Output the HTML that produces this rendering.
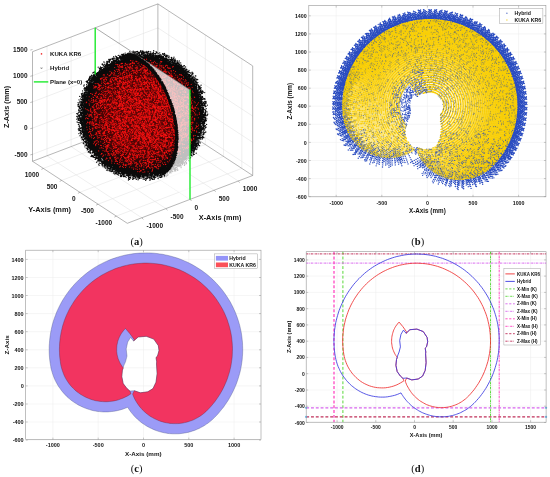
<!DOCTYPE html>
<html><head><meta charset="utf-8"><title>Workspace comparison</title>
<style>html,body{margin:0;padding:0;background:#fff}svg{display:block}text{fill:#141414}</style></head><body>
<svg width="550" height="477" viewBox="0 0 550 477" font-family="'Liberation Sans', sans-serif" font-weight="bold">
<rect width="550" height="477" fill="#fff"/>
<g id="pc">
<path d="M52.9 250.2V439.6M98.2 250.2V439.6M143.5 250.2V439.6M188.8 250.2V439.6M234.1 250.2V439.6M25.7 440.1H261M25.7 422H261M25.7 404H261M25.7 385.9H261M25.7 367.8H261M25.7 349.8H261M25.7 331.7H261M25.7 313.6H261M25.7 295.5H261M25.7 277.5H261M25.7 259.4H261" stroke="#ececec" stroke-width="0.5" fill="none"/>
<path d="M127.7 407.3L125.8 408L123.8 408.8L121.9 409.4L119.9 410L117.9 410.5L115.9 410.9L113.9 411.3L111.9 411.5L109.8 411.7L107.8 411.9L105.7 411.9L103.7 411.9L101.6 411.8L99.6 411.6L97.6 411.4L95.5 411.1L93.5 410.7L91.5 410.2L89.6 409.6L87.6 409L85.7 408.3L83.8 407.6L81.9 406.7L80 405.8L78.2 404.9L76.5 403.8L74.7 402.7L73 401.6L71.4 400.4L69.8 399.1L68.2 397.8L66.7 396.4L65.3 394.9L63.9 393.4L62.6 391.9L61.3 390.3L60.1 388.6L58.9 386.9L57.8 385.2L56.8 383.4L55.8 381.6L54.9 379.8L54.1 377.9L53.4 376L52.7 374.1L52.1 372.1L51.5 370.2L51 368.2L50.7 366.2L50.7 366.2L50.2 363.3L49.8 360.5L49.5 357.7L49.3 354.8L49.2 352L49.2 349.2L49.2 346.3L49.4 343.5L49.6 340.6L49.9 337.8L50.3 335L50.7 332.2L51.3 329.4L51.9 326.6L52.6 323.8L53.4 321.1L54.3 318.4L55.3 315.7L56.3 313.1L57.4 310.4L58.6 307.9L59.9 305.3L61.2 302.8L62.6 300.3L64.1 297.9L65.7 295.5L67.3 293.2L69 290.9L70.8 288.6L72.6 286.5L74.5 284.3L76.5 282.2L78.5 280.2L80.6 278.3L82.7 276.4L84.9 274.6L87.1 272.8L89.4 271.1L91.7 269.5L94.1 267.9L96.6 266.4L99 265L101.6 263.7L104.1 262.4L106.7 261.2L109.3 260.1L112 259L114.7 258.1L117.4 257.2L120.1 256.4L122.9 255.7L125.7 255L128.5 254.5L131.3 254L134.1 253.6L137 253.3L139.8 253.1L142.7 253L145.5 252.9L148.4 252.9L151.2 253L154.1 253.2L156.9 253.5L159.7 253.9L162.6 254.3L165.4 254.9L168.2 255.5L170.9 256.2L173.7 257L176.4 257.8L179.1 258.7L181.8 259.8L184.4 260.9L187 262L189.6 263.3L192.1 264.6L194.6 266L197 267.5L199.4 269L201.8 270.6L204.1 272.3L206.4 274L208.6 275.8L210.7 277.7L212.8 279.6L214.8 281.6L216.8 283.7L218.7 285.8L220.6 288L222.4 290.2L224.1 292.5L225.7 294.8L227.3 297.2L228.8 299.6L230.3 302L231.6 304.5L232.9 307.1L234.1 309.7L235.3 312.3L236.3 314.9L237.3 317.6L238.2 320.3L239 323L239.8 325.8L240.4 328.5L241 331.3L241.5 334.1L241.9 337L242.2 339.8L242.5 342.6L242.6 345.5L242.7 348.3L242.7 351.2L242.6 354L242.4 356.8L242.2 359.7L241.8 362.5L241.4 365.3L240.9 368.1L240.3 370.9L239.6 373.7L238.8 376.4L238 379.1L237.1 381.8L236.1 384.5L235 387.1L233.8 389.7L232.6 392.3L231.3 394.8L229.9 397.3L228.5 399.8L226.9 402.2L225.3 404.5L223.7 406.9L221.9 409.1L220.1 411.3L218.3 413.5L216.4 415.6L214.4 417.6L214.4 417.6L213.1 418.8L211.9 420L210.6 421.1L209.3 422.1L207.9 423.2L206.5 424.1L205.1 425.1L203.7 426L202.2 426.8L200.7 427.6L199.2 428.4L197.6 429.1L196 429.8L194.5 430.4L192.8 430.9L191.2 431.5L189.6 431.9L187.9 432.4L186.3 432.7L184.6 433L182.9 433.3L181.2 433.5L179.5 433.7L177.8 433.8L176.1 433.8L174.4 433.8L172.7 433.8L171 433.7L169.3 433.6L167.6 433.4L166 433.1L164.3 432.8L162.6 432.4L161 432L159.3 431.6L157.7 431.1L156.1 430.5L154.5 429.9L152.9 429.2L151.4 428.5L149.8 427.8L148.3 427L146.9 426.2L145.4 425.3L144 424.3L142.6 423.4L141.2 422.4L139.9 421.3L138.6 420.2L137.3 419.1L136.1 417.9L134.9 416.7L133.7 415.4L132.6 414.1L131.5 412.8L130.5 411.5L129.5 410.1L128.6 408.7L127.7 407.3ZM129.9 391L127 388.6L123.2 383.6L121.8 376.6L122.4 370.1L124 365.1L125.5 361.8L127 356.1L126.2 349L127.7 342L130.6 337.5L133.6 341L138.2 337L146.3 336.3L153.8 339.1L158.3 345.6L159 350.5L157.5 356.1L156 357.5L156.7 361.8L156.5 363.8L157.1 373.7L156 382.2L153 388.6L147.8 391.8L140.3 392.8L134.3 390.7Z" fill="#9b9bf7" fill-rule="evenodd" stroke="#444a7a" stroke-width="0.35"/>
<path d="M131 393.7L129.1 395L127.1 396.2L125 397.2L122.9 398.2L120.7 399L118.5 399.8L116.3 400.4L114 400.9L111.7 401.3L109.4 401.5L107.1 401.7L104.8 401.7L102.5 401.6L100.2 401.4L97.9 401.1L95.6 400.7L93.3 400.1L91.1 399.4L88.9 398.6L86.8 397.7L84.7 396.7L82.7 395.6L80.7 394.4L78.8 393.1L76.9 391.7L75.1 390.2L73.5 388.6L71.8 386.9L70.3 385.2L68.9 383.4L67.6 381.5L66.3 379.5L65.2 377.5L64.2 375.4L63.3 373.3L62.5 371.1L61.8 368.9L61.2 366.7L60.7 364.4L60.7 364.4L60.3 361.4L59.9 358.5L59.6 355.5L59.5 352.6L59.4 349.6L59.5 346.6L59.6 343.6L59.9 340.7L60.2 337.7L60.7 334.8L61.2 331.9L61.9 329L62.6 326.1L63.5 323.2L64.4 320.4L65.5 317.6L66.6 314.9L67.9 312.2L69.2 309.5L70.6 306.9L72.2 304.4L73.8 301.8L75.4 299.4L77.2 297L79.1 294.7L81 292.4L83 290.2L85.1 288.1L87.2 286L89.5 284L91.8 282.1L94.1 280.3L96.5 278.6L99 276.9L101.5 275.3L104.1 273.9L106.8 272.5L109.4 271.2L112.2 270L114.9 268.8L117.7 267.8L120.6 266.9L123.4 266.1L126.3 265.4L129.2 264.7L132.2 264.2L135.1 263.8L138.1 263.5L141.1 263.3L144 263.1L147 263.1L150 263.2L153 263.4L155.9 263.7L158.9 264.1L161.8 264.6L164.8 265.2L167.7 265.9L170.5 266.7L173.4 267.6L176.2 268.6L179 269.6L181.7 270.8L184.4 272.1L187 273.5L189.6 274.9L192.2 276.5L194.7 278.1L197.1 279.8L199.5 281.6L201.8 283.5L204 285.5L206.2 287.5L208.3 289.6L210.4 291.8L212.3 294L214.2 296.3L216 298.7L217.7 301.2L219.3 303.7L220.8 306.2L222.3 308.8L223.7 311.4L224.9 314.1L226.1 316.9L227.2 319.6L228.1 322.5L229 325.3L229.8 328.2L230.5 331.1L231.1 334L231.6 336.9L231.9 339.9L232.2 342.8L232.4 345.8L232.5 348.8L232.4 351.7L232.3 354.7L232.1 357.7L231.7 360.6L231.3 363.6L230.8 366.5L230.1 369.4L229.4 372.3L228.5 375.1L227.6 378L226.6 380.7L225.4 383.5L224.2 386.2L222.9 388.9L221.5 391.5L220 394.1L218.4 396.6L216.7 399L215 401.4L213.1 403.8L211.2 406.1L209.2 408.3L207.1 410.4L207.1 410.4L205.8 411.7L204.4 412.9L203 414.1L201.5 415.2L200 416.2L198.4 417.2L196.8 418.1L195.1 419L193.5 419.8L191.8 420.5L190 421.1L188.3 421.7L186.5 422.2L184.7 422.6L182.9 423L181 423.3L179.2 423.5L177.4 423.6L175.5 423.6L173.7 423.6L171.8 423.5L170 423.4L168.1 423.1L166.3 422.8L164.5 422.4L162.7 421.9L160.9 421.4L159.2 420.8L157.5 420.1L155.8 419.3L154.1 418.5L152.5 417.6L150.9 416.7L149.4 415.7L147.9 414.6L146.4 413.4L145 412.2L143.7 411L142.3 409.7L141.1 408.3L139.9 406.9L138.8 405.5L137.7 403.9L136.7 402.4L135.7 400.8L134.8 399.2L134 397.5L133.3 395.8L132.6 394.1L134.3 390.7L140.3 392.8L147.8 391.8L153 388.6L156 382.2L157.1 373.7L156.5 363.8L156.7 361.8L156 357.5L157.5 356.1L159 350.5L158.3 345.6L153.8 339.1L146.3 336.3L138.2 337L133.6 341L134.1 339.4L129.9 333.7L125.5 328.5L125.5 328.5L124.4 329.6L123.4 330.7L122.5 331.9L121.6 333.1L120.8 334.4L120.1 335.7L119.4 337L118.8 338.4L118.3 339.8L117.8 341.2L117.5 342.7L117.2 344.1L116.9 345.6L116.8 347.1L116.7 348.6L116.7 350.1L116.7 351.6L116.9 353L117.1 354.5L117.4 356L117.8 357.4L118.2 358.9L118.8 360.3L119.4 361.6L120 363L120.8 364.3L121.6 365.6L122.4 366.8L123.3 368L122.4 370.1L121.8 376.6L123.2 383.6L127 388.6L129.9 391Z" fill="#f23460" stroke="#5a2030" stroke-width="0.35"/>
<rect x="25.7" y="250.2" width="235.3" height="189.4" fill="none" stroke="#969696" stroke-width="0.6"/>
<text x="52.9" y="447.4" font-size="5.5" text-anchor="middle" >-1000</text>
<text x="98.2" y="447.4" font-size="5.5" text-anchor="middle" >-500</text>
<text x="143.5" y="447.4" font-size="5.5" text-anchor="middle" >0</text>
<text x="188.8" y="447.4" font-size="5.5" text-anchor="middle" >500</text>
<text x="234.1" y="447.4" font-size="5.5" text-anchor="middle" >1000</text>
<text x="23.7" y="442.3" font-size="5.5" text-anchor="end" >-600</text>
<text x="23.7" y="424.2" font-size="5.5" text-anchor="end" >-400</text>
<text x="23.7" y="406.1" font-size="5.5" text-anchor="end" >-200</text>
<text x="23.7" y="388.1" font-size="5.5" text-anchor="end" >0</text>
<text x="23.7" y="370" font-size="5.5" text-anchor="end" >200</text>
<text x="23.7" y="351.9" font-size="5.5" text-anchor="end" >400</text>
<text x="23.7" y="333.9" font-size="5.5" text-anchor="end" >600</text>
<text x="23.7" y="315.8" font-size="5.5" text-anchor="end" >800</text>
<text x="23.7" y="297.7" font-size="5.5" text-anchor="end" >1000</text>
<text x="23.7" y="279.7" font-size="5.5" text-anchor="end" >1200</text>
<text x="23.7" y="261.6" font-size="5.5" text-anchor="end" >1400</text>
<path d="M52.9 439.6v-2M52.9 250.2v2M98.2 439.6v-2M98.2 250.2v2M143.5 439.6v-2M143.5 250.2v2M188.8 439.6v-2M188.8 250.2v2M234.1 439.6v-2M234.1 250.2v2M25.7 440.1h2M261 440.1h-2M25.7 422h2M261 422h-2M25.7 404h2M261 404h-2M25.7 385.9h2M261 385.9h-2M25.7 367.8h2M261 367.8h-2M25.7 349.8h2M261 349.8h-2M25.7 331.7h2M261 331.7h-2M25.7 313.6h2M261 313.6h-2M25.7 295.5h2M261 295.5h-2M25.7 277.5h2M261 277.5h-2M25.7 259.4h2M261 259.4h-2" stroke="#969696" stroke-width="0.5" fill="none"/>
<text x="143.3" y="455.9" font-size="6.25" text-anchor="middle" >X-Axis (mm)</text>
<text x="8.9" y="344.9" font-size="6.25" text-anchor="middle" transform="rotate(-90 8.9 344.9)">Z-Axis</text>
<rect x="214.7" y="253.9" width="42.9" height="14.5" fill="#fff" stroke="#8a8a8a" stroke-width="0.4"/>
<rect x="215.9" y="255.9" width="12.1" height="4.7" fill="#9494f8"/>
<rect x="215.9" y="262.5" width="12.1" height="4.7" fill="#fb5058"/>
<text x="229.2" y="260.2" font-size="5.2" text-anchor="start" >Hybrid</text>
<text x="229.2" y="267" font-size="5.2" text-anchor="start" >KUKA KR6</text>
</g>
<g id="pd">
<path d="M337.1 251.7V422.2M375.8 251.7V422.2M414.5 251.7V422.2M453.2 251.7V422.2M491.9 251.7V422.2M530.6 251.7V422.2M306.2 422.5H546.1M306.2 406.2H546.1M306.2 390H546.1M306.2 373.7H546.1M306.2 357.4H546.1M306.2 341.2H546.1M306.2 324.9H546.1M306.2 308.7H546.1M306.2 292.4H546.1M306.2 276.1H546.1M306.2 259.9H546.1" stroke="#ececec" stroke-width="0.5" fill="none"/>
<path d="M342.9 251.7V422.2" stroke="#59d83a" stroke-width="1.0" stroke-dasharray="2.9 1.9" fill="none"/>
<path d="M490.5 251.7V422.2" stroke="#59d83a" stroke-width="1.0" stroke-dasharray="2.2 0.8 0.7 0.8" fill="none"/>
<path d="M306.2 407.8H546.1" stroke="#d866ee" stroke-width="1.2" stroke-dasharray="2.9 1.9" fill="none"/>
<path d="M306.2 263.1H546.1" stroke="#d866ee" stroke-width="1.0" stroke-dasharray="2.2 0.8 0.7 0.8" fill="none"/>
<path d="M334 251.7V422.2" stroke="#ff40c0" stroke-width="1.25" stroke-dasharray="2.9 1.9" fill="none"/>
<path d="M499.2 251.7V422.2" stroke="#ff40c0" stroke-width="1.0" stroke-dasharray="2.2 0.8 0.7 0.8" fill="none"/>
<path d="M306.2 416.9H546.1" stroke="#c0305a" stroke-width="1.2" stroke-dasharray="2.9 1.9" fill="none"/>
<path d="M306.2 253.9H546.1" stroke="#c0305a" stroke-width="1.0" stroke-dasharray="2.2 0.8 0.7 0.8" fill="none"/>
<path d="M403.9 380.8L402.2 381.9L400.5 382.9L398.7 383.9L396.9 384.8L395.1 385.5L393.2 386.2L391.3 386.7L389.3 387.2L387.4 387.5L385.4 387.8L383.4 387.9L381.4 387.9L379.5 387.8L377.5 387.7L375.5 387.4L373.6 387L371.6 386.5L369.7 385.9L367.9 385.2L366.1 384.4L364.3 383.5L362.5 382.5L360.8 381.4L359.2 380.2L357.6 378.9L356.1 377.6L354.7 376.1L353.3 374.6L352 373.1L350.8 371.4L349.6 369.7L348.6 367.9L347.6 366.1L346.8 364.3L346 362.3L345.3 360.4L344.7 358.4L344.2 356.4L343.8 354.3L343.8 354.3L343.4 351.7L343.1 349L342.9 346.4L342.7 343.7L342.7 341L342.7 338.4L342.8 335.7L343.1 333L343.4 330.4L343.7 327.7L344.2 325.1L344.8 322.5L345.4 319.9L346.2 317.3L347 314.8L347.9 312.3L348.8 309.8L349.9 307.4L351 305L352.3 302.6L353.6 300.3L354.9 298.1L356.4 295.9L357.9 293.7L359.5 291.6L361.1 289.6L362.8 287.6L364.6 285.7L366.4 283.8L368.3 282L370.3 280.3L372.3 278.7L374.4 277.1L376.5 275.6L378.7 274.2L380.9 272.9L383.1 271.6L385.4 270.5L387.7 269.4L390.1 268.4L392.5 267.5L394.9 266.6L397.4 265.9L399.8 265.2L402.3 264.7L404.8 264.2L407.3 263.8L409.9 263.5L412.4 263.3L415 263.2L417.5 263.2L420.1 263.3L422.6 263.5L425.1 263.7L427.7 264.1L430.2 264.5L432.7 265.1L435.1 265.7L437.6 266.4L440 267.2L442.4 268.1L444.8 269.1L447.1 270.2L449.4 271.3L451.7 272.5L453.9 273.8L456.1 275.2L458.2 276.7L460.3 278.2L462.3 279.9L464.3 281.6L466.2 283.3L468.1 285.2L469.9 287.1L471.6 289L473.3 291L474.9 293.1L476.4 295.3L477.9 297.4L479.3 299.7L480.6 302L481.8 304.3L483 306.7L484 309.1L485 311.6L486 314.1L486.8 316.6L487.6 319.2L488.2 321.8L488.8 324.4L489.3 327L489.7 329.6L490 332.3L490.3 334.9L490.4 337.6L490.5 340.3L490.5 343L490.4 345.6L490.2 348.3L489.9 351L489.5 353.6L489 356.2L488.5 358.9L487.9 361.4L487.1 364L486.3 366.6L485.4 369.1L484.5 371.5L483.4 374L482.3 376.4L481.1 378.7L479.8 381L478.5 383.3L477 385.5L475.5 387.7L474 389.8L472.3 391.8L470.6 393.8L468.8 395.8L468.8 395.8L467.7 396.9L466.5 398L465.3 399.1L464 400L462.7 401L461.4 401.9L460 402.7L458.6 403.5L457.2 404.2L455.7 404.8L454.2 405.4L452.7 405.9L451.2 406.4L449.7 406.7L448.1 407.1L446.6 407.3L445 407.5L443.4 407.6L441.8 407.7L440.3 407.6L438.7 407.6L437.1 407.4L435.5 407.2L434 406.9L432.4 406.5L430.9 406.1L429.4 405.6L427.9 405.1L426.4 404.5L425 403.8L423.6 403L422.2 402.2L420.8 401.4L419.5 400.5L418.2 399.5L417 398.5L415.8 397.4L414.6 396.3L413.5 395.1L412.4 393.9L411.4 392.6L410.5 391.3L409.5 389.9L408.7 388.5L407.9 387.1L407.1 385.7L406.4 384.2L405.8 382.7L405.2 381.1L406.7 378L411.8 379.9L418.2 379L422.6 376.1L425.2 370.4L426.1 362.7L425.6 353.8L425.8 352L425.2 348.2L426.5 346.9L427.7 341.8L427.1 337.4L423.3 331.6L416.9 329.1L409.9 329.7L406.1 333.3L406.5 331.8L402.9 326.7L399.1 322.1L399.1 322.1L398.2 323L397.4 324.1L396.6 325.1L395.8 326.2L395.1 327.3L394.5 328.5L393.9 329.7L393.4 330.9L393 332.2L392.6 333.5L392.3 334.8L392 336.1L391.8 337.4L391.7 338.8L391.6 340.1L391.6 341.5L391.6 342.8L391.8 344.1L392 345.5L392.2 346.8L392.5 348.1L392.9 349.4L393.4 350.6L393.9 351.9L394.5 353.1L395.1 354.3L395.8 355.4L396.5 356.5L397.3 357.6L396.5 359.5L395.9 365.3L397.2 371.6L400.4 376.1L402.9 378.3Z" fill="none" stroke="#ee3030" stroke-width="0.85"/>
<path d="M401 392.9L399.3 393.6L397.7 394.3L396 394.9L394.4 395.4L392.7 395.8L390.9 396.2L389.2 396.5L387.5 396.8L385.7 397L384 397.1L382.2 397.1L380.5 397.1L378.7 397L377 396.8L375.3 396.6L373.5 396.3L371.8 396L370.1 395.5L368.4 395.1L366.7 394.5L365.1 393.9L363.5 393.2L361.9 392.5L360.3 391.6L358.8 390.8L357.2 389.8L355.8 388.9L354.3 387.8L352.9 386.7L351.5 385.6L350.2 384.4L348.9 383.1L347.7 381.8L346.5 380.5L345.4 379.1L344.3 377.6L343.2 376.1L342.2 374.6L341.3 373.1L340.4 371.5L339.6 369.8L338.9 368.2L338.1 366.5L337.5 364.8L336.9 363.1L336.4 361.3L335.9 359.5L335.5 357.7L335.2 355.9L335.2 355.9L334.8 353.4L334.5 350.9L334.2 348.3L334.1 345.8L334 343.2L333.9 340.6L334 338.1L334.1 335.5L334.3 333L334.5 330.4L334.9 327.9L335.3 325.3L335.7 322.8L336.3 320.3L336.9 317.9L337.6 315.4L338.3 313L339.1 310.5L340 308.2L341 305.8L342 303.5L343.1 301.2L344.2 298.9L345.4 296.7L346.7 294.5L348 292.4L349.4 290.3L350.9 288.2L352.4 286.2L353.9 284.2L355.6 282.3L357.2 280.4L359 278.6L360.7 276.9L362.6 275.2L364.4 273.5L366.3 271.9L368.3 270.4L370.3 268.9L372.3 267.5L374.4 266.2L376.5 264.9L378.7 263.7L380.9 262.6L383.1 261.5L385.3 260.5L387.6 259.5L389.9 258.7L392.2 257.9L394.5 257.2L396.9 256.5L399.3 256L401.7 255.5L404.1 255L406.5 254.7L408.9 254.4L411.4 254.2L413.8 254.1L416.2 254L418.7 254.1L421.1 254.2L423.5 254.3L426 254.6L428.4 254.9L430.8 255.3L433.2 255.8L435.6 256.3L437.9 257L440.3 257.7L442.6 258.4L444.9 259.3L447.2 260.2L449.4 261.2L451.7 262.2L453.9 263.4L456 264.5L458.1 265.8L460.2 267.1L462.3 268.5L464.3 269.9L466.3 271.5L468.2 273L470.1 274.7L471.9 276.3L473.7 278.1L475.4 279.9L477.1 281.7L478.8 283.6L480.3 285.6L481.9 287.6L483.3 289.6L484.7 291.7L486.1 293.9L487.4 296L488.6 298.2L489.8 300.5L490.9 302.8L491.9 305.1L492.9 307.5L493.8 309.8L494.6 312.2L495.4 314.7L496.1 317.1L496.7 319.6L497.3 322.1L497.8 324.6L498.2 327.1L498.6 329.7L498.8 332.2L499 334.8L499.2 337.3L499.2 339.9L499.2 342.4L499.1 345L499 347.6L498.8 350.1L498.5 352.6L498.1 355.2L497.7 357.7L497.2 360.2L496.6 362.7L495.9 365.2L495.2 367.6L494.4 370L493.6 372.4L492.7 374.8L491.7 377.2L490.6 379.5L489.5 381.7L488.3 384L487.1 386.2L485.8 388.4L484.4 390.5L483 392.6L481.5 394.6L480 396.6L478.4 398.5L476.7 400.4L475 402.3L475 402.3L474 403.3L472.9 404.3L471.8 405.3L470.7 406.3L469.5 407.2L468.3 408.1L467.1 409L465.9 409.8L464.6 410.5L463.3 411.2L462 411.9L460.7 412.6L459.4 413.2L458 413.7L456.7 414.2L455.3 414.7L453.9 415.1L452.5 415.5L451 415.8L449.6 416.1L448.2 416.4L446.7 416.5L445.3 416.7L443.8 416.8L442.4 416.8L440.9 416.8L439.5 416.8L438 416.7L436.6 416.6L435.1 416.4L433.7 416.2L432.2 415.9L430.8 415.6L429.4 415.2L428 414.8L426.6 414.3L425.2 413.8L423.9 413.3L422.5 412.7L421.2 412.1L419.9 411.4L418.6 410.7L417.4 409.9L416.1 409.1L414.9 408.3L413.7 407.4L412.5 406.5L411.4 405.6L410.3 404.6L409.2 403.5L408.2 402.5L407.1 401.4L406.2 400.3L405.2 399.1L404.3 397.9L403.4 396.7L402.6 395.5L401.7 394.2L401 392.9ZM402.9 378.3L400.4 376.1L397.2 371.6L395.9 365.3L396.5 359.5L397.9 355L399.1 352L400.4 346.9L399.7 340.5L401 334.2L403.5 330.1L406.1 333.3L409.9 329.7L416.9 329.1L423.3 331.6L427.1 337.4L427.7 341.8L426.5 346.9L425.2 348.2L425.8 352L425.6 353.8L426.1 362.7L425.2 370.4L422.6 376.1L418.2 379L411.8 379.9L406.7 378Z" fill="none" stroke="#3a3ae0" stroke-width="0.85"/>
<circle cx="306.2" cy="407.8" r="1.1" fill="#5ab0e8"/>
<circle cx="546.1" cy="407.8" r="1.1" fill="#5ab0e8"/>
<circle cx="306.2" cy="416.9" r="1.1" fill="#5ab0e8"/>
<circle cx="546.1" cy="416.9" r="1.1" fill="#5ab0e8"/>
<rect x="306.2" y="251.7" width="239.9" height="170.5" fill="none" stroke="#969696" stroke-width="0.6"/>
<text x="337.1" y="429.4" font-size="4.95" text-anchor="middle" >-1000</text>
<text x="375.8" y="429.4" font-size="4.95" text-anchor="middle" >-500</text>
<text x="414.5" y="429.4" font-size="4.95" text-anchor="middle" >0</text>
<text x="453.2" y="429.4" font-size="4.95" text-anchor="middle" >500</text>
<text x="491.9" y="429.4" font-size="4.95" text-anchor="middle" >1000</text>
<text x="530.6" y="429.4" font-size="4.95" text-anchor="middle" >1500</text>
<text x="304.7" y="424.5" font-size="4.95" text-anchor="end" >-600</text>
<text x="304.7" y="408.2" font-size="4.95" text-anchor="end" >-400</text>
<text x="304.7" y="391.9" font-size="4.95" text-anchor="end" >-200</text>
<text x="304.7" y="375.7" font-size="4.95" text-anchor="end" >0</text>
<text x="304.7" y="359.4" font-size="4.95" text-anchor="end" >200</text>
<text x="304.7" y="343.2" font-size="4.95" text-anchor="end" >400</text>
<text x="304.7" y="326.9" font-size="4.95" text-anchor="end" >600</text>
<text x="304.7" y="310.6" font-size="4.95" text-anchor="end" >800</text>
<text x="304.7" y="294.4" font-size="4.95" text-anchor="end" >1000</text>
<text x="304.7" y="278.1" font-size="4.95" text-anchor="end" >1200</text>
<text x="304.7" y="261.9" font-size="4.95" text-anchor="end" >1400</text>
<path d="M337.1 422.2v-2M337.1 251.7v2M375.8 422.2v-2M375.8 251.7v2M414.5 422.2v-2M414.5 251.7v2M453.2 422.2v-2M453.2 251.7v2M491.9 422.2v-2M491.9 251.7v2M530.6 422.2v-2M530.6 251.7v2M306.2 422.5h2M546.1 422.5h-2M306.2 406.2h2M546.1 406.2h-2M306.2 390h2M546.1 390h-2M306.2 373.7h2M546.1 373.7h-2M306.2 357.4h2M546.1 357.4h-2M306.2 341.2h2M546.1 341.2h-2M306.2 324.9h2M546.1 324.9h-2M306.2 308.7h2M546.1 308.7h-2M306.2 292.4h2M546.1 292.4h-2M306.2 276.1h2M546.1 276.1h-2M306.2 259.9h2M546.1 259.9h-2" stroke="#969696" stroke-width="0.5" fill="none"/>
<text x="426.1" y="436.7" font-size="5.6" text-anchor="middle" >X-Axis (mm)</text>
<text x="291.5" y="336.9" font-size="5.6" text-anchor="middle" transform="rotate(-90 291.5 336.9)">Z-Axis (mm)</text>
<rect x="503.9" y="268.6" width="36.9" height="76.4" fill="#fff" stroke="#8a8a8a" stroke-width="0.4"/>
<path d="M505.4 273.9H514.8" stroke="#ee3030" stroke-width="0.9" stroke-dasharray="" fill="none"/>
<text x="517" y="275.5" font-size="4.5" text-anchor="start" >KUKA KR6</text>
<path d="M505.4 281.4H514.8" stroke="#3a3ae0" stroke-width="0.9" stroke-dasharray="" fill="none"/>
<text x="517" y="283" font-size="4.5" text-anchor="start" >Hybrid</text>
<path d="M505.4 288.9H514.8" stroke="#59d83a" stroke-width="0.9" stroke-dasharray="2.2 1.6" fill="none"/>
<text x="517" y="290.5" font-size="4.5" text-anchor="start" >X-Min (K)</text>
<path d="M505.4 296.3H514.8" stroke="#59d83a" stroke-width="0.9" stroke-dasharray="2.2 1 0.6 1" fill="none"/>
<text x="517" y="297.9" font-size="4.5" text-anchor="start" >X-Max (K)</text>
<path d="M505.4 303.8H514.8" stroke="#d866ee" stroke-width="0.9" stroke-dasharray="2.2 1.6" fill="none"/>
<text x="517" y="305.4" font-size="4.5" text-anchor="start" >Z-Min (K)</text>
<path d="M505.4 311.3H514.8" stroke="#d866ee" stroke-width="0.9" stroke-dasharray="2.2 1 0.6 1" fill="none"/>
<text x="517" y="312.9" font-size="4.5" text-anchor="start" >Z-Max (K)</text>
<path d="M505.4 318.8H514.8" stroke="#ff40c0" stroke-width="0.9" stroke-dasharray="2.2 1.6" fill="none"/>
<text x="517" y="320.4" font-size="4.5" text-anchor="start" >X-Min (H)</text>
<path d="M505.4 326.3H514.8" stroke="#ff40c0" stroke-width="0.9" stroke-dasharray="2.2 1 0.6 1" fill="none"/>
<text x="517" y="327.9" font-size="4.5" text-anchor="start" >X-Max (H)</text>
<path d="M505.4 333.7H514.8" stroke="#c0305a" stroke-width="0.9" stroke-dasharray="2.2 1.6" fill="none"/>
<text x="517" y="335.3" font-size="4.5" text-anchor="start" >Z-Min (H)</text>
<path d="M505.4 341.2H514.8" stroke="#c0305a" stroke-width="0.9" stroke-dasharray="2.2 1 0.6 1" fill="none"/>
<text x="517" y="342.8" font-size="4.5" text-anchor="start" >Z-Max (H)</text>
</g>
<text x="136.6" y="245.2" font-size="10.6" text-anchor="middle" font-family="'Liberation Serif', serif" font-weight="normal" fill="#111">(<tspan font-weight="bold">a</tspan>)</text>
<text x="417.7" y="245.2" font-size="10.6" text-anchor="middle" font-family="'Liberation Serif', serif" font-weight="normal" fill="#111">(<tspan font-weight="bold">b</tspan>)</text>
<text x="136.6" y="471.6" font-size="10.6" text-anchor="middle" font-family="'Liberation Serif', serif" font-weight="normal" fill="#111">(<tspan font-weight="bold">c</tspan>)</text>
<text x="417.7" y="471.9" font-size="10.6" text-anchor="middle" font-family="'Liberation Serif', serif" font-weight="normal" fill="#111">(<tspan font-weight="bold">d</tspan>)</text>
<g id="pa">
<path d="M141.8 217.8L47 155.8M116.4 216.1L241.8 168.4M47 155.8L47 46.2M241.8 168.4L241.8 58.7M165.9 208.6L71.1 146.6M98.1 204.2L223.5 156.4M71.1 146.6L71.1 37M223.5 156.4L223.5 46.8M190 199.4L95.2 137.4M79.9 192.3L205.3 144.5M95.2 137.4L95.2 27.8M205.3 144.5L205.3 34.9M214.1 190.2L119.3 128.2M61.7 180.4L187.1 132.6M119.3 128.2L119.3 18.6M187.1 132.6L187.1 23M238.2 181L143.4 119M43.4 168.4L168.8 120.7M143.4 119L143.4 9.4M168.8 120.7L168.8 11M32.5 154.3L157.9 106.5M157.9 106.5L252.7 168.5M32.5 128.1L157.9 80.3M157.9 80.3L252.7 142.3M32.5 101.9L157.9 54.1M157.9 54.1L252.7 116.1M32.5 75.7L157.9 27.9M157.9 27.9L252.7 89.9" stroke="#dedede" stroke-width="0.5" fill="none"/>
<path d="M32.5 161.3L127.3 223.3M127.3 223.3L252.7 175.5M252.7 175.5L157.9 113.5M157.9 113.5L32.5 161.3M32.5 161.3L32.5 51.7M252.7 175.5L252.7 65.9M157.9 113.5L157.9 3.9M32.5 51.7L157.9 3.9M157.9 3.9L252.7 65.9" stroke="#7a7a7a" stroke-width="0.55" fill="none"/>
<text x="112.2" y="224.5" font-size="6.5" text-anchor="end" >-1000</text>
<text x="146.4" y="228.1" font-size="6.5" text-anchor="start" >-1000</text>
<text x="93.9" y="212.6" font-size="6.5" text-anchor="end" >-500</text>
<text x="170.5" y="218.9" font-size="6.5" text-anchor="start" >-500</text>
<text x="75.7" y="200.7" font-size="6.5" text-anchor="end" >0</text>
<text x="194.6" y="209.7" font-size="6.5" text-anchor="start" >0</text>
<text x="57.5" y="188.8" font-size="6.5" text-anchor="end" >500</text>
<text x="218.7" y="200.5" font-size="6.5" text-anchor="start" >500</text>
<text x="39.2" y="176.8" font-size="6.5" text-anchor="end" >1000</text>
<text x="242.8" y="191.3" font-size="6.5" text-anchor="start" >1000</text>
<text x="27.5" y="156.6" font-size="6.5" text-anchor="end" >-500</text>
<text x="27.5" y="130.4" font-size="6.5" text-anchor="end" >0</text>
<text x="27.5" y="104.2" font-size="6.5" text-anchor="end" >500</text>
<text x="27.5" y="78" font-size="6.5" text-anchor="end" >1000</text>
<text x="27.5" y="51.8" font-size="6.5" text-anchor="end" >1500</text>
<path d="M116.4 216.1L114.4 217.1M141.8 217.8L143.4 219.4M98.1 204.2L96.1 205.2M165.9 208.6L167.5 210.2M79.9 192.3L77.9 193.3M190 199.4L191.6 201M61.7 180.4L59.7 181.4M214.1 190.2L215.7 191.8M43.4 168.4L41.4 169.4M238.2 181L239.8 182.6M32.5 154.3L30.3 154.9M32.5 128.1L30.3 128.7M32.5 101.9L30.3 102.5M32.5 75.7L30.3 76.3M32.5 49.5L30.3 50.1" stroke="#7a7a7a" stroke-width="0.5" fill="none"/>
<text x="49.6" y="211.6" font-size="7.4" text-anchor="middle" >Y-Axis (mm)</text>
<text x="220.1" y="219.8" font-size="7.3" text-anchor="middle" >X-Axis (mm)</text>
<text x="9.4" y="107" font-size="7.3" text-anchor="middle" transform="rotate(-90 9.4 107)">Z-Axis (mm)</text>
<radialGradient id="sg" gradientUnits="userSpaceOnUse" cx="142.3" cy="115.2" r="60"><stop offset="0" stop-color="#620606"/><stop offset="0.65" stop-color="#4a0505"/><stop offset="0.93" stop-color="#0a0a0a"/></radialGradient>
<path d="M83.2 115.5L83.4 119.6L83.8 123.7L84.5 127.7L85.5 131.7L86.8 135.6L88.3 139.4L90.1 143.1L92.2 146.6L94.5 150L97 153.3L99.8 156.3L102.8 159.1L105.9 161.8L109.3 164.2L112.8 166.3L116.4 168.2L120.2 169.9L124 171.3L128 172.4L132 173.2L136.1 173.8L140.2 174.1L144.4 174L148.5 173.7L152.6 173.1L156.6 172.3L160.6 171.1L164.4 169.7L168.2 168L171.8 166.1L175.3 163.9L178.7 161.4L181.8 158.8L184.8 155.9L187.6 152.8L190.1 149.6L192.4 146.2L194.5 142.6L196.3 138.9L197.8 135.1L199.1 131.2L200.1 127.2L200.8 123.1L201.2 119L201.4 114.9L201.2 110.8L200.8 106.7L200.1 102.7L199.1 98.7L197.8 94.8L196.3 91L194.5 87.3L192.4 83.8L190.1 80.4L187.6 77.1L184.8 74.1L181.8 71.3L178.7 68.6L175.3 66.2L171.8 64.1L168.2 62.2L164.4 60.5L160.6 59.1L156.6 58L152.6 57.2L148.5 56.6L144.4 56.3L140.2 56.4L136.1 56.7L132 57.3L128 58.1L124 59.3L120.2 60.7L116.4 62.4L112.8 64.3L109.3 66.5L105.9 69L102.8 71.6L99.8 74.5L97 77.6L94.5 80.8L92.2 84.2L90.1 87.8L88.3 91.5L86.8 95.3L85.5 99.2L84.5 103.2L83.8 107.3L83.4 111.4Z" fill="url(#sg)"/>
<path transform="scale(.1)" d="m1298 516h0m32 1h0m2 3h0m0-9h0m13 9h0m10 1h0m1-3h0m10-1h0m5 5h0m5-8h0m8 9h0m17 0h0m1-7h0m5-9h0m2 6h0m10 11h0m3-16h0m0 14h0m9-7h0m1 0h0m1 4h0m2 3h0m10 1h0m3-1h0m2-3h0m4 2h0m9 3h0m4-11h0m5 8h0m7 1h0m1 2h0m3-7h0m2-3h0m15 4h0m7 1h0m30-12h0m0 4h0m24 5h0m9 7h0m-352 22h0m8-2h0m4 3h0m1 2h0m0-1h0m7-7h0m14-9h0m2 16h0m6 2h0m8-3h0m3-8h0m4-5h0m10 14h0m1-15h0m3 9h0m2-5h0m3-3h0m7-5h0m3 14h0m1-11h0m5 9h0m8-8h0m6 13h0m0-2h0m5-1h0m1-16h0m2 23h0m4-22h0m0 16h0m1-16h0m5 11h0m1-5h0m5 3h0m2 8h0m0 2h0m0 1h0m2 1h0m1-22h0m2 20h0m1 3h0m5-10h0m1 8h0m3-4h0m0 5h0m5-12h0m4 7h0m2-5h0m4-2h0m6 13h0m0-23h0m4 6h0m2-6h0m0 9h0m1 14h0m2-9h0m3 7h0m16-22h0m0 12h0m2-5h0m3 0h0m1 9h0m1-14h0m3 12h0m3-3h0m3-4h0m4 1h0m1-4h0m0 17h0m0-16h0m1 18h0m1-23h0m2 11h0m3 13h0m0-14h0m1-6h0m2 20h0m7-1h0m3-2h0m4-7h0m8-11h0m5 16h0m3-6h0m0 8h0m1 3h0m2-10h0m1 2h0m2-6h0m5 4h0m8-2h0m1 5h0m0 2h0m3 3h0m0-4h0m2 5h0m3-8h0m1 1h0m1 5h0m1-13h0m1 12h0m0 2h0m1-11h0m1 5h0m1 6h0m3-14h0m4 15h0m5 1h0m4-14h0m5 12h0m0-21h0m2 19h0m1-9h0m0-10h0m10 12h0m6-2h0m9-3h0m3-3h0m19 5h0m15 13h0m1-19h0m11 18h0m18-10h0m2 5h0m4 5h0m3-8h0m10-5h0m2 8h0m3 5h0m-513 19h0m18-5h0m8 13h0m1-7h0m0 2h0m19-15h0m13 12h0m1-6h0m6 10h0m5-1h0m4-17h0m9 19h0m4-4h0m4-13h0m1 13h0m4 1h0m4-7h0m1 0h0m1-5h0m2 10h0m2 4h0m0-9h0m1-8h0m0 18h0m2-4h0m7-13h0m0 16h0m7-9h0m0 7h0m1-15h0m1 12h0m3 6h0m0-17h0m1 13h0m3-13h0m0 16h0m2 1h0m1-2h0m1-9h0m2-5h0m1 16h0m3-17h0m5-2h0m1 13h0m1 5h0m4-2h0m1-9h0m1 2h0m1 10h0m0-17h0m1 0h0m1-3h0m2 8h0m3-3h0m1-1h0m1 17h0m2-8h0m0 8h0m0-22h0m2 12h0m1 12h0m1-4h0m0 1h0m1-3h0m1-1h0m0-5h0m3 10h0m1-6h0m0-12h0m1 8h0m0 9h0m0-15h0m1 17h0m0-20h0m3 5h0m4 4h0m3-7h0m1 15h0m0-13h0m0 11h0m2 5h0m0-14h0m2-8h0m6 22h0m1-17h0m2-3h0m2 6h0m1-3h0m2 5h0m1-7h0m0 10h0m4-8h0m1 9h0m4 0h0m1 5h0m2-14h0m1 12h0m1-16h0m2 15h0m1-11h0m9 1h0m0 15h0m2-3h0m0-8h0m4 4h0m1-12h0m1 16h0m2-18h0m1 0h0m0 8h0m2 10h0m0-18h0m2 13h0m3 9h0m2 0h0m0-9h0m1-10h0m1 13h0m1 3h0m0-19h0m3 4h0m2 6h0m1 12h0m1-21h0m1 20h0m0-20h0m1 16h0m1 6h0m0-20h0m2 12h0m1-11h0m1 3h0m3-8h0m1 14h0m2 6h0m10 2h0m1-21h0m1 2h0m1 7h0m8-4h0m4-3h0m1 2h0m4 8h0m3-5h0m4-8h0m1 16h0m5-4h0m0-10h0m0 8h0m2-3h0m2 12h0m3-7h0m1-1h0m1 8h0m0-12h0m1-4h0m0 3h0m2 7h0m1-11h0m1 14h0m2-8h0m0-4h0m2 11h0m4 3h0m1 3h0m1-11h0m3 8h0m0-15h0m3 6h0m1-7h0m2 9h0m2-5h0m6-3h0m0-1h0m1 16h0m0-10h0m1 8h0m2-2h0m1-14h0m1 22h0m0-11h0m1-4h0m2-2h0m0 8h0m0 11h0m4-22h0m1 18h0m3 3h0m3-10h0m2 0h0m0-9h0m2 0h0m2 15h0m2-6h0m3 0h0m4 4h0m0 6h0m1-10h0m1-11h0m1 7h0m3-2h0m1 0h0m6 4h0m1 4h0m2-2h0m3 7h0m0 0h0m1-20h0m2 5h0m2 11h0m0 4h0m1-3h0m1-6h0m1 6h0m1-12h0m3 18h0m2 1h0m0 0h0m3-14h0m1 3h0m2 5h0m4 6h0m1-1h0m1-19h0m1-1h0m1 21h0m1-11h0m2-6h0m4-1h0m1 12h0m3-12h0m0 7h0m5-5h0m0 16h0m1-5h0m0 3h0m8-12h0m2 8h0m1-3h0m1 4h0m2-11h0m6 16h0m0-13h0m1 11h0m3-1h0m3-3h0m6 1h0m2-4h0m1 6h0m9-16h0m12 8h0m0 5h0m3-12h0m2-3h0m0 4h0m1 12h0m5-2h0m2-15h0m2 1h0m3 7h0m14 0h0m4 10h0m48 2h0m-652 22h0m13-3h0m9 4h0m11-10h0m6 10h0m4-13h0m8-1h0m1 7h0m1-8h0m10 8h0m12-7h0m2 13h0m0-16h0m5 12h0m1-1h0m2-14h0m0 23h0m1-3h0m3-10h0m0 9h0m1 4h0m3-2h0m0 1h0m1-18h0m1 17h0m0-10h0m10-10h0m0-1h0m6 10h0m2 5h0m2 3h0m8-11h0m2-7h0m1 11h0m2-10h0m0 9h0m1-3h0m4-2h0m2-3h0m1 1h0m7 7h0m2-10h0m0 5h0m1 6h0m3 2h0m1-1h0m0-9h0m3 7h0m1-4h0m0 13h0m2-9h0m1 2h0m1 5h0m0-3h0m1-6h0m2 0h0m2 0h0m2 4h0m6-10h0m2 11h0m9-4h0m0 5h0m2-10h0m0 3h0m8 10h0m0-2h0m0-3h0m1-9h0m1-3h0m0 15h0m1-14h0m2 11h0m3 1h0m2-6h0m1 9h0m5-3h0m4-6h0m0 6h0m2-11h0m0 9h0m1-3h0m4-1h0m0-1h0m1 0h0m2 2h0m6-3h0m3 0h0m0-3h0m5-1h0m14 6h0m1-4h0m5 1h0m0 2h0m12-5h0m20 1h0m4 0h0m4-1h0m17-1h0m32 0h0m9 1h0m7-1h0m6 1h0m8 0h0m4 0h0m14-1h0m8 2h0m9 2h0m10-2h0m4 4h0m5-4h0m2-1h0m2 4h0m7-3h0m1 7h0m3-8h0m0 4h0m6 4h0m1-1h0m4-6h0m3 9h0m0-11h0m0 5h0m2 6h0m1-10h0m1 2h0m0 7h0m2-3h0m5-7h0m3 4h0m1-4h0m1 16h0m4-8h0m0-2h0m1 9h0m0-14h0m1 12h0m1-5h0m1 4h0m2 5h0m5-15h0m3 6h0m0 10h0m1 0h0m3 4h0m1-17h0m0 9h0m1-10h0m2 5h0m3-8h0m3 15h0m1 3h0m9-9h0m1 8h0m2 3h0m0-5h0m2-1h0m2-15h0m1 7h0m1 2h0m1 2h0m3-4h0m2 4h0m0 0h0m1 4h0m0 0h0m3 8h0m0 0h0m2-23h0m3 10h0m0-2h0m0 2h0m0 3h0m6 1h0m2-1h0m0-8h0m0 11h0m2-15h0m2 22h0m4-14h0m1 9h0m2-5h0m3 3h0m0 8h0m0-15h0m0 9h0m3-10h0m0 13h0m5-9h0m0 6h0m0 5h0m0-5h0m1 3h0m3-14h0m2 13h0m2-11h0m2 13h0m0 0h0m1 1h0m3-3h0m0 4h0m3-4h0m7-2h0m0-16h0m12 14h0m7 5h0m3 0h0m2 2h0m1-1h0m6-22h0m0 14h0m3 0h0m2-5h0m0-8h0m0 8h0m1 14h0m2-3h0m8 2h0m2-5h0m6-8h0m6 14h0m9-7h0m-713 28h0m3 3h0m26-6h0m1-2h0m3 1h0m3 6h0m3 2h0m1-2h0m8-10h0m0 0h0m2-1h0m1 10h0m2-8h0m2 5h0m1-12h0m1 18h0m4-16h0m1-7h0m13 16h0m7 8h0m2 0h0m1 0h0m5-10h0m2-11h0m0 19h0m1-1h0m3-19h0m0 17h0m1-15h0m0 10h0m1-3h0m2 3h0m2-6h0m0 14h0m2 2h0m1 0h0m0-20h0m0 12h0m1 5h0m1-13h0m0 14h0m0-9h0m2-9h0m1 18h0m3-16h0m1 7h0m4-8h0m2-2h0m2 20h0m0-11h0m0 8h0m1-10h0m0 10h0m1-3h0m0-10h0m3-4h0m3 10h0m4 2h0m5-15h0m1 18h0m0-16h0m1 19h0m4-3h0m1 2h0m0 1h0m0-13h0m0 13h0m1-20h0m1 8h0m1 0h0m1 9h0m1-9h0m5 9h0m2-8h0m1 0h0m2 6h0m4 3h0m1 0h0m2-1h0m1-2h0m0-15h0m7-1h0m6 3h0m5 1h0m18 1h0m348-5h0m10 0h0m8 2h0m2 1h0m2 1h0m13 2h0m2 0h0m1-5h0m5-1h0m0 12h0m0-7h0m2-5h0m1 9h0m2 7h0m1-6h0m5-3h0m0 4h0m2-9h0m0 4h0m1-2h0m1 10h0m6-6h0m0 4h0m2-6h0m4 10h0m1 2h0m1-10h0m0 16h0m1-3h0m0-19h0m2-2h0m3 10h0m2-1h0m2 2h0m1-11h0m2 24h0m1-10h0m1 10h0m3-18h0m2 3h0m3-4h0m3 7h0m0 11h0m1-14h0m1 8h0m0 4h0m1-1h0m1-1h0m0 0h0m2 5h0m2-12h0m0 1h0m2 3h0m3-1h0m0 0h0m2 6h0m0-3h0m2 4h0m1-2h0m3-12h0m5 14h0m2-19h0m1 16h0m2 2h0m4-8h0m1-1h0m4 12h0m2-16h0m0 3h0m10 9h0m1-16h0m3 10h0m0-5h0m5 13h0m3-19h0m6 10h0m12-7h0m5 7h0m15-3h0m-771 36h0m2-8h0m4 3h0m3 8h0m1-3h0m16-4h0m2 6h0m14-20h0m1 14h0m5-5h0m3-5h0m0 12h0m1-12h0m4-2h0m2 15h0m10 3h0m0-2h0m7-3h0m0 6h0m2-6h0m1 6h0m2-13h0m2 13h0m4-5h0m2-8h0m2 1h0m0 7h0m2-15h0m2 14h0m2-7h0m0-7h0m1 6h0m0 9h0m0-10h0m1 6h0m0-6h0m3 8h0m0-9h0m1 15h0m0 1h0m8-24h0m1 20h0m1-10h0m1-4h0m2 9h0m0-1h0m1-6h0m2-2h0m1 4h0m0-2h0m1 1h0m1-7h0m0-2h0m1 6h0m0-6h0m2 2h0m3 1h0m3 16h0m0-6h0m2-4h0m3 6h0m2-3h0m0-1h0m3-3h0m1 5h0m3-12h0m1 11h0m4-8h0m5-4h0m5 1h0m496 4h0m0-2h0m1-3h0m1 5h0m5-1h0m2 0h0m2 6h0m2-9h0m2 1h0m2 5h0m1-2h0m0-5h0m2 12h0m0-1h0m2-3h0m2 7h0m2 1h0m6-6h0m1 4h0m1 10h0m1-19h0m0 14h0m5-2h0m7 5h0m0-6h0m4-10h0m0 6h0m3 4h0m0 8h0m1-7h0m4-14h0m1 17h0m2-6h0m1 5h0m2-6h0m0-4h0m8-5h0m0 9h0m3 10h0m2-8h0m2 0h0m0-6h0m6-1h0m1 13h0m0-9h0m3-9h0m0 5h0m7 5h0m2-13h0m4 10h0m1-3h0m1 3h0m3 5h0m1-12h0m2 18h0m5-16h0m0 13h0m7 6h0m8-20h0m4 19h0m-829 24h0m23-3h0m18 4h0m13-14h0m8 8h0m6-6h0m3-2h0m0 10h0m2 4h0m1-15h0m1 11h0m2-14h0m7-2h0m0 2h0m2 10h0m1-4h0m2-2h0m1 5h0m2-3h0m1-5h0m1 4h0m1 8h0m0-13h0m2 2h0m1 15h0m2-8h0m3-10h0m4 6h0m4 2h0m6-6h0m2 15h0m1-4h0m0-13h0m0 2h0m1 16h0m2-13h0m0-9h0m3 11h0m2-4h0m1 4h0m2 0h0m3 2h0m1-12h0m6 3h0m2-4h0m0 4h0m586-4h0m2 2h0m11 5h0m1-3h0m1-1h0m2 3h0m4 7h0m5 2h0m3-6h0m0 8h0m2-13h0m1 11h0m4-11h0m0 10h0m1 5h0m3 2h0m3-2h0m2-4h0m1-5h0m1-10h0m1 19h0m0-9h0m2 2h0m1-10h0m5 3h0m1 15h0m1 3h0m0-11h0m3-6h0m1 3h0m0 2h0m1-11h0m0 8h0m1 1h0m2-3h0m1 18h0m2-13h0m2 5h0m0-12h0m2 17h0m1 0h0m0-4h0m2 3h0m1-11h0m1 4h0m0-6h0m1 9h0m3-1h0m2-8h0m1 9h0m2-9h0m2 7h0m4-8h0m5 18h0m1-1h0m2-13h0m0 9h0m3-16h0m7 17h0m0 1h0m1-5h0m10-5h0m2-3h0m9-1h0m0 1h0m12 11h0m-863 14h0m7 10h0m0-12h0m1 17h0m0 0h0m1-14h0m7 1h0m1 8h0m1-7h0m1-9h0m0 10h0m4-7h0m3 19h0m1 0h0m4-3h0m8-2h0m1-12h0m2 0h0m3 17h0m3-17h0m0 2h0m2 14h0m1-5h0m3-1h0m2-13h0m1 20h0m1 0h0m1-12h0m0 8h0m0-16h0m0 20h0m2-10h0m1 8h0m0-11h0m1 11h0m1-19h0m1 13h0m0-10h0m3 3h0m1 9h0m5-4h0m2-13h0m0 9h0m3 0h0m1-9h0m1 17h0m0-3h0m1 4h0m4-17h0m1 11h0m1-3h0m1 1h0m0-8h0m6 1h0m667-2h0m4 1h0m2 1h0m13 6h0m0 0h0m1-2h0m1-8h0m2 5h0m1-3h0m1-1h0m1 12h0m3 1h0m0-6h0m1 15h0m2-19h0m0-4h0m1 4h0m2 6h0m3-5h0m2 6h0m1 0h0m6 8h0m0-18h0m1 11h0m1 1h0m0 3h0m0 2h0m3-4h0m1 10h0m1-8h0m1-12h0m1 2h0m0 14h0m3-10h0m2 10h0m4-8h0m1-9h0m0 1h0m1 15h0m1-6h0m0 7h0m4 0h0m3-5h0m0-9h0m3 10h0m0-6h0m0 8h0m3-10h0m0-1h0m1 16h0m4-5h0m1-8h0m1 6h0m4-5h0m1-4h0m10 11h0m6-1h0m0 4h0m-920 23h0m39 4h0m7-8h0m4-2h0m1-11h0m0 22h0m1-23h0m1 0h0m1-1h0m1 13h0m2 3h0m5 4h0m1-6h0m0-11h0m1 3h0m0 5h0m1 9h0m5-11h0m0 12h0m2-15h0m5 12h0m6-9h0m4-9h0m0 12h0m2 11h0m3-14h0m2-9h0m1 21h0m2-5h0m1-13h0m1 0h0m0 0h0m0-3h0m2 8h0m2 3h0m10-9h0m7-1h0m731 0h0m4 5h0m2-3h0m1 3h0m0 0h0m0-6h0m1 14h0m1-10h0m5 6h0m1-5h0m4-3h0m1 13h0m1-11h0m0 15h0m2-11h0m3 1h0m1-7h0m0 20h0m0-5h0m2-11h0m2 10h0m3-9h0m3 3h0m2 7h0m1 2h0m0-13h0m1 10h0m3-6h0m1-10h0m3 2h0m3 18h0m1 0h0m1-4h0m4 1h0m0-6h0m0 6h0m0-10h0m0 5h0m4-11h0m4 2h0m0 6h0m1 15h0m0-3h0m1 1h0m3-6h0m6-16h0m2 19h0m1 1h0m1 2h0m0-2h0m3-2h0m3 4h0m5-8h0m4-9h0m3 19h0m28-2h0m-992 8h0m4-5h0m10 20h0m8-18h0m1 1h0m2 9h0m4 8h0m2-12h0m9 16h0m0-10h0m3-7h0m2-6h0m2 17h0m4-11h0m1 13h0m1-13h0m1-2h0m0-4h0m2 13h0m3-10h0m0 4h0m2-5h0m1 11h0m0 8h0m1-12h0m1 6h0m2 0h0m3 1h0m2 4h0m3-13h0m0 8h0m2-2h0m2 8h0m0-7h0m2-2h0m2-4h0m0-7h0m3 13h0m2-3h0m1 3h0m0-3h0m0 2h0m1-13h0m1 11h0m1 4h0m1-11h0m5 2h0m0-7h0m4 3h0m791-1h0m2-1h0m2 3h0m1-4h0m1 11h0m1 1h0m0-7h0m5 1h0m2-1h0m2-1h0m1 11h0m0 7h0m1 0h0m1-18h0m6-3h0m2 5h0m0 10h0m3-16h0m1 2h0m1 17h0m0-3h0m1-8h0m2 9h0m2-12h0m1-3h0m3 21h0m2-9h0m3-4h0m0 3h0m1 6h0m1-16h0m3 6h0m4 7h0m2 5h0m1 3h0m3-9h0m10 3h0m0 5h0m3-5h0m10-13h0m14 0h0m1 13h0m0 0h0m4-12h0m4 10h0m2-9h0m-1034 40h0m4-8h0m2 0h0m4 4h0m4 4h0m4-11h0m1-9h0m12 20h0m0-12h0m5 6h0m1-1h0m1-8h0m0-7h0m2 6h0m1 8h0m0 7h0m3-3h0m1-13h0m0 19h0m0-16h0m2 1h0m1-3h0m1 1h0m1 6h0m2-10h0m1 16h0m3-5h0m1-2h0m1 3h0m2 6h0m2-2h0m0 5h0m4-24h0m1 3h0m1 2h0m1 14h0m1-18h0m2 20h0m1 2h0m1-1h0m0-1h0m5-10h0m0 4h0m1 2h0m0-10h0m1 11h0m3-13h0m1 1h0m2 5h0m1 7h0m1-1h0m2-1h0m0-14h0m7 4h0m0 9h0m0 1h0m1-5h0m0 3h0m0-7h0m1-6h0m4 1h0m0 9h0m4-6h0m2-4h0m835-1h0m8 8h0m1-1h0m0-2h0m3 8h0m2 1h0m0-12h0m1 4h0m3 8h0m3 10h0m3-6h0m0 6h0m0-8h0m0-6h0m2-1h0m0-1h0m1-5h0m3 10h0m2-10h0m3 16h0m4-6h0m0 10h0m1-1h0m1-3h0m2-8h0m0-5h0m2 3h0m3 8h0m0-5h0m0-4h0m1 3h0m0-8h0m1-3h0m3 1h0m1 23h0m1-7h0m1-5h0m1 8h0m3-17h0m1 20h0m1-14h0m3 9h0m2-6h0m1-8h0m8 17h0m1-21h0m1 21h0m11-1h0m2-8h0m21-2h0m5-1h0m-1071 33h0m4 6h0m1-11h0m1-5h0m3 8h0m1-9h0m4 15h0m1-11h0m12 2h0m2 2h0m3 4h0m1-17h0m2 9h0m1-5h0m4 1h0m0 17h0m3 1h0m1-5h0m1 1h0m0-20h0m1 20h0m0-7h0m2-10h0m1 3h0m2 13h0m2-1h0m0 6h0m1-5h0m4-6h0m1 5h0m1-10h0m3-4h0m0 8h0m1 2h0m1-7h0m2 9h0m2 2h0m3-1h0m0 6h0m3-12h0m0-6h0m1 1h0m2 13h0m5-9h0m1 7h0m1-2h0m2-9h0m1 2h0m2 4h0m2-6h0m2 2h0m2-5h0m891 7h0m2-5h0m4 10h0m2-2h0m0 10h0m6-3h0m2-16h0m0 13h0m1-1h0m0 3h0m0-2h0m7-17h0m0 24h0m3-13h0m3 3h0m1 9h0m1-9h0m1 3h0m5-5h0m1-2h0m4-3h0m2 15h0m0-2h0m8-8h0m1-8h0m2 11h0m3 0h0m5 7h0m1-9h0m3-13h0m2 17h0m2 6h0m5-1h0m3-15h0m10 10h0m5 5h0m8-2h0m-1115 21h0m5 5h0m4-13h0m0 4h0m3 11h0m1-10h0m1 8h0m2-12h0m8-9h0m4 2h0m6 14h0m3 0h0m1-4h0m1-8h0m7 17h0m1-18h0m2 21h0m1-20h0m2 8h0m0-7h0m1 13h0m0-3h0m0-7h0m1 4h0m2 2h0m2 8h0m1-10h0m0 10h0m2-7h0m3-8h0m0 3h0m1-10h0m1 1h0m0 8h0m1-5h0m1 8h0m2-11h0m5 0h0m2 12h0m0 10h0m3-1h0m3-18h0m2 18h0m1-5h0m3-13h0m3 7h0m1-9h0m1 1h0m2 8h0m933-1h0m2 4h0m7-13h0m0 18h0m1 1h0m1-5h0m0 8h0m1-6h0m0 6h0m1-3h0m0-7h0m1 5h0m0-3h0m2-15h0m0 2h0m0 9h0m1-9h0m1 8h0m0 3h0m0-2h0m1-8h0m0-1h0m0 2h0m1 4h0m2-4h0m1 14h0m1-7h0m0-2h0m1 3h0m1 3h0m1 1h0m0-11h0m1 16h0m2-18h0m2 14h0m4 7h0m1-13h0m3 1h0m1-5h0m1 15h0m2-20h0m2 13h0m2-9h0m4-4h0m7 20h0m0-6h0m0 8h0m1-14h0m1 14h0m7-10h0m1 0h0m1-4h0m4 11h0m13 3h0m-1136 25h0m24-6h0m10-16h0m2 5h0m0-4h0m5 18h0m4-16h0m0 3h0m1 14h0m0-17h0m3 18h0m1-11h0m3 6h0m0-18h0m0 19h0m0 3h0m3 2h0m1-8h0m3 5h0m0-13h0m0 0h0m4 11h0m1-18h0m0 0h0m2 20h0m1-9h0m3 10h0m4-11h0m1 0h0m0 1h0m1 1h0m4 0h0m0 6h0m6 2h0m1-17h0m0 0h0m3 17h0m5-19h0m2 8h0m1-4h0m967 0h0m3 0h0m2 9h0m2-6h0m0 4h0m0-6h0m2-2h0m1 7h0m1 0h0m4-9h0m1 17h0m4 0h0m0 1h0m1 3h0m2-7h0m1-7h0m0 11h0m0-9h0m3-6h0m1 5h0m1 0h0m1-6h0m0 14h0m2-15h0m4 6h0m2 7h0m0-9h0m3 16h0m2-23h0m1 19h0m0-20h0m2 7h0m8 11h0m3-13h0m9 8h0m-1136 22h0m26 14h0m2-9h0m1 9h0m2-6h0m0-10h0m4 13h0m3-13h0m5 3h0m0-2h0m1 14h0m0-10h0m1 11h0m3-20h0m1 6h0m0 10h0m1-5h0m1-7h0m0 9h0m1-7h0m1 8h0m0-3h0m1 5h0m4-6h0m1-12h0m1 6h0m1-5h0m3 17h0m0-16h0m2-2h0m4 9h0m3 3h0m0 1h0m1-8h0m0 10h0m1-13h0m0-1h0m0 3h0m3 15h0m2 3h0m0 0h0m1-11h0m5-12h0m4 3h0m1 1h0m2-5h0m992 5h0m1 1h0m2-6h0m1 16h0m3-12h0m1 3h0m0-3h0m5 16h0m1-13h0m0-3h0m0 19h0m2-11h0m2-9h0m0 4h0m2 2h0m2 2h0m2 9h0m0-1h0m3-9h0m1 7h0m1-5h0m0 8h0m1-11h0m3 11h0m0 3h0m5-15h0m1 3h0m2 12h0m0 0h0m0-21h0m1 18h0m1-8h0m3-12h0m13 0h0m0 6h0m1 7h0m1-9h0m1 10h0m10 3h0m0-4h0m3-1h0m1 4h0m0 4h0m12-18h0m-1172 36h0m5-1h0m3-10h0m0 6h0m1 16h0m4-6h0m3-9h0m0 1h0m2-6h0m2 8h0m2 4h0m2 0h0m1-5h0m4 1h0m0 9h0m0-18h0m6 0h0m3 21h0m0-22h0m1 5h0m1 9h0m1-14h0m1 16h0m4-7h0m1-11h0m0 24h0m1-14h0m0-2h0m3 13h0m2-19h0m2 11h0m3-6h0m5 6h0m2-4h0m1-4h0m1 5h0m2-4h0m1026-4h0m2 0h0m3 9h0m7-8h0m2 11h0m1 10h0m2-5h0m5 4h0m1-15h0m1 0h0m2 3h0m5 1h0m1 8h0m3 1h0m0 3h0m1-9h0m1-14h0m3 22h0m10 0h0m1-1h0m0-20h0m1 5h0m2 11h0m1-18h0m7 16h0m0-11h0m7 18h0m4-14h0m2-6h0m2-2h0m-1185 33h0m21 12h0m1-17h0m0-4h0m7 20h0m4-5h0m0-8h0m1 10h0m1-2h0m1-7h0m0-4h0m3 16h0m2 2h0m0-17h0m1 19h0m2-20h0m2 20h0m0-20h0m4 14h0m4-5h0m5-2h0m1-7h0m0 0h0m0 13h0m1-12h0m5 11h0m1-1h0m2-8h0m0 1h0m1-5h0m1 1h0m0 0h0m1 2h0m0-5h0m2 0h0m1049-1h0m2 12h0m2 8h0m0-11h0m2 0h0m0 7h0m3-15h0m2 16h0m0 7h0m4-14h0m2-7h0m3 9h0m1-4h0m1 14h0m0-16h0m2 15h0m0-9h0m3-11h0m0 13h0m1 2h0m2 3h0m1-12h0m2-3h0m1 1h0m3 18h0m0-3h0m0 4h0m5-1h0m2 0h0m5 1h0m1-11h0m3-8h0m0-3h0m5 13h0m1-3h0m2-6h0m1 18h0m0-24h0m4 17h0m9 0h0m2-8h0m3 5h0m4 8h0m-1219 15h0m3 8h0m1 4h0m8-17h0m4 8h0m11 1h0m1-15h0m1 8h0m0 5h0m2-7h0m0-5h0m3 11h0m0-2h0m2-11h0m2 5h0m3-1h0m2 0h0m0 16h0m6-15h0m0 14h0m2 1h0m0-1h0m2-6h0m3 10h0m1-7h0m0 4h0m2-7h0m1 5h0m1-5h0m0-13h0m2 17h0m1 4h0m2-4h0m0-2h0m1 6h0m2-2h0m0 3h0m1-2h0m3-12h0m1-4h0m2 0h0m1067-1h0m2 2h0m1-5h0m2 5h0m6-3h0m2 17h0m1-10h0m2 9h0m1-15h0m2 8h0m5 8h0m2 1h0m0 4h0m4-4h0m1-10h0m2 11h0m2-9h0m1-8h0m1 1h0m1-5h0m4 0h0m1 24h0m3-5h0m1 0h0m4 4h0m5-15h0m2 3h0m0-6h0m0 6h0m3-10h0m2 0h0m5 10h0m22-10h0m-1250 38h0m15 7h0m7 2h0m1-13h0m3 6h0m3-1h0m5-12h0m2 18h0m0-19h0m1 17h0m1-10h0m1 8h0m2-2h0m1-11h0m4 15h0m4-18h0m0 16h0m0-9h0m1-7h0m1 11h0m0-1h0m2-6h0m4 4h0m1 3h0m0-4h0m3 13h0m1 0h0m0 1h0m3-21h0m5 5h0m2 12h0m1-4h0m1 8h0m1-14h0m0 3h0m2-7h0m1 6h0m1-5h0m1095 13h0m0-2h0m1-12h0m2 3h0m2-5h0m1 7h0m2 2h0m3-4h0m1 13h0m6-10h0m2 4h0m0-11h0m1 14h0m3-15h0m1-2h0m1 20h0m2 3h0m0-23h0m2 20h0m1-3h0m1 0h0m0 4h0m5-12h0m9 11h0m1 0h0m6-6h0m-1235 34h0m15-10h0m9 6h0m6 0h0m4-4h0m2 5h0m0 2h0m2-16h0m0 18h0m2-2h0m1-7h0m2-3h0m5-1h0m0 4h0m1 6h0m3-6h0m1-10h0m0-4h0m0 17h0m5-13h0m0 3h0m0-3h0m1 11h0m1-4h0m0 9h0m0-19h0m1-1h0m1 2h0m1 13h0m0-10h0m4 15h0m0 3h0m3-23h0m0 2h0m0 21h0m3-16h0m1 6h0m1 10h0m1-23h0m2 12h0m3-6h0m1-2h0m1107 11h0m2 7h0m3-20h0m1 12h0m0 2h0m0 0h0m0-12h0m1 14h0m1-1h0m2-12h0m6 0h0m0 13h0m2-1h0m1-8h0m1 7h0m0-3h0m3 2h0m0-8h0m1 12h0m6-2h0m0 1h0m1-18h0m3 8h0m2-1h0m1-3h0m1 16h0m4-5h0m5 3h0m0-19h0m6 17h0m6-7h0m10 2h0m1 8h0m-1253 27h0m4-11h0m1 9h0m1 2h0m5 0h0m6 0h0m3-5h0m5-12h0m1 17h0m2-6h0m3 5h0m2-3h0m0-16h0m4 12h0m1-1h0m2-3h0m1-3h0m0-1h0m1 12h0m0-4h0m2 2h0m1-11h0m1 0h0m0 17h0m3-18h0m5 12h0m1-4h0m0 3h0m2-15h0m1 4h0m2 0h0m1-3h0m0 4h0m9-4h0m1118 0h0m7 23h0m1-21h0m4 7h0m1 4h0m1 3h0m2 5h0m0 0h0m0-8h0m2 1h0m1 3h0m0-4h0m5 0h0m1-10h0m0 4h0m2 6h0m2 10h0m0-14h0m2-10h0m1 21h0m5-1h0m1-9h0m18 7h0m9-4h0m10 10h0m1-9h0m-1280 31h0m1-19h0m1 19h0m7-6h0m15-2h0m5 1h0m3-2h0m3-11h0m2 22h0m2-9h0m3-12h0m1 19h0m1-12h0m1 8h0m4-14h0m6 3h0m0-5h0m2 7h0m0 13h0m2-3h0m2-8h0m2 5h0m1-6h0m1 12h0m1-17h0m7 20h0m1-13h0m2 3h0m0-2h0m1 0h0m1-5h0m1-6h0m1129 0h0m8 12h0m0-9h0m1 1h0m0 6h0m2 8h0m2-6h0m1-4h0m5-6h0m2 5h0m4 10h0m2-8h0m0-7h0m1 15h0m1-14h0m3 17h0m1-6h0m5 1h0m2-8h0m0 15h0m1-3h0m0 2h0m4-20h0m7 8h0m3-5h0m2 15h0m0-11h0m4 4h0m2 4h0m1-6h0m0-8h0m10 2h0m-1282 30h0m5 7h0m4-6h0m5 6h0m4 0h0m4-10h0m1 0h0m1-5h0m6 1h0m5 8h0m0 13h0m0-14h0m1 6h0m0-3h0m0 10h0m1-15h0m0-4h0m1 6h0m0 3h0m4 9h0m2-22h0m1 4h0m1 19h0m3-2h0m1-13h0m3-3h0m0 7h0m2-2h0m0-6h0m0-2h0m2 8h0m1 7h0m0 2h0m5 0h0m0 0h0m1 5h0m1-9h0m0 2h0m3-16h0m0-1h0m1148 12h0m2-2h0m1 5h0m1-8h0m1 16h0m1-9h0m0-9h0m5 1h0m3 8h0m1-5h0m1 2h0m1-8h0m1 19h0m0 1h0m2-15h0m2-1h0m2 0h0m1-2h0m1-5h0m3 22h0m4-12h0m1-9h0m1 7h0m2 15h0m3-20h0m3-1h0m3 1h0m8 8h0m1 7h0m0-14h0m8 10h0m14-12h0m-1285 45h0m4-9h0m2-12h0m9 9h0m4 3h0m0-10h0m5 18h0m6 2h0m3-4h0m0-12h0m1 9h0m2-5h0m2-1h0m0-8h0m5 14h0m4-3h0m4 4h0m0-6h0m1 1h0m0-10h0m3 21h0m0 1h0m1-7h0m0-15h0m3 14h0m0-2h0m1152-8h0m3 3h0m1 8h0m0-9h0m1 0h0m7-5h0m1 2h0m0-2h0m2 21h0m1-17h0m0 15h0m1-17h0m7 13h0m1-3h0m4-10h0m1 1h0m1 5h0m3 12h0m1-18h0m2 4h0m1 8h0m4 2h0m21-7h0m-1275 19h0m1 16h0m3-15h0m8 12h0m0-11h0m4 16h0m5-18h0m3 12h0m0 1h0m6 5h0m0-21h0m3-3h0m1 22h0m4-3h0m5-17h0m0 5h0m2 8h0m2-6h0m1-7h0m1 12h0m1-6h0m2-5h0m1162 9h0m0-12h0m3 23h0m1-19h0m3 7h0m0 13h0m1-16h0m1 13h0m0-18h0m1 7h0m4-6h0m1 10h0m0-13h0m2 14h0m4 9h0m0-19h0m1-1h0m2 13h0m2 5h0m0 2h0m1-12h0m0 10h0m4-10h0m0 9h0m1-19h0m0-1h0m2 15h0m0-15h0m15 23h0m2-24h0m0 18h0m1-17h0m1 20h0m0-16h0m3 1h0m1 6h0m0 1h0m12 6h0m-1303 17h0m8 5h0m6-9h0m12 16h0m9 1h0m4-15h0m1 5h0m3 8h0m0-21h0m0 11h0m6 12h0m1-17h0m2 11h0m1-2h0m1-5h0m3-1h0m1-5h0m5 6h0m0-4h0m2-1h0m1 12h0m1 3h0m2-6h0m1 3h0m2-17h0m1 1h0m3 3h0m1 13h0m2-17h0m1156 9h0m1 11h0m1-20h0m1 6h0m1 15h0m0-3h0m1-10h0m0 15h0m0-19h0m1 16h0m0 3h0m2-9h0m2 5h0m1-9h0m2-4h0m2 12h0m1-8h0m0-5h0m1 0h0m0 17h0m3-20h0m1 18h0m2-15h0m3 9h0m0 8h0m6-21h0m7 19h0m1-4h0m0 4h0m5-14h0m6 13h0m2-17h0m1 11h0m1 5h0m20-2h0m-1309 23h0m3 0h0m11-14h0m1 15h0m2-11h0m10 10h0m1-13h0m0 10h0m0-4h0m6 16h0m5-22h0m3 0h0m1 7h0m2-1h0m4-3h0m0 19h0m3-17h0m1 0h0m1 1h0m0 15h0m1-1h0m0-20h0m2 16h0m2-3h0m0 1h0m1-5h0m3 9h0m1-12h0m0 5h0m0 7h0m1-8h0m1-3h0m2-9h0m2 9h0m0 11h0m0-18h0m1 0h0m1 7h0m0-1h0m0 2h0m5 9h0m1157 2h0m0-11h0m1 13h0m3-10h0m0 1h0m2-1h0m0 7h0m0 4h0m1-1h0m0-9h0m1 2h0m3-6h0m2-9h0m1 16h0m2 7h0m1-2h0m4-2h0m1-9h0m3-1h0m1-6h0m1 13h0m3-7h0m2-8h0m1 18h0m1-10h0m0 9h0m2 5h0m1-19h0m2 13h0m0-1h0m2-9h0m0-7h0m5 21h0m3-21h0m5 4h0m2 4h0m12-3h0m2-4h0m-1304 40h0m9-14h0m4 10h0m0-7h0m2 11h0m6-7h0m1 3h0m2-7h0m1-1h0m6 18h0m1-16h0m4 8h0m1 9h0m1-4h0m2-14h0m4 6h0m2 8h0m6-7h0m1-3h0m0 8h0m3-18h0m0 19h0m0-1h0m1 4h0m0-16h0m4 12h0m1 0h0m2-12h0m0-6h0m1 5h0m4 4h0m0-4h0m0 0h0m1 3h0m0 2h0m1-8h0m2 20h0m3-22h0m1156 19h0m0 2h0m3-11h0m2-9h0m1 15h0m1 6h0m5 2h0m1-15h0m1-7h0m0 0h0m2 10h0m3 2h0m1-3h0m1 13h0m2-15h0m1-7h0m4 15h0m0-3h0m3-7h0m0 15h0m2-17h0m2 17h0m2-18h0m4 19h0m8-17h0m2 7h0m4 1h0m2-14h0m11 13h0m-1297 31h0m11-15h0m2-4h0m7 2h0m6 3h0m6 11h0m1-2h0m2-2h0m1-4h0m4-1h0m2-4h0m1 16h0m1 5h0m0-20h0m1 11h0m0-2h0m1-1h0m2-10h0m4 22h0m0-14h0m2 13h0m7-19h0m3 14h0m0-9h0m3 3h0m0-3h0m2 11h0m3 2h0m1-2h0m3-12h0m1152 7h0m0 6h0m3-20h0m0 2h0m3 7h0m0-4h0m4 6h0m0-10h0m2 0h0m1 17h0m0-11h0m2-6h0m0 6h0m2 11h0m2-6h0m3-10h0m0 10h0m1-3h0m1 4h0m2-13h0m1 19h0m5-1h0m3-3h0m2-14h0m1 19h0m0-5h0m4-4h0m0 7h0m0-14h0m0-3h0m2-2h0m2 17h0m1-16h0m4-1h0m2 4h0m0 6h0m3-5h0m4 6h0m0-10h0m0 10h0m5-5h0m-1283 20h0m3 19h0m8-18h0m8 1h0m2 5h0m3 1h0m3-5h0m3 4h0m4 14h0m1-19h0m0 11h0m3-6h0m1 13h0m1-16h0m2 13h0m0-9h0m4 7h0m1-11h0m6 16h0m0 0h0m1-13h0m0 5h0m0-3h0m1-2h0m3 6h0m1-10h0m4 5h0m3-5h0m1-2h0m1 2h0m1 11h0m2 5h0m1145-12h0m2-2h0m1 18h0m0-2h0m0-11h0m1 9h0m1 2h0m5-7h0m5-3h0m5-1h0m3-5h0m1 10h0m1-13h0m2-1h0m1 13h0m4 1h0m2-12h0m7 13h0m0-8h0m1-2h0m6 4h0m0-3h0m2-4h0m19 15h0m-1274 20h0m1-13h0m4 17h0m16-17h0m8 15h0m0-9h0m1-1h0m0 0h0m3 2h0m2-6h0m4 12h0m1 3h0m1 2h0m2-10h0m1-6h0m1 13h0m1 3h0m1 2h0m1-20h0m0 12h0m1 11h0m0-23h0m1 22h0m1-2h0m0-20h0m5 14h0m0-2h0m1-8h0m1 17h0m2-3h0m2-8h0m1134 8h0m5 0h0m5-8h0m2-11h0m2 16h0m0-15h0m1 6h0m0 5h0m3 12h0m1-1h0m0-2h0m0-1h0m1 0h0m1-6h0m2 2h0m1-2h0m0-4h0m3 11h0m0-10h0m3 0h0m2 8h0m9 5h0m0-20h0m3 19h0m2-17h0m1 17h0m0 0h0m0-6h0m1-2h0m0-13h0m4 5h0m1-6h0m1 13h0m2-5h0m8 13h0m3-15h0m6 15h0m-1278 19h0m6-7h0m3 14h0m3-1h0m4-18h0m5 5h0m8-8h0m4 6h0m3 1h0m2 1h0m1 8h0m1-17h0m1 9h0m0 11h0m3-18h0m1 17h0m3-15h0m1-1h0m2-3h0m2 11h0m4 12h0m1-16h0m0 3h0m0 14h0m2-1h0m0-20h0m4 9h0m2 2h0m3 10h0m1-9h0m2-3h0m2-10h0m3 17h0m1126-5h0m3-4h0m1-10h0m3 8h0m0 7h0m5-13h0m2 17h0m0 4h0m0-15h0m6 6h0m1 6h0m0-5h0m0-8h0m3-4h0m2 5h0m0 15h0m0-17h0m1 3h0m0 8h0m1-14h0m0 8h0m0 0h0m2 6h0m1 2h0m6-5h0m3-6h0m0-2h0m0 12h0m1-10h0m6 15h0m0-23h0m0 0h0m1 16h0m2-10h0m0 7h0m1-9h0m2 8h0m2 0h0m11-7h0m-1263 25h0m12 2h0m1 16h0m6-21h0m2 13h0m6-3h0m8 12h0m1-23h0m0 9h0m1-6h0m0 11h0m2-12h0m3 11h0m1-8h0m6 16h0m1-4h0m2 4h0m1-11h0m0 11h0m1-4h0m4 6h0m0-21h0m5 13h0m1-9h0m1-3h0m1 13h0m2 6h0m1-12h0m4-3h0m0 5h0m0 11h0m2-5h0m0 0h0m0 1h0m2-3h0m2 2h0m1108 2h0m5-16h0m6 2h0m2 9h0m0-12h0m1 6h0m0-1h0m1-5h0m1 11h0m1-8h0m1-6h0m0 12h0m4-2h0m0-6h0m2 5h0m0 5h0m1-11h0m1 20h0m4-7h0m0-8h0m4-8h0m2-1h0m0 5h0m0 17h0m2-4h0m1-13h0m16 5h0m2 9h0m13-19h0m1 24h0m11-4h0m-1269 16h0m15-6h0m3 0h0m1 16h0m1-14h0m2 3h0m6-2h0m1 2h0m12 10h0m2-18h0m0-2h0m2 18h0m2 4h0m0-9h0m0-8h0m7-5h0m2 5h0m1 14h0m0 3h0m5 0h0m0-2h0m1-11h0m0 0h0m0 14h0m1-4h0m1-2h0m1-14h0m1 15h0m0-1h0m1 4h0m0-8h0m1 6h0m1-15h0m3 13h0m3-7h0m0 1h0m3-1h0m3-2h0m0-4h0m1 2h0m1 1h0m0 12h0m3 1h0m1095-7h0m0 11h0m3-10h0m1 1h0m0-7h0m0-4h0m1 20h0m0-22h0m2 22h0m1-21h0m2 14h0m1-11h0m0 3h0m1 2h0m0 9h0m7-5h0m2 7h0m2-7h0m1-2h0m0 0h0m0-5h0m1 5h0m2-6h0m4 7h0m1 8h0m5-19h0m3 4h0m1-2h0m6 0h0m3 16h0m9-20h0m4 6h0m1 15h0m6-9h0m1 0h0m-1242 19h0m14 11h0m10 4h0m1-3h0m4-18h0m3 22h0m0-5h0m0 0h0m2-7h0m1-10h0m4 18h0m0 0h0m1-17h0m0 14h0m0-3h0m1 4h0m1-16h0m2 0h0m1 15h0m3-16h0m1 21h0m0-14h0m4 9h0m6-15h0m1 16h0m2 7h0m0-23h0m1 9h0m4 14h0m1-2h0m0-21h0m2 18h0m1-1h0m3-10h0m1-8h0m2 16h0m4 7h0m1-12h0m1 3h0m2 6h0m1074 2h0m3-5h0m5-8h0m1 10h0m0 3h0m3-12h0m2 13h0m12 0h0m0-19h0m0-3h0m2 6h0m0-4h0m3 6h0m1-2h0m0-4h0m0 6h0m4 15h0m2-7h0m1-9h0m2-7h0m2 15h0m3-14h0m1 20h0m10-21h0m1 22h0m1 0h0m2-1h0m3-7h0m5 0h0m1 0h0m0 5h0m-1216 9h0m2-1h0m5 20h0m6-10h0m4 5h0m5 6h0m7-6h0m1-9h0m6 5h0m0-4h0m3 1h0m3-8h0m1 15h0m1-17h0m5 11h0m0 0h0m1-2h0m2-6h0m0-4h0m1 1h0m1 11h0m1 12h0m0-10h0m0-8h0m1 4h0m1 14h0m0-11h0m0 7h0m1-13h0m1-1h0m2 4h0m3 10h0m3-9h0m1-3h0m1-6h0m0 4h0m1-3h0m2 19h0m2-12h0m1-2h0m3 6h0m4 9h0m0-4h0m2-1h0m1057 5h0m1-10h0m1-12h0m3 1h0m3 15h0m0-2h0m1 4h0m1 4h0m1-14h0m1 4h0m1-6h0m0 9h0m0-11h0m1 7h0m8 2h0m2 0h0m0-12h0m0-1h0m1 7h0m0-1h0m1 12h0m1-17h0m1 9h0m2-11h0m1 0h0m2 2h0m5 10h0m2-10h0m0 1h0m1 6h0m1 1h0m0 1h0m1-9h0m5 16h0m3-12h0m2 0h0m14 11h0m2-8h0m10-8h0m6 1h0m-1203 27h0m7 13h0m6 3h0m5-10h0m3 7h0m6 1h0m0-8h0m1 7h0m0-9h0m1 10h0m7-14h0m5 15h0m2-12h0m0 9h0m1 7h0m1-3h0m2-14h0m3 16h0m2-13h0m1 7h0m0 7h0m1 1h0m2-13h0m4-6h0m1-4h0m1 3h0m2 13h0m0-7h0m2-5h0m0 7h0m3 6h0m0-4h0m1030 10h0m1-1h0m4 1h0m0-9h0m2-11h0m1 6h0m1 8h0m5-6h0m1-10h0m2 21h0m0-9h0m1 3h0m3-17h0m2 4h0m1 15h0m1-12h0m0-6h0m1 15h0m0-4h0m2-12h0m7 1h0m3 19h0m5-17h0m1 16h0m8-9h0m4 2h0m8 11h0m-1166 9h0m1-3h0m6 9h0m16-12h0m5 23h0m0-11h0m4-10h0m1 20h0m3-6h0m2-7h0m5-7h0m6 18h0m2-1h0m0 4h0m1-14h0m0-9h0m2 5h0m0 5h0m1 12h0m0-23h0m1 19h0m0 0h0m2 3h0m0-2h0m2 2h0m0-18h0m0 15h0m4 0h0m3-12h0m3 3h0m2 1h0m0 3h0m5 8h0m1-3h0m2-5h0m1-9h0m2 9h0m0 4h0m7 3h0m997 3h0m6-7h0m1 2h0m0 3h0m1-16h0m1 13h0m1-4h0m0-7h0m2 11h0m4-4h0m1 7h0m1-20h0m1 19h0m0-1h0m3 0h0m2-15h0m1 6h0m0-4h0m1 3h0m4 2h0m0-1h0m1 13h0m0-16h0m3 2h0m1 4h0m0-8h0m1 15h0m1-10h0m3 3h0m4-7h0m0 7h0m1 6h0m4-5h0m1 0h0m3-7h0m3 3h0m8 9h0m0-11h0m1-6h0m16 2h0m-1152 38h0m2-16h0m11 2h0m8 6h0m3 0h0m0-3h0m6 12h0m3-9h0m2-9h0m0 13h0m2-1h0m3-4h0m0 6h0m1-11h0m3 4h0m0-5h0m1 19h0m1-8h0m2-6h0m2-5h0m1 21h0m1-23h0m2 6h0m1 10h0m0-1h0m4-1h0m1 7h0m4-17h0m3 13h0m1 4h0m1-5h0m0-3h0m0-1h0m1-5h0m3-6h0m1 4h0m3 16h0m3-4h0m0 3h0m0-11h0m1 10h0m985 3h0m1-12h0m0 11h0m3-22h0m0 5h0m1 19h0m1-24h0m0 5h0m0 5h0m3 9h0m0-11h0m3 3h0m1 10h0m1 1h0m2 1h0m3-15h0m3 13h0m1-6h0m1-7h0m0 6h0m0-5h0m3-7h0m1 22h0m2-21h0m3 3h0m0 16h0m1-21h0m4 2h0m3 0h0m1 9h0m2 8h0m0-13h0m1 4h0m1 6h0m0-11h0m1 9h0m4 1h0m1-10h0m2-4h0m2 0h0m6 7h0m9-9h0m10 7h0m-1134 24h0m11 1h0m0 3h0m0 14h0m8-5h0m2-15h0m1-2h0m3 0h0m4 2h0m1 1h0m2-4h0m4 12h0m2 7h0m4 2h0m0-10h0m0 8h0m1-10h0m2-1h0m2 10h0m1 5h0m2-2h0m0-13h0m2-7h0m1 17h0m2 1h0m2-12h0m1 0h0m1 1h0m2-6h0m4 2h0m1 18h0m1-3h0m3-13h0m1 14h0m2-3h0m1-8h0m3 9h0m0-10h0m4 3h0m1 0h0m0-5h0m1-1h0m0 12h0m0 3h0m1-15h0m2 5h0m2 12h0m940-8h0m1 9h0m4-11h0m1-4h0m2 9h0m1 4h0m3-14h0m1 2h0m1-10h0m4 0h0m2 18h0m0 1h0m2-10h0m1 14h0m2-17h0m3-6h0m3 16h0m2-6h0m0-10h0m1 1h0m0 1h0m0-2h0m5 7h0m1 10h0m1 0h0m5-5h0m3-3h0m1-3h0m1 17h0m4-15h0m1 7h0m0 0h0m6 4h0m4-13h0m0-4h0m5 10h0m7 9h0m8-18h0m-1093 44h0m1-3h0m2-5h0m9-5h0m5 4h0m4-4h0m7-9h0m13 2h0m3 20h0m2-7h0m0-10h0m1 19h0m1-6h0m3-13h0m1 0h0m4-1h0m2 10h0m1-12h0m1 10h0m0 5h0m2 5h0m1-18h0m3-2h0m3 18h0m3-8h0m3 1h0m1-2h0m1 1h0m2-2h0m10 6h0m0 0h0m4 5h0m898 3h0m2-15h0m0 12h0m5-9h0m1 1h0m3 2h0m0 0h0m1 6h0m3 0h0m0 1h0m2-17h0m0 15h0m0-17h0m4 9h0m1 0h0m3 7h0m2-11h0m1 5h0m0 7h0m0-5h0m2 6h0m1-12h0m1-7h0m0 15h0m4 1h0m4-18h0m0 11h0m4 12h0m6-18h0m4 6h0m0-3h0m1 5h0m2 5h0m0-3h0m3-13h0m2 20h0m2-10h0m3 8h0m0-18h0m1 8h0m4-10h0m-1049 27h0m8 5h0m2-5h0m15 5h0m1-5h0m1-1h0m12 0h0m4 23h0m2-16h0m0-2h0m2 11h0m1-8h0m2 9h0m3-1h0m1-15h0m1-1h0m0 23h0m0-23h0m3 10h0m0 9h0m0-4h0m1-5h0m5 8h0m0-15h0m0 4h0m2 7h0m1-13h0m2 17h0m0-3h0m2-8h0m2 16h0m1-12h0m2-1h0m0 12h0m1 1h0m1-11h0m5-10h0m0-2h0m2 9h0m1 3h0m3 5h0m3 1h0m8 0h0m0 0h0m849 1h0m1 2h0m7-9h0m2 3h0m2-7h0m0-2h0m2 10h0m0-8h0m1 9h0m1-3h0m2 1h0m1-3h0m3-3h0m1 1h0m0 10h0m1-15h0m1 15h0m0-15h0m0 12h0m4-16h0m0 19h0m0-1h0m4-1h0m0 3h0m1 2h0m1-12h0m0-6h0m1 16h0m2-12h0m3 8h0m1-6h0m0 7h0m2 0h0m3-12h0m2-3h0m0-3h0m0 20h0m1 0h0m6-6h0m2 7h0m3-1h0m0-11h0m4 14h0m1-21h0m5 0h0m1-1h0m14 21h0m0-13h0m4 8h0m7 0h0m19-11h0m-1052 33h0m1 0h0m4-14h0m1 12h0m6 2h0m3-11h0m7 16h0m2-8h0m6 11h0m4-23h0m1 4h0m1 2h0m7 14h0m3-19h0m1 2h0m0 18h0m4-20h0m1 19h0m1-16h0m1-3h0m1 0h0m1 8h0m3-2h0m4-3h0m0 0h0m4 6h0m4-1h0m0 7h0m0-11h0m1 18h0m1-5h0m0-9h0m1 9h0m1-3h0m3-3h0m0 5h0m1-6h0m3 7h0m0-13h0m1 12h0m2 1h0m1-7h0m0 0h0m1-7h0m2 14h0m1-11h0m1 3h0m1 2h0m0-6h0m3 9h0m1-10h0m2 11h0m1 4h0m2-10h0m0-1h0m3 3h0m1 1h0m1 7h0m2 2h0m4 0h0m794 1h0m3-3h0m2 0h0m1-3h0m0 6h0m2-6h0m1 4h0m4-6h0m2-1h0m0 7h0m0-9h0m1 2h0m2 0h0m1 3h0m1 4h0m0-17h0m1 10h0m0 2h0m4-6h0m1 5h0m0-13h0m2 11h0m0 5h0m0-1h0m3-2h0m0-14h0m4 23h0m2-20h0m1 0h0m2 18h0m0-11h0m2-11h0m1 18h0m5-13h0m0 10h0m1 2h0m2 4h0m5-20h0m0 16h0m1-13h0m7-1h0m1 1h0m0 20h0m5-24h0m5 7h0m0 8h0m1-11h0m16 1h0m8-5h0m5 9h0m-971 18h0m3 17h0m3-4h0m4-3h0m1-3h0m4-4h0m7-4h0m1 8h0m2-2h0m7 3h0m2 0h0m1-7h0m0 14h0m3-10h0m2 5h0m6-8h0m5-1h0m1 3h0m0 1h0m0 13h0m1-14h0m1 8h0m1 2h0m2-7h0m0-2h0m3 0h0m0 10h0m1 2h0m0-11h0m2 16h0m2-1h0m14-12h0m2 6h0m11 2h0m1 5h0m747-1h0m3 0h0m5-8h0m1 3h0m2 3h0m1-8h0m3-2h0m0 9h0m2-3h0m1-3h0m2-2h0m4-10h0m0 0h0m1 0h0m2 11h0m0 4h0m1 2h0m2-15h0m0 3h0m4 4h0m1-4h0m0 5h0m1-8h0m1 19h0m1-13h0m0-7h0m1 6h0m1 6h0m0 0h0m1 2h0m0 4h0m3-21h0m0 12h0m1-12h0m2 18h0m4-15h0m1 17h0m0-7h0m1 2h0m2 9h0m6-19h0m0 2h0m1 13h0m2-20h0m2 10h0m4-9h0m2 20h0m3-12h0m10 5h0m13-4h0m9-1h0m9-8h0m-939 47h0m4-7h0m4-15h0m7 2h0m8 14h0m0-9h0m2-3h0m0-5h0m2 0h0m2 4h0m5 3h0m3-6h0m4 12h0m5-11h0m0 12h0m0-2h0m0-8h0m1-3h0m3 20h0m5-6h0m1 7h0m2-4h0m5-16h0m0 9h0m2 4h0m0-4h0m1 0h0m1 7h0m1-5h0m1 0h0m2 9h0m1-8h0m1 7h0m2-9h0m0-1h0m3-2h0m0 10h0m0-14h0m0 4h0m1 14h0m1-9h0m3-10h0m2 20h0m1-14h0m1 1h0m1 6h0m1 5h0m1-1h0m0 2h0m1-5h0m0-13h0m2-3h0m0 2h0m0 17h0m1-5h0m4-7h0m0 7h0m2 3h0m1 5h0m1-2h0m8-5h0m0 6h0m3-6h0m4 7h0m0-3h0m1 3h0m1 0h0m671-3h0m4-2h0m5-1h0m5 4h0m1-4h0m2 4h0m1-5h0m1 0h0m1-7h0m0 3h0m1 3h0m2-12h0m0 16h0m1-6h0m5 6h0m0-4h0m3-12h0m0 18h0m2-17h0m0 1h0m1 18h0m1 0h0m2-5h0m3-11h0m0-8h0m0 11h0m2-9h0m0 1h0m2 11h0m1-2h0m0 5h0m5-4h0m3 5h0m2-2h0m2-14h0m1 9h0m0 0h0m0 3h0m0-12h0m2 9h0m2 7h0m0-3h0m2-14h0m1 9h0m2 8h0m0-17h0m1 2h0m2 12h0m0-5h0m2-1h0m1-5h0m4 17h0m1-3h0m7-16h0m6 22h0m5-8h0m10-9h0m23-3h0m4 5h0m-904 33h0m10-10h0m6 2h0m14-4h0m1 18h0m1-12h0m4-5h0m2 12h0m1-15h0m3 8h0m6-5h0m3-3h0m3 9h0m1 7h0m4-8h0m4 5h0m2 3h0m1-4h0m0-10h0m1 12h0m4-16h0m3 1h0m1 9h0m2-8h0m1 9h0m2-4h0m0-4h0m2 1h0m2 7h0m4 6h0m2 3h0m2-17h0m1 18h0m1-2h0m0-12h0m0 1h0m2 11h0m4-10h0m2 1h0m3 11h0m6-5h0m1-2h0m3 8h0m1-11h0m15 7h0m0 5h0m6-1h0m596 0h0m10-7h0m0 7h0m0-6h0m1 3h0m0 1h0m1-4h0m0 1h0m6-3h0m0 6h0m4 2h0m1-8h0m0-3h0m3 0h0m2 12h0m1-1h0m0-17h0m1 3h0m2 9h0m0-18h0m0 19h0m5-2h0m0 2h0m2 3h0m2-2h0m2-1h0m1 4h0m3-18h0m5 4h0m3-9h0m0 11h0m0-5h0m1-3h0m1 21h0m2-3h0m5-21h0m0 0h0m1 7h0m0 1h0m0 6h0m2-14h0m2 9h0m10 8h0m2-16h0m1 4h0m0 19h0m3-21h0m0 13h0m8-12h0m4 8h0m1-3h0m3-4h0m4 16h0m1-12h0m0 12h0m6-18h0m0 0h0m11 6h0m4 13h0m13-9h0m4-11h0m1 8h0m-874 18h0m33 0h0m6 13h0m10-12h0m4 17h0m3-7h0m2-14h0m6 6h0m4 5h0m1-8h0m1-3h0m6 0h0m2 22h0m1-20h0m1 11h0m1-7h0m1-6h0m1 12h0m0 4h0m1 6h0m1-7h0m2 5h0m1-12h0m0 5h0m1-11h0m1 3h0m4-1h0m2 15h0m0-15h0m4 13h0m1-3h0m2-8h0m2 2h0m5 9h0m0-4h0m2 10h0m1-20h0m1 16h0m1 1h0m1-12h0m0-5h0m0 17h0m2-2h0m0-18h0m0 2h0m1 17h0m1-18h0m0 0h0m0 11h0m0-9h0m2 6h0m2-9h0m0 23h0m2-11h0m3-9h0m0 2h0m1-5h0m2 7h0m0 13h0m0-15h0m4-2h0m2 4h0m4-4h0m2 16h0m0-9h0m1 3h0m1 0h0m4-3h0m1 14h0m9-4h0m1-8h0m2 3h0m6 2h0m519 3h0m6-5h0m2 3h0m2-3h0m0 1h0m1-2h0m4-2h0m4 0h0m1 10h0m1 2h0m4-10h0m1 1h0m2-1h0m2-10h0m2-3h0m1 3h0m6 11h0m0-5h0m0 4h0m0 0h0m3 10h0m1-11h0m1 10h0m2-19h0m1 12h0m3-4h0m4 4h0m1 7h0m7-11h0m0-1h0m0 9h0m7-17h0m3-1h0m1-2h0m4 7h0m1 16h0m1-22h0m4 3h0m0 5h0m0-4h0m2 4h0m3-8h0m5 7h0m7 6h0m5-6h0m7-6h0m0 2h0m3 8h0m1-11h0m7 8h0m8-5h0m0 6h0m34-6h0m-790 25h0m6 4h0m15-6h0m3 14h0m0-3h0m0-1h0m5-1h0m2-3h0m6 4h0m4-3h0m1 15h0m8-18h0m0 12h0m2-4h0m2-5h0m4-4h0m1 2h0m0 0h0m3 17h0m2-24h0m3 4h0m3 13h0m1-11h0m1 0h0m1-6h0m1 10h0m3 13h0m1-1h0m2-13h0m2 13h0m0-10h0m2-7h0m0 12h0m1-11h0m0-6h0m0 22h0m4-20h0m0 9h0m1 7h0m0-1h0m1 7h0m1-2h0m1-11h0m6-2h0m2 15h0m1-11h0m1-13h0m1 3h0m2 8h0m3-4h0m1-3h0m0 11h0m3-14h0m2 11h0m2-9h0m3-3h0m0 18h0m1-2h0m1-12h0m1 8h0m1-1h0m5 11h0m1-11h0m2-2h0m0 10h0m1-10h0m4-3h0m5 15h0m1 1h0m2-9h0m1-1h0m0 9h0m1 3h0m1-8h0m5-1h0m10 4h0m10 4h0m1-3h0m6 3h0m374-1h0m5 1h0m3 1h0m3 0h0m6-6h0m4-2h0m0 2h0m2 1h0m4 4h0m1-10h0m3 11h0m4-10h0m2 8h0m2 0h0m7 0h0m2-16h0m2 14h0m4-2h0m1-17h0m0 18h0m0-6h0m1-5h0m1 14h0m0-18h0m1 5h0m0 5h0m1 0h0m3-2h0m1-1h0m1-3h0m0-8h0m7 21h0m1-4h0m3-11h0m0 14h0m1-11h0m3-8h0m2 21h0m5-8h0m0 9h0m2-20h0m2 1h0m2 7h0m0 10h0m4-1h0m2-3h0m3-2h0m2-10h0m1 4h0m1 0h0m1 8h0m1 7h0m0-9h0m3-12h0m0 21h0m7-10h0m7 2h0m1 1h0m1-16h0m5 3h0m1 1h0m4 12h0m0-1h0m1-2h0m0 9h0m3-10h0m2 0h0m2 3h0m0-9h0m4-1h0m1 18h0m5-4h0m2-19h0m11 5h0m2 16h0m34-22h0m-746 26h0m13 0h0m2 5h0m17 3h0m6-9h0m2 12h0m10 4h0m4-14h0m3 7h0m1 5h0m1-6h0m0-3h0m1 8h0m0-8h0m13 8h0m2 3h0m2 0h0m10-16h0m1 13h0m1-7h0m4 6h0m0-5h0m2 3h0m7-9h0m1 10h0m0 0h0m0 12h0m2-6h0m0-9h0m5 13h0m2-18h0m0 1h0m2 6h0m0 2h0m2-2h0m5-9h0m0 14h0m5-1h0m1 1h0m1-11h0m2 5h0m2 14h0m2-22h0m2 8h0m2 8h0m2 1h0m0-9h0m0 9h0m2-8h0m1-10h0m1 10h0m1-5h0m0 3h0m1-7h0m3 2h0m1 14h0m2-17h0m2 7h0m2 16h0m0-5h0m2 4h0m4-10h0m3-1h0m0-2h0m1 11h0m1-17h0m1-2h0m2 22h0m1-19h0m0 12h0m1-7h0m1 12h0m2-10h0m5 10h0m4 2h0m1-13h0m7 4h0m1 0h0m1 10h0m0-12h0m4 10h0m5-13h0m12 5h0m1-1h0m1 1h0m0 3h0m4 6h0m1-8h0m1 6h0m0 3h0m1-1h0m1-5h0m2 5h0m1-7h0m1 1h0m13 3h0m2 2h0m2 2h0m8-3h0m1 3h0m181-1h0m4-1h0m28 0h0m4 0h0m2-6h0m3 1h0m3 0h0m4 1h0m1 2h0m1 1h0m4 1h0m3 2h0m3-1h0m1-9h0m7-5h0m2 12h0m2 1h0m1-11h0m1 7h0m5-4h0m0 4h0m3 4h0m1-17h0m1 6h0m3 0h0m4-7h0m3 16h0m0-7h0m1 3h0m1-16h0m1 12h0m2 3h0m1 3h0m0-14h0m3 1h0m0 4h0m1-8h0m1 19h0m0-16h0m0-4h0m1 17h0m0-8h0m1-1h0m1-5h0m0 20h0m2-4h0m2-17h0m2 4h0m1 11h0m0-11h0m1-5h0m1 0h0m0 22h0m3-1h0m2-11h0m0 4h0m2 6h0m0-19h0m4 20h0m4-5h0m1-4h0m1-2h0m0-1h0m1-2h0m1 10h0m0 6h0m1-18h0m1-4h0m1 4h0m2 11h0m7-6h0m1 13h0m1-16h0m1 14h0m1-3h0m2-11h0m2 12h0m0-12h0m4-5h0m2 6h0m7 11h0m1-3h0m3-2h0m7-11h0m4 11h0m0-1h0m1-11h0m0 8h0m2-10h0m2-1h0m5 18h0m9 4h0m0-10h0m0 1h0m3 1h0m2-14h0m2 11h0m1 1h0m2-7h0m1 3h0m4-7h0m2 11h0m6 3h0m17-6h0m12 0h0m21-5h0m-642 26h0m11 9h0m4-13h0m6 7h0m3 5h0m1 1h0m1-12h0m2 0h0m5 10h0m6 5h0m4 0h0m3 6h0m3-22h0m1 3h0m4 5h0m9 2h0m6 4h0m2 0h0m8-10h0m6 9h0m2-9h0m1 2h0m1 12h0m5-11h0m2 1h0m2 0h0m1 4h0m0 8h0m5-6h0m0-12h0m2 6h0m2-1h0m0 1h0m5 8h0m1-6h0m0 0h0m9-4h0m4 1h0m0 2h0m1-5h0m0 11h0m2-6h0m1-2h0m2-1h0m2-2h0m1-5h0m0 12h0m4-10h0m0 5h0m1 5h0m2 3h0m2 2h0m1-13h0m5 19h0m0-8h0m1-8h0m1 7h0m0-12h0m1 9h0m1 1h0m1 2h0m1-3h0m1 12h0m1-22h0m0 17h0m2-17h0m1 11h0m2 1h0m1 3h0m1-1h0m2-5h0m1-5h0m1 7h0m0 12h0m1-17h0m0 9h0m2-12h0m1 5h0m2-8h0m6 7h0m0-3h0m1 19h0m0-22h0m0 20h0m1-4h0m2-7h0m1-5h0m1 17h0m1-20h0m1 1h0m0 9h0m1-12h0m5 20h0m1-1h0m0-7h0m0 2h0m1 1h0m1-12h0m0 6h0m4 11h0m2-11h0m0-8h0m3 2h0m0 4h0m1 11h0m0-14h0m0 2h0m2 3h0m0 8h0m2-6h0m1-4h0m0 15h0m2-12h0m0 8h0m5-17h0m0 4h0m2 2h0m3 12h0m2 2h0m2-6h0m2-9h0m4 10h0m0-1h0m1-13h0m0 17h0m2 2h0m1-1h0m5-2h0m0-11h0m2 5h0m0 2h0m2 8h0m1-15h0m0 13h0m0 3h0m2-21h0m2 21h0m1-18h0m0 13h0m4-15h0m0 2h0m1 3h0m0 5h0m1-5h0m0 14h0m4-19h0m1 8h0m3 7h0m2-10h0m1 12h0m1-14h0m0 1h0m1 11h0m0-1h0m1-8h0m2 11h0m0-9h0m1-2h0m0 2h0m1 6h0m1 4h0m1-1h0m2-2h0m3-10h0m3-2h0m0 7h0m1-2h0m0 8h0m1-1h0m0 3h0m1-13h0m2 3h0m0 10h0m0-1h0m1 1h0m1-10h0m2 1h0m0 4h0m1 2h0m1-4h0m1-2h0m1 8h0m2-3h0m3-10h0m4 7h0m1-4h0m7 13h0m0-5h0m1-7h0m3-5h0m4 12h0m3-5h0m1-6h0m5 1h0m1 3h0m0 8h0m3-18h0m1 11h0m0 1h0m5 8h0m0-18h0m2-3h0m2 9h0m1 12h0m14-6h0m4 4h0m0-11h0m0 0h0m1-3h0m0 12h0m3 2h0m0-14h0m1 10h0m0-11h0m3-5h0m0 14h0m3 8h0m0 0h0m1-20h0m1 15h0m1-13h0m2 13h0m4 0h0m1 2h0m1-15h0m7 3h0m1-4h0m2 7h0m0-4h0m2 11h0m1-1h0m4-4h0m0 8h0m1-16h0m1 17h0m0-19h0m1 2h0m1 4h0m3 4h0m3-3h0m2 10h0m2-18h0m1 8h0m1 15h0m2-6h0m2-14h0m2-2h0m2 8h0m1-8h0m2 21h0m1-4h0m0-15h0m1 15h0m1-15h0m0 12h0m0 8h0m0-13h0m1-11h0m1 18h0m4-4h0m0 2h0m5-15h0m1 23h0m1-9h0m1-11h0m0 4h0m1 2h0m3 2h0m4-1h0m1-9h0m3 8h0m1 8h0m3-14h0m1 17h0m1-17h0m4 13h0m1 0h0m0-17h0m2 12h0m1-2h0m8-8h0m1 22h0m1-20h0m0-3h0m3 18h0m5-18h0m4 5h0m3 1h0m2 17h0m12-3h0m0-20h0m0 5h0m1 0h0m1-4h0m4 3h0m0 11h0m5-6h0m4-9h0m0 11h0m6-2h0m3-5h0m4 16h0m18-16h0m13-2h0m-524 23h0m17 7h0m1 7h0m4-6h0m1-8h0m7 6h0m0 9h0m13-10h0m5 10h0m2-8h0m1 3h0m0 1h0m2 5h0m2-8h0m0 1h0m5 0h0m1 4h0m5-1h0m8 10h0m2-17h0m8-6h0m4 4h0m6 8h0m3-6h0m3 16h0m3-13h0m6-1h0m3-2h0m1-1h0m8 13h0m1-17h0m8 0h0m5 8h0m0-8h0m2 1h0m5 22h0m0-18h0m1 16h0m1-18h0m5 9h0m2-10h0m0-1h0m4 13h0m4-6h0m2 5h0m1-8h0m0 7h0m2 7h0m3-9h0m3 11h0m4-14h0m1-8h0m6 13h0m2-1h0m0-7h0m2 14h0m1-5h0m1-5h0m3 2h0m0-11h0m0 4h0m1-2h0m0 19h0m2-15h0m3-1h0m1 7h0m2-11h0m0 10h0m2-6h0m1 12h0m1-16h0m2 3h0m1 4h0m4 5h0m0-12h0m0 11h0m1-10h0m2 0h0m1 6h0m0 0h0m2-6h0m0 18h0m4-11h0m0 1h0m2-2h0m6 4h0m8-12h0m2 18h0m0-11h0m1-2h0m1 11h0m1-2h0m2 8h0m2 1h0m1-4h0m2-16h0m1 10h0m0 1h0m1 0h0m3-11h0m2 20h0m3-11h0m3-11h0m4 3h0m0 4h0m2 3h0m1-9h0m9 0h0m0 9h0m2-10h0m1 10h0m0-5h0m2-3h0m1 1h0m2 14h0m0-10h0m1 4h0m0 1h0m1-10h0m0 19h0m5-6h0m3 6h0m1-13h0m2 13h0m2-21h0m5-1h0m1 22h0m2-20h0m0 19h0m1-1h0m4-9h0m3-5h0m1 17h0m1-23h0m3 8h0m2-6h0m0 9h0m4-8h0m2 17h0m3-11h0m1-4h0m1 16h0m1-18h0m3-3h0m7 12h0m3 10h0m3 2h0m1-17h0m2 12h0m3-7h0m5 5h0m1-16h0m1 22h0m3 0h0m3-17h0m3 0h0m9 12h0m4-10h0m1 5h0m4-9h0m10 14h0m5-9h0m7-5h0m0 20h0m7-23h0m0 5h0m0-2h0m3 7h0m0 9h0m3-2h0m1-3h0m0 7h0m13-4h0m14-17h0m4 18h0m0-13h0m5-1h0m10-4h0m2 14h0m9-12h0m6 2h0m-392 28h0m3 13h0m1-13h0m7 11h0m2-17h0m2 0h0m7 5h0m20 12h0m2-5h0m1-7h0m0 9h0m0-4h0m8-2h0m3-2h0m13-3h0m9 14h0m8-12h0m9 16h0m1 0h0m6-22h0m1 11h0m7-12h0m5 9h0m0 0h0m18-4h0m14 12h0m6-14h0m7 14h0m10-5h0m4-4h0m1-3h0m2 13h0m0-2h0m4-10h0m0 1h0m9 1h0m16-4h0m6 2h0m0 0h0m4 4h0m3 14h0m11-14h0m4 0h0m5 9h0m2-3h0m10 1h0m9-1h0m2-12h0m34 6h0m27-9h0m-324 24h0m173 4h0m38-3h0" stroke="#0a0a0a" stroke-width="13" stroke-linecap="round" fill="none" opacity="1"/>
<path transform="scale(.1)" d="m1409 588h0m9 2h0m27 4h0m21-1h0m0-3h0m-161 12h0m5 6h0m17 13h0m1 2h0m2-15h0m24 2h0m10 7h0m4-10h0m3 8h0m19 6h0m22 1h0m4-5h0m91-13h0m12 20h0m17 0h0m10-11h0m60-1h0m7 7h0m5-4h0m-460 27h0m13 3h0m5 1h0m15 1h0m19-8h0m3-5h0m7 1h0m5-3h0m27 5h0m2-3h0m15 10h0m3-1h0m19-3h0m6 8h0m5-6h0m2-3h0m0-4h0m6 2h0m11-8h0m8 3h0m3 4h0m9-8h0m4 8h0m35-2h0m36 9h0m4-17h0m4 8h0m5-1h0m11 13h0m2-21h0m2 1h0m3 7h0m5-8h0m2 20h0m19-14h0m14-5h0m7 3h0m17 10h0m3 1h0m0 4h0m8 1h0m9-14h0m25-4h0m14 9h0m31-5h0m-423 30h0m4 6h0m9 2h0m5-13h0m8 13h0m7-7h0m3 10h0m5-9h0m4-5h0m4 9h0m1 3h0m16-18h0m11 21h0m4-22h0m18 10h0m2 8h0m9 5h0m12-11h0m3 10h0m0-10h0m4 7h0m16-11h0m2-7h0m3 5h0m31-5h0m12 11h0m20-13h0m12 15h0m28-9h0m1 14h0m5-15h0m5 16h0m1 2h0m1-19h0m0 17h0m4-4h0m5-1h0m4 3h0m7-17h0m6 20h0m5-16h0m56 15h0m10-20h0m7 18h0m4-9h0m9 8h0m1 1h0m1-14h0m6 16h0m2-17h0m23 16h0m2-19h0m13 2h0m1 14h0m3-11h0m7 14h0m10-12h0m9 16h0m16-12h0m5-8h0m3-2h0m11 6h0m3 16h0m48-4h0m5-4h0m2 0h0m-585 9h0m22 20h0m15 0h0m6-16h0m2 20h0m30-24h0m1 18h0m29-6h0m8-10h0m8 22h0m1-12h0m24-7h0m0 0h0m3-3h0m2 14h0m12-3h0m9-10h0m4 8h0m29-9h0m7 5h0m7-6h0m2 23h0m0-4h0m2-18h0m2 2h0m5 2h0m25 16h0m5-8h0m1 3h0m10-12h0m1 11h0m4-12h0m9 0h0m10 14h0m3-3h0m12 9h0m12-22h0m4 17h0m7-9h0m16 0h0m1 6h0m4 7h0m8-4h0m0 0h0m17-12h0m0 15h0m1-19h0m1 10h0m3 8h0m24 1h0m27-13h0m9 6h0m11-2h0m12 4h0m20-17h0m5 10h0m12 10h0m4 4h0m26-20h0m6 4h0m9-2h0m8 1h0m-604 31h0m15 10h0m30-17h0m9 6h0m23 2h0m14-8h0m2 2h0m6 16h0m36-5h0m7-13h0m3 15h0m14-2h0m3-15h0m10-1h0m14 6h0m25 6h0m12-8h0m0-6h0m5 5h0m8-4h0m3 11h0m3 11h0m7-19h0m6 18h0m4-5h0m7-9h0m7 4h0m9-11h0m11 2h0m3-3h0m15 8h0m20 15h0m3-16h0m10 13h0m0-19h0m3 1h0m1 14h0m2-3h0m3-9h0m1 17h0m1-8h0m1-2h0m1 1h0m0-1h0m4 4h0m3-11h0m2 1h0m5 16h0m0-20h0m4 0h0m24 7h0m3-7h0m1 7h0m4 4h0m3 7h0m10-5h0m2-15h0m7 22h0m14 0h0m0-11h0m6-8h0m4 18h0m1 1h0m13-13h0m0 3h0m15 0h0m2 5h0m14 5h0m14-16h0m20 10h0m10-7h0m6 8h0m3-3h0m7 6h0m3 4h0m8-9h0m16 5h0m4 2h0m21-14h0m1-2h0m2 11h0m23-12h0m20 10h0m-715 30h0m35-2h0m30 4h0m4-7h0m9-5h0m2-5h0m17 12h0m1-15h0m3 0h0m5 11h0m40-3h0m19 4h0m15-2h0m6-6h0m7-3h0m4-3h0m7 20h0m1-3h0m22-6h0m1-5h0m24-3h0m4 13h0m9 6h0m8-12h0m3 3h0m19-7h0m17 0h0m0 0h0m12 5h0m3 4h0m10-14h0m25 0h0m23 5h0m4 2h0m26 3h0m4 2h0m10 1h0m6-12h0m4 3h0m8 9h0m12-7h0m0 3h0m7-6h0m1 20h0m30-5h0m12-3h0m2 6h0m1-13h0m12-8h0m3 16h0m10 6h0m8-8h0m2 6h0m14-17h0m14 12h0m18-15h0m10 16h0m10 6h0m42-16h0m0 3h0m12 13h0m4-10h0m31-6h0m53 13h0m3 2h0m8 0h0m8 1h0m-783 2h0m7 23h0m4-16h0m14 15h0m3-2h0m30-13h0m3-1h0m6 0h0m40 17h0m1-20h0m11 21h0m8-22h0m13 9h0m7 5h0m7-9h0m9 17h0m5-24h0m24 0h0m6 11h0m9 6h0m11-5h0m7 9h0m3-1h0m6-12h0m3 11h0m3 0h0m1-18h0m10 8h0m8-7h0m2 15h0m5-17h0m1 23h0m1-19h0m15 15h0m1-10h0m0-7h0m4 20h0m8-15h0m27 7h0m15 0h0m36-10h0m4 0h0m4 13h0m9 5h0m14-19h0m7 12h0m1 7h0m0-21h0m3 12h0m1-3h0m6 13h0m2-13h0m3 12h0m2-2h0m13-20h0m48 2h0m27 3h0m7-5h0m2 5h0m24-1h0m4 20h0m6-7h0m11 2h0m1-14h0m17 17h0m2-11h0m1 11h0m11-14h0m11 10h0m5-1h0m0-13h0m7 12h0m6-6h0m14-7h0m4 7h0m1-8h0m9 14h0m1-10h0m1-4h0m12 7h0m6 10h0m1-15h0m1 5h0m9 1h0m0 5h0m2 2h0m32-16h0m20 9h0m41-6h0m15 16h0m2 0h0m-832 16h0m3 9h0m7-7h0m3-8h0m9 0h0m8 17h0m6-1h0m4 1h0m7-9h0m7 0h0m4 6h0m2 2h0m1 3h0m5-24h0m33 23h0m1-10h0m12-9h0m4-1h0m1 21h0m4-7h0m7-15h0m16 20h0m1 1h0m3-12h0m2 6h0m7-2h0m0 9h0m0-22h0m5 22h0m5-13h0m10-1h0m17 4h0m4-3h0m1 0h0m2-10h0m8 10h0m1-4h0m5 9h0m0-15h0m12 6h0m1-7h0m3 21h0m2-21h0m4 13h0m15-7h0m14-1h0m3 15h0m5-18h0m32 12h0m3-8h0m4 1h0m5 15h0m1-21h0m2 20h0m25 1h0m5-13h0m7 3h0m0-5h0m2-3h0m1 18h0m6 1h0m4 1h0m5-1h0m2-9h0m10 10h0m3-19h0m1 11h0m0-6h0m2-3h0m1 1h0m1 0h0m2-3h0m0 7h0m2 3h0m18-8h0m1-4h0m6 19h0m8-12h0m7-9h0m8 4h0m7 9h0m2 2h0m1-7h0m5 8h0m11-11h0m10 0h0m4 11h0m2-12h0m1 15h0m11 4h0m6-13h0m2-9h0m15 20h0m2-16h0m3 9h0m16-2h0m4-8h0m3 10h0m12-13h0m1 18h0m1-1h0m6-6h0m2 2h0m14-13h0m0 9h0m1 10h0m7 2h0m16-17h0m3-1h0m5 0h0m5-4h0m11-1h0m8 1h0m0 23h0m5-2h0m22 2h0m12-21h0m2 21h0m10-19h0m14 15h0m1-13h0m1 11h0m3-6h0m16-3h0m1 1h0m0 2h0m13 6h0m0-15h0m25-3h0m9 18h0m0-1h0m10-5h0m6 1h0m10 9h0m7-13h0m16 12h0m23 2h0m-838 12h0m22-8h0m2 11h0m12 5h0m48-4h0m0-11h0m3 7h0m1 6h0m10-4h0m2 10h0m5-22h0m14 6h0m3 5h0m33 0h0m7 6h0m2 3h0m10 0h0m0-3h0m3-15h0m1 8h0m6 10h0m3-14h0m3 4h0m3 9h0m4 1h0m2 4h0m14-12h0m4 7h0m17-17h0m3 18h0m6-9h0m17 5h0m5-14h0m5 12h0m8 10h0m1-2h0m5-12h0m0 0h0m1-5h0m10 0h0m5 13h0m12-16h0m14 20h0m2-19h0m22 4h0m6 5h0m1-7h0m19 12h0m5-13h0m3 12h0m5-1h0m9 5h0m14-14h0m2 17h0m10-2h0m5-10h0m17 8h0m6 5h0m2-5h0m1 0h0m1-9h0m4-4h0m12 15h0m21-14h0m8 2h0m17 10h0m2 0h0m1-12h0m2 11h0m6 0h0m16-10h0m3 13h0m2 0h0m4-10h0m0-1h0m1-3h0m11 8h0m4 3h0m0 1h0m33 2h0m2 2h0m13-22h0m2 13h0m2-7h0m1 11h0m11-5h0m1 2h0m2 1h0m2 4h0m30-11h0m10-4h0m3 13h0m17-15h0m17 16h0m1-10h0m7 3h0m13 9h0m9 2h0m6-11h0m19-10h0m12 10h0m0-3h0m18 8h0m31-5h0m12-5h0m-909 29h0m19-1h0m12 4h0m1 10h0m12 0h0m19-19h0m2 3h0m16-7h0m12 8h0m9 10h0m7-8h0m11-6h0m3 5h0m5-10h0m0 14h0m1-5h0m9 0h0m19-5h0m2 18h0m1 2h0m14-7h0m17-7h0m7-6h0m1 16h0m20-12h0m1 4h0m6 8h0m1 4h0m2-10h0m10-5h0m10 3h0m23 12h0m1-11h0m6-9h0m5 15h0m2-14h0m1-2h0m1 17h0m2-12h0m2 5h0m1-10h0m5-2h0m7 16h0m1-14h0m3-3h0m0 1h0m3-1h0m8 11h0m1-3h0m1 8h0m2-9h0m6-3h0m19-2h0m9 20h0m1-14h0m21 0h0m7-7h0m1 11h0m1-4h0m9-4h0m3 13h0m2 1h0m11 0h0m5-15h0m10 17h0m1 3h0m3-18h0m8 17h0m15-19h0m2 14h0m1-3h0m1-7h0m4 17h0m7-9h0m2-3h0m10 5h0m3-14h0m6 16h0m1-4h0m1-11h0m6 18h0m3-22h0m1 4h0m3 5h0m5-1h0m1 3h0m2 2h0m7 8h0m11-19h0m5 4h0m3 3h0m3 12h0m1-13h0m6-5h0m7-3h0m6 1h0m0 18h0m6-3h0m1-14h0m7 20h0m7-6h0m1-12h0m4 7h0m1-5h0m5 16h0m12 2h0m25-12h0m0-7h0m3 14h0m2 1h0m12-8h0m2-9h0m11 15h0m3 3h0m2-1h0m7 0h0m5-16h0m9 11h0m1-8h0m1 14h0m7-8h0m0-2h0m11-11h0m7 15h0m13 6h0m5-2h0m6-10h0m18 9h0m25-15h0m9-2h0m4 13h0m6 4h0m13-13h0m7 10h0m1 5h0m12-4h0m3 5h0m2 3h0m3-1h0m21-19h0m9 17h0m2-16h0m14 1h0m18 10h0m3-10h0m7-1h0m11 17h0m2-21h0m0 14h0m30 4h0m-976 13h0m7 15h0m7-10h0m7 2h0m4 5h0m3-2h0m2 0h0m22 3h0m3-13h0m7 8h0m2-8h0m2-7h0m10 3h0m6 20h0m17 0h0m3-21h0m15 10h0m6 3h0m21 8h0m4-10h0m2 11h0m12-16h0m3 14h0m9-17h0m2-4h0m10 9h0m28 13h0m17-11h0m5 4h0m9-2h0m5 0h0m4-14h0m6 23h0m18-4h0m3 2h0m9-4h0m3-8h0m1 8h0m6 6h0m23-8h0m11 7h0m2-9h0m0-13h0m8 15h0m1-8h0m4 0h0m3-3h0m3 6h0m1-6h0m3-3h0m5 18h0m35-14h0m4 4h0m8 5h0m5-9h0m6 19h0m4-15h0m7 2h0m30 4h0m4-13h0m6 13h0m12-4h0m28 10h0m7-9h0m4 0h0m5 0h0m9 12h0m2-21h0m1 8h0m1 12h0m2-21h0m1 17h0m5-2h0m10-2h0m3-3h0m19-11h0m3 22h0m2-16h0m1 7h0m0-1h0m1-7h0m1 4h0m3 3h0m4 8h0m7 0h0m6-16h0m8 16h0m3-16h0m4 14h0m0 2h0m1-16h0m1 17h0m1-20h0m5 5h0m2 15h0m21-1h0m5-9h0m6-10h0m1 11h0m1 9h0m3-13h0m2 8h0m3-9h0m22 11h0m0-11h0m3 8h0m6-13h0m13 5h0m4 14h0m1-5h0m4 2h0m3-16h0m6 2h0m7 18h0m8-2h0m22-5h0m26 1h0m1-14h0m4 8h0m30 4h0m5-15h0m24 22h0m24 1h0m27-18h0m1 8h0m22-9h0m-937 27h0m14-4h0m23 10h0m5-11h0m7 16h0m2 6h0m2-23h0m5 22h0m2-11h0m5 2h0m17-1h0m2-9h0m26 20h0m6-16h0m2 1h0m15-7h0m11 11h0m16-9h0m13 6h0m2-1h0m9-3h0m2 2h0m0 15h0m6-14h0m12-3h0m15 4h0m37 6h0m2-4h0m5 6h0m7-3h0m3 9h0m14-18h0m3-5h0m5 2h0m0 9h0m7-1h0m6-4h0m3 10h0m5 2h0m3-18h0m4 2h0m18 13h0m6 5h0m8-3h0m2-17h0m4 17h0m1-17h0m3 16h0m8 5h0m1-15h0m13 15h0m0-17h0m17 9h0m4 7h0m5-3h0m3-7h0m6 7h0m13 5h0m1 1h0m3-19h0m1 11h0m6 8h0m11-10h0m3 7h0m2-5h0m0-5h0m2 8h0m3-8h0m3 6h0m10-1h0m8-15h0m0 9h0m2 12h0m1-12h0m2 0h0m1 1h0m7 9h0m7-13h0m12 11h0m2 1h0m3 4h0m1-1h0m11-7h0m1-13h0m2 15h0m0-16h0m8 10h0m2 6h0m4 1h0m20 5h0m14-10h0m9-1h0m1 4h0m6-5h0m6 14h0m0-6h0m3 1h0m4-13h0m11-4h0m1 14h0m0-11h0m1 12h0m10 5h0m3-15h0m3 7h0m0 10h0m1-17h0m16 11h0m6-11h0m30 5h0m4-12h0m5 16h0m3 2h0m2-13h0m7 10h0m4-3h0m2 7h0m1-19h0m18 10h0m5 0h0m13-3h0m1 15h0m4 0h0m10-10h0m2-10h0m3 4h0m7 10h0m4 6h0m4-21h0m3 23h0m4-16h0m3 16h0m16-10h0m2-7h0m1-5h0m23 22h0m10-20h0m3 17h0m6-16h0m6 13h0m0 0h0m4-12h0m1 5h0m1 6h0m0-13h0m5 17h0m6-12h0m19 10h0m3-6h0m10 10h0m15-15h0m5-4h0m14-1h0m4 5h0m3 13h0m18-21h0m-960 46h0m53-9h0m16-5h0m12 8h0m12 0h0m3 3h0m6-6h0m8-12h0m6 13h0m3-5h0m4 16h0m4-16h0m8 10h0m5 5h0m5-13h0m3 3h0m22 6h0m15-19h0m5 23h0m1-11h0m4 2h0m0 3h0m18-14h0m4 10h0m1 9h0m10-5h0m4-4h0m3 1h0m17-3h0m11 4h0m3-8h0m4-5h0m9-2h0m2 11h0m2-9h0m7 19h0m12-18h0m3-2h0m4 0h0m2 14h0m2-10h0m2 17h0m1-16h0m12 13h0m1 0h0m3-5h0m12-14h0m1 6h0m3 10h0m7-16h0m0 6h0m15 10h0m2-16h0m1 11h0m3-11h0m8 2h0m4 13h0m0 0h0m1 7h0m13-7h0m2-14h0m4 5h0m23 9h0m3-13h0m5-1h0m1-1h0m7 3h0m0 21h0m2-22h0m6 21h0m22-15h0m5 13h0m2-14h0m2 4h0m3 13h0m21-3h0m19-21h0m2 18h0m8 4h0m4 2h0m11-13h0m12-3h0m4 10h0m15-5h0m14-2h0m2 12h0m13-7h0m5-9h0m2-2h0m3 16h0m0 1h0m8-5h0m5-2h0m3-11h0m6 13h0m0-10h0m3-7h0m19 1h0m1 3h0m4 19h0m7 0h0m35-3h0m4-10h0m5 7h0m8-14h0m6 7h0m2 7h0m8-10h0m12 2h0m7 9h0m4 2h0m17-18h0m12 9h0m15 0h0m0-1h0m24 11h0m29-9h0m2 9h0m15 0h0m0-15h0m9 6h0m2 12h0m67-13h0m-1020 24h0m14 2h0m7 9h0m27-10h0m3 2h0m7-8h0m22 14h0m10-7h0m13 7h0m8-6h0m6 8h0m1 2h0m6-22h0m13 15h0m15-9h0m4 17h0m15-12h0m23-9h0m1 8h0m15 0h0m3 3h0m22-11h0m6 12h0m3 1h0m4-6h0m11 11h0m7-20h0m12 0h0m4 2h0m1 16h0m2-9h0m1-9h0m6 4h0m5 1h0m10-1h0m14 1h0m14-2h0m6 13h0m8-3h0m2 5h0m4-9h0m25 9h0m18-18h0m3 1h0m9 13h0m3-15h0m3 6h0m1-2h0m4 20h0m7-23h0m0 3h0m4-2h0m7 5h0m2 14h0m4-12h0m4 10h0m6-10h0m3-9h0m10 9h0m1 11h0m2-18h0m0 22h0m1-15h0m3 7h0m3-4h0m3 0h0m1-9h0m18 17h0m4-11h0m9 10h0m2-6h0m5-8h0m14 19h0m14-17h0m2-2h0m10 3h0m1 12h0m3-19h0m11 20h0m12-9h0m1 11h0m2-1h0m2-5h0m7-17h0m0 3h0m6 5h0m2 15h0m1-10h0m0 1h0m5 10h0m7-11h0m4-13h0m1 0h0m8 7h0m9 8h0m13 8h0m10-20h0m3 13h0m3-3h0m3-11h0m5 8h0m1 12h0m6-9h0m2 10h0m5-1h0m18-20h0m5 0h0m7 22h0m0-5h0m2 2h0m14-17h0m7 15h0m9-9h0m0-1h0m13 2h0m1 7h0m3-10h0m2 4h0m3 3h0m2-12h0m27 19h0m10-16h0m2-4h0m3 13h0m1-9h0m12-1h0m4-5h0m3 22h0m3-11h0m6 1h0m3 11h0m12-18h0m7 0h0m30-2h0m18 17h0m1-1h0m14 2h0m1-1h0m10-20h0m25 18h0m9-3h0m10-12h0m9 9h0m27-11h0m-1039 42h0m38 2h0m15-16h0m13 5h0m9 15h0m7-10h0m2 7h0m33-3h0m27 1h0m0-15h0m0-1h0m8 17h0m11-15h0m2 18h0m1-2h0m37-6h0m8-11h0m1 9h0m12-2h0m9-9h0m3 19h0m36-6h0m0 7h0m10-15h0m3 12h0m9-4h0m1-8h0m3 2h0m2 10h0m4 4h0m0-19h0m3 15h0m1-5h0m0 3h0m3 2h0m6-5h0m2-9h0m2-1h0m18-3h0m5 11h0m5 4h0m4-9h0m8 13h0m2-4h0m4 4h0m5-13h0m11 3h0m5-4h0m1 11h0m13 0h0m1 7h0m8-13h0m6-8h0m24 0h0m3 21h0m13-12h0m3-5h0m1 7h0m1-5h0m7-3h0m5-5h0m4 5h0m13-5h0m6 21h0m0 0h0m5-18h0m6 2h0m7 0h0m2 12h0m2 5h0m11-5h0m4 2h0m13-14h0m6 0h0m12 11h0m17-4h0m0 4h0m8 2h0m5-14h0m2 13h0m6-6h0m3-5h0m9 11h0m6 6h0m5-6h0m7-13h0m4 16h0m11-12h0m1 15h0m6-1h0m1-8h0m2-5h0m14 11h0m1-10h0m3-4h0m17-2h0m1 4h0m1 9h0m4-9h0m1 12h0m11-12h0m1 7h0m0-7h0m4 4h0m1-6h0m2 3h0m4 7h0m6-7h0m0-1h0m6 14h0m5-17h0m9 2h0m6-2h0m12 11h0m2-16h0m4 12h0m3-9h0m14 7h0m4 2h0m14-2h0m17 12h0m8-3h0m4-19h0m0 5h0m4 1h0m7 13h0m3-17h0m1 11h0m1-13h0m10 17h0m2 1h0m2-4h0m8 1h0m1 4h0m4-20h0m13 8h0m2 9h0m3-9h0m8 7h0m13 9h0m11-6h0m9 4h0m13-10h0m5-2h0m1 12h0m7-9h0m17 6h0m6 0h0m10-11h0m4-7h0m9 18h0m2 0h0m38 1h0m-1029 15h0m21 11h0m1-21h0m27 22h0m19-12h0m16 5h0m9-2h0m3-7h0m1-4h0m1 1h0m4 1h0m4 11h0m10 6h0m14 0h0m3 0h0m8 2h0m2-21h0m16 17h0m9 2h0m1-14h0m2-4h0m4 14h0m18-1h0m15 8h0m6-16h0m17 16h0m1-16h0m10 9h0m19 3h0m6-12h0m7 2h0m2-5h0m9-5h0m4 23h0m1-9h0m1-6h0m3-7h0m2-1h0m1 7h0m2 11h0m11-18h0m3 0h0m4 18h0m2-7h0m7-2h0m8 7h0m11-3h0m20-4h0m3-8h0m6 1h0m2 22h0m1-24h0m1 21h0m0-5h0m6 8h0m7-20h0m0 5h0m4 12h0m2-9h0m7 1h0m3 6h0m7 3h0m3 2h0m1-9h0m11-10h0m0 2h0m3 8h0m3-9h0m3 12h0m1-13h0m3 4h0m4 13h0m4-4h0m2 6h0m2-11h0m0-6h0m1-6h0m15 1h0m3 17h0m1 1h0m1-18h0m0 4h0m3 4h0m0-4h0m23-1h0m17 15h0m4-8h0m2 8h0m10-2h0m8-4h0m3 6h0m2 2h0m8-7h0m2 4h0m0 2h0m10-7h0m1-6h0m1 4h0m8 5h0m14 6h0m4 1h0m4-10h0m2-8h0m3 4h0m24 3h0m6 5h0m9-13h0m21 2h0m6 5h0m4-12h0m0 12h0m2-3h0m8-2h0m1-7h0m6 19h0m5-14h0m1-4h0m11 13h0m3-6h0m1 12h0m11 2h0m3-16h0m0 18h0m11-19h0m4 9h0m3-7h0m2 1h0m5-8h0m3 20h0m3-7h0m5 9h0m3-5h0m2-15h0m3 7h0m8-4h0m7 9h0m1-10h0m4 2h0m6-6h0m7 13h0m4-5h0m11 9h0m6-13h0m4-4h0m1 5h0m2-4h0m2 22h0m5-7h0m5 3h0m12 3h0m7-13h0m3 4h0m16-8h0m14 13h0m10-4h0m2-6h0m10 5h0m5 7h0m7-18h0m19-2h0m13 2h0m8 4h0m0-3h0m9 6h0m1 14h0m12-20h0m1 19h0m0-10h0m6 0h0m35-12h0m-1080 46h0m22-21h0m12 18h0m13-16h0m6 21h0m1-23h0m11 23h0m2-16h0m4-3h0m0 8h0m14 0h0m3-11h0m13 15h0m25-4h0m2-7h0m6 18h0m2-18h0m2 2h0m4-2h0m1 11h0m4-2h0m1 9h0m1-9h0m2-9h0m6 3h0m3 10h0m2 1h0m6-19h0m3 7h0m6 5h0m3 5h0m2-15h0m13 6h0m3 7h0m0 4h0m7-17h0m4 1h0m19 8h0m1-3h0m2 0h0m26 11h0m0-4h0m9-12h0m6 13h0m1 3h0m2-7h0m8-11h0m2 21h0m7-2h0m4-19h0m4 22h0m0-21h0m24 3h0m0 8h0m7-1h0m12-7h0m1 4h0m2 10h0m8-3h0m17-10h0m3 14h0m21 4h0m3-2h0m1-7h0m3 3h0m6-5h0m3-11h0m9 3h0m11 10h0m9-13h0m2 17h0m5-6h0m7-12h0m1 19h0m1 4h0m11-6h0m5-7h0m22 12h0m3-15h0m1 16h0m1-22h0m4 5h0m2 15h0m1-22h0m14 7h0m2 10h0m1 2h0m4-5h0m2-11h0m4 0h0m1 5h0m4 4h0m1 2h0m1-11h0m0 17h0m10-14h0m3 2h0m22 3h0m2-8h0m14 11h0m7 8h0m8-15h0m1 14h0m5-13h0m2-7h0m7 16h0m7-14h0m17-2h0m23 14h0m11-11h0m17 3h0m1 2h0m6 15h0m1-19h0m6 18h0m2-22h0m5 1h0m1 20h0m1-11h0m2 6h0m3-10h0m2 4h0m0 8h0m16-5h0m1 6h0m2-2h0m9 0h0m0-16h0m18 5h0m3-1h0m0 9h0m1 2h0m0-15h0m1 3h0m2-1h0m1 7h0m15 1h0m0 0h0m12-1h0m2-8h0m1 6h0m3-7h0m1 0h0m2 18h0m8-4h0m2 5h0m3-7h0m3-13h0m5 1h0m2 6h0m3 12h0m8-6h0m4 4h0m10-2h0m4-5h0m11 2h0m1 6h0m9-13h0m3-3h0m11 0h0m1 19h0m3-12h0m0-8h0m26 8h0m1 3h0m2-4h0m4 11h0m13 2h0m10 0h0m0-18h0m6 14h0m2-4h0m6-8h0m11 0h0m6-3h0m28 15h0m12-10h0m1-4h0m11 15h0m9-17h0m20 15h0m-1080 11h0m29 9h0m52 9h0m16-11h0m10 3h0m6-6h0m4 11h0m8-17h0m10 2h0m8 8h0m1-6h0m18 14h0m6-15h0m18 13h0m2 2h0m20-5h0m4 5h0m9 2h0m1-5h0m4 2h0m11-1h0m8 4h0m3 0h0m1-14h0m9-3h0m13 8h0m1-10h0m8 3h0m1-4h0m8 15h0m7 0h0m3-11h0m2 6h0m5 3h0m3-2h0m4-6h0m17 14h0m4-18h0m1 9h0m2 9h0m4 3h0m3-12h0m2 4h0m2-7h0m6 15h0m1-17h0m9 17h0m0-6h0m5-7h0m4-9h0m0-1h0m4 13h0m2-4h0m9 6h0m2 0h0m13 9h0m5-18h0m8-5h0m5 8h0m4 7h0m20-6h0m5 5h0m26 8h0m1 1h0m0-2h0m2-15h0m8 3h0m3 12h0m6-18h0m3 13h0m4-2h0m4-3h0m1-5h0m5 9h0m9-5h0m5-10h0m3 13h0m1-13h0m1 2h0m2 0h0m2 0h0m1 3h0m1 9h0m5-15h0m10 9h0m1 7h0m4-7h0m0-3h0m2-4h0m3 17h0m2-14h0m12 16h0m5-7h0m5-5h0m2-9h0m8 20h0m0-1h0m20-2h0m0-1h0m1-2h0m5-10h0m3-1h0m7 12h0m6-5h0m7-2h0m2 0h0m4 15h0m9-15h0m7 9h0m0 5h0m7-4h0m12-17h0m4 16h0m0-16h0m6 0h0m10 17h0m7-10h0m34-5h0m6 20h0m1-17h0m10 18h0m9-20h0m5 2h0m2 10h0m15-7h0m0-7h0m3 22h0m5-11h0m6-7h0m2-6h0m1 4h0m3-4h0m7 15h0m2 4h0m3-2h0m11 6h0m19-9h0m2-6h0m0-6h0m2 20h0m3-2h0m2 0h0m5 3h0m7-9h0m10-13h0m3 5h0m4 18h0m3-21h0m5 7h0m5-4h0m2 16h0m0-16h0m11 5h0m7 7h0m8-15h0m6 18h0m4-11h0m4-6h0m17 10h0m3 7h0m1-13h0m4 14h0m38-14h0m3 11h0m8-1h0m6-8h0m10 10h0m13-15h0m2 8h0m34-11h0m24 14h0m9-14h0m-1091 24h0m29 15h0m1 5h0m4-1h0m8-11h0m26 6h0m2-15h0m2 11h0m16-11h0m1 22h0m1 1h0m5-21h0m12 20h0m3-10h0m2-9h0m6 5h0m4-7h0m7 23h0m16-23h0m8 15h0m0 6h0m16-13h0m8 13h0m5-22h0m5 1h0m17 14h0m0-13h0m7-2h0m9 8h0m3 7h0m4 9h0m4-6h0m5-15h0m17 16h0m13 5h0m5-15h0m11 8h0m7-1h0m1-7h0m2-7h0m3 7h0m6-5h0m4 11h0m1-5h0m4-2h0m13 7h0m0-13h0m4 12h0m3 10h0m1-20h0m3 5h0m4-3h0m4 3h0m16-7h0m1 22h0m8-5h0m10 4h0m7-14h0m2 10h0m11 3h0m8-22h0m4 3h0m1 12h0m1-4h0m6-7h0m2-4h0m8 13h0m2-4h0m3 0h0m4-7h0m5 0h0m2 20h0m6-16h0m6 14h0m4 3h0m7-19h0m0 1h0m5 5h0m3 13h0m4-1h0m2-3h0m6-8h0m8-7h0m0 0h0m12 15h0m3-5h0m5 3h0m20-11h0m9 2h0m3 2h0m4 9h0m3-19h0m4 16h0m10 1h0m18-12h0m1 15h0m3-9h0m1-6h0m6 13h0m9-15h0m3 1h0m21 12h0m4-3h0m3 5h0m1-4h0m1-5h0m7 8h0m1-12h0m1 12h0m3-8h0m2 11h0m7-18h0m2 16h0m2 6h0m5-12h0m10-4h0m0 15h0m9-12h0m0 13h0m2-9h0m4 0h0m5 0h0m3 4h0m8 4h0m6-8h0m2-5h0m5 2h0m8 3h0m6-6h0m2 13h0m3-7h0m2 4h0m6-1h0m2 3h0m1 1h0m1-10h0m7 6h0m7-5h0m0 4h0m2 2h0m1-6h0m6 4h0m1-9h0m0 7h0m7-4h0m1 4h0m0-7h0m11 1h0m5 12h0m5 2h0m3-11h0m1-6h0m1 11h0m38 5h0m3-5h0m1 6h0m3-14h0m3-5h0m6 17h0m10-8h0m6 6h0m6-4h0m1-13h0m5 11h0m2-1h0m11 2h0m14 0h0m0-1h0m5-9h0m4 11h0m5-6h0m5 5h0m4 9h0m12-17h0m9 18h0m2-12h0m1-11h0m3 20h0m3 3h0m7-6h0m1 1h0m44 2h0m2-2h0m2-13h0m1 11h0m1 5h0m26-1h0m3 3h0m12-20h0m-1112 34h0m16 8h0m36 0h0m2-13h0m28-5h0m3-1h0m0 3h0m2 12h0m3 4h0m6 0h0m11-4h0m6-15h0m6 8h0m6 5h0m1-1h0m2-1h0m14-3h0m20 0h0m30-1h0m1-2h0m7-7h0m2 1h0m3 15h0m0 2h0m23 1h0m13-9h0m7-8h0m0 8h0m3-8h0m6 20h0m22-8h0m5-10h0m7 5h0m2-4h0m3 6h0m11-3h0m2 5h0m30-4h0m2 1h0m4-8h0m12 9h0m1 5h0m3 0h0m6-6h0m0 9h0m1-13h0m0 9h0m4-1h0m0 6h0m1-12h0m7 3h0m2-5h0m3 6h0m1-5h0m7 12h0m1-16h0m3 1h0m7 20h0m6-2h0m2-9h0m12-12h0m12 2h0m4 4h0m7-4h0m0 6h0m1 8h0m1-10h0m4 2h0m0 2h0m3-10h0m3-1h0m1 24h0m0-16h0m25 1h0m22 8h0m3-3h0m0 7h0m0 2h0m7 1h0m10-7h0m5-17h0m0 19h0m9-17h0m6 21h0m2-9h0m4-14h0m12 0h0m2 2h0m18 9h0m2 12h0m4-4h0m1 2h0m1-20h0m9 14h0m0 4h0m9 5h0m4-23h0m3 21h0m4-21h0m6 8h0m6 10h0m6-13h0m10 2h0m4-7h0m4 11h0m5-5h0m1 6h0m5-6h0m7-5h0m12 0h0m5 4h0m3-6h0m2 22h0m0-5h0m1-15h0m3 5h0m9 13h0m10-14h0m1-6h0m7 12h0m2-11h0m2 6h0m2 15h0m9 1h0m0-14h0m8-5h0m1 13h0m9 1h0m2-6h0m2-4h0m1-1h0m4 2h0m10 2h0m7 8h0m14-10h0m4 3h0m11 8h0m5-13h0m1-1h0m4 9h0m15-9h0m12 11h0m3-11h0m2 0h0m1-4h0m11 5h0m10 9h0m1-15h0m1 2h0m15 1h0m0 15h0m12-6h0m3-11h0m7 10h0m2 10h0m1-17h0m20-1h0m4-4h0m1 23h0m14-1h0m0-9h0m21 1h0m29-12h0m3 7h0m16 10h0m4-3h0m4 8h0m6-16h0m1 3h0m18-11h0m2 10h0m2-9h0m5 9h0m9 6h0m3 3h0m3-14h0m16-1h0m20 1h0m6 11h0m-1104 9h0m9 7h0m18 7h0m1-10h0m2 16h0m9 1h0m19-13h0m3 5h0m5-8h0m1 19h0m9-11h0m1 3h0m54 6h0m14-19h0m16 5h0m23-6h0m1 17h0m2 3h0m1-18h0m8 6h0m25 13h0m11-12h0m3 8h0m7 5h0m2-6h0m14-1h0m2-6h0m11 11h0m2-17h0m7 15h0m7-8h0m2 11h0m4-1h0m0-5h0m1 1h0m7-12h0m6 4h0m3 3h0m4-8h0m9-4h0m5 23h0m25-6h0m1 2h0m9-14h0m1 8h0m1-5h0m3 13h0m3-5h0m6-4h0m4-1h0m2 7h0m8 4h0m4-8h0m5 3h0m4-11h0m1 12h0m2 2h0m8-7h0m2 0h0m4 10h0m2-12h0m3 10h0m4-10h0m0 3h0m0-9h0m2-1h0m3-1h0m1-2h0m9 15h0m1-8h0m2-8h0m5 10h0m12 7h0m1-4h0m17-3h0m12-10h0m0 15h0m1-15h0m5 2h0m4 1h0m5 1h0m0-2h0m6 0h0m2-1h0m17 19h0m3 0h0m2-19h0m5 3h0m14 19h0m13-4h0m1-17h0m2 2h0m5 11h0m8 3h0m2-7h0m3-4h0m4-7h0m4 20h0m7-15h0m8 14h0m0-18h0m1 11h0m1-1h0m5 6h0m7 2h0m13-5h0m2-4h0m0-3h0m5 11h0m15 3h0m5 2h0m1-12h0m1 7h0m2-13h0m2 12h0m4-17h0m2 12h0m4-7h0m9-5h0m3 12h0m1-1h0m6 0h0m0-10h0m2 17h0m2-10h0m2 5h0m11-1h0m3 1h0m2-3h0m2-3h0m11 8h0m2 8h0m1-1h0m6-3h0m13-3h0m5-15h0m6 4h0m1 4h0m2-7h0m4 5h0m3 11h0m18-2h0m0-9h0m2 1h0m20 0h0m4-6h0m5 20h0m1 0h0m8-3h0m1-19h0m1 16h0m1 5h0m1-15h0m1 2h0m2 15h0m5-19h0m4 9h0m4-10h0m2 13h0m6-2h0m14-9h0m2 11h0m1 4h0m3-10h0m13 4h0m8-14h0m3 14h0m5-6h0m5-9h0m22 4h0m12 20h0m1-19h0m1 0h0m1 11h0m12 8h0m11-16h0m6-2h0m5 9h0m9 5h0m17 3h0m4-21h0m2 16h0m4-11h0m15 0h0m10 5h0m22-4h0m-1083 32h0m17 3h0m12 3h0m9-4h0m2-1h0m12-13h0m16 16h0m2 4h0m3-20h0m1 21h0m3-2h0m0-2h0m0-16h0m0-1h0m12-1h0m6 4h0m0 2h0m1 5h0m14 5h0m11 2h0m2 0h0m11-4h0m0-1h0m29-11h0m7 18h0m11-16h0m19 14h0m6-12h0m8 3h0m0 10h0m1-15h0m7 14h0m11-1h0m5-2h0m21-16h0m6 5h0m4 6h0m4 5h0m11-9h0m10 7h0m8-3h0m16-9h0m1 10h0m28 3h0m1 0h0m3-6h0m25-6h0m3 7h0m1-4h0m7 17h0m5-1h0m3-3h0m11-2h0m1-5h0m9-12h0m1 5h0m7-6h0m2 8h0m9 14h0m15-18h0m13 5h0m9-6h0m1-3h0m3 12h0m27 7h0m4-9h0m1 7h0m2-9h0m5 6h0m7-8h0m10 12h0m1-11h0m2-5h0m3 15h0m1 4h0m3-16h0m12 19h0m3-1h0m2-14h0m3 4h0m2-13h0m16 4h0m4 1h0m8 17h0m14-17h0m1 1h0m9 8h0m0 3h0m1 3h0m4-15h0m3 13h0m3-12h0m12 14h0m9-16h0m1 0h0m9 11h0m9 8h0m1-9h0m6-3h0m5 6h0m4-17h0m12 2h0m5 19h0m3-11h0m3 7h0m12-16h0m1 6h0m18 2h0m1-1h0m1 0h0m1 8h0m0 2h0m1-5h0m5 10h0m4-15h0m1-1h0m3-7h0m12 14h0m7-14h0m4 10h0m1 14h0m1 0h0m8-8h0m1 0h0m2-10h0m21 15h0m3-2h0m0-6h0m3 3h0m2-11h0m3 14h0m6 5h0m15-7h0m11-14h0m1 19h0m4-20h0m1 15h0m6-14h0m2 15h0m4 4h0m5-6h0m6-13h0m1 2h0m7 2h0m1-2h0m1-2h0m3 9h0m0-11h0m12 19h0m0-1h0m15 2h0m12-17h0m1 12h0m13 8h0m2-14h0m23 6h0m6-10h0m1 9h0m6-8h0m5-4h0m0 5h0m14-1h0m1 7h0m9 0h0m5-3h0m13 6h0m37-13h0m13 12h0m35 4h0m1-16h0m-1133 26h0m25 5h0m7-4h0m4 6h0m10-10h0m9 15h0m1-14h0m7 18h0m25-2h0m10 0h0m9-2h0m5-17h0m0 11h0m33 10h0m3 3h0m5-3h0m2 1h0m30-19h0m1 21h0m8-11h0m13 1h0m1-8h0m36 2h0m4 7h0m7-2h0m7 4h0m0-2h0m1 1h0m4 5h0m7-21h0m3 7h0m5-6h0m18-1h0m1 16h0m4 0h0m9-14h0m2 22h0m2-5h0m2 1h0m7-11h0m7 2h0m2 8h0m2-17h0m14 14h0m0-13h0m1 9h0m11 5h0m13-5h0m1 4h0m3 4h0m1-15h0m16 10h0m1-7h0m2 12h0m6 2h0m2-10h0m1 9h0m4 0h0m3-16h0m1 17h0m15-21h0m9 21h0m16 2h0m1-8h0m10-14h0m2 2h0m7 13h0m5-6h0m2 6h0m1 1h0m2 5h0m6-14h0m8 10h0m4-8h0m9 11h0m8-1h0m7-5h0m1-13h0m8-2h0m4 7h0m6 9h0m2 3h0m0 0h0m2-1h0m5 1h0m3-6h0m7 8h0m3-5h0m4 4h0m9-8h0m4-13h0m2 21h0m5-1h0m1 3h0m2-23h0m4 13h0m0-12h0m1 14h0m2-13h0m1 21h0m8-11h0m8-2h0m5 11h0m1-4h0m5-5h0m4-3h0m5 8h0m2-6h0m2 9h0m26-5h0m0 1h0m5-10h0m2-4h0m0 14h0m2-16h0m2 5h0m7 9h0m0 10h0m6-2h0m20-16h0m1 6h0m4 7h0m9-15h0m8 6h0m1-7h0m2 21h0m4-2h0m2-16h0m0 17h0m4-9h0m8-13h0m2 21h0m1-19h0m10 3h0m6 15h0m6-16h0m1 19h0m11-9h0m2 0h0m3-14h0m4 7h0m7 12h0m3-5h0m0 7h0m45-3h0m5-13h0m3 5h0m1 4h0m2-1h0m23 9h0m6-18h0m3-1h0m1 15h0m10-18h0m4 19h0m3-2h0m7 2h0m9-8h0m4 7h0m5-19h0m1 14h0m2-7h0m1 9h0m2 1h0m12-10h0m10-6h0m5 15h0m15-6h0m14-9h0m0 2h0m0 0h0m3 17h0m9-5h0m13 0h0m0 5h0m3 4h0m5-10h0m23 5h0m26-19h0m21 0h0m-1117 37h0m8-10h0m12 7h0m8 4h0m40 10h0m7 0h0m13-12h0m5 12h0m1-17h0m14 10h0m4-14h0m8-2h0m24 8h0m15 12h0m4-5h0m4-1h0m14 8h0m13-4h0m9 3h0m5-12h0m6 2h0m10 11h0m3-16h0m1 0h0m15 6h0m21 10h0m1 2h0m3-24h0m7 5h0m7-3h0m1 13h0m13 4h0m1-12h0m9-1h0m3 9h0m7-11h0m0 18h0m1-13h0m1 15h0m3-3h0m6-9h0m7 9h0m0-10h0m3 13h0m4-5h0m4-9h0m24 5h0m1 6h0m11-1h0m3 2h0m1-5h0m0-3h0m7-13h0m8 1h0m5 12h0m2-7h0m3-5h0m3 9h0m0 6h0m18-12h0m1 12h0m5-16h0m6 11h0m2 0h0m4-12h0m8 24h0m3-24h0m4 19h0m5-8h0m0 13h0m8-1h0m3-4h0m7-2h0m9-4h0m4-1h0m1 5h0m8-16h0m6 7h0m4 10h0m7-15h0m7 5h0m6 1h0m2 3h0m2-5h0m2-1h0m0 3h0m4 15h0m0-13h0m2 1h0m2-8h0m3 5h0m1 4h0m3 2h0m2 5h0m14-8h0m7-11h0m2 19h0m5-16h0m3 14h0m2-8h0m2-9h0m19 0h0m5-1h0m0 5h0m2 19h0m12-18h0m2 11h0m3 1h0m0-9h0m1-7h0m7 5h0m1-1h0m0 12h0m18 4h0m7-11h0m0-10h0m1 19h0m12 3h0m8-1h0m0-6h0m4-10h0m0 9h0m4 6h0m5 3h0m0-19h0m2 14h0m7 5h0m2-14h0m2-7h0m0-1h0m1 7h0m8-9h0m12 8h0m7-1h0m4 14h0m10-6h0m12 0h0m1-8h0m24 12h0m1 5h0m1-20h0m4 19h0m14-7h0m2-14h0m2 13h0m7-8h0m5-3h0m4 12h0m3 3h0m10-10h0m1 2h0m0 12h0m10-4h0m6-1h0m1 1h0m8-9h0m13-9h0m15 20h0m1-18h0m33 19h0m0-22h0m6 4h0m24 18h0m1-2h0m9-4h0m10-5h0m35-5h0m4 4h0m4 1h0m24-6h0m6 18h0m25-11h0m1-4h0m3 6h0m35-11h0m-1108 43h0m3 3h0m21-6h0m10-1h0m14 2h0m4-1h0m23-1h0m2-17h0m7 5h0m1-5h0m2 10h0m36 11h0m1-13h0m20 9h0m4-17h0m6 20h0m4-13h0m1 17h0m16-10h0m3 2h0m7-16h0m5 21h0m4-11h0m2-5h0m1 17h0m16-5h0m12 3h0m2-1h0m1 3h0m19-10h0m1-10h0m2 7h0m1 12h0m3 1h0m5-14h0m2 5h0m18-1h0m25-12h0m6 18h0m2-2h0m5-7h0m1-9h0m4 5h0m6-5h0m2 4h0m3 9h0m1 2h0m17 5h0m3-20h0m5 18h0m4-10h0m1 10h0m10-8h0m4 11h0m2-15h0m6 7h0m3 6h0m7-10h0m17 6h0m0-11h0m1 10h0m1-6h0m5-8h0m14 24h0m0-5h0m1-7h0m3 3h0m3-4h0m1-5h0m9-3h0m10 2h0m2 4h0m3 4h0m6 10h0m6-4h0m3 0h0m13-8h0m0 2h0m4-6h0m5 17h0m6-18h0m5 9h0m5-15h0m10 3h0m3 17h0m14-3h0m2 6h0m2-9h0m18 5h0m9-7h0m3-9h0m1 1h0m9 10h0m14-12h0m5 15h0m4-5h0m2-9h0m1 0h0m14 20h0m1 0h0m6-9h0m7 5h0m1 2h0m1-7h0m1 3h0m2-1h0m5-13h0m7-1h0m10 1h0m2 4h0m6 0h0m1-5h0m1 7h0m0 4h0m8 2h0m2 9h0m8-4h0m1 2h0m2 1h0m12-15h0m4 16h0m0-7h0m3-5h0m6 8h0m18-2h0m14 6h0m14-6h0m9-6h0m6 11h0m22-11h0m1-9h0m10-2h0m2 11h0m8 4h0m3-3h0m9 3h0m1 8h0m8-8h0m1-12h0m10 2h0m10-1h0m3 6h0m6-4h0m15 12h0m6-4h0m8-12h0m1-1h0m32 18h0m6-1h0m4-13h0m7 3h0m1 0h0m10-1h0m0 14h0m4-2h0m20 0h0m13-9h0m7 1h0m4-1h0m13 9h0m18 1h0m18-21h0m-1076 38h0m24-10h0m6 11h0m1-12h0m14 3h0m7 11h0m4-10h0m9 18h0m3-15h0m1-5h0m18 15h0m3 0h0m1-9h0m2 2h0m7-1h0m3 8h0m16 1h0m10-16h0m3 18h0m23 2h0m20-1h0m10-14h0m5 12h0m1-17h0m2 13h0m7 0h0m2-6h0m3 12h0m9-15h0m12 16h0m3 0h0m13-24h0m0 11h0m0 7h0m3-17h0m0 6h0m13 9h0m1 1h0m5 4h0m4-14h0m7 14h0m5-16h0m1 5h0m5-2h0m12-3h0m0 15h0m4-2h0m16-5h0m4-5h0m8 2h0m3 10h0m0-7h0m1-12h0m8 12h0m2-5h0m7-4h0m5 13h0m1-14h0m14-2h0m4 9h0m5-6h0m1 4h0m5 11h0m0-6h0m2 3h0m38-12h0m9 4h0m4 0h0m10-3h0m3 8h0m8 10h0m19-6h0m4-15h0m0 3h0m5 2h0m4 0h0m4 15h0m5-16h0m2 2h0m21 4h0m0-7h0m10-1h0m15 9h0m5 11h0m7-2h0m2-13h0m6 2h0m3 9h0m2 0h0m1-2h0m1-12h0m9 9h0m8-14h0m8 15h0m7 2h0m19-3h0m1-8h0m1 16h0m12-11h0m7-11h0m9 23h0m3-18h0m1 13h0m4-1h0m3-7h0m2 0h0m25 6h0m11 0h0m13 4h0m2-9h0m4-10h0m14 12h0m33-6h0m2 2h0m2 11h0m3-17h0m1 20h0m4-1h0m9-16h0m0 12h0m4 2h0m1-14h0m5 3h0m32 2h0m5 12h0m2-6h0m5 1h0m16-12h0m8 11h0m20 6h0m4-9h0m10 5h0m12-14h0m3 13h0m21-19h0m1 22h0m1-3h0m1-5h0m2 10h0m2-14h0m2-10h0m7 17h0m6 4h0m1-1h0m5-14h0m7 1h0m2 16h0m6-5h0m5-3h0m2-15h0m4 4h0m8 18h0m8-15h0m1-5h0m1-2h0m10 16h0m5 2h0m2-13h0m7 9h0m1-8h0m9-4h0m2 18h0m8-15h0m6-4h0m38 5h0m-1101 40h0m26-4h0m27-16h0m14 3h0m6 16h0m4-19h0m9 23h0m2-5h0m13-5h0m3 4h0m12 5h0m6-17h0m10 11h0m12-17h0m7 2h0m6 14h0m15-3h0m3-3h0m5-1h0m6-9h0m8 3h0m2 1h0m11 20h0m0-11h0m3-4h0m1 0h0m1 4h0m1 3h0m16 0h0m22-16h0m7 17h0m5-12h0m12 14h0m1-5h0m5 8h0m1-22h0m10 8h0m13 4h0m14 4h0m1-6h0m1-2h0m2 12h0m3-16h0m2 16h0m3-17h0m3 20h0m2-7h0m7 1h0m12-13h0m2 5h0m2-9h0m9 16h0m3-14h0m1 7h0m7-6h0m6 8h0m3 3h0m9-11h0m4-2h0m5 13h0m3-9h0m0 18h0m7-8h0m0-3h0m3 5h0m0 6h0m26-8h0m5-5h0m1-8h0m5-2h0m0 11h0m6 2h0m3 9h0m7-17h0m6 5h0m0 1h0m2 2h0m8-7h0m0 5h0m1-4h0m5 9h0m5-14h0m1 7h0m7 3h0m2 5h0m4-13h0m0 19h0m4-13h0m9 7h0m21-12h0m2-2h0m7 7h0m1 2h0m7-7h0m1 0h0m2 6h0m5 8h0m0-12h0m0 1h0m1 6h0m1 9h0m6-9h0m8-6h0m8 13h0m1-13h0m5-1h0m1 7h0m8 8h0m4-22h0m7 10h0m3-7h0m3 0h0m2 7h0m1 0h0m8-1h0m0-5h0m2-1h0m8 4h0m5 1h0m6-3h0m4-2h0m5 20h0m4-18h0m0-3h0m17 14h0m2-15h0m0 8h0m2-6h0m0 5h0m2 5h0m4 7h0m6 1h0m1-11h0m19 1h0m9 10h0m7-18h0m7 14h0m1-1h0m3 2h0m9-12h0m9 10h0m14-16h0m10 23h0m6-3h0m13 4h0m3-17h0m6 17h0m7-3h0m3-2h0m7-17h0m0 20h0m5-16h0m2 4h0m2 10h0m4-20h0m3 24h0m22-21h0m5 6h0m5 4h0m1 2h0m4-7h0m5-4h0m4 2h0m10 3h0m1-1h0m4 10h0m17-8h0m2 10h0m4-11h0m6 3h0m2-4h0m7-4h0m20-3h0m11 20h0m1-20h0m21 11h0m3 0h0m8-11h0m9 16h0m22-3h0m44-11h0m0 20h0m4-7h0m11-1h0m8-14h0m-1113 47h0m23-11h0m8 8h0m19-14h0m6 11h0m1-8h0m1 7h0m24-8h0m11 0h0m5-3h0m27-4h0m20 0h0m5 7h0m3 7h0m1 1h0m3 7h0m4-15h0m8-7h0m8 8h0m2 5h0m0-13h0m21 15h0m9-8h0m3 2h0m4 12h0m4-1h0m2-11h0m7 10h0m17 1h0m2-20h0m6 3h0m0 2h0m0-4h0m3 19h0m6 0h0m2-21h0m2 24h0m13-11h0m7-6h0m3 10h0m8-15h0m2 4h0m7-1h0m13 4h0m5-5h0m0-2h0m4 12h0m1 4h0m2-6h0m7-9h0m2 5h0m3 11h0m7-5h0m2-5h0m11 9h0m6-1h0m5-4h0m1 4h0m0-12h0m8 11h0m5-4h0m25-12h0m0 24h0m9-10h0m4 6h0m9-5h0m3 1h0m8 7h0m5-6h0m11-14h0m2-1h0m1 2h0m7 11h0m5-8h0m3-2h0m1 3h0m5-6h0m1 4h0m6 14h0m14-4h0m0 1h0m1-16h0m1 11h0m4-11h0m7 18h0m3-15h0m2 4h0m8 13h0m7-16h0m0-5h0m6 0h0m13 14h0m1-10h0m7 5h0m2 7h0m3-9h0m7 0h0m2 11h0m11 1h0m1 3h0m15-9h0m2-13h0m15 11h0m1-11h0m2 20h0m2 1h0m6-16h0m2 4h0m3 2h0m11 7h0m10-1h0m1 3h0m4 0h0m4-6h0m4 7h0m3-8h0m8 9h0m6-6h0m3-8h0m1 5h0m4-8h0m12 16h0m10-11h0m2-9h0m6 2h0m1 3h0m1-3h0m1 1h0m9 10h0m11 10h0m4-19h0m1 8h0m0-10h0m12 6h0m9 14h0m1-23h0m3 3h0m6-3h0m0 4h0m3 0h0m5 3h0m6-6h0m15 15h0m26 5h0m8-8h0m13 5h0m16-4h0m14-6h0m4 10h0m2-3h0m5-2h0m2 3h0m8-11h0m3 5h0m12 14h0m4-19h0m4 0h0m1 16h0m2-4h0m14-7h0m8 14h0m3-22h0m8 9h0m2-5h0m6 12h0m12-11h0m30 17h0m2 0h0m5-10h0m11 2h0m7-15h0m2 14h0m1-4h0m1 3h0m26-7h0m29 1h0m-1094 41h0m8-10h0m13 0h0m16-8h0m53 4h0m2 5h0m6 5h0m1-7h0m12-6h0m0 5h0m1 7h0m9-11h0m29 12h0m5-1h0m6-8h0m7-7h0m13-1h0m5 0h0m6-3h0m3 22h0m1 2h0m1-10h0m3 4h0m3-18h0m4 13h0m15-13h0m7 10h0m2-7h0m11 1h0m10 1h0m3 5h0m3 4h0m2-9h0m10 4h0m3-9h0m2 6h0m11-5h0m2 4h0m0 17h0m1-18h0m2 10h0m4 7h0m3-20h0m1 23h0m0 0h0m13-13h0m1-2h0m9 14h0m13 0h0m1-3h0m1-6h0m10 3h0m5 2h0m7-5h0m1 9h0m3-10h0m4 6h0m1 3h0m1-17h0m22 15h0m2-12h0m1 6h0m3-5h0m1 2h0m13 4h0m1-3h0m1 6h0m12-13h0m1-2h0m1 2h0m8 15h0m1-9h0m4 11h0m9-21h0m3 12h0m15 3h0m2-15h0m7 2h0m5 7h0m0-10h0m3 18h0m1-9h0m12-1h0m0 16h0m3 0h0m8-11h0m4 4h0m9-13h0m16 15h0m11 3h0m13-20h0m4 9h0m2 1h0m3-6h0m1 12h0m3-1h0m7 4h0m0-16h0m15-5h0m2 12h0m6 9h0m12-13h0m2-7h0m5 13h0m4-2h0m1 8h0m7-14h0m14 9h0m6-3h0m8 9h0m4-12h0m1-1h0m12-3h0m2 7h0m2 9h0m2-3h0m1-10h0m12 13h0m10-7h0m6-7h0m5 0h0m1 1h0m1 5h0m7-5h0m3 2h0m4 1h0m3-4h0m9 17h0m26-21h0m1 17h0m2 2h0m15-11h0m6 0h0m10 0h0m3 8h0m10 4h0m4 0h0m4-16h0m7-7h0m9 10h0m0-9h0m2-1h0m5 24h0m0-9h0m5 4h0m1 4h0m3-20h0m6 19h0m10-6h0m1-5h0m25-10h0m2 15h0m7 7h0m8-16h0m2-7h0m8 12h0m13-5h0m25-2h0m27 4h0m15 9h0m9-5h0m9 10h0m12-17h0m15 2h0m2-5h0m21 7h0m2 11h0m-1063 10h0m2 8h0m11 10h0m34-7h0m6 0h0m3-15h0m4 5h0m3 5h0m0-9h0m22 5h0m2 2h0m3-4h0m6 5h0m27-6h0m1 8h0m1-5h0m6 6h0m0-8h0m3-1h0m1 10h0m6-14h0m2 9h0m30 12h0m19-14h0m23-2h0m7-5h0m2 3h0m22 13h0m1 6h0m1 0h0m1-18h0m1 10h0m0-3h0m2 10h0m11-9h0m0-10h0m6 14h0m2-13h0m8 18h0m2-4h0m21-2h0m9 4h0m1-1h0m0-12h0m4-5h0m3 21h0m12-13h0m0-8h0m4 6h0m4 14h0m4-4h0m4-15h0m3-3h0m2 6h0m4 8h0m2 2h0m1 4h0m1-2h0m2 0h0m3-15h0m5 18h0m16-14h0m2 9h0m11-14h0m15 3h0m1 6h0m2-9h0m22 9h0m1-9h0m1 19h0m5-13h0m1-7h0m1 3h0m4 17h0m5-20h0m5 20h0m1-5h0m20-14h0m0 3h0m1 8h0m6 2h0m2-8h0m9-7h0m2 5h0m0 7h0m1 5h0m0 4h0m3-16h0m1 11h0m0-3h0m0-6h0m9 10h0m5-11h0m2 6h0m1-12h0m1 13h0m0 5h0m5 3h0m5-14h0m6 0h0m19 5h0m6 4h0m1-6h0m1 8h0m3-15h0m1 17h0m3-2h0m0-10h0m4 15h0m6-7h0m7-5h0m1-10h0m4 18h0m2-17h0m36 12h0m1-9h0m1 13h0m1-18h0m4 23h0m3-23h0m0 3h0m7 3h0m13 13h0m5-15h0m0 12h0m7-16h0m1 20h0m0-10h0m12-8h0m2 17h0m3-3h0m10-14h0m1 9h0m11-4h0m1-3h0m9 4h0m1 9h0m6 3h0m8-6h0m1-3h0m0 10h0m5 1h0m0-4h0m5 4h0m6-19h0m5 2h0m2 10h0m2-5h0m12 8h0m4-7h0m7 6h0m1 3h0m7-10h0m10 14h0m13-20h0m3 20h0m5-3h0m8 3h0m2-1h0m6-13h0m4 14h0m1-18h0m11 10h0m13 7h0m1-16h0m8 8h0m12 7h0m17-14h0m9-5h0m1 18h0m2-5h0m3-11h0m2 15h0m12-18h0m1 17h0m3 4h0m2-9h0m6-6h0m1 10h0m18 1h0m3-13h0m4-2h0m15 14h0m-1007 12h0m5 12h0m13-8h0m4-9h0m16 3h0m38-2h0m3 12h0m19-8h0m16-4h0m4 10h0m14-1h0m12-6h0m10-1h0m6 3h0m2 18h0m3-16h0m17 9h0m31-1h0m23 5h0m2 2h0m6-2h0m0-16h0m2-2h0m1 2h0m2-4h0m6 16h0m11-10h0m0 4h0m3-3h0m1-1h0m6 6h0m2 5h0m14-3h0m1 1h0m5-13h0m3 16h0m2-12h0m3 2h0m2 12h0m1-4h0m18-13h0m2 0h0m1 9h0m0 8h0m16-8h0m5-8h0m5 19h0m6-10h0m12-10h0m1 13h0m0-16h0m5 21h0m9-13h0m1-3h0m3 9h0m21-14h0m1 18h0m13-12h0m3 0h0m2 5h0m4-6h0m2-3h0m14 13h0m1 0h0m10 5h0m1-19h0m1 22h0m3-23h0m5 15h0m1-12h0m4 13h0m10-6h0m5 12h0m0-19h0m3 2h0m1 18h0m3-7h0m0-13h0m0 17h0m3-14h0m7 1h0m5 9h0m7 5h0m1-13h0m4 0h0m0 15h0m3-17h0m1-4h0m7 14h0m6-10h0m4-6h0m0 14h0m2 4h0m5 3h0m12-10h0m1-12h0m4 16h0m1-5h0m2-1h0m8-1h0m1-8h0m2 18h0m8 5h0m2-7h0m1-7h0m1-5h0m0 19h0m1-4h0m8-17h0m3-3h0m4 7h0m11 9h0m11 5h0m2-14h0m17 1h0m0 1h0m1-4h0m8 0h0m1 12h0m1-17h0m0 3h0m3 10h0m6 7h0m2-8h0m8-11h0m6 17h0m0 3h0m0 2h0m14-7h0m4-14h0m4 3h0m1-4h0m5 13h0m1-13h0m1 9h0m3-6h0m4 2h0m4-3h0m5 11h0m3 8h0m1-15h0m3 12h0m6-19h0m2 10h0m4-9h0m2 23h0m3-16h0m2-8h0m2 7h0m3 1h0m1 16h0m5-21h0m1 21h0m16-4h0m1-10h0m1-5h0m0 9h0m1 4h0m2-6h0m2 12h0m2 0h0m2-7h0m4-17h0m17 24h0m31-17h0m23-4h0m10 21h0m6-18h0m5 14h0m6-15h0m13 1h0m0 10h0m0-14h0m4 5h0m7 17h0m2-1h0m2-16h0m10 17h0m9-5h0m0 2h0m2-20h0m5 0h0m5 15h0m5 4h0m2-4h0m0-11h0m8-3h0m10 20h0m53-11h0m1-6h0m15 0h0m-1035 22h0m19 7h0m9-8h0m34 7h0m1-7h0m12-1h0m21 6h0m1 12h0m14-2h0m6 5h0m10-12h0m12 11h0m9-11h0m12-3h0m2-4h0m9 5h0m2 1h0m3 5h0m1 9h0m3 1h0m5 1h0m2-4h0m8-7h0m15 3h0m1-2h0m8 4h0m1-2h0m7-13h0m6 16h0m1 0h0m10-17h0m9 8h0m0-6h0m0 1h0m7 12h0m14 0h0m10-11h0m1 10h0m0-13h0m2 16h0m1-4h0m1-11h0m4 12h0m7-15h0m5 15h0m13-4h0m14 2h0m2-1h0m7-10h0m4 18h0m8-11h0m2 6h0m3 3h0m5-4h0m2-13h0m32 18h0m3-2h0m3-10h0m4 3h0m0-6h0m1 5h0m11-3h0m5-2h0m4 4h0m4 11h0m3-19h0m5 8h0m1-4h0m4-1h0m10 8h0m6-1h0m3 5h0m5-12h0m1 19h0m4-12h0m5-4h0m3 11h0m24-7h0m2 13h0m8-20h0m2 11h0m0-3h0m2 9h0m7-11h0m3-7h0m4 7h0m2-2h0m2 11h0m3-14h0m1 15h0m4-5h0m3 5h0m14-9h0m1-5h0m12 17h0m1-13h0m1 3h0m0 10h0m5-13h0m0-10h0m4 7h0m2-5h0m4 19h0m4-6h0m4-11h0m5 18h0m8-6h0m5-12h0m4 2h0m2 10h0m2-6h0m1 1h0m9 13h0m8-4h0m6-8h0m3 7h0m8-1h0m0-11h0m5 8h0m3 3h0m3-9h0m10 13h0m2 0h0m13-5h0m39-13h0m0 17h0m3-20h0m1 15h0m1-6h0m5-3h0m4-2h0m8-5h0m25 1h0m6 0h0m11 12h0m0-12h0m4 16h0m1 0h0m0-17h0m22 15h0m4-11h0m1 4h0m0 3h0m3-5h0m3 13h0m5 4h0m0-19h0m18 12h0m11 4h0m26-10h0m1 11h0m1-7h0m7-11h0m12 19h0m44-9h0m10-11h0m0 4h0m3 0h0m14 15h0m1-13h0m3 13h0m2 1h0m23-13h0m0 8h0m-995 26h0m11-7h0m15-4h0m3-4h0m10 20h0m2-7h0m24 1h0m37 6h0m3 1h0m0-18h0m16 4h0m1 4h0m4 4h0m1-17h0m11 23h0m9-2h0m4-2h0m1-15h0m12-1h0m35 14h0m0-13h0m12-1h0m5 8h0m2-10h0m1-1h0m2 19h0m13 3h0m11-5h0m4-3h0m15-8h0m6 6h0m0 7h0m12-9h0m2-5h0m6-1h0m8 6h0m1-11h0m9 21h0m0-13h0m19 11h0m4-19h0m1 5h0m0 4h0m16-4h0m1 6h0m11 10h0m8-17h0m0-2h0m6 3h0m3-2h0m6 0h0m34 19h0m13-13h0m2 2h0m8-6h0m9 2h0m11 10h0m1 2h0m1-5h0m4 2h0m2 3h0m12 4h0m1-1h0m2 2h0m12-17h0m2 8h0m1-1h0m3-2h0m3-11h0m2 10h0m4 12h0m15-12h0m1 1h0m6 8h0m9-2h0m5 5h0m6-11h0m1-12h0m2 2h0m2-2h0m1 14h0m1 8h0m1-12h0m2 10h0m1-3h0m1-15h0m5 2h0m1 13h0m6 4h0m8-2h0m5-15h0m2-4h0m9 20h0m5-6h0m4-2h0m3-5h0m4-7h0m4 12h0m0-11h0m18 16h0m9-12h0m7 16h0m11 2h0m13-19h0m13-4h0m2 15h0m6-14h0m0 6h0m6 6h0m1 3h0m4 2h0m5-14h0m2 12h0m5-14h0m1 8h0m1-10h0m1 5h0m1 3h0m5-2h0m4 6h0m14-10h0m1 16h0m15 5h0m5-1h0m5 1h0m6-14h0m3 15h0m4-16h0m2-7h0m23 6h0m4 12h0m6-14h0m44 6h0m4-10h0m10 7h0m35-1h0m20-6h0m11 20h0m8-15h0m8 18h0m4-13h0m5-5h0m6-4h0m-986 36h0m12-11h0m9 15h0m3 3h0m9-11h0m19 9h0m45-9h0m20 10h0m33 2h0m15-17h0m24 10h0m3 8h0m4-21h0m12 21h0m2-15h0m14 9h0m12-14h0m8-2h0m0 14h0m9-6h0m8-2h0m1 1h0m1 15h0m6-20h0m11 12h0m4-10h0m7 17h0m3-6h0m5 7h0m5-6h0m5-11h0m8-5h0m0 5h0m4 16h0m1 1h0m15-8h0m15-7h0m5 11h0m7-18h0m2 1h0m3 11h0m8-4h0m19-6h0m21 8h0m1 4h0m4-4h0m1 8h0m10-5h0m0-10h0m32 1h0m8 8h0m6 11h0m15-22h0m0 12h0m4-9h0m12 1h0m0-3h0m2 9h0m10-10h0m3 14h0m1-8h0m2 5h0m0 0h0m16-8h0m8 8h0m0 8h0m2-18h0m20-1h0m3 21h0m8-1h0m4-6h0m9-5h0m6-2h0m7-4h0m11-4h0m5 20h0m2-11h0m12 12h0m2-17h0m4 18h0m3-19h0m16 2h0m11 3h0m3-3h0m6 16h0m1-19h0m4 13h0m6-2h0m6-10h0m4 18h0m7 3h0m3-20h0m1 3h0m3 14h0m30-8h0m0-11h0m4 21h0m13-19h0m4 8h0m4 10h0m5-14h0m1 10h0m14 6h0m16-17h0m9 1h0m2 5h0m3 10h0m2-21h0m18 6h0m5 7h0m1-10h0m1 17h0m8-14h0m3 11h0m1-12h0m3-3h0m19 6h0m5 13h0m3-8h0m2 5h0m15 0h0m54-2h0m10-10h0m-953 23h0m50-2h0m6 2h0m23 4h0m17 4h0m13 3h0m1-11h0m7 8h0m1-13h0m3 20h0m1-16h0m2 12h0m2 1h0m8-17h0m40 9h0m2 7h0m0-3h0m8 4h0m6 5h0m4-5h0m4-13h0m5 19h0m1 0h0m3-18h0m17-6h0m28 3h0m9 7h0m8-3h0m18-2h0m5 16h0m1-14h0m1 3h0m1 6h0m6-3h0m10 7h0m0-2h0m2 0h0m3-7h0m1-1h0m1 14h0m2-9h0m8-8h0m16-4h0m16-1h0m6 14h0m4-14h0m6 0h0m3 11h0m0 5h0m10-10h0m20 11h0m3-14h0m14 7h0m1 4h0m1 2h0m11 0h0m6 0h0m10-2h0m9 5h0m4-18h0m8 15h0m2-13h0m5 10h0m13-4h0m1-11h0m7 16h0m4-16h0m7 12h0m4 5h0m1 0h0m3-9h0m13 14h0m18-12h0m8 8h0m2-2h0m8-14h0m2 20h0m3-16h0m5 0h0m5 18h0m3-4h0m5-5h0m0-12h0m5 5h0m3 12h0m3-13h0m9 6h0m0-12h0m11 4h0m7 11h0m5 2h0m3-2h0m2 0h0m2 1h0m3-13h0m2 20h0m13-24h0m4 0h0m5 14h0m9 6h0m0-9h0m1-6h0m0-1h0m8 11h0m4-7h0m2 9h0m5 5h0m4-1h0m4-10h0m7-6h0m15 5h0m8 10h0m3-8h0m4-6h0m4 4h0m5-3h0m5 0h0m24 0h0m1-2h0m7 7h0m15-9h0m14 7h0m4 1h0m45 13h0m36-1h0m16-11h0m4-4h0m-884 22h0m14-2h0m6-1h0m13 8h0m27-9h0m2 23h0m4-7h0m2-3h0m2-5h0m4-1h0m25-5h0m12 5h0m11 14h0m13-13h0m16-1h0m17-7h0m8 19h0m8-11h0m0 4h0m1 3h0m15 7h0m1-18h0m5-2h0m11 2h0m7 10h0m1-1h0m15-4h0m2 4h0m8-5h0m0 13h0m15 2h0m3-24h0m3 2h0m9 8h0m5 12h0m5-20h0m1 1h0m3 4h0m3-2h0m17 19h0m7-11h0m4 11h0m9-18h0m7-1h0m8-4h0m2 3h0m2 6h0m4 4h0m9-4h0m10 6h0m4-12h0m17 4h0m6-2h0m4 3h0m8 0h0m2-1h0m1-3h0m2 4h0m3-3h0m4-4h0m14 3h0m27 0h0m16-2h0m2 8h0m0 12h0m9-10h0m23-6h0m21-2h0m17 11h0m1 3h0m2-13h0m7-3h0m2-1h0m2 2h0m3 15h0m5-3h0m10-1h0m2 0h0m1-12h0m14 3h0m2 0h0m1 11h0m10-1h0m0-5h0m2-4h0m14 5h0m36-4h0m15-5h0m7 15h0m1-5h0m16 3h0m3 7h0m14-12h0m12 3h0m6-5h0m8-4h0m1-5h0m4 19h0m13 3h0m6 2h0m8-19h0m4 18h0m14-16h0m28-4h0m7 19h0m9-19h0m9 10h0m15-9h0m3 6h0m3-5h0m11-5h0m-899 34h0m43-3h0m18 4h0m2 3h0m12-9h0m3 7h0m9 8h0m7-3h0m20-9h0m24 7h0m9-7h0m19-2h0m1 9h0m8-10h0m6 10h0m0 3h0m8-9h0m4 3h0m2 4h0m0-1h0m3 3h0m6 7h0m10-12h0m4-2h0m10-4h0m11 10h0m3-4h0m14-3h0m1-4h0m4 17h0m4 0h0m7-22h0m11 24h0m4-18h0m5 3h0m28-7h0m2 16h0m12-9h0m3 2h0m7-8h0m4 15h0m1-15h0m4 8h0m10 7h0m0-16h0m2 8h0m0 3h0m11-4h0m1-2h0m6 14h0m9 0h0m3 2h0m2-15h0m11 6h0m7-13h0m4 11h0m2 9h0m3-12h0m15-2h0m5-7h0m9 5h0m0-3h0m0 0h0m1 14h0m5-9h0m2 10h0m5-9h0m20 9h0m2-17h0m6 16h0m3 2h0m8-1h0m10 1h0m3-18h0m1 17h0m13-12h0m3 1h0m1 3h0m10 3h0m12 6h0m23 4h0m8 2h0m10-6h0m0 4h0m2-12h0m11 7h0m16-11h0m0-2h0m6 0h0m1 13h0m2-8h0m20 15h0m7 0h0m4-16h0m10 16h0m1-7h0m1-5h0m3-9h0m11 1h0m5 13h0m1-2h0m3-6h0m2 2h0m5 0h0m2-7h0m9-2h0m2 11h0m19-8h0m4-1h0m5 13h0m27-5h0m2-1h0m1 0h0m2 5h0m9 0h0m3-3h0m7-10h0m0 11h0m0 9h0m9-13h0m3 6h0m4-4h0m-794 33h0m4-10h0m5-1h0m33 14h0m29-14h0m6 14h0m1-13h0m23 0h0m0 4h0m9 3h0m10-4h0m4-1h0m1-11h0m3 20h0m8-17h0m8 16h0m8-18h0m0 3h0m7-2h0m1 4h0m12 6h0m20-6h0m14 17h0m8-1h0m2-10h0m7 6h0m0-18h0m22 19h0m9-9h0m2 2h0m26 6h0m2-12h0m3-4h0m0 7h0m1 2h0m6 7h0m17-6h0m0-6h0m2 16h0m13-1h0m1-19h0m8 13h0m4-6h0m16 14h0m19-5h0m17-13h0m0 14h0m0-1h0m12 4h0m6-20h0m7 16h0m9 4h0m10-20h0m1 14h0m5-7h0m28-6h0m1 10h0m0-7h0m1-2h0m0 18h0m6-23h0m1 3h0m1-1h0m5 11h0m5 8h0m17-12h0m8 11h0m2 1h0m6-16h0m3-4h0m3 2h0m2 11h0m1-3h0m6 0h0m3-2h0m9-4h0m8 12h0m9-2h0m9-15h0m2 16h0m39 0h0m4-16h0m10 16h0m1-7h0m4-3h0m4 8h0m0 0h0m26-7h0m20 9h0m4 3h0m19-15h0m26 11h0m15 9h0m24-4h0m1-5h0m19-2h0m1 2h0m30-14h0m-807 40h0m4-15h0m4 2h0m43-2h0m17 0h0m6 21h0m22-17h0m6 3h0m14-8h0m2 22h0m2-22h0m5 22h0m7-12h0m46-4h0m8 4h0m8-5h0m3-5h0m11 14h0m8 10h0m34-6h0m1 1h0m1-8h0m7-8h0m1 13h0m5 0h0m8-8h0m21 16h0m8-21h0m6 8h0m3 13h0m10-20h0m8 3h0m4 16h0m6-11h0m7 7h0m1-8h0m2-11h0m1 10h0m15-7h0m2 20h0m5-4h0m6-2h0m5-5h0m17 6h0m1-2h0m3-3h0m6-6h0m31 11h0m1-15h0m4 18h0m8-18h0m2 6h0m13 9h0m14-7h0m3 5h0m3-8h0m7 9h0m7 0h0m0-5h0m1 11h0m26-7h0m21-9h0m12-7h0m6 9h0m11-8h0m4 5h0m4 5h0m4 7h0m5-11h0m5 11h0m4-12h0m18-1h0m6 8h0m2-5h0m8 16h0m41-7h0m60 1h0m-710 25h0m5-13h0m6 4h0m28-9h0m1 12h0m4-3h0m46-5h0m3-2h0m1 19h0m10-9h0m9-8h0m11 1h0m21 11h0m3-8h0m7-8h0m6 24h0m30-15h0m3 2h0m3-8h0m6 21h0m0-3h0m4-17h0m6-1h0m7-1h0m5 17h0m3-19h0m3 7h0m16 0h0m2 16h0m7-2h0m1-5h0m18-12h0m3 11h0m7 0h0m6 6h0m11-17h0m1 3h0m14-5h0m36 16h0m20-14h0m3-1h0m5 3h0m19-6h0m15 19h0m12-8h0m1 12h0m2-23h0m0 14h0m8-13h0m8 20h0m10 2h0m9-5h0m6 6h0m3-3h0m10-3h0m5 4h0m6-1h0m0-12h0m20 0h0m10 4h0m40-9h0m2 13h0m11-13h0m11 16h0m4-15h0m19 5h0m2-10h0m3 7h0m26 11h0m18-16h0m13 19h0m3-21h0m5 9h0m70-9h0m-727 31h0m34-5h0m1 12h0m34 2h0m4-15h0m6 2h0m1 10h0m11 3h0m23-14h0m2 10h0m2 2h0m18-11h0m9 20h0m22-11h0m9-5h0m6 10h0m10-12h0m1 5h0m3 14h0m10-13h0m5-9h0m8 11h0m8 6h0m2-1h0m9-10h0m12 1h0m7 10h0m20 6h0m33-14h0m5 4h0m8-11h0m24 0h0m7 21h0m2-20h0m16 1h0m4 18h0m12-20h0m2 8h0m2 3h0m8-3h0m3 0h0m6 2h0m2-1h0m0 12h0m5 0h0m11-3h0m11 3h0m6-12h0m1 3h0m35 5h0m3-14h0m1 1h0m9-7h0m11 4h0m11 16h0m2 4h0m4-17h0m8 4h0m65 5h0m18-7h0m26-2h0m7 1h0m11-7h0m-623 29h0m29 2h0m25 5h0m5-2h0m14 7h0m5-16h0m17 0h0m20 18h0m1 3h0m1-8h0m18 3h0m17 0h0m17-5h0m2 8h0m3-5h0m6-3h0m7-7h0m5 8h0m1 8h0m3-20h0m9 7h0m27 1h0m1-7h0m15 2h0m2 17h0m6-7h0m7 2h0m19-15h0m6 11h0m1-1h0m8 7h0m1-2h0m9-11h0m14 17h0m11-14h0m2-8h0m3 3h0m6 5h0m3 14h0m6-9h0m15-10h0m1 4h0m0-2h0m2 1h0m2 11h0m22-11h0m3 8h0m10 7h0m8 1h0m1 1h0m20-4h0m24-2h0m5-15h0m7 21h0m36-17h0m11 14h0m12-19h0m6 18h0m4-2h0m26-12h0m14 12h0m24 0h0m-525 27h0m9-8h0m19 4h0m14-13h0m15 2h0m1 18h0m0-18h0m11 3h0m29 13h0m14-17h0m47 8h0m7-2h0m10 12h0m22-12h0m16 4h0m1 5h0m2-13h0m5 0h0m20 14h0m14-16h0m13 21h0m6-8h0m1-2h0m11-9h0m1 9h0m1-13h0m1 11h0m25-5h0m0 16h0m15-1h0m19-8h0m1 4h0m1-3h0m8 1h0m1 4h0m6-3h0m11-11h0m11 12h0m2-6h0m14 0h0m2-11h0m65 16h0m20-6h0m-455 14h0m86 3h0m16 15h0m3-13h0m21 9h0m15 3h0m22-3h0m33 3h0m8 2h0m2 4h0m23-17h0m32-5h0m8 6h0m24 14h0m3-14h0m0 0h0m37-4h0m3 2h0m11 7h0m6 0h0m-208 29h0m17 1h0m11-12h0m2 7h0m5-9h0m17 20h0m18-4h0m33-1h0m39-2h0m3-12h0" stroke="#f51010" stroke-width="11.2" stroke-linecap="round" fill="none" opacity="1"/>
<mask id="mk" maskUnits="userSpaceOnUse" x="0" y="0" width="280" height="240"><rect width="280" height="240" fill="#fff"/><path d="M138 49L133.3 49.3L128.8 50L124.2 51L119.7 52.2L115.4 53.9L111.1 55.8L107 57.9L103.1 60.4L99.4 63.2L95.8 66.1L92.5 69.4L89.4 72.8L86.5 76.5L83.9 80.3L81.6 84.3L79.5 88.5L77.8 92.8L76.4 97.2L75.2 101.7L74.4 106.3L74 110.9L73.8 115.5L74 120.1L74.4 124.7L75.2 129.3L76.4 133.8L77.8 138.2L79.5 142.4L81.6 146.6L83.9 150.6L86.5 154.4L89.4 158L92.5 161.5L95.8 164.7L99.4 167.6L103.1 170.3L107 172.8L111.1 174.9L115.4 176.8L119.7 178.3L124.2 179.6L128.8 180.5L133.3 181.2L138 181.5L142.6 181.4L147.3 181.1L151.8 180.4L156.4 179.4L160.9 178.2L165.2 176.5Z" fill="#000"/><path d="M107.2 92.2L107.3 88L107.6 83.9L108.2 80.1L108.9 76.4L109.9 73L111 69.8L112.4 66.9L113.9 64.4L115.6 62.1L117.5 60.1L119.5 58.5L121.7 57.3L124 56.4L126.4 55.8L128.9 55.7L131.5 55.9L134.1 56.4L136.8 57.4L139.5 58.7L142.3 60.3L145.1 62.3L147.8 64.6L150.5 67.2L153.1 70.1L155.7 73.3L158.2 76.7L160.6 80.4L162.9 84.3L165.1 88.4L167.1 92.6L169 97L170.7 101.5L172.2 106.1L173.6 110.7L174.7 115.4L175.7 120.1L176.4 124.7L177 129.3L177.3 133.8L177.4 138.2L177.3 142.4L177 146.5L176.4 150.3L175.7 154L174.7 157.4L173.6 160.6L172.2 163.5L170.7 166L169 168.3L167.1 170.3L165.1 171.9L162.9 173.1L160.6 174L158.2 174.6L155.7 174.7L153.1 174.5L150.5 174L147.8 173L145.1 171.7L142.3 170.1L139.5 168.1L136.8 165.8L134.1 163.2L131.5 160.3L128.9 157.1L126.4 153.7L124 150L121.7 146.1L119.5 142L117.5 137.8L115.6 133.4L113.9 128.9L112.4 124.3L111 119.7L109.9 115L108.9 110.3L108.2 105.7L107.6 101.1L107.3 96.6Z" fill="#000"/></mask>
<path d="M95.2 27.8L190 89.8L190 199.4L95.2 137.4Z" fill="#fff" opacity="0.74" mask="url(#mk)"/>
<path transform="scale(.1)" d="m1235 549h0m18-1h0m4 0h0m2 0h0m2-1h0m10-1h0m4-2h0m0 2h0m5 1h0m11-3h0m5 4h0m1-1h0m1-1h0m1-1h0m0 3h0m2-1h0m7 0h0m2-3h0m3 3h0m6 0h0m-120 24h0m4-5h0m1 6h0m2-8h0m1 2h0m1 5h0m5-6h0m4 7h0m1-1h0m2 0h0m0-3h0m5-3h0m0-2h0m1-6h0m2 12h0m1-18h0m1 23h0m0-11h0m1 2h0m0 3h0m0-15h0m0 9h0m0-9h0m1 21h0m2-7h0m2-13h0m0 15h0m1 5h0m0-11h0m4-8h0m1 0h0m1 16h0m1-10h0m1 5h0m1-11h0m1 10h0m0 4h0m0-7h0m1-7h0m0-3h0m1 20h0m1 1h0m2-21h0m1 22h0m2-22h0m0 4h0m3-3h0m1 8h0m0-11h0m1 1h0m0-1h0m1 12h0m0-8h0m1 12h0m3-5h0m1 11h0m1-13h0m1-6h0m0 15h0m0-8h0m1 5h0m0-12h0m0 11h0m1-12h0m1-1h0m1 21h0m0-3h0m1-12h0m0 3h0m0 11h0m2-1h0m0-12h0m1 8h0m0-9h0m3 12h0m3-12h0m0 4h0m0 4h0m1-15h0m2 4h0m2 16h0m1-4h0m0-11h0m3 10h0m0 1h0m0 2h0m1 6h0m0-4h0m2 4h0m1-14h0m0 8h0m2-7h0m0-8h0m0 18h0m0-9h0m0 6h0m1-8h0m1 0h0m2-1h0m2 10h0m1 2h0m2-10h0m1-1h0m0 10h0m0-4h0m0-15h0m0 7h0m0-7h0m1 5h0m0 4h0m1 7h0m2-17h0m1 22h0m3-8h0m3 2h0m0 2h0m1 1h0m0 4h0m0-21h0m1 14h0m0-1h0m1-8h0m0 9h0m1-14h0m0 16h0m1-18h0m0 17h0m4-11h0m1-3h0m0 12h0m1-8h0m1 6h0m2 6h0m2-9h0m0 3h0m0 1h0m1 9h0m0-2h0m1-16h0m1 9h0m1-7h0m3 7h0m1 5h0m1-15h0m1 19h0m1-19h0m1 10h0m0-12h0m3 1h0m0 18h0m2-17h0m1 13h0m0 6h0m1-10h0m0 3h0m1 8h0m1-7h0m3 6h0m1-10h0m0 3h0m2-4h0m3 2h0m2 6h0m2 2h0m1-7h0m1-4h0m3 5h0m1 4h0m2 1h0m6 2h0m-177 9h0m1 1h0m3-8h0m2 7h0m2-3h0m0 20h0m1-20h0m2-1h0m1 19h0m1-11h0m0-9h0m1 16h0m4 5h0m1-16h0m1 1h0m1-1h0m1-7h0m1 23h0m1-2h0m1-15h0m0-2h0m0 19h0m1-14h0m1 8h0m2-17h0m0 22h0m1-13h0m0 7h0m1 6h0m4-3h0m0-17h0m0 19h0m1-21h0m1 10h0m2-7h0m1 2h0m4-5h0m0 8h0m2 13h0m1-9h0m1-12h0m0 15h0m1 1h0m5-10h0m2-5h0m1 9h0m0 7h0m1-17h0m0 0h0m1 5h0m1-3h0m3 6h0m0 4h0m0-6h0m1 5h0m0 8h0m1-19h0m1 0h0m1 17h0m2-14h0m0 4h0m1 7h0m1 0h0m2-1h0m2-13h0m0 1h0m0 8h0m1-1h0m7-7h0m1 8h0m2 1h0m0-3h0m1 4h0m4 3h0m0-12h0m2 13h0m2-10h0m4-3h0m7 13h0m2-7h0m0 4h0m1-11h0m1 6h0m0 3h0m0-3h0m2-3h0m2-1h0m0 10h0m2 5h0m1-8h0m0 5h0m1-11h0m5 12h0m0-9h0m2 4h0m1 6h0m3 1h0m2-1h0m1-7h0m4 3h0m1 7h0m0 3h0m1-21h0m0 8h0m0 2h0m2-8h0m2 11h0m0-4h0m0 5h0m1-6h0m1-6h0m1 20h0m2-8h0m1-10h0m0 16h0m3-11h0m0 5h0m1-16h0m0 10h0m0 0h0m4 3h0m2 0h0m0-8h0m2 13h0m1 2h0m0-15h0m0 7h0m3 7h0m1-19h0m1 18h0m0-17h0m1 17h0m2 6h0m0-8h0m1 4h0m2-7h0m1 4h0m1 6h0m2 0h0m3-1h0m1-2h0m1-11h0m2-4h0m1-4h0m0 9h0m1-7h0m0 4h0m0 12h0m0-6h0m0-1h0m1 10h0m1-22h0m1 9h0m2 6h0m1-14h0m0 22h0m0-13h0m1 12h0m1-22h0m0 6h0m0 7h0m1-2h0m1 7h0m1 3h0m2-11h0m0 1h0m0 11h0m1-18h0m1 13h0m0 7h0m1-5h0m1-3h0m2-8h0m7 11h0m7-1h0m3 2h0m2 2h0m1-1h0m1 2h0m5 0h0m-222 5h0m1 1h0m3 2h0m6 3h0m1-2h0m3-4h0m7 1h0m1-4h0m6 2h0m4-2h0m102 0h0m12 1h0m10 1h0m2-2h0m5 2h0m3 6h0m3-3h0m0 2h0m4-3h0m1 4h0m2-5h0m4 15h0m0-9h0m3-2h0m8-6h0m1 22h0m0-7h0m1-13h0m0 8h0m1-9h0m1 20h0m1-6h0m1-4h0m2-7h0m1 15h0m0-2h0m1-18h0m1 15h0m1-14h0m0 11h0m1-5h0m1 6h0m0-6h0m1 17h0m1-1h0m0 0h0m0-9h0m0-11h0m1 20h0m2-21h0m0 14h0m1-7h0m2-6h0m0 6h0m3-6h0m0 5h0m3 5h0m1 2h0m3 1h0m2-10h0m1 15h0m0-9h0m1 0h0m0 6h0m0-10h0m1 15h0m0-1h0m1-9h0m1 5h0m1 4h0m0-1h0m4-10h0m1-1h0m2 6h0m0-2h0m2 5h0m0-8h0m2 10h0m1 2h0m1-6h0m-45 10h0m6 3h0m8 4h0m2 1h0m1-8h0m1-1h0m1 0h0m2 6h0m2-7h0m0 14h0m2-14h0m0 18h0m0-4h0m1 1h0m2 4h0m1-19h0m1 7h0m1 11h0m1-17h0m0 11h0m1-6h0m1 6h0m2 9h0m2-16h0m0 13h0m1-10h0m0 11h0m1-8h0m0 12h0m2-7h0m1 2h0m1 5h0m2-1h0m2-7h0m3 5h0m0-6h0m0-13h0m0 6h0m5-1h0m2 13h0m0-4h0m1-2h0m2-8h0m1 5h0m0 9h0m1-4h0m1 7h0m0-15h0m0 16h0m1-5h0m0 1h0m0 4h0m0-2h0m1-7h0m3 10h0m0-8h0m0-3h0m0 3h0m1 8h0m0-11h0m4 9h0m1-2h0m1-3h0m1 5h0m3-1h0m-43 7h0m3 3h0m2 1h0m2-2h0m0-3h0m1 3h0m0 2h0m0-7h0m2 9h0m1-2h0m0 3h0m3-1h0m0 2h0m2-11h0m1 14h0m2-4h0m3 6h0m1-4h0m3 3h0m2-14h0m2 6h0m0-3h0m5 3h0m1 10h0m0 4h0m1-8h0m0 5h0m1-16h0m1 9h0m4 4h0m1-1h0m0-13h0m0 11h0m1 0h0m0-12h0m1 2h0m2 13h0m0-10h0m2 19h0m1-5h0m1 4h0m6-1h0m2-8h0m1 3h0m0 6h0m1-5h0m0 6h0m4 0h0m0-2h0m-41 3h0m7 4h0m1-2h0m2 7h0m1 2h0m3-9h0m0 10h0m1-3h0m4 0h0m0-2h0m1 9h0m4-14h0m1 11h0m0 4h0m0-3h0m2 10h0m1-7h0m2-5h0m1 1h0m1 6h0m0-3h0m1-2h0m1-12h0m1 17h0m0-6h0m1-12h0m0 11h0m1 11h0m0-14h0m0-9h0m1 22h0m2-19h0m1 11h0m0 1h0m0-6h0m1 15h0m3-15h0m1-8h0m1 19h0m1-19h0m0 19h0m2 0h0m2-1h0m1-2h0m0 5h0m0-9h0m1 9h0m2-11h0m8 8h0m0 3h0m-36 5h0m6 2h0m1 2h0m1-2h0m0 3h0m0-7h0m1 11h0m0-2h0m1 0h0m1 4h0m0-3h0m1-10h0m0 8h0m2 3h0m1-8h0m1-3h0m1 13h0m1 5h0m1-16h0m2 20h0m0-6h0m1 8h0m1-7h0m2-8h0m0 4h0m4 8h0m1-7h0m1-12h0m0 7h0m1 4h0m0-5h0m1 2h0m0 1h0m0 6h0m1-12h0m1 19h0m1-12h0m3 2h0m2 10h0m1-3h0m2-2h0m1 3h0m1-10h0m0 0h0m1-5h0m0 13h0m0-10h0m2 6h0m2 6h0m0-4h0m-26 10h0m2 3h0m3-5h0m0 7h0m0-8h0m2 9h0m1-3h0m3 8h0m2-1h0m1 2h0m0-5h0m1 11h0m2-17h0m0 8h0m0 8h0m1-2h0m0-15h0m2 19h0m0-6h0m2 8h0m1-20h0m1 8h0m1 1h0m0 6h0m0-13h0m1 11h0m0 7h0m0-3h0m2 0h0m1 1h0m1-6h0m0 2h0m1-15h0m1 9h0m1-8h0m1 1h0m0 8h0m0-12h0m0 13h0m2-1h0m0-9h0m1 18h0m0-8h0m2-7h0m3 14h0m8 2h0m-29 5h0m1 2h0m4 2h0m1-3h0m1 0h0m1-1h0m1 5h0m0 7h0m1 4h0m0-17h0m2 0h0m0 7h0m2-7h0m0 8h0m0-1h0m0 8h0m4 4h0m0-5h0m2-11h0m1 0h0m0-1h0m4 14h0m1-10h0m0 0h0m1-4h0m0 12h0m1-12h0m1 8h0m0-6h0m0 4h0m2 9h0m0-8h0m1-5h0m1 13h0m0-13h0m1 14h0m2-13h0m1 2h0m1 1h0m1 8h0m0-8h0m3 10h0m2-1h0m0 2h0m-27 4h0m3 5h0m1 0h0m1 1h0m1 6h0m1-9h0m1 1h0m1 7h0m2 8h0m0-4h0m0-13h0m2 7h0m1-1h0m0-1h0m2 10h0m0-12h0m2 6h0m1-7h0m0 7h0m1-2h0m2 11h0m0-10h0m1-1h0m3 10h0m0-5h0m2-11h0m0-1h0m3 15h0m1-13h0m0-1h0m3 7h0m0 4h0m1 10h0m0-17h0m3 12h0m1 5h0m1-9h0m2 1h0m2 6h0m-26 10h0m6 2h0m3 10h0m0-5h0m2-2h0m0-2h0m1 3h0m1 1h0m0-7h0m0 13h0m0-12h0m1 16h0m0-7h0m0-9h0m1 2h0m2-3h0m0-4h0m1 21h0m0-9h0m0 7h0m0-3h0m1-8h0m1 9h0m1-17h0m1 0h0m2-2h0m0 4h0m2 17h0m0-21h0m2 18h0m4 4h0m1-4h0m3 2h0m1-3h0m1-3h0m0 4h0m1 2h0m3 1h0m1 0h0m-26 10h0m1-6h0m5 5h0m4 2h0m1-6h0m0 4h0m2 18h0m1-7h0m1 5h0m0-11h0m0 1h0m1 3h0m0 4h0m1-3h0m1 4h0m1-2h0m0-10h0m2 0h0m0-1h0m0 1h0m2 5h0m4 8h0m2-1h0m1-13h0m0 6h0m7 11h0m0-6h0m-27 7h0m7 4h0m2-3h0m0 14h0m2-14h0m1 5h0m0 12h0m0-13h0m0 8h0m1 4h0m1-10h0m0 10h0m2-5h0m0-9h0m3-2h0m0 7h0m1 8h0m0-5h0m5-8h0m1 8h0m1 11h0m0-4h0m2-14h0m1 1h0m1 0h0m0 8h0m0-13h0m1 15h0m1 3h0m4-7h0m3 9h0m1 4h0m0-5h0m-22 15h0m3 4h0m1 1h0m1 0h0m0-12h0m2-2h0m1 4h0m1 6h0m1-9h0m0 16h0m1-16h0m1 19h0m0-15h0m1 15h0m1-17h0m0 11h0m1 9h0m2-7h0m0-14h0m1 17h0m0-8h0m2 9h0m2 3h0m0-13h0m1 11h0m0-16h0m0 19h0m1-22h0m0 13h0m1 0h0m0-11h0m1-2h0m0 19h0m2-14h0m3 14h0m1 2h0m-20 7h0m6 14h0m0-5h0m0-2h0m1-3h0m0-5h0m0 17h0m2-5h0m0 2h0m0-17h0m4 3h0m2 7h0m2 0h0m2 0h0m1-3h0m1-7h0m0 20h0m0-5h0m2-1h0m1-6h0m1-1h0m1 6h0m1-8h0m0-3h0m0 19h0m-17 3h0m5 7h0m1 5h0m1 0h0m1-3h0m1 0h0m1 12h0m0-12h0m0 6h0m0 5h0m1 0h0m2-5h0m0-3h0m0 10h0m0-22h0m3 15h0m2 4h0m1 5h0m1-24h0m1 7h0m0 11h0m1-13h0m1 2h0m0 8h0m1-15h0m0 12h0m0 10h0m0-1h0m1-1h0m5-10h0m0 9h0m-15 10h0m0 4h0m1-3h0m1-2h0m1 13h0m1-5h0m0-2h0m1 14h0m1-22h0m1 15h0m0-10h0m0 8h0m0-14h0m2 1h0m1 17h0m1-17h0m3 21h0m2-14h0m1 10h0m0-1h0m0-6h0m2 7h0m1 0h0m0-15h0m0 15h0m0-13h0m1 19h0m0-7h0m1 5h0m1-9h0m0 2h0m0 4h0m0 0h0m1 1h0m5 1h0m-22 6h0m0-2h0m1 7h0m1 4h0m0 0h0m2-8h0m3 3h0m1 13h0m1-12h0m2 12h0m1-6h0m2-5h0m1 5h0m2 5h0m0-8h0m2-10h0m0 2h0m1 8h0m0 10h0m0-18h0m1 11h0m0 7h0m0-17h0m2 16h0m1 4h0m4-3h0m0 3h0m0 1h0m7 0h0m-24 2h0m2 8h0m1-7h0m1 3h0m0 7h0m0 4h0m2 7h0m0-5h0m0-4h0m0-14h0m0 5h0m1 8h0m1-4h0m0 7h0m0 3h0m1-19h0m0 15h0m1-5h0m3 2h0m0-3h0m0-9h0m1 3h0m1 11h0m0-4h0m2-6h0m0 3h0m0 0h0m1 7h0m0 1h0m1 1h0m0 3h0m1-19h0m1 18h0m2-15h0m0 4h0m1 8h0m2 5h0m0-5h0m1 8h0m3-5h0m-21 9h0m1 10h0m0-8h0m1 7h0m2 9h0m0-15h0m1 2h0m0-3h0m1 9h0m4-7h0m0 4h0m0-3h0m1-6h0m0 6h0m0 9h0m1-4h0m0 3h0m0 7h0m0-12h0m1 3h0m0-11h0m1 20h0m0-3h0m1-14h0m0-5h0m4 24h0m0-20h0m0 4h0m2-3h0m1 14h0m0-5h0m3 9h0m3-12h0m0 3h0m-17 24h0m3-2h0m1-8h0m2 7h0m2 4h0m1 0h0m0 8h0m1-21h0m2 4h0m1 18h0m4-14h0m0-5h0m3-1h0m2 8h0m0 10h0m1-3h0m1-13h0m1 6h0m0 10h0m1-1h0m-22 5h0m0 2h0m2 2h0m1-2h0m2 8h0m1 14h0m1-8h0m1-13h0m4 10h0m1-6h0m0 12h0m4 1h0m0-14h0m0-2h0m0 12h0m1-7h0m2 10h0m1 3h0m0-10h0m1 12h0m0-7h0m1-16h0m1 22h0m0-15h0m1-6h0m1 9h0m1 3h0m0 6h0m1-2h0m0-8h0m0 5h0m2 8h0m0-6h0m0 7h0m0-5h0m-22 8h0m0 0h0m1-1h0m0 8h0m1-3h0m0 12h0m2-5h0m2-5h0m0-7h0m0 8h0m0-3h0m1 11h0m1-13h0m0 8h0m0-9h0m1 12h0m0 0h0m4 5h0m1-2h0m1-7h0m0 10h0m1 2h0m1-2h0m0-19h0m0 16h0m1 1h0m0-1h0m1-7h0m1 11h0m0-20h0m0 21h0m0-6h0m1 1h0m0-15h0m1-3h0m0 8h0m1 8h0m2 5h0m0-13h0m1 7h0m1-1h0m0-2h0m2 12h0m-21 17h0m3 8h0m2-3h0m0-4h0m0 2h0m2-7h0m1 10h0m0-13h0m0 11h0m1-16h0m0 6h0m1-6h0m1 14h0m0-3h0m0-14h0m0 12h0m0 10h0m1-9h0m1 9h0m3-10h0m0-8h0m3 3h0m1 10h0m4 6h0m-19 8h0m3-2h0m0 6h0m0-1h0m1-8h0m1 21h0m0-23h0m0 8h0m1-2h0m2 0h0m0-2h0m0-1h0m3 5h0m0-4h0m0 7h0m1 5h0m0-15h0m1 11h0m0-5h0m0-6h0m2 23h0m2-14h0m1-9h0m0 19h0m0-10h0m1-7h0m2 0h0m2 17h0m1-17h0m0-3h0m1 12h0m0 10h0m0-8h0m-18 20h0m1 0h0m2 14h0m0-12h0m0 3h0m1 3h0m0-17h0m0 18h0m1 2h0m2-16h0m1 18h0m1-8h0m0 2h0m0-7h0m1 1h0m0 0h0m1 0h0m0-4h0m1 1h0m1 7h0m0-8h0m1 1h0m1 4h0m0-4h0m1 12h0m0-10h0m1 13h0m0-17h0m0 12h0m1-13h0m1-3h0m2 19h0m1-9h0m0 6h0m0-17h0m3 14h0m-23 20h0m2 5h0m1 4h0m1-8h0m1-5h0m2 19h0m0-14h0m0 0h0m1 4h0m0-13h0m1 10h0m0 0h0m2 8h0m3-1h0m1 2h0m0-6h0m5-14h0m1 14h0m1 0h0m0-1h0m0-4h0m1-8h0m1 7h0m1 14h0m1-13h0m1 3h0m-22 27h0m0-3h0m1 9h0m0-1h0m1-1h0m2-2h0m1-6h0m3 2h0m1 8h0m0-5h0m1-3h0m0 1h0m1-2h0m0 7h0m2 5h0m1-6h0m1-1h0m0 1h0m1-5h0m1-10h0m0 13h0m1-7h0m2-5h0m0 4h0m0 7h0m0-14h0m3 3h0m4 14h0m-22 23h0m0 8h0m3-16h0m1 17h0m2-22h0m1 3h0m0 2h0m0-4h0m0 0h0m1-2h0m0 18h0m2-13h0m1 13h0m1 5h0m1-22h0m0 9h0m1 6h0m1-4h0m1 5h0m2-1h0m0-8h0m1 9h0m0-2h0m0-15h0m1 13h0m1-13h0m0 3h0m2 8h0m0-10h0m0 19h0m0 2h0m1-10h0m-24 18h0m1 6h0m0-1h0m0-11h0m0 11h0m0 9h0m3-17h0m1 4h0m1 2h0m2-9h0m0 13h0m1 5h0m1-13h0m1 12h0m2-17h0m1 14h0m1 10h0m0 0h0m1-10h0m0-4h0m0-10h0m2 5h0m0-3h0m1 22h0m2-21h0m1 8h0m1-2h0m0 4h0m4-9h0m-24 35h0m1 4h0m1-7h0m0-10h0m1 12h0m1-2h0m2 10h0m0-8h0m2 0h0m0 3h0m0 5h0m2-3h0m0 4h0m3-6h0m1-11h0m0 11h0m2 6h0m1-7h0m0-12h0m1 16h0m0 5h0m0-4h0m1 2h0m3-13h0m0 7h0m1-2h0m0-14h0m1 5h0m1-3h0m0 6h0m0 12h0m-25 5h0m0 2h0m2 18h0m1-17h0m0 7h0m1 9h0m2-13h0m2 8h0m2-4h0m1-3h0m0 3h0m1 2h0m0-7h0m1 14h0m0-13h0m2 4h0m0-10h0m2 24h0m0-13h0m1 4h0m1 1h0m0-5h0m1 1h0m3-4h0m1 15h0m0-5h0m0-15h0m2-3h0m2 3h0m0-3h0m0 21h0m1 1h0m-27 17h0m1-3h0m1 8h0m0-4h0m1-11h0m1 15h0m1-16h0m0 18h0m0-4h0m1 6h0m0-14h0m0 11h0m0 1h0m2-3h0m4-9h0m1-2h0m1-3h0m0 4h0m1 2h0m2 7h0m0 5h0m1-11h0m1 1h0m0 10h0m2 0h0m1-9h0m0-1h0m1 2h0m2 9h0m0 0h0m1-14h0m2 12h0m-29 27h0m0-12h0m0 0h0m1 6h0m0-1h0m1-5h0m0-5h0m1 15h0m2-6h0m2-11h0m1 14h0m1-10h0m1 6h0m0-10h0m2 5h0m2 4h0m4-7h0m0 5h0m2-3h0m0 0h0m1-4h0m1 10h0m0 8h0m1-2h0m0-15h0m0 12h0m1-10h0m0 4h0m0-8h0m2 9h0m0-11h0m1 21h0m1-14h0m1 7h0m-30 34h0m1-17h0m0 4h0m1-1h0m1-3h0m0 7h0m2 7h0m0-17h0m2 10h0m0-14h0m0 0h0m2 13h0m2 1h0m2 2h0m3 5h0m1-7h0m0-4h0m1-1h0m1 9h0m0 6h0m0-12h0m1 11h0m0-18h0m0 7h0m1 0h0m0 5h0m1-8h0m0 13h0m0-9h0m0 3h0m0 3h0m1-11h0m0 4h0m1-4h0m0 12h0m1-20h0m0 13h0m1 11h0m0-10h0m-29 32h0m2-1h0m1-10h0m1-5h0m0 13h0m0-1h0m2-8h0m1-9h0m0 17h0m0-14h0m0 18h0m3-6h0m1 5h0m1 2h0m0-13h0m0 6h0m2-10h0m1 18h0m2-7h0m1 5h0m0 1h0m1-10h0m0 2h0m2 0h0m2-12h0m0 1h0m1 6h0m1 5h0m0-6h0m0 4h0m1 10h0m0-19h0m1 0h0m0 16h0m3-18h0m-32 37h0m1-12h0m0 14h0m5-8h0m1 7h0m1-7h0m1-5h0m0-1h0m0 16h0m1-8h0m1 3h0m0 5h0m2 7h0m2-6h0m2-7h0m1 5h0m0-12h0m0 11h0m3-10h0m1-1h0m1 20h0m1-14h0m0 11h0m2-14h0m0 4h0m0 8h0m0 0h0m1-18h0m1 18h0m2-7h0m1 12h0m0-11h0m-36 35h0m3-8h0m1-15h0m0 17h0m2-6h0m1 12h0m1-2h0m2-11h0m1-3h0m0 14h0m4 2h0m0-21h0m0-1h0m1 5h0m1 11h0m1-14h0m2 11h0m0 7h0m4-3h0m0 5h0m1-4h0m1-10h0m2 4h0m0-11h0m1 8h0m0-9h0m0 23h0m0-24h0m0 10h0m1-9h0m1 4h0m0 16h0m1-4h0m3-12h0m-40 43h0m0-5h0m3 3h0m1-14h0m1-6h0m0 16h0m0-9h0m0-6h0m1 9h0m0-5h0m2 11h0m0-2h0m0-12h0m1-3h0m1 4h0m1 12h0m0-9h0m1 4h0m0 6h0m3-5h0m3 10h0m0-8h0m1-12h0m0 0h0m1 2h0m2 19h0m5-12h0m1 1h0m1 4h0m0-16h0m1 8h0m1-5h0m1 2h0m4 1h0m-42 33h0m5-13h0m1 18h0m3 3h0m1-18h0m1 2h0m0-2h0m0 16h0m1 3h0m0-15h0m1 3h0m1-10h0m0 17h0m0-3h0m1-9h0m0-2h0m0 13h0m1-9h0m1 16h0m0-9h0m0-4h0m2 12h0m4-2h0m0-18h0m0 13h0m2 3h0m1 4h0m0-13h0m0 11h0m1-18h0m1 9h0m1-6h0m1 18h0m0-4h0m1-20h0m1 24h0m4-19h0m1 5h0m1-3h0m-42 25h0m1 8h0m0-14h0m1 15h0m0-6h0m3-6h0m0 19h0m1-11h0m1-2h0m1-10h0m0 8h0m0-6h0m1 11h0m0 8h0m2-3h0m0 1h0m1 2h0m0-7h0m1 9h0m0-11h0m0-6h0m0-4h0m2 5h0m2 16h0m0-15h0m2 2h0m1 6h0m2-6h0m1-9h0m1 21h0m1-9h0m0-1h0m4 0h0m0-9h0m0 12h0m0-12h0m1-2h0m2 22h0m1-17h0m1-2h0m2 0h0m-48 43h0m0-1h0m1-8h0m1-9h0m1-1h0m3 21h0m1 0h0m7 0h0m0-16h0m1-1h0m3 1h0m1-6h0m1 4h0m1 9h0m1 6h0m3-5h0m0 5h0m0-17h0m2 13h0m1-13h0m1 15h0m2 1h0m1 4h0m1-19h0m0-3h0m0 11h0m1-12h0m1 3h0m0 13h0m0 5h0m2-16h0m1 1h0m0 8h0m0-11h0m-53 38h0m0 2h0m2-2h0m0-8h0m4 8h0m0-6h0m0 13h0m1-20h0m0 10h0m0-8h0m4 16h0m0-8h0m1-4h0m1-5h0m0 7h0m1 3h0m0 7h0m1-22h0m0 14h0m0-4h0m0 4h0m1 10h0m1-7h0m3-9h0m0 11h0m2 4h0m1-2h0m1-3h0m0-14h0m0 0h0m1 10h0m0-7h0m0 17h0m1-24h0m1 19h0m0 2h0m3-10h0m1 4h0m3-1h0m2-3h0m3 0h0m0-6h0m1 1h0m1-6h0m2 18h0m2-18h0m0 5h0m-68 44h0m4-5h0m4-6h0m1 11h0m1-11h0m3-6h0m1 5h0m1 2h0m0-1h0m1 5h0m0-17h0m2 15h0m1 3h0m0-14h0m0 8h0m2-11h0m1 4h0m1 7h0m1-6h0m0 9h0m1 4h0m0 3h0m0-22h0m1 11h0m1-11h0m0 20h0m0-1h0m1-19h0m0 17h0m3-18h0m2 0h0m1 14h0m1 0h0m2 0h0m0 5h0m1 1h0m1-18h0m1 6h0m0 4h0m1-5h0m0-2h0m0 9h0m1 9h0m1-12h0m1-3h0m1 1h0m0-3h0m2 15h0m3 3h0m1-1h0m1-3h0m0-18h0m0 20h0m1-14h0m2-1h0m2 1h0m4-4h0m-84 45h0m1 0h0m1-3h0m7 0h0m1-2h0m0 1h0m1 2h0m3-5h0m1 0h0m1 3h0m2-13h0m1 7h0m0 1h0m1-5h0m2-4h0m0 13h0m3-18h0m0 22h0m1-11h0m0 4h0m1-13h0m0 12h0m1-4h0m2-2h0m0-7h0m1 9h0m1 4h0m2 2h0m2 7h0m2-1h0m0-22h0m1 2h0m1 5h0m0 5h0m0-4h0m0-1h0m1-8h0m1 14h0m1 3h0m0 4h0m1-2h0m0-17h0m1 15h0m2-8h0m0 8h0m0-12h0m1 16h0m0-16h0m1 3h0m3 10h0m0-3h0m0-9h0m1-3h0m0 15h0m1-5h0m2-9h0m1 14h0m0 5h0m1-15h0m1 6h0m0-10h0m2 1h0m0 8h0m3 0h0m0-3h0m1-3h0m1 6h0m5-12h0m-104 43h0m2 5h0m3-2h0m6-3h0m1-4h0m0 7h0m0-4h0m1 6h0m1 0h0m2-4h0m1-3h0m3 7h0m1-15h0m1-1h0m4 14h0m1-12h0m0 12h0m0 1h0m2-11h0m1-2h0m1-1h0m1 5h0m0-14h0m3 6h0m1 1h0m1 0h0m2 7h0m1 3h0m0-12h0m1 10h0m0 6h0m0-3h0m2-16h0m1 14h0m0-1h0m1-7h0m0-8h0m2 7h0m4-7h0m3 17h0m1 2h0m0 4h0m1-23h0m1 23h0m0-4h0m0-10h0m2 6h0m1 6h0m0-17h0m1 11h0m1-2h0m0 10h0m1-15h0m1 15h0m1-14h0m0 15h0m1-2h0m2-20h0m1 15h0m0-9h0m0-2h0m0-6h0m1 23h0m2-20h0m0 6h0m2 8h0m0-13h0m0 10h0m1-2h0m1-6h0m0-6h0m0 17h0m1-17h0m0 18h0m1 0h0m1-1h0m1-7h0m1 0h0m6-6h0m-98 23h0m0 15h0m0 5h0m2-11h0m2-10h0m1 15h0m0-14h0m1-1h0m1 12h0m1-5h0m2-1h0m1 7h0m0-8h0m1 7h0m0 9h0m1 2h0m1-13h0m4-3h0m3 8h0m3-1h0m2 5h0m1-4h0m0-9h0m1 16h0m1-10h0m0 7h0m1-16h0m1 19h0m0-7h0m3 5h0m0-14h0m1 10h0m0-12h0m0 13h0m0-7h0m1-9h0m0 2h0m0 12h0m1 3h0m0-2h0m1 7h0m2-18h0m0 3h0m0-8h0m2 17h0m2-18h0m0 1h0m2-1h0m0 8h0m0 8h0m1-16h0m1 1h0m2 16h0m0 7h0m1-3h0m3-19h0m0 12h0m2 4h0m0-11h0m2-3h0m3-2h0m0 17h0m1-13h0m0 6h0m2-1h0m0 7h0m3-16h0m1 11h0m1-3h0m0 1h0m1-5h0m4-2h0m1 2h0m-68 41h0m6-11h0m0-3h0m0 1h0m1 10h0m0-13h0m1 15h0m0-3h0m1-18h0m0 1h0m1 10h0m1 10h0m0-14h0m4 14h0m3-17h0m2 10h0m0 0h0m0 5h0m0-14h0m3 2h0m3-5h0m1 0h0m3 12h0m0-6h0m2-3h0m0 6h0m4-9h0m1 6h0m0-3h0m1-1h0m-40 24h0" stroke="#0a0a0a" stroke-width="12" stroke-linecap="round" fill="none" opacity="1"/>
<path d="M95.2 27.8L190 89.8" stroke="#555" stroke-width="0.5" fill="none"/>
<path d="M95.2 27.8V74.5M190 89.8V199.4" stroke="#0eea1e" stroke-width="1.3" fill="none"/>
<circle cx="41.5" cy="53.9" r="0.8" fill="#f03030"/>
<path d="M40.7 67.4l1.6 1.6m0-1.6l-1.6 1.6" stroke="#222" stroke-width="0.4"/>
<path d="M33.8 81.9H48.3" stroke="#0eea1e" stroke-width="1.3"/>
<text x="50.1" y="56" font-size="6.05" text-anchor="start" >KUKA KR6</text>
<text x="50.1" y="70.3" font-size="6.05" text-anchor="start" >Hybrid</text>
<text x="50.1" y="84.2" font-size="6.05" text-anchor="start" >Plane (x=0)</text>
</g>
<path d="M336.2 5.6V196.8M381.8 5.6V196.8M427.4 5.6V196.8M473 5.6V196.8M518.6 5.6V196.8M308.8 196.6H545.9M308.8 178.6H545.9M308.8 160.5H545.9M308.8 142.4H545.9M308.8 124.3H545.9M308.8 106.2H545.9M308.8 88.2H545.9M308.8 70.1H545.9M308.8 52H545.9M308.8 33.9H545.9M308.8 15.8H545.9" stroke="#ececec" stroke-width="0.5" fill="none"/>
<g id="pb">
<radialGradient id="yg" gradientUnits="userSpaceOnUse" cx="429.8" cy="105.9" r="88"><stop offset="0.25" stop-color="#f8ce05" stop-opacity="0.1"/><stop offset="0.45" stop-color="#f8ce05" stop-opacity="0.55"/><stop offset="0.7" stop-color="#f8ce05" stop-opacity="0.9"/><stop offset="0.95" stop-color="#f8ce05" stop-opacity="0.95"/></radialGradient>
<path transform="scale(.1)" d="m4175 206l-22-99m35 98l-6-102m9 104l-3-103m30 103l-23-100m27 94l-16-101m29 100l0-102m3 104l3-102m3 108l9-102m10 101l-20-100m22 96l-17-100m22 95l-10-101m23 101l5-102m-2 104l8-102m-3 109l15-102m4 102l-14-102m17 98l-12-102m17 97l-5-102m18 102l11-101m-9 104l14-102m-9 108l21-100m-2 102l-8-102m11 98l-5-102m11 97l0-102m13 103l16-100m-14 103l20-100m12 101l7-102m6 104l22-100m-413 131l-38-95m51 91l-23-99m26 101l-20-101m45 101l-42-94m43 89l-38-94m42 88l-33-97m46 94l-18-101m21 102l-14-101m20 107l-8-102m12 105l-5-102m8 107l-1-102m11 94l-39-94m41 90l-36-96m38 92l-34-97m38 90l-28-98m40 96l-11-101m14 103l-8-102m15 107l-2-102m5 106l1-102m2 107l5-102m1 113l-43-93m44 87l-40-95m41 101l10-102m-8 84l-33-96m35 91l-31-97m33 93l-27-98m53 98l4-102m0 107l6-102m-3 106l10-101m-6 113l-37-95m39 88l-34-96m34 103l16-101m-12 83l-28-98m30 93l-25-99m56 101l13-101m-10 106l16-101m-14 121l-35-96m37 88l-32-97m34 91l-29-98m29 104l22-99m-19 106l25-99m-23 75l-23-100m57 99l18-101m-16 106l21-100m-20 119l-30-97m32 90l-26-98m28 98l28-98m-27 92l-24-100m26 114l30-98m-27 73l-17-101m51 102l23-100m-22 125l-24-100m25 80l27-99m-25 112l-21-100m23 100l33-97m-32 90l-18-100m20 114l35-96m-31 72l-12-102m43 100l26-99m-23 104l29-99m-27 104l32-97m-31 109l-15-101m17 102l38-95m-36 88l-13-101m19 91l-6-102m9 98l-3-102m6 99l0-102m21 102l26-99m-22 106l32-97m-30 102l35-97m-33 102l37-95m-32 102l-7-102m14 92l-1-102m4 98l3-102m0 99l6-102m0 98l13-102m0 104l28-98m-26 101l31-97m-27 105l37-96m-35 100l39-94m-38 100l43-93m-31 90l5-102m-2 99l9-102m-5 99l11-102m-5 98l18-101m-5 104l33-97m-31 100l36-96m-33 104l42-94m-20 96l17-101m-11 98l23-100m-618 131l-34-97m37 98l-31-98m56 95l-52-89m53 84l-49-90m52 84l-43-93m55 88l-28-98m31 99l-25-99m32 104l-19-100m23 103l-16-101m20 105l-12-101m20 105l-55-87m56 75l-49-90m50 85l-46-91m48 87l-44-93m70 89l-14-102m17 105l-10-102m14 106l-7-102m13 121l-55-86m56 78l-53-88m53 81l-50-89m52 77l-44-92m44 111l-1-102m5 108l2-102m35 93l-50-89m51 81l-48-90m49 83l-45-92m46 99l5-102m-1 108l8-102m-3 109l11-101m20 104l-51-89m53 72l-45-92m52 91l14-101m-10 108l17-101m13 115l-49-90m50 81l-46-92m49 75l-40-94m48 93l19-100m-16 107l22-99m-15 117l28-98m-6 96l-44-92m46 83l-41-94m55 84l28-98m-22 116l34-97m-12 96l-39-94m42 85l-36-96m50 87l34-96m-29 114l40-94m-18 95l-33-97m36 88l-30-98m46 90l38-95m-34 113l44-92m-22 94l-28-98m31 89l-25-99m32 83l-19-100m26 101l41-94m-39 102l44-92m-41 111l49-90m-24 84l-19-100m27 84l-13-101m17 95l-10-102m12 102l43-93m-42 101l46-92m-44 100l48-90m-12 89l-7-102m11 96l-4-102m6 102l49-90m-48 98l51-89m-50 75l-1-102m1 124l54-87m-17 88l-2-102m5 78l45-92m-44 110l1-102m-1 89l48-90m-46 103l53-87m-53 95l56-86m-54 72l5-102m3 93l11-101m-7 98l14-101m9 99l38-95m-37 97l42-93m-39 101l47-91m-46 96l50-89m-49 95l53-88m-49 95l10-101m-2 93l17-101m-13 97l20-100m-16 98l22-100m-16 97l29-98m-16 102l43-92m-42 95l47-91m-44 99l52-88m-24 90l34-96m-777 127l-58-84m61 77l-54-87m65 81l-39-94m42 95l-36-95m44 99l-30-98m34 101l-27-99m32 102l-24-99m32 90l-59-84m59 79l-56-86m57 82l-54-88m57 81l-49-90m71 90l-24-99m28 102l-21-100m26 104l-19-101m26 111l-62-82m62 75l-59-84m60 98l-65-79m65 53l-54-87m55 105l-12-101m17 107l-9-102m45 88l-60-82m60 75l-57-85m58 110l-65-79m66 53l-6-102m11 108l-3-102m8 109l0-102m32 111l-63-81m63 71l-61-82m73 70l5-102m4 118l12-102m-7 111l15-101m1 97l-61-82m62 72l-59-84m59 74l-56-86m77 91l18-101m-13 110l20-100m-15 110l23-100m-12 87l-56-85m57 75l-54-87m76 83l23-99m-19 109l26-99m-22 109l29-98m-17 85l-51-88m78 85l32-97m-28 108l35-96m-22 84l-47-91m74 90l37-96m-34 106l40-94m-26 83l-42-93m69 93l42-93m-40 104l45-92m-31 82l-36-96m64 97l47-90m-46 101l50-89m-35 80l-31-98m58 101l52-88m-51 99l55-87m-40 78l-25-99m29 90l-22-100m44 103l55-86m-54 97l57-85m-56 96l59-84m-44 76l-20-100m25 91l-17-101m22 92l-14-101m31 115l59-84m-59 94l62-82m-46 86l-14-101m19 92l-11-102m16 94l-8-102m25 97l58-84m-58 103l63-80m-37 79l-3-103m13 89l4-103m1 97l7-102m-5 102l58-84m-58 92l61-83m-61 91l63-81m-27 86l10-101m-5 96l13-102m-12 83l55-86m-54 92l57-85m-57 98l63-81m-63 89l65-79m-62 66l16-101m-7 92l22-99m-18 96l25-99m-21 97l28-98m-9 101l48-90m-47 93l52-89m-50 97l57-85m-56 90l59-84m-59 90l62-82m-50 82l28-99m-24 96l31-98m-27 96l34-97m-27 94l40-94m-28 100l53-87m-52 90l56-85m-897 114l-65-78m66 74l-63-81m65 74l-58-85m69 79l-44-93m47 93l-41-93m49 96l-35-95m39 98l-32-97m37 100l-29-98m36 89l-63-81m64 93l-69-77m69 60l-61-83m62 107l-71-75m73 74l-24-100m63 80l-67-78m67 71l-65-80m66 95l-69-76m70 67l-18-100m23 106l-14-102m20 108l-11-102m42 98l-69-76m70 85l-71-73m81 50l-6-102m17 117l1-102m5 110l4-102m11 86l-68-77m69 88l-70-75m90 57l6-102m-1 111l10-102m-4 111l13-101m-3 87l-66-79m98 81l18-100m366 99l64-80m-23 91l69-76m-68 65l66-78m-50 83l-9-102m15 94l-6-102m26 119l70-75m-69 65l68-77m-54 93l-3-102m9 93l0-102m6 95l3-102m12 118l72-73m-70 54l68-77m-44 97l9-102m3 89l15-101m-10 96l19-101m-19 118l72-74m-71 66l70-76m-69 68l67-78m-63 72l21-100m15 126l23-100m-20 77l61-82m-61 87l64-80m-64 85l66-78m-64 86l27-98m-17 91l33-97m-29 95l36-96m-32 94l39-95m-32 93l45-92m-33 98l58-84m-57 87l61-82m-60 91l66-79m-990 102l-69-76m69 71l-67-77m68 87l-72-73m73 56l-63-81m74 74l-49-90m52 90l-46-91m54 94l-41-94m46 97l-38-95m43 98l-35-97m41 86l-68-76m70 88l-73-72m74 79l-75-70m76 78l-77-68m78 59l-29-98m35 103l-26-99m59 80l-73-72m76 89l-77-67m80 47l-20-100m26 106l-17-101m30 114l-10-102m17 110l-7-102m18 75l-73-72m75 81l-76-69m78 79l-78-67m96 48l-5-102m12 110l-2-102m8 111l2-103m7 87l-74-71m105 70l7-102m542 100l73-73m-33 89l77-69m-75 58l75-71m-60 78l3-103m4 95l6-102m12 121l78-66m-76 56l76-69m-56 79l11-102m-5 95l15-101m-2 89l21-100m-16 111l75-69m-74 61l74-71m-73 64l72-74m-40 100l27-98m-21 94l30-98m-28 99l75-70m-73 56l71-74m-70 69l68-77m-67 90l32-97m-22 91l39-95m-34 93l41-94m-37 92l44-92m-37 90l50-89m-39 96l63-80m-62 84l66-79m-66 92l73-72m-72 67l70-75m-1099 109l-59-84m63 84l-57-85m80 81l-76-69m76 64l-74-71m74 66l-72-73m73 66l-67-78m77 71l-54-87m58 87l-52-89m60 91l-46-91m50 93l-43-93m49 96l-41-94m49 95l-77-68m78 75l-78-66m80 74l-80-64m80 55l-34-96m40 101l-31-98m38 103l-28-99m58 90l-81-63m84 72l-83-61m88 37l-23-100m37 112l-17-101m24 109l-13-102m21 109l-11-101m15 75l-80-65m82 75l-81-62m112 58l-4-102m712 99l80-64m-63 61l8-102m13 125l83-60m-80 49l81-62m-79 53l80-65m-68 83l14-102m-7 94l17-100m-10 94l20-100m-8 118l84-60m-78 42l79-65m-77 57l77-67m-45 88l31-97m-25 93l35-97m-35 105l81-63m-79 56l79-66m-76 53l74-71m-73 79l38-95m-27 89l43-93m-39 91l47-91m-43 89l50-89m-42 88l54-86m-44 94l68-77m-68 94l77-69m-76 55l70-75m-70 83l74-70m-1177 108l-64-81m67 81l-61-83m83 68l-75-70m76 74l-78-67m78 55l-71-73m72 90l-80-65m101 42l-51-89m56 91l-48-90m53 92l-45-91m53 93l-80-65m82 71l-82-61m84 69l-84-60m84 51l-40-94m46 98l-36-95m43 100l-34-97m63 86l-84-58m88 67l-86-56m89 66l-87-53m102 31l-22-100m30 107l-19-101m27 108l-16-101m22 85l-85-58m935 70l87-55m-83 45l85-58m-71 67l19-100m-11 93l22-100m-15 94l26-99m-15 118l86-56m-80 38l83-61m-64 86l31-98m-16 88l37-95m-32 99l85-58m-84 50l40-94m-38 95l82-61m-79 48l79-66m-78 74l43-93m-32 88l49-90m-44 88l51-89m-47 88l54-87m-46 86l59-83m-50 108l80-64m-79 47l71-73m-71 77l74-72m-74 80l78-67m-1228 91l-79-65m79 58l-75-70m76 81l-82-62m83 67l-84-60m104 36l-56-86m60 88l-53-88m59 90l-51-89m59 90l-84-60m86 66l-85-57m87 56l-45-92m46 100l-87-54m93 50l-42-94m49 98l-39-95m54 105l-33-96m47 74l-88-54m91 63l-89-52m94 61l-91-48m104 25l-28-98m36 105l-24-100m33 107l-22-100m949 95l90-50m-86 40l88-53m-74 63l24-99m-16 93l28-99m-15 122l91-48m-87 38l90-50m-83 33l87-56m-69 82l37-96m-22 87l42-94m-40 106l89-51m-86 43l88-54m-86 46l45-92m-44 93l86-56m-81 52l48-91m-48 82l82-61m-71 65l54-87m-49 85l56-85m-52 84l59-84m-51 84l64-80m-56 105l83-59m-82 43l76-70m-76 81l82-62m-81 54l77-67m-1297 101l-83-61m83 54l-79-66m80 77l-85-58m87 63l-87-55m93 30l-68-77m72 76l-66-79m74 80l-60-82m65 84l-58-85m63 87l-55-87m64 87l-87-55m89 61l-88-52m90 51l-50-90m51 98l-90-49m96 44l-47-91m54 95l-44-92m60 102l-38-95m50 71l-90-49m94 58l-91-46m96 55l-93-43m114 25l-30-97m39 104l-27-99m1022 94l93-45m-75 46l30-98m-22 92l34-97m-22 121l94-43m-89 34l92-46m-68 56l42-94m-26 85l47-91m-42 96l90-49m-88 41l50-89m-49 90l89-52m-84 48l53-88m-53 80l85-57m-73 61l58-84m-53 83l60-83m-56 82l63-81m-56 81l69-77m-61 98l85-58m-84 46l80-65m-79 68l81-62m-1367 98l-86-56m86 49l-83-61m84 72l-87-53m94 32l-72-73m76 73l-70-76m78 76l-65-79m70 80l-62-81m68 83l-60-83m68 83l-90-51m93 57l-91-48m92 46l-54-86m57 95l-93-45m98 39l-52-88m59 92l-49-90m66 99l-44-93m54 69l-93-44m98 52l-94-41m99 50l-95-38m115 19l-35-96m44 102l-32-97m1093 92l95-40m-78 42l36-96m-27 90l39-94m-28 119l96-38m-91 29l95-41m-86 25l92-47m-77 74l47-91m-31 84l52-88m-47 93l93-44m-91 36l55-87m-54 88l92-47m-87 43l58-85m-57 77l88-52m-86 47l87-56m-78 66l63-81m-58 80l65-79m-60 78l67-77m-60 78l72-73m-64 82l83-61m-83 65l85-59m-1432 89l-86-57m94 46l-76-69m79 69l-74-72m82 72l-69-76m74 77l-66-78m72 79l-64-80m67 68l-89-51m94 62l-92-45m96 51l-94-42m95 41l-59-84m62 92l-95-40m99 34l-57-85m65 88l-54-87m80 71l-95-39m101 47l-97-36m102 44l-97-33m116 14l-41-94m50 99l-37-95m1160 90l97-35m-80 38l41-94m-32 89l44-93m-34 117l97-32m-92 24l97-36m-87 20l95-41m-65 63l57-85m-53 90l96-39m-93 31l60-83m-59 85l94-42m-88 38l62-81m-61 73l91-48m-89 43l90-51m-88 46l88-53m-81 68l67-77m-62 76l69-75m-65 75l72-73m-65 74l77-69m-69 79l86-56m-1484 80l-80-65m83 64l-77-67m86 67l-74-72m79 73l-71-74m76 54l-90-52m90 72l-68-76m69 60l-91-49m93 54l-92-46m97 56l-94-40m98 46l-96-37m97 36l-63-81m71 83l-62-82m70 85l-59-84m84 65l-97-33m103 41l-98-31m104 39l-99-27m107 2l-48-90m57 95l-45-92m55 97l-43-93m1224 87l99-29m-81 33l46-92m-37 87l49-90m-40 86l52-88m-47 109l99-30m-88 15l96-36m-68 59l62-81m-55 79l65-80m-63 82l96-37m-91 33l67-77m-65 69l93-42m-91 37l92-45m-90 41l91-49m-89 41l88-54m-84 77l72-73m-67 73l74-72m-69 72l76-69m-69 70l80-64m-1522 99l-82-63m90 62l-77-68m82 68l-75-70m77 43l-88-52m90 59l-92-46m93 50l-93-43m94 60l-73-73m75 61l-95-41m101 51l-97-35m132 10l-98-35m108 49l-99-29m105 36l-100-25m113 7l-53-87m63 91l-51-89m61 94l-48-91m1284 85l100-24m-93 16l99-27m-89 40l51-89m-41 85l53-87m-44 83l56-85m-52 106l100-24m-89 10l99-31m-94 24l98-34m-60 54l96-37m-93 32l95-40m-93 36l94-43m-91 32l89-52m-89 55l91-49m-1551 82l-91-47m93 54l-94-42m96 46l-96-39m98 43l-96-35m97 9l-83-61m118 64l-98-32m99 30l-68-76m72 84l-99-29m102 23l-65-79m73 98l-101-23m102 6l-64-80m69 104l-101-19m113 1l-58-84m68 87l-55-86m65 73l-101-22m102 39l-53-87m1340 82l101-19m-94 10l101-21m-92 35l56-86m-46 82l59-84m-50 81l62-82m-46 90l100-25m-99 13l66-79m-62 85l99-29m-95 21l68-76m-67 77l98-31m-92 28l71-74m-59 73l75-70m-70 70l77-68m-73 68l80-65m-73 66l84-59m-80 82l95-38m-92 26l92-46m-92 50l93-44m-1602 78l-94-42m96 49l-97-36m101 17l-86-55m89 54l-85-58m93 57l-80-63m86 63l-79-66m84 66l-76-68m84 66l-98-29m103 35l-100-27m101 25l-73-73m77 81l-101-24m104 17l-70-75m78 77l-67-77m86 82l-63-81m73 84l-61-83m69 69l-101-17m103 34l-58-85m1393 79l102-13m-95 5l102-16m-95 9l102-19m-100 40l61-82m-51 79l63-80m-54 78l66-79m-51 87l101-19m-99 7l71-74m-67 80l100-23m-96 16l73-73m-72 74l100-26m-94 24l75-70m-73 62l98-32m-95 27l97-35m-90 47l79-66m-74 66l81-63m-76 63l83-60m-76 62l86-55m-81 70l95-38m-94 35l94-42m-1643 68l-90-50m93 49l-88-53m96 51l-84-58m89 58l-82-61m86 45l-98-33m100 49l-80-64m81 52l-99-30m106 40l-100-25m105 30l-101-21m101 19l-76-69m81 76l-102-18m105 12l-74-71m82 72l-71-73m90 77l-67-77m70 51l-101-17m108 24l-102-14m102 36l-65-80m73 65l-103-11m1483 22l103-7m-95 0l103-11m-95 4l102-14m-82 31l70-75m-53 72l75-71m-67 70l76-68m-75 70l101-21m-95 18l79-66m-77 59l100-27m-96 22l98-30m-95 26l97-33m-94 49l83-61m-78 61l85-58m-80 59l86-56m-80 59l90-51m-1660 58l-96-37m99 44l-99-31m101 35l-99-28m102 32l-100-25m108 34l-102-18m144-1l-102-11m110 18l-103-9m111 16l-103-6m126-16l-63-81m1456 82l66-79m-56 77l68-77m-65 103l102-5m-95-1l103-8m-89-5l102-14m-96 8l102-17m-67 43l100-21m-97 17l100-24m-97 20l99-27m-95 19l97-33m-96 30l96-36m-1691 76l-98-32m101 38l-100-25m102 7l-92-46m93 68l-101-22m103-2l-90-49m98 47l-87-54m92 53l-85-56m91 56l-84-59m97 61l-102-15m103 13l-80-64m84 71l-102-12m105 6l-78-67m87 68l-76-69m78 86l-103-6m110 12l-103-3m112-18l-71-73m81 75l-69-75m80 77l-66-77m1483 71l103-2m-87 10l69-75m-59 73l72-73m-63 72l74-71m-60 81l103-9m-99-3l78-67m-75 73l102-12m-98 5l81-64m-80 66l102-15m-95 13l82-61m-70 61l86-56m-81 57l87-54m-83 55l89-51m-82 54l92-46m-88 61l99-28m-98 25l98-31m-1724 59l-95-41m98 39l-93-44m101 42l-90-50m95 49l-89-52m94 39l-102-19m103 31l-87-55m94 52l-102-13m107 17l-102-10m103 9l-83-60m88 66l-103-6m106 0l-82-63m90 63l-79-65m98 67l-76-70m86 71l-73-72m79 57l-103 0m108 17l-71-74m1523 67l103 4m-95-10l104 0m-97 15l73-72m-71 51l103-3m-95 23l76-69m-66 68l78-67m-61 66l82-62m-79 68l102-6m-97 0l84-60m-83 62l102-10m-96 8l85-57m-82 49l102-15m-98 11l102-19m-99 15l101-22m-99 39l89-52m-84 53l91-49m-87 50l92-46m-85 49l95-40m-1737 48l-100-26m103 33l-101-20m103 23l-101-17m101 34l-92-47m96 34l-102-14m103 26l-90-50m98 46l-103-7m108 12l-103-5m104 3l-87-56m95 55l-85-57m93 57l-83-60m101 35l-103-1m104 27l-79-65m86 45l-103 2m106 19l-77-68m82 52l-102 6m108 11l-75-70m1557 63l103 10m-94-16l103 7m-94-12l103 3m-88-14l103-4m-65 28l102-10m-98 6l102-13m-99 9l102-16m-97 9l100-22m-99 19l100-25m-1761 66l-100-20m104 27l-102-15m102-4l-97-36m100 58l-103-11m103-13l-96-39m104 36l-93-44m122 47l-103-1m118 11l-103 5m111 0l-103 8m112-2l-103 11m115-16l-77-68m1581 51l77-68m-69 94l102 11m-100-38l79-65m-72 86l102 9m-99-30l81-63m-69 74l103 3m-98-14l85-58m-83 64l103 0m-97-6l87-55m-87 57l103-4m-96 2l88-52m-76 54l92-47m-87 48l93-44m-89 46l94-41m-88 44l97-35m-94 51l101-17m-100 14l101-20m-1784 49l-99-31m102 29l-98-34m105 30l-95-39m100 38l-94-42m97 29l-102-8m105 20l-93-45m100 40l-103-1m108 6l-103 1m104-3l-90-51m96 57l-103 4m105-11l-88-53m96 52l-86-55m91 72l-103 11m117-28l-83-61m93 61l-80-63m1599 57l102 15m-88-5l81-63m-71 63l83-60m-73 60l85-58m-73 70l103 9m-97-20l88-53m-87 60l103 5m-97-11l90-50m-89 52l103 2m-97-3l92-47m-87 40l103-5m-99 1l103-8m-100 21l94-41m-93 24l102-10m-98 29l96-39m-92 40l97-35m-90 39l98-30m-1793 38l-102-15m106 21l-103-8m106 12l-103-6m104 22l-96-37m99 24l-103-2m105 14l-94-40m101 35l-103 4m109 0l-103 7m104-9l-93-45m100 44l-90-48m99 47l-90-51m99 50l-88-53m102 32l-102 13m102-14l-84-58m93 63l-101 17m1638-8l101 21m-91-26l101 18m-98-2l85-58m-79 38l102 14m-97 7l86-56m-77 57l88-54m-70 55l91-48m-84 49l93-45m-81 40l103 1m-98-4l103-2m-100-2l103-5m-97-1l102-12m-101 9l102-15m-1808 57l-103-10m105-3l-100-25m102 44l-103-3m104-18l-99-28m101 52l-103 0m108-28l-97-34m127 34l-103 10m108 4l-90-48m100 42l-101 17m110-13l-101 20m110-15l-100 22m1654-14l100 26m-89-30l100 23m-91-27l101 20m-84-29l102 14m-95-18l103 11m-96-15l103 8m-97-8l94-42m-82 45l96-37m-91 39l97-34m-93 35l98-30m-92 35l100-25m-100 40l103-6m-101 3l103-9m-1823 39l-101-19m103 17l-100-23m108 18l-99-28m103 26l-98-31m100 18l-103 3m107 9l-97-35m103 30l-102 9m109-6l-103 13m103-15l-95-40m101 46l-101 15m102-22l-93-44m108 58l-100 22m109-18l-100 25m1683-44l88-54m-77 55l89-51m-80 52l91-48m-80 62l101 19m-95-30l94-43m-93 50l102 16m-95-21l95-40m-95 42l103 13m-96-14l96-37m-91 31l103 7m-98-11l103 4m-102 10l99-31m-96 14l103 1m-101 18l99-28m-95 30l100-25m-94 30l101-19m-1828 27l-103-4m108 9l-103 3m106 0l-102 6m107-3l-103 9m113-2l-102 14m102-11l-98-33m104 33l-101 18m104-43l-96-38m140 36l-99 28m1666-20l98 31m-88-35l99 28m-97-12l90-49m-82 29l99 25m-97-3l92-47m-82 48l93-43m-76 47l95-38m-76 36l103 12m-98-15l103 9m-99-12l103 6m-97-12l103 0m-101-3l103-3m-1834 46l-103 2m103-15l-102-14m105 12l-102-17m104 37l-103 9m108-34l-101-23m105 21l-99-26m103 47l-99-27m101 4l-99-30m118 31l-100 21m117-15l-100 28m109-24l-99 30m109-27l-98 33m1672-26l97 37m-86-40l97 34m-87-37l98 31m-81-38l100 25m-92-28l101 22m-94-27l97-35m-97 37l102 19m-95-19l98-32m-87 36l100-25m-95 28l100-23m-96 25l101-20m-96 25l102-14m-101 27l103 2m-1839 28l-103-9m105 6l-103-11m109 6l-101-18m102-1l-102 11m106-8l-102 14m102-1l-101-20m112 13l-101 20m108-18l-101 24m108-21l-100 27m116-21l-97 32m107-30l-97 36m107-33l-96 39m1684-62l93-44m-83 46l94-41m-93 64l96 36m-88-56l96-39m-86 53l98 30m-91-40l98-32m-97 39l99 28m-92-32l98-30m-98 32l100 24m-94-24l100-26m-94 20l101 18m-96-7l101-20m-101 6l102 15m-98-17l103 11m-102 7l101-17m-97 20l102-14m-100-13l103 6m-1838 34l-102 8m108-2l-102 13m105-11l-101 17m101-22l-102-14m107 22l-101 19m112-14l-100 26m107-24l-99 29m1720-54l94 42m-83-28l95-39m-95 22l95 39m-85-20l96-36m-87 39l97-33m-81 39l100-27m-80 27l100 23m-95-26l101 20m-96-22l101 17m-94-22l102 11m-100-27l103-8m-103 21l102 8m-1839 22l-103-3m104 16l-102 13m103-29l-103-6m106 4l-102-9m135-1l-98 32m115-27l-96 38m105-36l-94 41m104-39l-93 44m1670-37l92 47m-81-49l93 44m-83-47l94 42m-76-46l97 36m-89-38l98 32m-90-37l100-24m-100 26l98 30m-92-29l101-21m-90 27l102-15m-98 17l103-11m-99 14l103-8m-98 13l103-2m-1835 19l-103-3m105 0l-101 19m105-17l-100 22m105-20l-100 26m111-21l-98 31m105-29l-97 34m104-32l-96 37m113-34l-93 43m103-41l-92 46m102-44l-90 48m1661-43l88 52m-77-53l90 49m-88-76l97-34m-89 59l92 47m-90-69l98-30m-89 33l99-27m-92 43l95 41m-86-50l101-22m-101 29l95 38m-88-42l102-18m-102 20l97 35m-91-34l102-15m-95 10l99 29m-95-18l103-9m-102-4l100 26m-97-10l103-6m-101-13l100 23m-93-27l101 16m-99-19l102 14m-1833 16l-103 3m104 10l-101 19m107-14l-100 24m104-22l-99 27m103-25l-98 30m110-27l-96 37m1722-51l99-28m-90 32l100-25m-91 29l101-22m-85 29l102-16m-77 16l98 31m-93-33l99 28m-92-53l103-3m-103 24l101 22m-98-24l101 19m-100-32l103 3m-1797 19l-95 40m102-38l-93 42m111-40l-91 49m100-47l-89 51m100-50l-88 53m1647-48l86 56m-78-41l101-23m-98 7l88 54m-78-55l89 51m-70-54l92 46m-84-47l94 43m-86-47l102-12m-102 14l95 41m-89-39l103-10m-96 5l97 34m-94-22l103-4m-99 7l103-1m-99 4l103 3m-99 3l103 9m-1819-3l-101 21m103-19l-100 24m106-20l-99 30m103-28l-98 33m103-31l-97 36m108-33l-94 42m101-41l-92 45m100-44l-91 48m108-46l-88 53m98-52l-86 56m96-56l-84 59m1628-54l83 61m-72-62l84 59m-74-59l87 56m-82-78l101-19m-93 24l102-17m-96 33l90 50m-82-51l91 48m-89-55l102-11m-96 17l93 45m-92-47l102-8m-97 11l103-4m-96 0l95 39m-92-27l103 2m-100-16l96 37m-91-38l97 33m-90-37l99 27m-96-30l100 25m-1797 21l-96 36m100-34l-95 38m100-36l-94 41m106-39l-91 47m1684-67l102-17m-92 22l102-14m-94 19l103-11m-88 20l103-5m-73 6l95 39m-89-66l103 5m-102 19l98 33m-96-54l103 9m-102 10l99 30m-96-43l102 15m-1764 4l-90 50m98-49l-89 52m106-51l-85 57m95-57l-83 60m93-60l-81 62m104-63l-77 67m1578-63l79 66m-73-50l103-11m-98-4l81 63m-77-42l103-9m-97-12l83 60m-64-61l86 56m-78-56l88 53m-80-56l104-1m-104 3l90 50m-84-48l103 2m-96-6l93 45m-90-33l102 8m-99-4l103 10m-103-27l94 42m-91-22l102 14m-98-8l101 21m-1768-9l-94 41m99-40l-94 44m99-42l-92 46m104-45l-89 52m96-51l-88 54m95-54l-85 57m103-57l-82 62m91-62l-79 65m90-66l-78 67m100-69l-73 72m1549-67l75 70m-72-80l103-12m-95 23l77 68m-67-67l80 65m-65-81l103-6m-99 22l84 61m-75-61l85 58m-83-64l103 0m-98 6l87 55m-86-57l103 4m-98 1l103 7m-95-11l90 49m-89-37l103 13m-99-26l92 47m-87-48l93 44m-85-47l96 38m-93-40l97 35m-1736 11l-89 51m101-50l-85 57m92-57l-84 59m92-59l-82 62m100-63l-79 67m88-68l-76 69m87-70l-74 71m96-74l-69 75m81-77l-67 77m1501-70l71 74m-60-72l74 72m-64-97l103-6m-103 32l76 69m-75-69l103 0m-96-21l103-3m-95 9l103 0m-89 10l103 7m-97-2l103 10m-80-10l91 49m-83-51l94 43m-92-67l101 16m-100 6l95 40m-94-59l102 20m-98-13l99 25m-1612 19l-63 81m75-84l-60 83m1486-82l103 6m-84-30l80 64m-71-64l81 62m-74-62l84 60m-78-57l103 13m-95-16l87 54m-86-42l101 19m-98-15l100 22m-99-39l89 52m-88-32l100 26m-97-19l98 31m-1680-18l-83 61m90-61l-81 63m88-64l-78 66m96-68l-75 71m84-72l-72 73m83-75l-70 75m92-79l-65 79m1477-73l67 77m-56-75l69 75m-59-73l72 73m-57-61l102 11m-98-21l76 69m-68-68l78 67m-75-73l102 12m-97-5l80 64m-79-66l102 15m-97-10l101 18m-94-21l84 59m-83-47l100 24m-95-36l86 56m-81-57l88 54m-80-56l91 48m-88-50l93 46m-1636-5l-75 70m92-73l-70 75m80-77l-68 77m78-79l-66 79m88-85l-61 83m72-86l-57 84m70-88l-55 87m101-61l-44 92m58-98l-42 94m1332-100l63 81m-52-78l65 79m-55-77l67 77m-49-73l72 73m-64-72l75 71m-71-77l101 17m-97-10l77 68m-76-70l101 21m-96-16l100 24m-92-26l80 64m-75-64l83 61m-78-62l85 59m-76-60l88 53m-85-55l89 51m-88-73l99 27m-97-23l98 30m-96-23l97 36m-1587 9l-66 79m75-81l-64 80m74-83l-61 82m83-89l-56 86m67-90l-53 88m65-92l-50 89m98-66l-39 94m53-100l-37 95m50-102l-33 97m1267-92l58 85m-48-82l61 83m-51-80l63 81m-17-95l101 24m-78-29l99 30m-96-26l97 33m-95-29l96 36m-94-29l94 42m-1521-8l-56 86m78-94l-51 89m62-93l-48 90m60-95l-45 92m107-79l-31 98m44-105l-28 98m57-114l-22 100m45-73l-16 101m30-110l-13 101m28-111l-10 102m63-99l2 102m37-93l10 101m4-114l14 101m10-83l19 101m957-99l54 88m8-113l68 77m-60-75l71 74m-63-73l73 73m-67-69l98 29m-92-19l97 35m-96-47l77 68m-75-52l95 38m-93-34l94 41m-92-61l79 66m-74-66l81 63m-72-64l84 58m-81-60l86 56m-1461-6l-46 91m58-97l-44 93m55-98l-40 94m65-107l-34 97m72-74l-26 99m39-107l-23 99m75-91l-11 102m25-112l-8 102m22-112l-4 102m29-79l1 102m27-126l8 102m17-82l13 102m1-115l16 101m10-83l21 100m-8-114l24 99m1-84l31 98m906-125l56 86m-47-83l59 84m-41-78l64 80m-56-78l66 79m-58-77l68 76m-57-62l95 41m-93-53l73 72m-67-71l75 70m-73-83l97 35m-94-22l77 68m-69-69l82 63m-78-64l83 60m-77-71l92 47m-1400-7l-35 96m59-110l-29 99m56-70l-23 100m35-108l-20 100m33-109l-17 101m70-95l-5 102m18-113l-2 102m42-91l7 102m46-109l18 101m9-84l24 100m-12-114l27 98m12-99l35 96m3-100l44 93m792-100l48 90m-38-86l51 89m-41-85l53 87m-36-80l59 83m-51-81l62 82m-54-79l64 80m-51-77l69 76m-64-75l72 73m-67-73l74 72m-71-76l92 46m-86-42l78 67m-75-68l80 64m-75-86l93 43m-92-39l92 46m-90-39l88 52m-1267-28l-12 102m65-99l0 102m12-113l4 102m37-94l12 101m241-95l-90 51m119-46l-87 56m116-53l-84 60m113-58l-80 65m109-65l-76 69m657-88l43 93m-33-88l46 91m-37-87l49 90m-32-82l54 87m-46-84l57 85m-50-82l60 83m-17-96l89 51m-88-43l85 56m-848-40l-85 58m115-55l-82 63m112-61l-78 67m108-67l-74 71m104-73l-69 75m588-80l38 95m-29-90l41 94m-32-89l44 93m-27-84l50 89m-42-86l52 88m-2-88l83 61m-83-89l65 80m-59-78l67 77m-62-77l69 76m-64-71l86 56m-83-61l74 72m-70-72l76 69m-800-41l-79 66m110-64l-75 69m107-69l-72 73m103-75l-68 77m551-71l33 96m-24-90l36 95m-27-90l39 95m-23-86l45 93m2-118l55 87m-43-82l61 83m-55-82l63 81m-58-80l65 79m-57-78l70 75m-66-76l72 73m-729-42l-71 74m74-56l-69 76m100-95l-67 78m70-60l-64 80m94-100l-63 81m67-64l-60 83m89-104l-58 84m64-67l-56 86m89-92l-50 89m420-98l27 98m-18-92l30 98m-22-92l33 97m-17-86l39 94m2-121l47 91m-40-87l50 89m-38-84l56 86m-51-84l59 84m-54-83l61 83m-52-82l66 79m-63-79l68 76m-651-46l-62 82m97-85l-57 85m92-90l-53 88m88-94l-48 90m96-69l-37 96m80-93l-28 98m72-99l-20 101m117-102l1 102m43-114l10 101m8-85l16 101m19-126l22 100m-14-93l25 100m-16-93l27 98m-12-87l33 96m9-120l42 93m-35-89l45 92m-33-86l50 89m-45-87l53 87m-48-86l56 86m-48-84l62 82m-563-56l-52 88m56-73l-49 90m82-110l-47 91m52-76l-44 92m75-114l-42 93m48-79l-39 95m45-81l-36 96m67-119l-34 96m41-83l-31 98m68-110l-25 99m77-89l-14 101m22-90l-11 102m40-130l-8 102m16-91l-5 102m13-92l-2 102m39-122l4 102m12-84l11 101m-3-93l13 101m24-125l19 101m-12-94l23 100m-8-88l28 98m-21-93l31 98m6-124l36 95m-30-91l40 94m-28-88l45 92m-40-89l48 90m-43-89l51 89m-461-67l-41 94m91-75l-30 97m69-108l-25 99m32-87l-22 100m53-125l-19 100m26-88l-15 100m22-90l-12 102m51-117l-7 102m21-83l0 102m39-121l5 102m2-93l8 101m-1-94l12 102m27-123l17 101m-3-88l23 99m-17-94l26 99m-20-94l29 98m10-123l34 96m-23-89l41 94m-36-91l44 92m-355-66l-27 98m73-98l-19 100m72-94l-7 102m13-93l-4 102m44-118l2 102m5-94l5 102m47-108l18 100m-12-95l21 101" stroke="#2a4cc0" stroke-width="14" stroke-linecap="round" stroke-dasharray="0 20.4" fill="none"/>
<path transform="scale(.1)" d="m4092 867h0m14 0h0m-37 26h0m3-3h0m5 8h0m9-26h0m1 14h0m9-11h0m3 19h0m5-5h0m19-3h0m-75 40h0m13 0h0m3-26h0m1 16h0m6-4h0m2-5h0m0-3h0m4-3h0m1 22h0m4-6h0m11 6h0m7-11h0m1-3h0m2 16h0m2-21h0m0 23h0m9-4h0m5-18h0m1 20h0m6-16h0m2 6h0m3 11h0m1-16h0m2 12h0m-96 25h0m2-4h0m7 15h0m1-5h0m15-5h0m5-7h0m2 13h0m3 1h0m11 4h0m14-21h0m2 17h0m0 1h0m0-26h0m3 20h0m6-10h0m4 18h0m1-8h0m5-2h0m1 2h0m12-1h0m17-6h0m3-4h0m2 1h0m4 10h0m3-4h0m0 9h0m-125 22h0m4-4h0m2-1h0m7 15h0m1-6h0m9-20h0m1 18h0m5-5h0m0-8h0m5-2h0m8 14h0m11-12h0m1 13h0m6 8h0m2-5h0m7-1h0m3-13h0m2 2h0m3 13h0m5-10h0m2-5h0m50-3h0m6-3h0m0 3h0m-158 49h0m3-16h0m10 1h0m2-4h0m21 18h0m1 3h0m2-16h0m19 2h0m3 12h0m3-14h0m2-4h0m2-6h0m8 16h0m1-5h0m9 8h0m-89 31h0m0-3h0m2-12h0m10 6h0m2-1h0m11-7h0m12 4h0m10 12h0m1 8h0m1-7h0m0-20h0m12 12h0m14-9h0m10 7h0m-86 38h0m10-17h0m0 22h0m14-8h0m1 6h0m1 7h0m7-25h0m0 14h0m14-8h0m1 13h0m1-13h0m0 7h0m12 13h0m0-11h0m9-18h0m0 23h0m3-16h0m0 6h0m0 6h0m3 7h0m8-8h0m0-15h0m1 26h0m-81 27h0m24-7h0m1 7h0m9-19h0m1 14h0m2 6h0m9-10h0m1-12h0m7 10h0m5-3h0m9-1h0m3-5h0m1 6h0m1-5h0m2 22h0m3 0h0m4-25h0m1 12h0m2 4h0m1 6h0m-79 30h0m6-23h0m25 15h0m14-6h0m6 13h0m5-2h0m1-17h0m4 12h0m1 5h0m2 5h0m9-13h0m4 11h0m1-5h0m-76 13h0m15 2h0m5 16h0m5-22h0m2 8h0m9-1h0m5 1h0m3 7h0m0 11h0m12-13h0m1 6h0m2 0h0m4-4h0m4 7h0m3-6h0m-56 20h0m1 4h0m5 10h0m6-16h0m3 6h0m4 9h0m9-10h0m3 8h0m5 7h0m3-21h0m3 15h0m10-12h0m-26 26h0m1 5h0m8 5h0m65 264h0m8 16h0m9 0h0m4 1h0m0-7h0m4-9h0m8-1h0m-27 30h0m4 1h0m1 5h0m4 2h0m3-5h0m1 10h0m2-13h0m1 0h0m0 23h0m7-2h0m-49 3h0m30 1h0m6 11h0" stroke="#2a4cc0" stroke-width="11.5" stroke-linecap="round" fill="none" opacity="1"/>
<linearGradient id="lg" gradientUnits="userSpaceOnUse" x1="418.2" y1="115.3" x2="368.1" y2="169.5"><stop offset="0" stop-color="#fff"/><stop offset="1" stop-color="#333"/></linearGradient>
<mask id="mb" maskUnits="userSpaceOnUse" x="300" y="0" width="250" height="200"><rect x="300" y="0" width="250" height="200" fill="url(#lg)"/></mask>
<path d="M414.8 150.2L412.8 151.5L410.8 152.7L408.7 153.7L406.6 154.7L404.4 155.5L402.2 156.3L400.0 156.9L397.7 157.4L395.4 157.8L393.1 158.0L390.7 158.2L388.4 158.2L386.1 158.1L383.7 157.9L381.4 157.6L379.1 157.2L376.9 156.6L374.6 155.9L372.4 155.1L370.3 154.3L368.2 153.2L366.1 152.1L364.1 150.9L362.2 149.6L360.3 148.2L358.5 146.7L356.8 145.1L355.2 143.4L353.7 141.7L352.3 139.9L350.9 138.0L349.7 136.0L348.5 134.0L347.5 131.9L346.6 129.8L345.8 127.6L345.1 125.4L344.5 123.1L344.0 120.9L344.0 120.9L343.6 117.9L343.2 115.0L342.9 112.0L342.8 109.0L342.7 106.1L342.8 103.1L342.9 100.1L343.2 97.2L343.5 94.2L344.0 91.3L344.5 88.3L345.2 85.4L346.0 82.6L346.8 79.7L347.8 76.9L348.8 74.1L350.0 71.4L351.2 68.6L352.6 66.0L354.0 63.4L355.5 60.8L357.1 58.3L358.8 55.8L360.6 53.4L362.5 51.1L364.4 48.8L366.4 46.6L368.5 44.5L370.7 42.5L373.0 40.5L375.3 38.6L377.6 36.8L380.1 35.0L382.6 33.4L385.1 31.8L387.7 30.3L390.4 28.9L393.1 27.6L395.8 26.4L398.6 25.3L401.4 24.3L404.3 23.3L407.1 22.5L410.1 21.8L413.0 21.2L415.9 20.6L418.9 20.2L421.9 19.9L424.9 19.7L427.9 19.6L430.9 19.6L433.9 19.6L436.9 19.8L439.9 20.1L442.9 20.5L445.8 21.0L448.8 21.6L451.7 22.3L454.6 23.1L457.4 24.0L460.3 25.0L463.1 26.1L465.8 27.3L468.5 28.5L471.2 29.9L473.8 31.4L476.4 32.9L478.9 34.5L481.3 36.3L483.7 38.1L486.0 39.9L488.3 41.9L490.5 43.9L492.6 46.1L494.6 48.2L496.6 50.5L498.5 52.8L500.3 55.2L502.0 57.6L503.7 60.1L505.2 62.7L506.7 65.3L508.0 67.9L509.3 70.6L510.5 73.3L511.6 76.1L512.6 78.9L513.4 81.8L514.2 84.6L514.9 87.5L515.5 90.5L516.0 93.4L516.4 96.3L516.7 99.3L516.8 102.3L516.9 105.2L516.9 108.2L516.7 111.2L516.5 114.2L516.2 117.1L515.7 120.1L515.2 123.0L514.5 125.9L513.8 128.8L512.9 131.6L512.0 134.5L511.0 137.2L509.8 140.0L508.6 142.7L507.3 145.4L505.8 148.0L504.3 150.6L502.7 153.1L501.0 155.6L499.3 158.0L497.4 160.3L495.5 162.6L493.5 164.8L491.4 166.9L491.4 166.9L490.1 168.2L488.7 169.4L487.2 170.6L485.7 171.7L484.2 172.7L482.6 173.7L481.0 174.6L479.3 175.5L477.7 176.3L475.9 177.0L474.2 177.6L472.4 178.2L470.6 178.7L468.8 179.1L467.0 179.5L465.1 179.8L463.3 180.0L461.4 180.1L459.6 180.2L457.7 180.1L455.8 180.0L454.0 179.9L452.1 179.6L450.3 179.3L448.5 178.9L446.7 178.4L444.9 177.9L443.1 177.3L441.4 176.6L439.7 175.9L438.0 175.0L436.4 174.1L434.8 173.2L433.3 172.2L431.8 171.1L430.3 170.0L428.9 168.8L427.5 167.5L426.2 166.2L424.9 164.8L423.7 163.4L422.6 162.0L421.5 160.5L420.5 158.9L419.5 157.3L418.6 155.7L417.8 154.0L417.1 152.4L416.4 150.6L418.1 147.2L424.2 149.3L431.7 148.3L436.9 145.1L439.9 138.7L441.0 130.2L440.4 120.3L440.7 118.3L439.9 114.0L441.5 112.6L442.9 107.0L442.2 102.1L437.7 95.6L430.2 92.8L422.0 93.5L417.4 97.5L417.9 95.8L413.7 90.1L409.2 85.0L409.2 85.0L408.1 86.1L407.2 87.2L406.2 88.4L405.3 89.6L404.5 90.9L403.8 92.2L403.1 93.5L402.5 94.9L402.0 96.3L401.5 97.7L401.1 99.1L400.8 100.6L400.6 102.1L400.4 103.6L400.4 105.1L400.3 106.5L400.4 108.0L400.6 109.5L400.8 111.0L401.1 112.5L401.5 113.9L401.9 115.4L402.5 116.8L403.1 118.1L403.7 119.5L404.5 120.8L405.3 122.0L406.1 123.3L407.1 124.4L406.1 126.6L405.5 133.1L406.9 140.0L410.8 145.1L413.7 147.6Z" fill="url(#yg)" mask="url(#mb)"/>
<path transform="scale(.1)" d="m4153 208h0m3-1h0m2 0h0m3 0h0m3 1h0m9 1h0m2-3h0m2-1h0m8-1h0m3 1h0m3 2h0m2 2h0m1 0h0m2-3h0m2-3h0m3-1h0m8-1h0m2 1h0m3 2h0m3 3h0m1 0h0m2-4h0m2-2h0m3-2h0m8 0h0m2 1h0m3 2h0m1 7h0m2-4h0m0 0h0m3-3h0m0 6h0m2-9h0m3-1h0m2-1h0m3 0h0m2 0h0m3 2h0m3 2h0m1 6h0m2-4h0m0 1h0m2-4h0m0 7h0m3-9h0m3-1h0m2-1h0m3 0h0m2 0h0m3 2h0m3 9h0m0-7h0m2 3h0m1 0h0m2-3h0m0 7h0m3-9h0m3-2h0m7 0h0m3 2h0m2 2h0m1 7h0m2-4h0m1 0h0m2-3h0m0 7h0m3-9h0m2-1h0m8 0h0m3 1h0m2 3h0m1 6h0m2-3h0m0 0h0m2 3h0m1-6h0m3-2h0m2-1h0m8 0h0m3 2h0m2 9h0m0-7h0m3 3h0m0 0h0m2 4h0m1-7h0m3-2h0m2-1h0m3 0h0m3 0h0m2 1h0m3 1h0m2 3h0m2 3h0m1 0h0m3-3h0m2-1h0m3-2h0m3 0h0m2 0h0m3 1h0m2 2h0m3 2h0m5 1h0m3-2h0m3-1h0m8 1h0m2 2h0m11 2h0m3-1h0m7 1h0m-412 29h0m2-2h0m2-1h0m3-1h0m3 0h0m3 0h0m3 2h0m3 2h0m0 0h0m2-4h0m2-3h0m2-2h0m5-2h0m3 0h0m2 1h0m4 1h0m2 7h0m1-5h0m0 0h0m2-3h0m1 6h0m1-9h0m2-2h0m1 15h0m7-17h0m3 1h0m3 13h0m0-12h0m2 7h0m1-4h0m0 0h0m2-4h0m1 7h0m1-10h0m2-2h0m1 15h0m3 5h0m4-21h0m3 1h0m2 18h0m1-6h0m0-11h0m2 7h0m1-4h0m1 0h0m2-4h0m0 7h0m2-10h0m2-1h0m0 14h0m2-16h0m1 21h0m2-21h0m2 26h0m1-26h0m2 26h0m0-25h0m2 18h0m1-5h0m0-11h0m2 6h0m1-4h0m1 0h0m2-3h0m1 6h0m1-9h0m2 13h0m3 5h0m4 5h0m2 6h0m1-6h0m1 6h0m1-13h0m1-5h0m1-11h0m1 6h0m2-4h0m0 0h0m3 4h0m3 4h0m4 4h0m3 6h0m1 6h0m2-7h0m0 7h0m2-13h0m2-5h0m2-5h0m4-1h0m4 5h0m3 4h0m3 6h0m1 6h0m2-7h0m0 7h0m2-13h0m2-5h0m2-5h0m5 0h0m3 4h0m3 5h0m2 19h0m1-13h0m1 6h0m2-7h0m0 7h0m2-13h0m1 20h0m2-25h0m9-1h0m3 5h0m2 20h0m1-14h0m1 6h0m2-6h0m0 6h0m3-12h0m0 19h0m2-24h0m10-1h0m3 5h0m1 20h0m2-7h0m0-7h0m2 7h0m1-7h0m2-6h0m0 20h0m3-25h0m10 0h0m2 5h0m1 19h0m2-7h0m0-6h0m2 6h0m1-6h0m2 14h0m1-20h0m2-5h0m10 0h0m3 25h0m0-20h0m2 13h0m0-7h0m2 7h0m1-7h0m2 14h0m1-20h0m3-5h0m10 1h0m1 25h0m1-20h0m2 13h0m0-7h0m2 7h0m1-7h0m2 14h0m1-19h0m3-5h0m10 0h0m1 25h0m1-19h0m2 12h0m0-6h0m2 6h0m2-6h0m0 14h0m3-20h0m3-4h0m3-5h0m4 1h0m3 5h0m2 5h0m1 12h0m1-6h0m1 7h0m2-7h0m3-5h0m3-5h0m3-4h0m3-3h0m0 0h0m2 4h0m2 4h0m2 6h0m1 12h0m1-6h0m1 7h0m2-7h0m3-5h0m3-5h0m4-4h0m0-6h0m2 3h0m1 0h0m1 4h0m2-6h0m0 11h0m2 5h0m2 6h0m3 1h0m3-5h0m4-5h0m2-13h0m1 9h0m1-6h0m2 3h0m0 0h0m2 4h0m1-6h0m0 11h0m2 5h0m1-18h0m0 24h0m3-25h0m1 26h0m3-5h0m4-5h0m0-15h0m2 2h0m1 10h0m1-7h0m2 3h0m1 1h0m1 4h0m2-7h0m0 11h0m1 6h0m2-18h0m3-1h0m2 0h0m1 21h0m2-21h0m2 16h0m0-15h0m2 2h0m1 10h0m1-7h0m2 4h0m1 0h0m1 4h0m1 5h0m1-11h0m3-2h0m3-1h0m3 0h0m2 1h0m2 16h0m0-15h0m3 11h0m0-9h0m2 3h0m1 3h0m1 1h0m1 4h0m2-7h0m3-1h0m3-1h0m8 2h0m2 3h0m2 2h0m1 4h0m1 0h0m3-2h0m3-1h0m3-1h0m7 2h0m-616 32h0m5-2h0m3-1h0m3 1h0m3 1h0m3 1h0m1 0h0m1-4h0m2-3h0m2-2h0m7-3h0m3 1h0m3 1h0m3 6h0m0-4h0m1-1h0m1-3h0m2-3h0m0 9h0m2-12h0m2 15h0m5-17h0m3 0h0m3 1h0m1 17h0m1-6h0m1-5h0m1-4h0m0 0h0m2-3h0m1-3h0m0 9h0m2-12h0m2 15h0m1-16h0m2-1h0m1 21h0m2-21h0m3 1h0m0 25h0m3-1h0m0-7h0m0-16h0m1 11h0m1-5h0m1-4h0m1 0h0m1-4h0m2 6h0m4 4h0m4 4h0m4 5h0m2 6h0m1-7h0m1-7h0m0 13h0m1-18h0m1-5h0m5-1h0m3 3h0m4 4h0m4 5h0m2 14h0m1-8h0m0-7h0m1-6h0m1-6h0m0 19h0m4 6h0m10-23h0m4 5h0m1 22h0m0-8h0m1-8h0m1-7h0m1-6h0m0 13h0m4 6h0m4 7h0m10-24h0m1 22h0m0-8h0m1-8h0m1-7h0m1 7h0m4 6h0m5 7h0m4 8h0m5-1h0m1-9h0m1-8h0m1-8h0m2 0h0m4 7h0m4 7h0m4 8h0m5-1h0m1-9h0m1-8h0m7-1h0m4 7h0m4 8h0m5 0h0m1-9h0m2-9h0m7 0h0m4 7h0m3 8h0m4 9h0m0 0h0m1-9h0m2-9h0m1-8h0m8-1h0m3 7h0m3 9h0m4 9h0m0 0h0m1-10h0m2-8h0m13-1h0m3 8h0m3 9h0m0 0h0m2-9h0m2-9h0m12-1h0m3 9h0m3 9h0m0 0h0m2-9h0m2-9h0m13 0h0m3 8h0m2 9h0m0 0h0m3-9h0m2-9h0m12 0h0m3 9h0m2 9h0m0 0h0m3-9h0m3-8h0m12 0h0m2 9h0m2 9h0m1 0h0m2-9h0m3-9h0m13 1h0m2 9h0m1 9h0m1 0h0m3-9h0m3-8h0m12 1h0m2 9h0m2 9h0m0 0h0m3-9h0m4-8h0m3-8h0m7 1h0m2 8h0m1 9h0m2 10h0m0 0h0m3-9h0m4-8h0m4-8h0m7 1h0m1 8h0m2 9h0m4 1h0m4-8h0m4-8h0m4-6h0m2 0h0m1 8h0m2 8h0m1 9h0m5 1h0m4-8h0m4-8h0m4-6h0m2 0h0m1 8h0m1 8h0m1 9h0m9-7h0m4-7h0m4-6h0m1-7h0m1 7h0m1 8h0m1-14h0m0 22h0m10 2h0m4-7h0m5-6h0m0-13h0m1 6h0m1 7h0m0 8h0m2-14h0m4-5h0m10 23h0m3-24h0m1 18h0m0-13h0m1 6h0m1 7h0m0 8h0m2-14h0m4-5h0m4-4h0m4-3h0m5 1h0m1 23h0m0-18h0m1 6h0m1 6h0m0 7h0m3-6h0m4-5h0m4-4h0m4-3h0m0-9h0m1 2h0m2 4h0m0 0h0m1 4h0m1 5h0m1 6h0m1-17h0m0 23h0m3 1h0m0-25h0m3-1h0m1 22h0m4-4h0m2-15h0m2 11h0m0-9h0m2 3h0m1 4h0m1 0h0m1 4h0m0 5h0m1 6h0m1-17h0m3-1h0m3-1h0m3 1h0m2 17h0m1-17h0m2 2h0m1 12h0m1-10h0m1 3h0m2 4h0m0 0h0m1 4h0m3-6h0m3-1h0m3 0h0m2 0h0m3 1h0m2 2h0m2 2h0m1 3h0m6 2h0m3-1h0m3 0h0m-756 29h0m3 0h0m3 1h0m4 1h0m0 0h0m1-4h0m2-3h0m1-2h0m2-2h0m3-1h0m2-1h0m3 0h0m3 1h0m3 11h0m1-5h0m0-4h0m1 0h0m1-4h0m1-3h0m1 9h0m1-12h0m2-1h0m1 16h0m1-18h0m3 0h0m1 21h0m2-21h0m3 1h0m2 17h0m1-6h0m0-5h0m1-4h0m0 0h0m1-4h0m2-3h0m1 9h0m4 3h0m4 4h0m5 4h0m3 6h0m0-7h0m0-7h0m0-5h0m1-5h0m1 23h0m3-25h0m4 3h0m5 4h0m4 4h0m3 6h0m0-7h0m0-7h0m1 21h0m0-26h0m1 18h0m5 6h0m7-24h0m5 5h0m3 21h0m0-8h0m0-8h0m0-7h0m2 7h0m5 6h0m5 6h0m5 7h0m4-19h0m0-7h0m1 25h0m0-9h0m1-17h0m5 6h0m5 7h0m5 7h0m5-1h0m0-9h0m0-9h0m7-2h0m5 7h0m5 8h0m5 8h0m0-10h0m0-9h0m0 19h0m12-22h0m4 8h0m5 18h0m0-10h0m0-10h0m0 10h0m5 9h0m12-23h0m4 19h0m1-10h0m0-10h0m0 10h0m5 9h0m15 7h0m1-11h0m0-10h0m0 0h0m5 9h0m5 10h0m11-2h0m0-11h0m1-10h0m0 0h0m4 9h0m5 10h0m11-2h0m1-11h0m1-10h0m0 0h0m4 10h0m4 10h0m11-2h0m1-11h0m6 0h0m4 10h0m3 11h0m6-1h0m2-11h0m1-11h0m5-1h0m4 11h0m4 11h0m5-1h0m2-11h0m2-11h0m5 0h0m3 10h0m4 11h0m6 0h0m2-11h0m2-11h0m5 0h0m3 10h0m3 11h0m6 0h0m2-11h0m3-11h0m5 0h0m3 11h0m2 11h0m6 0h0m3-11h0m2-11h0m6 0h0m2 11h0m3 11h0m5 1h0m3-12h0m3-10h0m6 0h0m2 11h0m2 11h0m6 1h0m3-12h0m3-10h0m6 0h0m1 11h0m2 12h0m6 0h0m3-11h0m4-10h0m5 0h0m2 11h0m1 12h0m6 0h0m4-11h0m4-10h0m5 1h0m1 11h0m11 1h0m4-10h0m4-9h0m1 0h0m1 10h0m1 11h0m11 2h0m4-10h0m4-10h0m0 0h0m1 11h0m1 11h0m11 2h0m4-10h0m5-9h0m0 0h0m1 10h0m4-19h0m12 23h0m4-19h0m1 9h0m0 1h0m0 10h0m4-19h0m12 23h0m5-9h0m0-19h0m0 9h0m0 10h0m0 10h0m5-18h0m5-8h0m11 22h0m1-19h0m0 9h0m0 10h0m5-8h0m5-8h0m4-6h0m7 2h0m0 8h0m0 9h0m5 2h0m5-8h0m5-6h0m5-6h0m1 25h0m1-25h0m0 8h0m0 8h0m10 4h0m5-7h0m5-6h0m1 9h0m0 8h0m1-23h0m0 7h0m2-6h0m5-4h0m7 23h0m5-5h0m1-19h0m1 6h0m0 6h0m0 7h0m0 8h0m3-13h0m5-5h0m4-4h0m4-3h0m3 26h0m1-28h0m0 0h0m1 4h0m0 5h0m0 19h0m1-13h0m0 6h0m2 2h0m5-5h0m5-3h0m3-15h0m1 12h0m1-9h0m1 3h0m1 3h0m1 1h0m0 4h0m1 5h0m0 6h0m2-17h0m4-1h0m1 21h0m2-21h0m3 18h0m4-3h0m0-12h0m1 3h0m2 3h0m1 4h0m0 0h0m1 4h0m3-6h0m3-1h0m3 0h0m7 4h0m2 2h0m1 3h0m8 2h0m3 0h0m-870 28h0m2-2h0m4-4h0m2 0h0m3-1h0m4 1h0m3 5h0m0-4h0m1 0h0m0-4h0m2-3h0m1-3h0m0 12h0m5 2h0m2-17h0m3 0h0m3 0h0m4 16h0m0-5h0m0-5h0m0-5h0m0 0h0m1-4h0m1-3h0m2-2h0m0 11h0m4 3h0m5 3h0m5 4h0m2-13h0m1 12h0m0-7h0m0-10h0m1 24h0m2-1h0m1-26h0m4 3h0m5 3h0m5 4h0m2-7h0m1 13h0m0-7h0m1 15h0m1-9h0m6 5h0m6 6h0m4-26h0m3 6h0m0-7h0m1 15h0m1 8h0m0-17h0m5 6h0m6 6h0m6 6h0m3-10h0m0-9h0m2 17h0m4-20h0m6 7h0m5 7h0m4-11h0m1 9h0m1 9h0m0 0h0m10-23h0m5 7h0m5-2h0m1 10h0m0 0h0m1 10h0m5-2h0m15-16h0m0 0h0m1 11h0m1 10h0m4-12h0m6 9h0m9-14h0m0-11h0m0 0h0m1 21h0m4-12h0m6 9h0m6 10h0m4-24h0m1 11h0m1 12h0m3-24h0m6 9h0m5 10h0m5-13h0m1 12h0m10-15h0m5 11h0m5-13h0m0 24h0m1 0h0m0-13h0m9-14h0m6 11h0m5 11h0m0-12h0m0 12h0m15-16h0m5 12h0m1 0h0m0-13h0m15-2h0m5 24h0m0-13h0m0 0h0m1-12h0m3 24h0m12-26h0m4 24h0m0-13h0m1 0h0m1-12h0m3 24h0m16-2h0m0-13h0m1 0h0m3 13h0m16-2h0m1-12h0m1-1h0m3 13h0m16-1h0m1-13h0m1 0h0m2 13h0m16-1h0m2-13h0m0 0h0m3 13h0m16 0h0m2-13h0m0 0h0m2 13h0m16 0h0m3-13h0m0 0h0m2 13h0m16 1h0m3-13h0m0 0h0m2 13h0m15 1h0m4-12h0m0 0h0m1 13h0m16 1h0m3-12h0m1 0h0m1 13h0m15 2h0m3-25h0m1 12h0m1 1h0m0 12h0m4-24h0m12 27h0m3-25h0m1 13h0m0 0h0m0 12h0m5-24h0m15 3h0m0 12h0m1 0h0m5-11h0m15 16h0m0-24h0m0 11h0m0 13h0m6-11h0m5-11h0m9 27h0m1 0h0m0-24h0m0 11h0m5 2h0m6-11h0m9 15h0m1-12h0m5 13h0m6-10h0m5-9h0m4 12h0m0 12h0m1-23h0m4 24h0m6-9h0m6-10h0m4 13h0m1-11h0m1-10h0m0 0h0m9 24h0m6-9h0m5-8h0m0 10h0m1-10h0m5-8h0m9 24h0m5 2h0m1-11h0m0 1h0m1-10h0m5 2h0m6-7h0m9 23h0m0 0h0m1-10h0m1-9h0m4 11h0m6-7h0m5-6h0m5 20h0m1-9h0m1-8h0m2 19h0m6-6h0m6-7h0m5-5h0m0 17h0m1-8h0m1-8h0m1-7h0m3 1h0m4 26h0m6-6h0m5-5h0m1 9h0m1-8h0m1-19h0m0 6h0m0 6h0m2 1h0m5-4h0m5-3h0m4-3h0m2 26h0m2-28h0m0 0h0m0 22h0m1-17h0m0 5h0m0 5h0m2 8h0m1-24h0m4 20h0m5-3h0m0-17h0m2 1h0m2 14h0m0-12h0m2 2h0m1 4h0m1 4h0m0-1h0m0 5h0m0 5h0m0 6h0m4-17h0m3 0h0m3 0h0m2 18h0m1-18h0m2 2h0m2 13h0m0-11h0m2 2h0m1 3h0m0 4h0m1 1h0m0 4h0m4-6h0m3 0h0m3 0h0m7 4h0m-960 30h0m1-4h0m1-2h0m2-2h0m2-2h0m3-1h0m3 0h0m3 0h0m4 6h0m0-5h0m0 0h0m1 10h0m0-14h0m1-3h0m1-3h0m1 12h0m1-14h0m2-1h0m2 17h0m1-18h0m3 0h0m1 21h0m2-21h0m3 24h0m1-13h0m0-5h0m0-5h0m0 0h0m1 15h0m0-19h0m1 26h0m2-20h0m5 3h0m5 3h0m5 3h0m1-14h0m1 6h0m1 6h0m1 7h0m1 8h0m1-9h0m6 5h0m3-24h0m5 3h0m3-1h0m1 7h0m1 7h0m0-8h0m2 16h0m4-11h0m6 5h0m7 7h0m1-20h0m1 8h0m2 9h0m3-20h0m6 6h0m7 6h0m3-11h0m1 9h0m2 9h0m0 0h0m7 8h0m7-25h0m4-2h0m2 9h0m0 0h0m2 10h0m5-2h0m7 8h0m6-25h0m0 0h0m2 10h0m2 11h0m3-13h0m6 9h0m7 9h0m2-25h0m2 11h0m2 12h0m1-25h0m6 9h0m7 10h0m4-14h0m1 11h0m8-15h0m7 10h0m5-2h0m1 12h0m1 0h0m13-17h0m5-2h0m1 12h0m1 0h0m1 13h0m5-2h0m13-17h0m1 0h0m1 12h0m4-1h0m14-17h0m1 0h0m1 13h0m1 13h0m3-15h0m6 12h0m9-16h0m1 14h0m4-15h0m6 12h0m9-15h0m1 13h0m4-14h0m5 12h0m11 12h0m0-14h0m0-14h0m4 0h0m5 12h0m5 13h0m5-1h0m1-14h0m9-1h0m5 13h0m5-1h0m0-14h0m10-1h0m4 13h0m6 0h0m1-14h0m9-1h0m4 13h0m5 0h0m2-14h0m9-1h0m4 13h0m5 0h0m2-14h0m9 0h0m4 13h0m5 0h0m2-14h0m10 0h0m3 14h0m2 14h0m0 0h0m3-14h0m2-14h0m10 0h0m2 14h0m3 14h0m0 0h0m3-14h0m2-14h0m10 0h0m2 14h0m5 0h0m4-13h0m9 0h0m2 14h0m5 1h0m4-14h0m9 1h0m2 14h0m5 0h0m4-13h0m10 1h0m0 14h0m6 1h0m4-14h0m10 2h0m0 14h0m5 1h0m5-14h0m10 2h0m0 14h0m5 1h0m5-13h0m5-13h0m4 1h0m0 14h0m11 2h0m5-13h0m4 15h0m1-14h0m9 16h0m6-12h0m4 15h0m1-14h0m9 16h0m6-12h0m4 2h0m1-13h0m1 0h0m14 17h0m4 2h0m1-13h0m1 0h0m13 18h0m5 1h0m1-13h0m1 1h0m1-13h0m5 2h0m13 17h0m1 1h0m1-13h0m1-11h0m4 13h0m7-9h0m8 15h0m2-11h0m3 13h0m7-9h0m6-9h0m1 24h0m2-11h0m2-11h0m2 24h0m7-9h0m6-8h0m3 13h0m2-11h0m2-10h0m0 0h0m6 25h0m7-8h0m5 2h0m2-10h0m0 0h0m2-9h0m4 2h0m14 17h0m0 0h0m2-9h0m2-9h0m2 11h0m7-6h0m6-6h0m3 20h0m2-9h0m1-8h0m1 20h0m0-27h0m7 20h0m6-5h0m4 12h0m2-17h0m0 8h0m1-7h0m1-7h0m3 2h0m5-4h0m3 24h0m6-4h0m2 1h0m1-7h0m1-7h0m1-5h0m1 13h0m5-3h0m5-3h0m5-2h0m2-9h0m0 28h0m1-25h0m0 19h0m1-15h0m0 0h0m0 4h0m0 5h0m4-10h0m2 20h0m1-21h0m3 1h0m1 18h0m5-3h0m1-11h0m1 2h0m1 4h0m0 13h0m1-9h0m0 0h0m0 4h0m4-5h0m3 0h0m3 0h0m7 4h0m1 3h0m1 3h0m-1051 30h0m3-1h0m4 0h0m4 1h0m0-4h0m0 4h0m1-8h0m1-2h0m6-5h0m3 0h0m3 0h0m4 1h0m1 9h0m0-5h0m0-5h0m0-4h0m1 19h0m0-22h0m1-3h0m2 12h0m4-16h0m0 18h0m3-18h0m2 20h0m2-20h0m4 10h0m0-5h0m0-5h0m0 1h0m0 23h0m1-8h0m2 6h0m1 7h0m0-27h0m2 25h0m2-23h0m6 3h0m5 3h0m1-8h0m2 6h0m1 7h0m2 8h0m0-9h0m6 5h0m7 5h0m4-21h0m2 7h0m0-9h0m1 28h0m1-11h0m3 9h0m1-21h0m7 5h0m6 6h0m2-11h0m3 9h0m3 9h0m0 0h0m5-24h0m7 6h0m4-3h0m2 9h0m1 0h0m2 10h0m5-2h0m8 7h0m4-26h0m0 0h0m2 10h0m3 11h0m2-13h0m7 8h0m8-16h0m0 25h0m2-14h0m3 11h0m6-16h0m8 9h0m2-14h0m3 11h0m3 12h0m0 0h0m11-18h0m5-3h0m3 12h0m0 0h0m3 13h0m4-2h0m12-19h0m0 0h0m3 12h0m4-2h0m8 11h0m4-29h0m0 0h0m3 12h0m2 13h0m2-15h0m7 12h0m8-17h0m2 13h0m2-15h0m7 12h0m7 12h0m3-16h0m2 14h0m7-17h0m7 12h0m3-15h0m2 14h0m8-17h0m6 12h0m5-1h0m2 15h0m0 0h0m12-19h0m5-1h0m1 14h0m0 0h0m13-18h0m5-1h0m1 15h0m0 0h0m14-18h0m5 14h0m0 0h0m1 15h0m5-1h0m13-3h0m0-15h0m0 0h0m6 14h0m13-2h0m0-15h0m1 0h0m4 14h0m14-2h0m1-15h0m0 0h0m4 15h0m14-2h0m1-15h0m0 0h0m4 15h0m14-1h0m1-15h0m0 0h0m4 14h0m14 0h0m2-15h0m0 0h0m3 15h0m14-1h0m5 0h0m14 0h0m5 0h0m14 1h0m3-15h0m0 0h0m2 15h0m14 1h0m3-15h0m1 0h0m1 15h0m14 1h0m4-15h0m0 1h0m1 15h0m14 1h0m4-14h0m0 0h0m1 15h0m13 2h0m5-15h0m0 0h0m1 16h0m13 2h0m5 1h0m1-15h0m0 0h0m13 17h0m6-14h0m0-14h0m0 14h0m5-13h0m14 18h0m0-15h0m0 15h0m6-14h0m12 18h0m0 0h0m2-14h0m5 1h0m12 19h0m0 0h0m2-15h0m1-14h0m4 16h0m6-13h0m8 17h0m2-14h0m3 16h0m7-13h0m7 17h0m2-14h0m2 16h0m8-12h0m7-12h0m2 15h0m2-13h0m7 17h0m8-11h0m1 15h0m3-13h0m3-13h0m0 0h0m12 19h0m4 2h0m3-13h0m0 0h0m12 19h0m7-10h0m0 0h0m3-12h0m5 2h0m11 19h0m0 0h0m3-12h0m3-11h0m2 14h0m7-9h0m7 16h0m1-24h0m2 13h0m2 14h0m0-25h0m7 16h0m8-8h0m2 13h0m3-11h0m2-10h0m0 1h0m12 18h0m5 2h0m2-10h0m0 1h0m3-10h0m4 3h0m7-6h0m5 24h0m0 0h0m3-9h0m3-9h0m1 12h0m1-20h0m6 14h0m7-6h0m1 21h0m3-9h0m2-16h0m0 8h0m2-7h0m4 21h0m0-26h0m7 21h0m6-4h0m0 8h0m2-7h0m1-7h0m2-6h0m1 8h0m5-4h0m6-2h0m4-2h0m1 19h0m2-6h0m1 8h0m0-23h0m0 0h0m0 4h0m0 6h0m4-11h0m1 21h0m3-21h0m3 19h0m0-18h0m2 0h0m2 16h0m0-14h0m2 2h0m1 3h0m0 17h0m1-14h0m0 4h0m0 4h0m1-4h0m3 0h0m4-1h0m3 1h0m2 1h0m2 1h0m2 3h0m1 2h0m1 4h0m-1122 31h0m3 0h0m4 0h0m0-4h0m0 4h0m1-7h0m1-3h0m1-2h0m2-2h0m3-1h0m3-1h0m3 0h0m4 1h0m0 0h0m1 4h0m0-8h0m0-4h0m1 17h0m0-19h0m1 25h0m1-14h0m2-15h0m3 17h0m6 2h0m4-16h0m1 5h0m0 14h0m1-8h0m2 6h0m0-20h0m2 27h0m1-2h0m2-23h0m5 2h0m0 25h0m5-22h0m3-1h0m2 6h0m2 8h0m0-9h0m3 16h0m3-12h0m7 5h0m6-14h0m1 19h0m1-11h0m3 8h0m0-20h0m7 5h0m7 5h0m2-11h0m2 8h0m4 9h0m0 0h0m3 10h0m5-3h0m10-19h0m0 0h0m3 10h0m4 10h0m1-13h0m8 7h0m6-16h0m2 24h0m1-14h0m1-13h0m3 24h0m5-17h0m8 9h0m2-14h0m3 11h0m4 11h0m0 1h0m10-20h0m5-3h0m3 12h0m0 0h0m4 12h0m4-2h0m10-20h0m1 0h0m3 12h0m4-2h0m9 10h0m6-18h0m3 13h0m1-15h0m8 11h0m8 11h0m1-15h0m4 13h0m5-18h0m8 12h0m2-16h0m3 14h0m14-6h0m4-2h0m3 14h0m1 0h0m10-19h0m5-2h0m2 14h0m1 0h0m7 13h0m11-20h0m0 0h0m2 15h0m5-1h0m11-20h0m0 0h0m2 15h0m5-1h0m13-4h0m2 15h0m4-17h0m6 14h0m7-17h0m1 15h0m4-17h0m6 15h0m7-18h0m1 16h0m4-17h0m6 14h0m8-1h0m11-3h0m5 16h0m3-1h0m0-16h0m10-2h0m5 16h0m3-1h0m0-16h0m10-2h0m5 16h0m3 0h0m0-17h0m11-1h0m4 16h0m3-1h0m1-16h0m10-1h0m4 16h0m3 0h0m1-17h0m11 0h0m3 16h0m3 0h0m2-17h0m10 0h0m3 16h0m3 0h0m2-16h0m11 0h0m2 16h0m3 0h0m3-16h0m10 0h0m3 16h0m2 0h0m4-16h0m10 1h0m2 16h0m2 0h0m4-16h0m10 1h0m2 16h0m3 0h0m4-16h0m10 1h0m1 17h0m3 0h0m4-16h0m10 2h0m1 16h0m3 0h0m5-15h0m10 1h0m0 17h0m3 0h0m5-15h0m10 2h0m0 16h0m2 1h0m6-16h0m10 2h0m1-15h0m7 17h0m6-14h0m4 17h0m2-16h0m6 18h0m7-15h0m3 17h0m2-15h0m6 17h0m7-14h0m3 17h0m2-15h0m13 4h0m5 1h0m3-15h0m0 0h0m10 20h0m5 2h0m3-15h0m0 0h0m18 6h0m0 1h0m3-15h0m5 2h0m10 20h0m0 0h0m3-14h0m5 2h0m8-12h0m6 17h0m3-13h0m1 16h0m9-12h0m5 18h0m3-14h0m1 16h0m3-29h0m6 18h0m8-11h0m0 15h0m4-13h0m6 18h0m8-10h0m4 2h0m4-12h0m1 0h0m9 20h0m4 2h0m4-12h0m1 0h0m3-12h0m5 3h0m8-8h0m1 27h0m1 1h0m3-12h0m4-11h0m1 14h0m9-8h0m4 16h0m4-24h0m0 13h0m4-10h0m6 16h0m8-7h0m0 13h0m4-10h0m4-10h0m0 0h0m7-6h0m3 25h0m8-6h0m0 0h0m3-9h0m3-9h0m1 12h0m8-6h0m6-5h0m0 21h0m4 3h0m0-12h0m2-8h0m1-8h0m1 1h0m4 22h0m7-5h0m5 4h0m1-8h0m2 1h0m2-7h0m1-6h0m1 8h0m6-3h0m5-2h0m1 23h0m2 1h0m2-26h0m0 20h0m2 2h0m0-8h0m1-6h0m1-9h0m0 0h0m0 4h0m4 16h0m0-21h0m4 0h0m1 19h0m2-18h0m3 16h0m3-11h0m0 19h0m1-17h0m0 4h0m0 4h0m0 4h0m1-4h0m3-1h0m4 0h0m3 1h0m6 5h0m1 3h0m0 3h0m-1185 29h0m0-3h0m1-3h0m5-5h0m3-1h0m4 0h0m4 0h0m0-4h0m0-3h0m0 7h0m1 4h0m0-14h0m1 19h0m1-21h0m1-2h0m0 15h0m3-16h0m2 18h0m5 2h0m4-17h0m1 5h0m1 14h0m1-8h0m1-14h0m1 20h0m2 7h0m1-25h0m1 23h0m5-21h0m1 25h0m5-22h0m2-2h0m2 6h0m2-1h0m1 8h0m3 8h0m3-12h0m7 4h0m4-14h0m3 19h0m1-12h0m3 9h0m4 9h0m0-1h0m2-24h0m8 5h0m4-3h0m3 9h0m0 0h0m5 9h0m4-3h0m8 6h0m1-26h0m0 0h0m4 10h0m4 10h0m0-13h0m9 7h0m8 7h0m1-14h0m4 11h0m4-17h0m9 8h0m5-3h0m4 11h0m0 0h0m9 9h0m8-20h0m1-1h0m4 12h0m4-2h0m10 9h0m4-18h0m4 13h0m0-15h0m9 10h0m9-5h0m0 15h0m5-2h0m3-18h0m9-5h0m0 16h0m5-3h0m5 14h0m0 0h0m8-21h0m4-2h0m5 14h0m0 0h0m17-9h0m0 0h0m4 15h0m5-2h0m9-21h0m0 0h0m4 15h0m4-2h0m9 13h0m4-19h0m4 16h0m1-18h0m8 14h0m5-19h0m3 16h0m10-4h0m7-3h0m1 17h0m2-1h0m7-19h0m8-3h0m0 17h0m2-1h0m8-19h0m7 14h0m3 0h0m14-5h0m3 0h0m2 16h0m2 0h0m11-20h0m3-1h0m1 17h0m3-1h0m11-19h0m2-1h0m1 17h0m3-1h0m15-3h0m2 0h0m15 15h0m0-18h0m3 0h0m5 16h0m9-1h0m0-18h0m3 0h0m5 17h0m9-1h0m1-18h0m3 0h0m4 17h0m9-1h0m2-17h0m2-1h0m4 17h0m10 0h0m1-18h0m3 0h0m3 17h0m10 0h0m2-17h0m2 0h0m3 17h0m10 0h0m3-17h0m2 0h0m3 17h0m9 0h0m3-17h0m3 0h0m2 17h0m9 1h0m4-17h0m2 0h0m2 17h0m9 1h0m5-17h0m2 0h0m1 17h0m10 1h0m4-17h0m3 1h0m0 17h0m10 1h0m5-16h0m2 0h0m0 17h0m10 2h0m5-17h0m2 18h0m1-17h0m14 2h0m3 1h0m15 3h0m2 1h0m1-17h0m3 0h0m11 20h0m2 1h0m2-17h0m3 1h0m10 20h0m2 0h0m3-17h0m2 1h0m15 5h0m3 0h0m7-14h0m7 19h0m3 1h0m0-17h0m8 3h0m6 19h0m3 1h0m0-17h0m8 3h0m8-13h0m2 17h0m3-16h0m4 19h0m9-13h0m1 17h0m4-15h0m3 18h0m9-13h0m5 2h0m4-14h0m0 0h0m8 20h0m5 2h0m4-14h0m1 0h0m17 9h0m0 0h0m4-14h0m5 2h0m8 21h0m0 0h0m5-14h0m4 2h0m0-15h0m9 5h0m4 18h0m4 2h0m1-15h0m9 5h0m8 5h0m1-15h0m4 2h0m4 19h0m9-10h0m4 2h0m5-12h0m1 1h0m7 20h0m1-29h0m8 20h0m1 0h0m4-11h0m5 3h0m9-8h0m3 17h0m5 3h0m0-14h0m4-10h0m5 17h0m8 6h0m1-13h0m4 3h0m4-9h0m0 0h0m9 19h0m4 4h0m4-10h0m0 0h0m4-9h0m3-8h0m1 12h0m7-6h0m6 16h0m2-20h0m2 24h0m0-12h0m3-7h0m5 14h0m7-4h0m2 12h0m3-8h0m2-8h0m1 1h0m3-6h0m2 2h0m0-9h0m6 6h0m5 21h0m0-23h0m1 24h0m3-6h0m1-20h0m1 22h0m0-8h0m2-6h0m1-9h0m0 0h0m0 4h0m3 17h0m1-21h0m4 0h0m1 19h0m2-18h0m3 16h0m2-11h0m0 19h0m1-16h0m0 11h0m1-4h0m0-4h0m0 4h0m4 0h0m3 0h0m3 1h0m3 1h0m1 2h0m2 2h0m1 3h0m-1253 31h0m0-3h0m3-4h0m3-1h0m3-1h0m3-1h0m4 0h0m0-4h0m0-3h0m0 7h0m1 4h0m0-14h0m2 19h0m1-8h0m2-17h0m3 0h0m0 18h0m4-19h0m2 21h0m2-21h0m0 1h0m1 4h0m1 5h0m2 5h0m0-14h0m0 22h0m2-2h0m3 6h0m0-24h0m1 23h0m4-21h0m6-6h0m0 8h0m3-2h0m2 6h0m2-1h0m1 8h0m4 8h0m2-13h0m7 4h0m4-14h0m4 7h0m0 12h0m4-4h0m4 9h0m0 0h0m1-25h0m7 5h0m4-4h0m4 9h0m1 0h0m4 9h0m4-3h0m9 6h0m4-17h0m4-4h0m1 14h0m5 10h0m3-17h0m8-7h0m1 14h0m4-4h0m6 11h0m0 1h0m6-21h0m5-4h0m5 11h0m0 1h0m6 11h0m4-3h0m7-21h0m0 0h0m5 11h0m4-2h0m2 15h0m8-6h0m3-18h0m6 12h0m1 16h0m5-3h0m2-18h0m8-6h0m2 15h0m4-2h0m6 13h0m0 0h0m6-21h0m5-3h0m5 14h0m0 0h0m10 11h0m7-21h0m0 0h0m5 14h0m5-3h0m12-7h0m4-2h0m1 17h0m9-5h0m2-19h0m5 15h0m0-17h0m10 13h0m7-4h0m2 17h0m3-1h0m4-20h0m8-4h0m2 17h0m2-1h0m14-6h0m3-2h0m4 17h0m2-1h0m8-21h0m2-1h0m4 16h0m3-1h0m14-5h0m2-1h0m9 15h0m5-20h0m3 17h0m0-18h0m8 15h0m6-20h0m3 18h0m0-18h0m7 15h0m9-2h0m8-2h0m7 16h0m2-19h0m2 18h0m5-20h0m7 17h0m3-19h0m1 18h0m6-19h0m6 16h0m3-18h0m1 18h0m7-20h0m6 17h0m4 0h0m12-3h0m4 0h0m13-2h0m4 0h0m12-2h0m3 18h0m1-18h0m1 18h0m12-19h0m2 18h0m2-18h0m0 18h0m13-19h0m2 18h0m1 0h0m1-18h0m12 0h0m2 18h0m1 0h0m1-18h0m13 0h0m1 18h0m2 0h0m1-18h0m13 18h0m0-18h0m2 18h0m2-18h0m12 19h0m0-18h0m2 18h0m2-18h0m12 20h0m1-19h0m1 19h0m3-18h0m13 1h0m4 1h0m12 1h0m4 1h0m13 2h0m4 1h0m6-17h0m6 19h0m1-18h0m3 19h0m6-17h0m6 20h0m2-18h0m2 19h0m7-17h0m6 20h0m2-18h0m1 19h0m8-17h0m7 3h0m9 2h0m8-15h0m0 18h0m2-18h0m7 21h0m7 2h0m1-18h0m2 1h0m6 20h0m8-15h0m3 1h0m14 5h0m2 1h0m4-16h0m3 1h0m7 21h0m2 1h0m5-16h0m2 1h0m14 6h0m3 1h0m2-16h0m7 3h0m5 20h0m2 1h0m3-16h0m7 3h0m9-12h0m0 17h0m5-15h0m2 19h0m9 5h0m1-17h0m5 2h0m12 7h0m4 3h0m6-15h0m0 0h0m16 11h0m0 0h0m6-14h0m4 3h0m6 21h0m1 0h0m5-13h0m5 3h0m1-16h0m9 6h0m2 18h0m6-13h0m5-12h0m3 18h0m8 6h0m2-15h0m4 3h0m5-12h0m1 1h0m7 20h0m3 3h0m6-11h0m1 0h0m4-11h0m5 3h0m6 21h0m1 0h0m2-28h0m3 17h0m5 4h0m0-15h0m9 8h0m8 6h0m1-13h0m4 3h0m3 17h0m1-26h0m0 0h0m8 20h0m4 4h0m5-9h0m0 0h0m4-9h0m4 3h0m8-4h0m5 16h0m2-20h0m1 24h0m1-12h0m3-7h0m4 14h0m8-4h0m5 5h0m2-8h0m1 1h0m3-6h0m2 2h0m0-8h0m6 6h0m6-2h0m2 18h0m3 2h0m0-21h0m0 13h0m2-5h0m1-5h0m1-4h0m0-4h0m0 3h0m2 21h0m2-20h0m3 18h0m0-18h0m3 1h0m2 16h0m0-15h0m2 2h0m1 17h0m1-4h0m0-11h0m0 3h0m0 7h0m1-4h0m3 5h0m4 0h0m3 1h0m5 6h0m-1315 30h0m2-2h0m2-2h0m3-1h0m3-1h0m4 0h0m0-4h0m0-3h0m0-3h0m0 10h0m1 4h0m1-17h0m1-1h0m2 15h0m1-17h0m2-1h0m2 19h0m2-19h0m3 20h0m1-21h0m0-4h0m0 5h0m1 4h0m2 5h0m1-9h0m1 14h0m0 8h0m2-2h0m2-19h0m6 2h0m5-6h0m1 8h0m2-2h0m3 6h0m1-2h0m3 9h0m4 7h0m1-13h0m7 4h0m3-15h0m4 8h0m1-13h0m0 24h0m4-4h0m4-16h0m1 25h0m0 0h0m7-21h0m3-3h0m5 8h0m0 0h0m5 9h0m4-4h0m10 6h0m2-17h0m4-4h0m2 13h0m6 10h0m1-17h0m8-7h0m2 14h0m4-4h0m6 10h0m0 1h0m6-21h0m10 7h0m0 0h0m6 11h0m4-3h0m10 8h0m2-18h0m4-3h0m2 14h0m8-6h0m8-6h0m3 15h0m4-3h0m1-18h0m10 9h0m4-3h0m7 13h0m0 0h0m16-11h0m0 0h0m6 14h0m5-3h0m11-8h0m4-3h0m3 17h0m8-5h0m1-19h0m6 14h0m9-5h0m7-4h0m4 16h0m2-1h0m3-21h0m10 13h0m3-1h0m6 15h0m2-1h0m5-22h0m3-1h0m5 16h0m3-1h0m13-7h0m2-1h0m3 17h0m7-3h0m4-21h0m2-1h0m3 18h0m7-3h0m9-4h0m7-3h0m8-4h0m1 19h0m4-2h0m2-20h0m9-3h0m1 19h0m3-2h0m12-4h0m4-1h0m5 17h0m7-21h0m4-2h0m3 19h0m1-1h0m8-21h0m4-2h0m2 19h0m2-1h0m14-4h0m1 0h0m15-4h0m1 0h0m7 18h0m7-21h0m2 19h0m0-19h0m6 18h0m8-21h0m1 19h0m1-19h0m6 18h0m8-2h0m0-19h0m2 0h0m5 18h0m9-1h0m0-19h0m2 0h0m5 18h0m8-1h0m7 0h0m9-1h0m7 0h0m9-1h0m7 0h0m8 0h0m7 0h0m9 0h0m7 0h0m9 0h0m7 0h0m8 1h0m7 0h0m9 1h0m7 1h0m9 1h0m5-19h0m1 1h0m0 18h0m9 2h0m6-18h0m1 0h0m0 19h0m9 1h0m6-18h0m0 19h0m1-18h0m8 20h0m6-18h0m1 20h0m1-19h0m7 20h0m7-17h0m2 0h0m14 4h0m1 0h0m15 4h0m1 1h0m3-19h0m3 1h0m8 22h0m1 0h0m4-18h0m3 2h0m12 4h0m4 1h0m12 4h0m4 2h0m0-19h0m9 3h0m3 21h0m3 1h0m1-19h0m9 4h0m7 3h0m8 4h0m7 3h0m3-18h0m2 1h0m4 21h0m7 4h0m3-18h0m2 1h0m14 7h0m2 1h0m6-15h0m2 1h0m5 22h0m2 1h0m6-16h0m3 2h0m10-13h0m3 20h0m2 2h0m4-17h0m7 5h0m9 5h0m2-17h0m4 3h0m1 19h0m8 5h0m3-17h0m4 3h0m11 8h0m5 3h0m6-14h0m0 0h0m11-10h0m5 22h0m0 0h0m7-13h0m4 3h0m10-10h0m1 19h0m4 3h0m3-16h0m8 7h0m8 6h0m3-15h0m3 3h0m2 19h0m10-9h0m4 3h0m6-11h0m1 1h0m5-12h0m5 4h0m5 21h0m0 0h0m6-11h0m4 4h0m2-14h0m8 8h0m2 17h0m6-10h0m1-13h0m4 4h0m3 17h0m2-27h0m0 1h0m7 20h0m4 4h0m5-9h0m0 0h0m5-8h0m3 3h0m1-11h0m7 7h0m5 16h0m3 4h0m0-24h0m1 13h0m4-8h0m2-8h0m1 23h0m0-22h0m8 19h0m5 5h0m2-8h0m1 1h0m3-6h0m2 2h0m1-8h0m2-5h0m4 11h0m5-1h0m2 18h0m3-19h0m0 13h0m2-5h0m1-5h0m1-4h0m1 20h0m0-20h0m0-8h0m0 4h0m3 4h0m3 19h0m1-18h0m3 1h0m1 16h0m4 0h0m0-11h0m0 3h0m0 4h0m0 4h0m4 0h0m3 1h0m3 1h0m-1357 27h0m0-3h0m0-3h0m5-6h0m3-2h0m3 0h0m3-8h0m1 7h0m0-4h0m0-6h0m0 11h0m1 4h0m2 4h0m1-8h0m2 13h0m3-12h0m6 1h0m3-12h0m2 5h0m1 9h0m2-3h0m4 6h0m1-1h0m3 8h0m4-6h0m7-18h0m1-2h0m0 23h0m2-14h0m5 7h0m0-13h0m1 24h0m4-4h0m3-17h0m8 4h0m3-3h0m6 8h0m0 0h0m5 8h0m4-4h0m10 6h0m1-18h0m4-3h0m2 13h0m7 9h0m0-17h0m8-8h0m2 14h0m4-4h0m7 10h0m0 1h0m4-22h0m7 29h0m4-22h0m0 0h0m7 10h0m3-3h0m4 15h0m7-7h0m1-19h0m3-3h0m4 15h0m7-7h0m1 19h0m7-26h0m3 16h0m4-4h0m8 13h0m0 0h0m3-22h0m4-3h0m8 12h0m0 0h0m7 13h0m5-3h0m3-22h0m0 0h0m7 13h0m4-3h0m4 17h0m7-25h0m1 19h0m3-22h0m4 17h0m8-6h0m6-5h0m6 16h0m2-1h0m1-21h0m11 12h0m3-2h0m7 15h0m2-1h0m3-22h0m3-2h0m7 16h0m2-2h0m12 13h0m1-21h0m2-1h0m5 17h0m6-4h0m8-4h0m7-4h0m8-5h0m3 19h0m4-2h0m0-20h0m11 14h0m3-2h0m12-5h0m3-2h0m6 18h0m1-1h0m5-22h0m3-2h0m5 18h0m2-1h0m13-6h0m2 0h0m9 16h0m4-22h0m2 0h0m3 19h0m6-3h0m4-21h0m4 18h0m7-2h0m8-3h0m7-2h0m8-3h0m0 21h0m3-1h0m4-21h0m8-3h0m0 20h0m3-1h0m4-21h0m7 18h0m1-20h0m2 20h0m12-3h0m3-1h0m12-2h0m3-1h0m12-2h0m3 0h0m12-2h0m3 19h0m0-19h0m2 19h0m10-21h0m2 20h0m1-20h0m2 19h0m10-20h0m2 19h0m1-20h0m1 20h0m11-20h0m1 19h0m2-20h0m1 20h0m11-20h0m1 20h0m2-20h0m0 20h0m12-1h0m0-19h0m3 0h0m0 19h0m12 1h0m0-20h0m2 20h0m1-20h0m11 20h0m1-19h0m2 19h0m1-19h0m11 20h0m1-19h0m2 19h0m1-19h0m10 21h0m2-20h0m1 20h0m2-20h0m10 21h0m2-19h0m0 20h0m4-20h0m11 2h0m3 1h0m12 2h0m3 0h0m12 3h0m3 1h0m12 2h0m2-19h0m1 20h0m7-18h0m5 21h0m2 1h0m0-20h0m9 2h0m3 22h0m3 0h0m0-20h0m8 3h0m7 2h0m8 3h0m7 2h0m2-19h0m2 1h0m4 21h0m6 3h0m3-19h0m2 0h0m4 22h0m9-16h0m2 1h0m13 5h0m2 1h0m5-18h0m3 2h0m5 22h0m1 1h0m6-18h0m3 2h0m12 6h0m3 2h0m11-15h0m1 21h0m3 2h0m3-19h0m8 4h0m7 4h0m8 5h0m7 4h0m4-17h0m2 1h0m2 21h0m11-13h0m2 2h0m7-16h0m3 2h0m3 22h0m2 1h0m7-15h0m3 2h0m11-12h0m1 21h0m2 1h0m6-16h0m6 5h0m9 6h0m3-17h0m3 22h0m1-19h0m11 8h0m4 4h0m7-14h0m0 0h0m4 22h0m4 4h0m7-13h0m0 0h0m8-13h0m4 3h0m3 22h0m0 0h0m8-12h0m4 3h0m3-15h0m7 25h0m1-18h0m7 6h0m4-14h0m3 3h0m1 19h0m11-8h0m3 3h0m7-11h0m1 1h0m10-7h0m4 21h0m0 0h0m7-10h0m4 4h0m2-14h0m8 8h0m0 17h0m7-9h0m2-13h0m4 3h0m1 18h0m4-26h0m1 0h0m5 20h0m4 4h0m5-8h0m0 0h0m6-8h0m3 3h0m1-11h0m7 8h0m3 16h0m5-20h0m0 13h0m5-7h0m2 15h0m0-23h0m2 1h0m5-4h0m1 23h0m4 5h0m3-8h0m1 2h0m4-6h0m2 2h0m1-8h0m2-5h0m2-5h0m1 16h0m6-1h0m3 13h0m2-14h0m1-15h0m0 24h0m2-5h0m1-4h0m0-10h0m0 10h0m1-8h0m0 4h0m3 4h0m3 1h0m3 1h0m2 2h0m2 2h0m1 2h0m0 3h0m-1405 32h0m2-5h0m2-1h0m3-2h0m3-1h0m3-4h0m0-4h0m1 8h0m0-10h0m0 10h0m2 4h0m2 5h0m0-26h0m1 17h0m2-18h0m3-1h0m0 20h0m4-20h0m1 0h0m0 20h0m1-16h0m2 5h0m1-9h0m1 14h0m2 8h0m1-3h0m1-18h0m3 24h0m1-1h0m1-22h0m7 1h0m0 23h0m2-25h0m3 6h0m1-2h0m2 24h0m1-15h0m5 6h0m0-12h0m5 20h0m3-17h0m6-8h0m2 11h0m3-4h0m6 8h0m0 0h0m6 8h0m3-4h0m5-21h0m0 0h0m5 26h0m1-17h0m3-4h0m3 12h0m7-7h0m1 17h0m7-26h0m3 14h0m3-4h0m7 10h0m1 0h0m3-22h0m8 28h0m2-21h0m1-1h0m7 11h0m3-4h0m5 14h0m6-25h0m1 18h0m7-7h0m5 15h0m2-22h0m1 18h0m11-10h0m3-4h0m9 12h0m0 0h0m2-22h0m12 9h0m0 0h0m8 13h0m4-4h0m10-9h0m3 19h0m1-23h0m5 17h0m7-7h0m7-5h0m6 16h0m2-2h0m0-21h0m12 11h0m2-2h0m9 15h0m2-2h0m1-22h0m2-2h0m9 15h0m2-1h0m12-9h0m0 21h0m2-23h0m6 17h0m6-4h0m8-6h0m5 18h0m1-22h0m2 20h0m6-25h0m4 18h0m4-2h0m10-7h0m4-2h0m7 17h0m2-1h0m2-23h0m3-2h0m7 17h0m1 0h0m13-8h0m1 0h0m6 18h0m6-3h0m1-22h0m2-1h0m5 19h0m6-4h0m8-3h0m6-3h0m8-4h0m3 20h0m2-1h0m1-22h0m8-3h0m2 20h0m3-2h0m11-4h0m3-1h0m11-5h0m3-1h0m5 20h0m2-1h0m5-23h0m3-1h0m3 20h0m3-1h0m11-4h0m3 0h0m11-4h0m3 0h0m11-4h0m3 0h0m7 19h0m4-22h0m2 20h0m1-20h0m7 19h0m5-22h0m1 20h0m1-20h0m7 19h0m5-21h0m1 20h0m2-21h0m6 20h0m6-1h0m8-1h0m5-1h0m8-1h0m6 0h0m8-1h0m6-1h0m8 0h0m6 0h0m8 0h0m6 0h0m8 0h0m6 0h0m9 0h0m5 0h0m9 1h0m5 0h0m9 1h0m5 0h0m8 1h0m6 1h0m8 1h0m6 1h0m6-19h0m2 20h0m1-20h0m5 21h0m7-19h0m1 21h0m1-20h0m5 21h0m7-19h0m1 21h0m2-20h0m4 21h0m7-18h0m3 0h0m11 3h0m3 1h0m11 3h0m3 1h0m11 4h0m3 1h0m3-20h0m3 1h0m5 23h0m2 1h0m5-20h0m2 1h0m12 5h0m3 1h0m11 5h0m2 1h0m3-20h0m8 3h0m0 22h0m3 1h0m3-20h0m8 4h0m6 3h0m8 4h0m6 3h0m5-19h0m2 1h0m1 22h0m6 4h0m6-19h0m1 1h0m13 7h0m1 1h0m7-17h0m3 2h0m2 23h0m2 0h0m7-16h0m4 2h0m10 7h0m3 2h0m5-19h0m6 26h0m2-20h0m6 4h0m8 5h0m6 5h0m6-17h0m2 23h0m0-21h0m12 9h0m2 1h0m9-15h0m2 2h0m1 23h0m2 1h0m9-14h0m2 1h0m6-16h0m6 6h0m0 20h0m2 2h0m6-16h0m6 6h0m8 7h0m5-17h0m4 3h0m10 10h0m4 3h0m8-13h0m0 0h0m12-8h0m2 22h0m0 0h0m9-12h0m3 4h0m5-16h0m5 26h0m2-18h0m7 7h0m4-15h0m3 22h0m1-18h0m11 11h0m3 3h0m7-10h0m1 0h0m10-6h0m3 22h0m1 0h0m7-10h0m3 4h0m3-14h0m8 9h0m6 8h0m4-13h0m3 4h0m6-9h0m0 0h0m4 21h0m5-25h0m5 21h0m0 0h0m6-7h0m3 4h0m2-12h0m6 8h0m8-3h0m0 13h0m5-7h0m3-8h0m1 2h0m3-6h0m2 24h0m0-22h0m7 20h0m0-22h0m2 24h0m3-25h0m0 19h0m2 2h0m2-8h0m1-13h0m1 8h0m2-4h0m1 16h0m0-21h0m1 1h0m0-4h0m4 23h0m0-19h0m3 1h0m2 18h0m1-17h0m2 2h0m0 19h0m1-17h0m1 13h0m0-11h0m0 7h0m0 3h0m1-7h0m3 8h0m3 1h0m3 1h0m-1445 34h0m2-8h0m0-3h0m1 6h0m0-9h0m0 13h0m1 0h0m1-15h0m2-2h0m1 17h0m1-18h0m4-1h0m0 19h0m2-27h0m1 3h0m0 4h0m1 0h0m1 4h0m1 17h0m2-12h0m0-9h0m2 14h0m3-13h0m1 18h0m5-18h0m5-6h0m1 8h0m2-3h0m4 6h0m1-2h0m3 8h0m4-6h0m1 13h0m7-10h0m2-15h0m4 6h0m3 12h0m3-4h0m6 7h0m0 0h0m4-21h0m6 25h0m3-22h0m0 0h0m7 8h0m3-4h0m4 13h0m6-8h0m7-9h0m4 14h0m3-5h0m8 9h0m0 1h0m2-22h0m11 5h0m0 1h0m8 9h0m3-3h0m6 14h0m5-26h0m1 18h0m7-8h0m5 15h0m1-22h0m3 18h0m9-11h0m4-3h0m9 11h0m0 0h0m13-14h0m0 0h0m0 22h0m9-10h0m4-4h0m10-9h0m3-4h0m0 22h0m6-5h0m7-8h0m6-5h0m7 15h0m2-2h0m12-10h0m2-2h0m9 14h0m2-2h0m11-10h0m2-1h0m1 22h0m7-6h0m6-5h0m7-6h0m6-5h0m3 20h0m4-26h0m6 18h0m3-2h0m10-8h0m3-2h0m9 16h0m1-1h0m12-8h0m2-1h0m12-8h0m1-1h0m0 23h0m7-5h0m6-4h0m7-5h0m6-4h0m7-4h0m5 19h0m1-23h0m2 22h0m10-6h0m3-2h0m11-6h0m2-1h0m7 19h0m3-2h0m1-23h0m3-1h0m6 19h0m2-1h0m11-5h0m3-2h0m11-4h0m2-1h0m3 20h0m8-25h0m0 22h0m2-23h0m3 21h0m8-3h0m5-2h0m8-3h0m5-2h0m8-3h0m6-2h0m3 21h0m0 0h0m4-23h0m6-2h0m3 21h0m0 0h0m5-23h0m6-1h0m2 20h0m0 0h0m13-3h0m0 0h0m13-3h0m0 0h0m13-2h0m0 0h0m14-3h0m0 0h0m13 20h0m0-21h0m0 0h0m5 20h0m8-1h0m0-21h0m0 0h0m5 21h0m7-1h0m2-21h0m0 0h0m4 21h0m7 0h0m2-22h0m0 0h0m4 21h0m7 0h0m3-21h0m0 0h0m3 21h0m7 0h0m3-21h0m0 0h0m3 21h0m7 0h0m4-20h0m0 0h0m2 21h0m7 0h0m4-21h0m0 0h0m1 21h0m8 1h0m4-21h0m0 0h0m1 22h0m7 0h0m6-20h0m0 0h0m0 21h0m13-19h0m0 0h0m13 2h0m0 0h0m14 3h0m0 0h0m13 3h0m0 0h0m13 3h0m0 0h0m2-21h0m6 2h0m5 23h0m0 0h0m3-21h0m6 2h0m4 23h0m0 0h0m3-21h0m6 2h0m8 3h0m5 2h0m8 2h0m5 3h0m8 3h0m2-21h0m3 23h0m0-22h0m8 25h0m3-20h0m2 1h0m11 5h0m2 1h0m11 5h0m3 1h0m6-19h0m3 2h0m1 23h0m2 1h0m7-19h0m3 2h0m11 6h0m2 1h0m11 6h0m2 2h0m0-23h0m5 3h0m8 5h0m6 4h0m7 4h0m6 4h0m7 5h0m0-23h0m1 1h0m12 9h0m1 0h0m12 9h0m0-23h0m1 24h0m9-16h0m4 2h0m10 8h0m3 2h0m6-18h0m4 26h0m3-20h0m6 5h0m7 6h0m6 5h0m8-16h0m2 2h0m11 10h0m2 1h0m9-14h0m2 2h0m11 11h0m2 2h0m0-23h0m8 7h0m6 6h0m7 7h0m6 6h0m0-22h0m3 3h0m10 10h0m3 4h0m10-12h0m0 0h0m12-8h0m1 22h0m0 0h0m9-12h0m3 4h0m6-15h0m4 26h0m3-18h0m6 7h0m5-14h0m2 22h0m1-18h0m11 12h0m3 3h0m8-9h0m0-1h0m7-9h0m4 4h0m2 22h0m0 0h0m8-27h0m0 17h0m3 5h0m4-14h0m7 9h0m0-17h0m6 25h0m4-12h0m3 4h0m7-8h0m0 0h0m6-8h0m3 4h0m4 21h0m0 0h0m4-24h0m2 17h0m3 4h0m2-11h0m5-7h0m1 15h0m8-2h0m4 6h0m4-8h0m1 1h0m4-5h0m2 2h0m1-8h0m3-5h0m2 12h0m6-1h0m2 13h0m3-13h0m0 8h0m2-4h0m2-4h0m0 0h0m1-10h0m0 3h0m0 3h0m3 5h0m3 1h0m3 1h0m4 6h0m0 7h0m1-4h0m-1486 34h0m4-7h0m3-1h0m3-1h0m2-8h0m1 3h0m0-6h0m0-3h0m1 13h0m0 0h0m1-15h0m1 19h0m1-21h0m1 25h0m0-8h0m1-18h0m5 18h0m4-16h0m1 16h0m2-12h0m3 5h0m2 8h0m1-3h0m4 6h0m2-2h0m3 8h0m2-28h0m2 22h0m4-19h0m1-2h0m3 23h0m1-15h0m3-6h0m2 12h0m3 11h0m3-4h0m1-17h0m5 24h0m0 0h0m3-21h0m3-4h0m6 7h0m0 0h0m7 8h0m3-5h0m5 13h0m5-26h0m1 17h0m6-9h0m4 14h0m2-22h0m2 17h0m8 9h0m0 0h0m1-22h0m3-4h0m8 9h0m0 0h0m9 9h0m3-3h0m6 13h0m3-26h0m3-3h0m0 22h0m6-9h0m6-7h0m1 22h0m3-4h0m9-12h0m3-4h0m10 12h0m0-1h0m12-14h0m0 0h0m1 22h0m9-11h0m3-4h0m7 16h0m2-26h0m5 19h0m5-7h0m7-7h0m2 22h0m2-2h0m2-26h0m8 15h0m2-2h0m11 13h0m0-24h0m1 22h0m1-24h0m10 13h0m1-1h0m9 15h0m2-26h0m2-2h0m2 23h0m6-7h0m6-5h0m7-7h0m7 18h0m3-3h0m10-8h0m3-3h0m9-8h0m1 24h0m1-1h0m11-10h0m1-1h0m9 17h0m2-26h0m2-1h0m1 23h0m7-6h0m6-4h0m6-5h0m6-4h0m2 22h0m2-1h0m3-27h0m7 19h0m2-1h0m10-7h0m3-2h0m9 18h0m1-25h0m1 23h0m1-24h0m9 18h0m2-2h0m10-6h0m2-1h0m10-6h0m3-2h0m0 23h0m5-3h0m7-4h0m5-2h0m8-4h0m5-3h0m7 20h0m0-23h0m0 23h0m5-26h0m7 20h0m0 0h0m1-23h0m11 17h0m0 0h0m12-5h0m0 0h0m13-5h0m0 0h0m5 20h0m5-2h0m2-23h0m0 0h0m5 21h0m5-2h0m7-2h0m5-2h0m7-2h0m6-2h0m7-2h0m5-1h0m7-2h0m6-1h0m7-2h0m0 22h0m1 0h0m4-23h0m7-1h0m0 21h0m1 0h0m5-22h0m6 20h0m1 0h0m0-21h0m6-1h0m6 20h0m1 0h0m11-1h0m1 0h0m11-1h0m1 0h0m11-1h0m1 0h0m12 0h0m0 0h0m12-1h0m1 0h0m11 1h0m1 0h0m11 0h0m1 0h0m12 1h0m1 0h0m11 1h0m1 0h0m11 2h0m1 0h0m6-21h0m5 23h0m1 0h0m0-22h0m7 1h0m4 23h0m1 0h0m0-22h0m7 2h0m4 22h0m1 0h0m1-21h0m7 1h0m6 2h0m7 1h0m5 2h0m7 2h0m5 1h0m7 3h0m6 1h0m6 3h0m6 2h0m4-21h0m0 0h0m2 23h0m6 2h0m5-20h0m0 0h0m12 5h0m0 0h0m13 5h0m0 0h0m11-17h0m1 23h0m0 0h0m6-20h0m6 3h0m7 3h0m5 3h0m7 4h0m5 3h0m7 4h0m5 3h0m1-23h0m2 1h0m10 6h0m3 1h0m10 7h0m2 1h0m8-18h0m2 25h0m1-23h0m1 24h0m9-17h0m3 1h0m9 7h0m3 2h0m7-19h0m2 26h0m5-21h0m5 5h0m7 5h0m5 4h0m7 6h0m2-23h0m1 1h0m11 9h0m2 1h0m11 10h0m1-23h0m0 24h0m10-16h0m3 3h0m9 8h0m3 3h0m2-22h0m6 5h0m7 6h0m5 6h0m7 6h0m2-22h0m1 1h0m11 11h0m2 2h0m10 11h0m0-25h0m2 2h0m11 11h0m1 2h0m9-15h0m5 6h0m7 8h0m6 6h0m1-22h0m3 4h0m9 10h0m4 4h0m10-12h0m0 0h0m12 15h0m0-22h0m0 22h0m10-11h0m3 4h0m6-14h0m3 26h0m3-18h0m6 7h0m6-13h0m1 22h0m2-19h0m10 13h0m3 4h0m8-10h0m1 1h0m8-10h0m3 5h0m9 12h0m2-17h0m1 22h0m5-13h0m4-13h0m2 22h0m1-18h0m9 14h0m3 4h0m7-8h0m0 1h0m7-8h0m2 4h0m3-11h0m6 9h0m1 17h0m6-7h0m1-12h0m4 21h0m0-15h0m4-8h0m1 1h0m3 20h0m1-25h0m2 2h0m5 21h0m1-22h0m0 24h0m4-6h0m2 3h0m0-21h0m2 13h0m3-13h0m0 8h0m1 12h0m1-16h0m2-4h0m0-1h0m3 21h0m1-20h0m3 1h0m1 19h0m2-17h0m1 21h0m1-19h0m0 15h0m1 0h0m1-10h0m0 2h0m0 4h0m3 5h0m3 1h0m2 1h0m2 2h0m2 2h0m-1521 26h0m0-3h0m0-3h0m2 10h0m0 0h0m1-17h0m3-2h0m0 19h0m3-20h0m2-8h0m0 27h0m1-24h0m1 4h0m0 0h0m2 4h0m2-4h0m1 8h0m3 5h0m2-13h0m0 21h0m2-3h0m3-18h0m4-7h0m3 8h0m1-3h0m5 6h0m1-2h0m4 8h0m3-7h0m2 13h0m6-11h0m6-9h0m3 11h0m3-4h0m6 7h0m1 0h0m7 7h0m3-4h0m8-14h0m2 17h0m1-22h0m5 13h0m5 13h0m1-22h0m2 17h0m8-13h0m4-5h0m8 9h0m0 0h0m9 9h0m3-4h0m9-13h0m3-4h0m1 22h0m5-8h0m6-8h0m4 18h0m9-12h0m3-4h0m10 10h0m0 0h0m12-15h0m0 0h0m2 22h0m8-11h0m3-4h0m8 15h0m1-26h0m5 18h0m5-6h0m7-8h0m3 22h0m2-2h0m9-12h0m2-2h0m11 12h0m2-1h0m10-12h0m1-2h0m10 15h0m5-5h0m7-7h0m5-6h0m3 23h0m3-3h0m9-10h0m2-2h0m9-10h0m3-2h0m0 26h0m1-1h0m10-10h0m1-1h0m11-11h0m1-1h0m3 23h0m7-6h0m5-5h0m6-6h0m5-4h0m4 23h0m2-2h0m9-8h0m3-2h0m9-8h0m2-2h0m11 17h0m2-2h0m9-7h0m2-2h0m10-7h0m2-1h0m3 23h0m4-4h0m7-5h0m5-3h0m6-5h0m5-3h0m7-4h0m2 23h0m0 0h0m3-26h0m9 19h0m0 0h0m11-7h0m0 0h0m12-7h0m0 0h0m1 23h0m7-3h0m5-3h0m6-3h0m5-3h0m6-3h0m6-3h0m6-3h0m5-2h0m0 23h0m1 0h0m6-26h0m5-2h0m0 23h0m1 0h0m10-4h0m1-1h0m10-4h0m1 0h0m11-4h0m1 0h0m11-4h0m1 0h0m3 22h0m5-2h0m2-23h0m1 0h0m3 21h0m5-1h0m3-23h0m1 0h0m3 21h0m5-1h0m6-1h0m5-2h0m6-1h0m5-1h0m7-1h0m5-1h0m6-1h0m6 0h0m6-1h0m5-1h0m7 0h0m5-1h0m6 0h0m5 0h0m7-1h0m5 0h0m7 0h0m5 0h0m6 0h0m5 0h0m7 1h0m5 0h0m7 0h0m5 1h0m6 0h0m5 1h0m7 1h0m5 1h0m6 1h0m6 0h0m6 2h0m5 1h0m6 1h0m5 1h0m7 2h0m5 1h0m2-22h0m1 0h0m3 24h0m5 1h0m3-22h0m1 0h0m2 24h0m5 1h0m4-21h0m1 0h0m11 4h0m0 0h0m11 4h0m1 0h0m11 4h0m0 0h0m11-18h0m0 23h0m1 0h0m5-21h0m5 26h0m1 0h0m0-23h0m5 2h0m7 3h0m5 3h0m6 3h0m5 3h0m7 3h0m1-23h0m0 0h0m4 26h0m6 3h0m2-23h0m0 0h0m11 7h0m0 0h0m12 7h0m0 0h0m8-19h0m3 26h0m0 0h0m2-23h0m7 5h0m5 3h0m7 4h0m5 4h0m6 5h0m5 3h0m3-23h0m2 2h0m9 7h0m2 2h0m10 7h0m2 2h0m1-25h0m9 8h0m3 2h0m9 7h0m2 2h0m8-18h0m1 26h0m2 2h0m4-22h0m5 4h0m7 6h0m5 5h0m6 6h0m4-22h0m1 1h0m10 10h0m1 1h0m10 10h0m1-25h0m1 26h0m2-23h0m9 9h0m3 3h0m8 9h0m0-26h0m7 7h0m5 5h0m6 7h0m5 6h0m0-26h0m10 11h0m2 2h0m9 11h0m2 2h0m0-26h0m2 2h0m9 11h0m2 3h0m9-15h0m1 26h0m4-20h0m7 8h0m5 7h0m2-22h0m4 4h0m8 11h0m3 4h0m11-11h0m0 0h0m11 15h0m0 0h0m2-22h0m9 12h0m3 4h0m6-15h0m2 27h0m5-18h0m5 8h0m6 9h0m1-22h0m3 3h0m8 13h0m0-22h0m1 1h0m2 25h0m9-8h0m0-1h0m9-8h0m3 4h0m5-13h0m3 26h0m3-17h0m6 9h0m4-12h0m1 22h0m2-18h0m7-7h0m0 0h0m2 21h0m3 5h0m5-29h0m2 21h0m0 1h0m7-7h0m2 4h0m4-11h0m5 9h0m0-15h0m6 25h0m2-12h0m4 6h0m4-7h0m1 1h0m4-5h0m2 3h0m2-8h0m3-5h0m1 12h0m6 0h0m2 13h0m3-13h0m0 8h0m2-4h0m2-4h0m1 0h0m1-10h0m0 3h0m0 3h0m2 5h0m4 1h0m2 2h0m2 2h0m1 2h0m0 9h0m1-6h0m0 3h0m-1555 33h0m2-3h0m1-2h0m3-2h0m3-1h0m2-5h0m0-3h0m0-3h0m1-5h0m1 15h0m0 0h0m1-17h0m1 21h0m2-23h0m1 27h0m2-28h0m2 19h0m4-16h0m2 16h0m1-12h0m3 5h0m2 7h0m2-2h0m5 5h0m0-2h0m5 7h0m3-6h0m2-19h0m1-2h0m4 7h0m1 15h0m3-21h0m2 12h0m4 11h0m2-21h0m1 17h0m7 6h0m1-21h0m2-5h0m7 7h0m0 0h0m0 22h0m8-15h0m2-4h0m6 12h0m5-9h0m4 16h0m2-26h0m5 13h0m3-5h0m9 8h0m0 1h0m10 8h0m1-27h0m0 1h0m1 22h0m8-14h0m3-4h0m2 22h0m5-9h0m6-8h0m5-9h0m0 27h0m8-13h0m2-4h0m9-12h0m2 22h0m0 0h0m11-16h0m0 0h0m4 22h0m7-12h0m3-4h0m8-11h0m1 26h0m5-8h0m5-7h0m6-8h0m4 22h0m2-2h0m9-13h0m2-2h0m12 12h0m1-2h0m9-12h0m2-2h0m5 22h0m5-7h0m5-6h0m6-8h0m5-5h0m5 22h0m2-3h0m8-10h0m3-3h0m12 14h0m1-1h0m10-11h0m1-1h0m11 15h0m5-5h0m6-6h0m4-5h0m7-6h0m1 26h0m8-9h0m2-2h0m9-8h0m2-2h0m12 16h0m2-2h0m9-8h0m1-2h0m9-8h0m1 27h0m1-28h0m5 22h0m5-4h0m6-5h0m4-4h0m7-5h0m4-3h0m0 26h0m0 0h0m11-9h0m0 0h0m10-8h0m0 0h0m11-8h0m0 0h0m4 23h0m6-4h0m5-3h0m6-4h0m5-3h0m6-4h0m4-3h0m4 23h0m1-1h0m2-26h0m7 20h0m1 0h0m10-6h0m1 0h0m10-6h0m0 0h0m8 20h0m2-25h0m1-1h0m2 24h0m5-3h0m5-2h0m6-3h0m5-2h0m5-3h0m5-2h0m6-3h0m5-1h0m6-3h0m5 22h0m0-24h0m0 24h0m6-26h0m4 22h0m0 0h0m1-23h0m10 20h0m0 0h0m10-4h0m1 0h0m10-3h0m0 0h0m11-2h0m0 0h0m11-3h0m0 0h0m11 21h0m0-23h0m0 0h0m7 22h0m4-1h0m0-22h0m0 0h0m6 21h0m4 0h0m0-23h0m0 0h0m6 22h0m4-1h0m1-22h0m1 0h0m5 22h0m4 0h0m2-23h0m0 0h0m4 22h0m4 0h0m3-23h0m0 0h0m4 23h0m4 0h0m3-23h0m0 0h0m3 22h0m4 1h0m4-23h0m0 0h0m3 23h0m4 0h0m4-22h0m0 0h0m2 22h0m4 0h0m5-22h0m0 0h0m1 23h0m4 0h0m6-22h0m0 0h0m1 23h0m4 0h0m6-22h0m0 0h0m0 23h0m4 0h0m7-21h0m0 0h0m0 22h0m4 1h0m6 1h0m1-22h0m0 0h0m11 2h0m0 0h0m10 2h0m0 0h0m11 3h0m0 0h0m11 3h0m0 0h0m10 3h0m0 0h0m10-20h0m1 24h0m0 0h0m4-22h0m6 26h0m0-24h0m0 24h0m5-22h0m6 2h0m5 2h0m6 3h0m5 2h0m6 3h0m4 2h0m6 3h0m5 2h0m6 3h0m1-24h0m1 1h0m10 5h0m1 0h0m10 6h0m0 0h0m10 6h0m1 1h0m8-21h0m2 27h0m0 0h0m4-23h0m5 3h0m6 4h0m4 3h0m6 4h0m5 4h0m6 4h0m4-23h0m0 0h0m11 8h0m0 0h0m10 8h0m0 0h0m11-18h0m5 4h0m6 5h0m5 4h0m6 5h0m4 4h0m5-23h0m2 2h0m9 8h0m2 2h0m8 8h0m2 2h0m12-16h0m2 2h0m9 8h0m2 3h0m8 8h0m2-26h0m6 6h0m5 5h0m6 7h0m4 5h0m11-16h0m1 1h0m10 11h0m1 1h0m4-23h0m8 9h0m3 3h0m8 10h0m2 3h0m5-22h0m5 6h0m6 7h0m5 6h0m11-14h0m1 2h0m9 12h0m2 2h0m2-24h0m10 12h0m1 2h0m9 12h0m1-26h0m1 29h0m4-22h0m6 8h0m5 7h0m3-22h0m3 4h0m8 11h0m3 4h0m11-10h0m0 0h0m11 16h0m0 0h0m3-22h0m8 12h0m3 5h0m7-14h0m6 8h0m5 9h0m7-13h0m3 4h0m8 13h0m1-22h0m1 0h0m10 18h0m0 0h0m1-22h0m8 13h0m3 5h0m6-12h0m5 9h0m5 9h0m6-12h0m2 5h0m8-7h0m0 0h0m7-7h0m2 4h0m9-2h0m0 17h0m2 5h0m4-11h0m2-12h0m3 21h0m1-15h0m4-7h0m1 1h0m2 20h0m3-25h0m1 3h0m4 21h0m1 2h0m1-24h0m3 19h0m2 2h0m1-21h0m1 14h0m4 7h0m0-20h0m0 8h0m3-4h0m2-4h0m0 0h0m1 20h0m3-19h0m2 19h0m1-18h0m1 23h0m1-21h0m1 17h0m1 0h0m1-4h0m1-6h0m0 3h0m1 8h0m3 2h0m3 1h0m-1583 28h0m0-3h0m0-3h0m1 9h0m1-11h0m1-2h0m3-2h0m3-2h0m1-8h0m0-3h0m1 6h0m2 4h0m0 0h0m2 4h0m2-4h0m1 8h0m4-9h0m4 18h0m2-18h0m3-8h0m3 8h0m2-3h0m4 5h0m1-2h0m5 8h0m3-7h0m3 12h0m5-11h0m2 17h0m3-26h0m4 11h0m2-5h0m8 7h0m0 0h0m10 2h0m6 11h0m1-26h0m4 17h0m5-10h0m5-9h0m1 22h0m3-5h0m7-14h0m2 22h0m0 0h0m10-19h0m0 1h0m10 8h0m2-4h0m8 12h0m5-8h0m5-9h0m8 13h0m3-4h0m7-13h0m4 22h0m0 0h0m10-17h0m0 0h0m12 10h0m2-4h0m8-12h0m2 27h0m5-9h0m5-7h0m5-9h0m7 20h0m8-13h0m2-3h0m12 12h0m10-15h0m2-2h0m11 14h0m10-14h0m13 13h0m10-13h0m3 26h0m10-13h0m10-13h0m3 26h0m10-12h0m10-12h0m13 15h0m10-12h0m13 15h0m10-10h0m10-11h0m3 26h0m9-10h0m10-10h0m13 17h0m9-9h0m10-9h0m12 17h0m10-8h0m10-8h0m4-4h0m6-4h0m1 26h0m10-8h0m9-7h0m0 1h0m10-8h0m0 1h0m10 19h0m5-3h0m5-4h0m4-3h0m6-3h0m4-3h0m6-3h0m4-2h0m4 23h0m0 0h0m10-6h0m0 0h0m10-5h0m0 0h0m10-5h0m0 0h0m10-5h0m0 0h0m2 24h0m4-2h0m4-26h0m0 0h0m2 24h0m4-2h0m5-3h0m4-1h0m6-2h0m4-2h0m6-2h0m4-1h0m6-2h0m4-1h0m6-2h0m4-1h0m3 23h0m2-1h0m1-24h0m4-1h0m2 23h0m3-1h0m1-23h0m4-1h0m2 23h0m3-1h0m1-23h0m5 22h0m3-1h0m7-1h0m3 0h0m7-1h0m3-1h0m6-1h0m3 0h0m7-1h0m3 0h0m7 0h0m3 0h0m7-1h0m3 0h0m7 0h0m2 0h0m7 0h0m3 0h0m7 1h0m3 0h0m7 0h0m3 1h0m7 0h0m3 1h0m7 0h0m2 1h0m7 1h0m3 0h0m7 2h0m3 0h0m5-22h0m2 24h0m2 0h0m2-23h0m4 1h0m1 24h0m3 1h0m2-23h0m4 1h0m1 23h0m2 1h0m3-23h0m4 1h0m6 2h0m4 2h0m6 2h0m4 1h0m6 2h0m4 1h0m6 3h0m4 1h0m6 3h0m3 1h0m2-23h0m0 0h0m4 26h0m7-22h0m0 0h0m10 5h0m0 0h0m9 5h0m0 0h0m10 5h0m0 0h0m8-21h0m2 27h0m0 0h0m4-23h0m4 2h0m6 3h0m4 3h0m6 4h0m4 2h0m6 4h0m4 3h0m5 4h0m5-24h0m1 1h0m9 7h0m1 0h0m9 7h0m0 0h0m9 8h0m1 0h0m0-27h0m6 5h0m4 3h0m6 5h0m4 3h0m6 5h0m4 4h0m2-26h0m0 0h0m10 8h0m0 0h0m10 9h0m0 0h0m9 10h0m0 0h0m3-27h0m4 5h0m6 5h0m4 4h0m6 6h0m4 4h0m7-22h0m2 2h0m8 9h0m2 2h0m8 8h0m1 2h0m5-24h0m8 9h0m2 3h0m8 9h0m2 2h0m7-22h0m4 5h0m6 7h0m4 6h0m6 6h0m6-21h0m1 1h0m9 11h0m1 1h0m13-13h0m3 3h0m7 11h0m2 3h0m7-22h0m4 6h0m6 8h0m4 6h0m5 8h0m6-22h0m2 2h0m8 13h0m2 2h0m12-12h0m2 3h0m8 12h0m2 3h0m1-29h0m4 7h0m6 9h0m4 7h0m5-22h0m3 4h0m7 12h0m2 4h0m12-10h0m0 1h0m10 16h0m0 0h0m1-26h0m3 4h0m7 13h0m3 4h0m3-21h0m5 8h0m5 9h0m5 8h0m0-26h0m8 14h0m2 4h0m10-8h0m1 0h0m9 18h0m0-26h0m2 5h0m7 13h0m3 6h0m2-22h0m4 9h0m5 10h0m1-22h0m3 5h0m7 15h0m0-22h0m0 0h0m3 26h0m7-7h0m0 1h0m8-7h0m2 5h0m4-11h0m5 9h0m1-15h0m4 26h0m3-12h0m3 7h0m5-8h0m1 2h0m5-5h0m1 3h0m3-8h0m3 8h0m0-12h0m6 12h0m1 13h0m3-4h0m1-8h0m2 4h0m2-4h0m1 0h0m1-4h0m1-6h0m0 3h0m1 9h0m3 1h0m3 2h0m2 2h0m1 5h0m-1609 31h0m3-2h0m1-8h0m0-3h0m1 6h0m2 3h0m0-17h0m2-1h0m1 22h0m1-4h0m1-20h0m4-2h0m0 1h0m2 3h0m2-4h0m1 8h0m1 12h0m3-7h0m0-14h0m3 21h0m2-3h0m1-18h0m4 23h0m0-2h0m3-21h0m2 28h0m3-6h0m1-20h0m1-2h0m4 7h0m3-6h0m0 21h0m4-9h0m5-11h0m0 21h0m2-4h0m7 6h0m0-22h0m0 22h0m9-20h0m0-1h0m1 22h0m7-15h0m4 17h0m5-10h0m4-10h0m14-2h0m10 7h0m0 1h0m10 7h0m2-4h0m7-14h0m2-4h0m4 21h0m9-18h0m5 22h0m2-5h0m7-13h0m2-4h0m3 26h0m9-17h0m0 0h0m12 9h0m9-16h0m3-5h0m10 15h0m13 10h0m9-16h0m13 11h0m9-15h0m13 11h0m9-15h0m5 26h0m9-14h0m9-13h0m5 25h0m9-13h0m14 13h0m9-13h0m14 13h0m9-12h0m9-12h0m5 26h0m9-11h0m9-12h0m14 15h0m9-10h0m14 15h0m9-10h0m9-10h0m14 17h0m8-9h0m10-9h0m4 26h0m8-9h0m9-8h0m10-8h0m12 18h0m8-7h0m10-8h0m9-7h0m2 27h0m9-7h0m9-6h0m9-7h0m9-6h0m0 0h0m1 27h0m8-6h0m9-5h0m6-4h0m3-2h0m6-3h0m3-2h0m6-3h0m2 25h0m2-26h0m1 25h0m6-4h0m2-1h0m7-3h0m2-1h0m7-3h0m2-1h0m7-3h0m2-1h0m7-2h0m2-1h0m7-3h0m3 0h0m1 23h0m1 0h0m4-26h0m3 0h0m1 23h0m0 0h0m9-2h0m0-1h0m9-2h0m0 0h0m8-2h0m1 0h0m8-2h0m1 0h0m8-2h0m1 0h0m8-1h0m1 0h0m9-1h0m0-1h0m9 0h0m0 0h0m9-1h0m0 0h0m9-1h0m0 0h0m9 0h0m1 0h0m8 0h0m1 0h0m9 0h0m0 0h0m9 1h0m0 0h0m9 1h0m0 0h0m9 1h0m0 0h0m9 1h0m1 0h0m8 1h0m1 1h0m8 1h0m1 0h0m8 2h0m1 0h0m8 3h0m0 0h0m9 2h0m0 0h0m9 3h0m0 0h0m1-24h0m3 1h0m4 26h0m1 0h0m1-24h0m3 1h0m7 2h0m2 1h0m7 3h0m2 1h0m7 3h0m2 1h0m7 3h0m2 1h0m7 3h0m2 1h0m2-24h0m4 27h0m1-25h0m2 27h0m2-25h0m6 3h0m3 2h0m6 3h0m3 2h0m6 4h0m3 2h0m6 3h0m3 2h0m5 4h0m1-27h0m0 1h0m9 6h0m0 0h0m9 6h0m0 0h0m9 6h0m0 0h0m9 7h0m0 0h0m2-26h0m5 4h0m4 3h0m6 4h0m4 3h0m5 4h0m3 4h0m5 4h0m7-23h0m1 1h0m9 8h0m0 0h0m9 9h0m0-1h0m8-21h0m4 4h0m5 4h0m5 4h0m4 6h0m4 4h0m5 5h0m9-22h0m0 0h0m9 10h0m0 0h0m9 10h0m0 0h0m4-26h0m4 5h0m6 6h0m4 4h0m5 6h0m3 5h0m9-21h0m2 1h0m7 10h0m2 2h0m7 9h0m1 2h0m6-25h0m2 2h0m7 9h0m2 3h0m7 10h0m5-26h0m5 7h0m4 5h0m5 8h0m4 5h0m4-27h0m1 1h0m8 12h0m1 2h0m8 12h0m1 1h0m5-26h0m2 3h0m7 11h0m2 3h0m12-15h0m5 8h0m4 7h0m4 8h0m8-22h0m1 2h0m8 13h0m1 3h0m13-11h0m2 2h0m7 14h0m4-26h0m4 7h0m5 9h0m4 7h0m6-22h0m3 5h0m6 12h0m3 4h0m12-9h0m0 0h0m12-9h0m2 5h0m7 13h0m2 4h0m5-21h0m4 8h0m5 10h0m4-22h0m2 4h0m7 14h0m2 4h0m1-25h0m9 18h0m0 0h0m10-8h0m2 6h0m7-13h0m5 10h0m4 10h0m7-12h0m2 5h0m8-7h0m0 0h0m7-6h0m2 26h0m0-21h0m7 16h0m2 4h0m0-21h0m5 11h0m4 9h0m0-21h0m3 6h0m4-7h0m1 2h0m1 20h0m4-25h0m2 3h0m1 21h0m1 2h0m4-23h0m1 18h0m1 3h0m4-21h0m0 14h0m3 7h0m0-12h0m2-8h0m2 4h0m2 17h0m0-20h0m0 0h0m2-4h0m1-3h0m1 8h0m1 20h0m2-18h0m2 19h0m0-17h0m0 16h0m2-14h0m0 11h0m1-9h0m0 3h0m0 3h0m-1631 37h0m1-5h0m2-2h0m2-2h0m3-13h0m0 11h0m2-5h0m1-13h0m0 17h0m1-1h0m2 4h0m2-4h0m1 8h0m4 4h0m0-13h0m5-13h0m1 12h0m3-8h0m3 8h0m6 1h0m1-1h0m5 6h0m7 6h0m4-12h0m4-9h0m5 10h0m2-5h0m8 6h0m8 6h0m8-20h0m1 26h0m4-9h0m4-11h0m8 13h0m2-6h0m6-14h0m4 21h0m0 1h0m8-20h0m3 26h0m1-4h0m7-15h0m2-4h0m9 12h0m4-9h0m4-9h0m4 26h0m8-18h0m12 8h0m12 9h0m9-17h0m13 9h0m8-16h0m5 26h0m8-17h0m14 10h0m8-15h0m14 10h0m9-14h0m6 25h0m8-14h0m14 11h0m9-14h0m14 12h0m9-13h0m15 12h0m8-12h0m15 13h0m8-12h0m15 14h0m8-12h0m9-11h0m6 26h0m8-11h0m9-11h0m14 16h0m8-10h0m9-10h0m6 26h0m8-9h0m8-9h0m14 17h0m8-9h0m8-8h0m9-8h0m5 26h0m8-8h0m8-7h0m8-7h0m12 19h0m8-7h0m9-6h0m8-6h0m11 20h0m8-6h0m8-5h0m8-5h0m8-5h0m1 26h0m8-5h0m8-4h0m8-5h0m8-4h0m1 0h0m8-4h0m0 0h0m8-3h0m0 0h0m5 23h0m1 0h0m3-27h0m0 0h0m4 24h0m1-1h0m7-2h0m1-1h0m7-2h0m1-1h0m7-2h0m1 0h0m7-2h0m1 0h0m7-2h0m1-1h0m8-1h0m1-1h0m7-1h0m1 0h0m7-2h0m0 24h0m1 0h0m0-24h0m7 23h0m1 0h0m0-24h0m1 0h0m6 23h0m1 0h0m0-24h0m1 0h0m6 23h0m1 0h0m1-24h0m1 0h0m5 23h0m1 0h0m1-23h0m1 0h0m5 23h0m1 0h0m2-24h0m1 0h0m3 24h0m1 0h0m3-24h0m1 0h0m3 24h0m1 0h0m4-24h0m1 0h0m2 24h0m1 0h0m5-23h0m0 0h0m2 23h0m1 0h0m5-23h0m1 0h0m1 24h0m1 0h0m6-23h0m0 0h0m1 24h0m1 0h0m6-23h0m1 0h0m0 24h0m1 0h0m6-22h0m0 23h0m1 0h0m0-23h0m8 1h0m1 0h0m7 2h0m1 0h0m8 2h0m0 0h0m8 2h0m1 0h0m7 2h0m1 1h0m7 2h0m1 0h0m7 3h0m1 0h0m7 3h0m1 0h0m4-23h0m0 0h0m3 26h0m1 1h0m4-24h0m1 0h0m8 4h0m0 0h0m8 4h0m0 0h0m8 4h0m1 0h0m7 4h0m1 1h0m7 4h0m1 0h0m6-23h0m2 2h0m6 3h0m3 2h0m6 3h0m2 2h0m6 4h0m2 1h0m6 4h0m2 2h0m6 4h0m0-28h0m5 4h0m3 2h0m5 4h0m3 3h0m5 3h0m4 3h0m4 4h0m3 3h0m10-22h0m0 0h0m8 7h0m0 0h0m8 8h0m0 0h0m8 7h0m0 0h0m5-25h0m5 4h0m3 4h0m5 4h0m4 4h0m4 5h0m4 3h0m5-25h0m1 0h0m8 9h0m0-1h0m8 10h0m0-1h0m8 10h0m0 0h0m6-26h0m5 6h0m3 4h0m5 5h0m4 5h0m4 5h0m10-21h0m0 0h0m9 11h0m0 0h0m7 11h0m1 0h0m6-26h0m4 5h0m5 6h0m3 5h0m5 7h0m13-16h0m2 2h0m7 10h0m1 2h0m8-23h0m7 10h0m2 3h0m6 10h0m2 2h0m10-20h0m3 5h0m5 8h0m3 6h0m14-14h0m1 2h0m8 12h0m0 2h0m7-26h0m2 3h0m6 11h0m2 4h0m6 11h0m6-26h0m5 9h0m4 6h0m4 9h0m8-21h0m2 2h0m7 13h0m1 2h0m7-23h0m7 14h0m1 2h0m12-12h0m4 7h0m4 9h0m4 8h0m7-21h0m2 4h0m6 13h0m2 4h0m5-26h0m0 0h0m8 18h0m0 0h0m12-9h0m2 5h0m6 13h0m4-26h0m4 10h0m4 9h0m9-12h0m2 4h0m6 15h0m5-22h0m0 0h0m8 19h0m0 0h0m2-26h0m2 5h0m6 14h0m2 5h0m4-21h0m4 9h0m4 10h0m2-21h0m2 5h0m7 15h0m2 5h0m0-26h0m8 20h0m0 0h0m8-6h0m2 5h0m5-10h0m4 9h0m2-15h0m6 15h0m3 6h0m5-6h0m1 2h0m5-5h0m1 3h0m3-8h0m3 8h0m1-12h0m3-4h0m2 17h0m3 9h0m2-8h0m0-20h0m2 24h0m1-22h0m1 19h0m0 0h0m1-17h0m1 13h0m1-11h0m0 8h0m1 8h0m0-14h0m0 3h0m3 13h0m2 2h0m-1652 29h0m0-3h0m0-3h0m0-2h0m2 11h0m2-16h0m3-1h0m1-9h0m3 7h0m2 3h0m0 17h0m2-21h0m2 8h0m1 12h0m2-21h0m1 13h0m4 7h0m1-3h0m5 5h0m1-24h0m1-3h0m5 5h0m1-2h0m1 21h0m4-14h0m3-7h0m1 21h0m3-9h0m4-12h0m2 22h0m2-5h0m5-16h0m3 21h0m0 0h0m7-20h0m0-1h0m3 22h0m5-16h0m2-5h0m4 22h0m7-20h0m7 16h0m5-15h0m2-5h0m10 6h0m11 7h0m12 7h0m7-18h0m12 7h0m13 8h0m7-18h0m13 8h0m13 9h0m8-17h0m13 9h0m15 9h0m7-16h0m15 10h0m7-15h0m15 10h0m15 10h0m8-14h0m15 11h0m8-13h0m8 24h0m7-13h0m8-13h0m8 25h0m8-13h0m7-12h0m9 25h0m7-12h0m7-12h0m9 25h0m7-11h0m8-11h0m15 14h0m8-11h0m7-10h0m9 25h0m7-10h0m7-10h0m16 16h0m7-9h0m7-9h0m8 25h0m7-8h0m7-8h0m8-8h0m7 25h0m7-8h0m7-7h0m8-7h0m7-7h0m6 25h0m7-6h0m8-7h0m7-6h0m8-6h0m4 26h0m7-6h0m8-6h0m7-5h0m8-5h0m10 21h0m7-4h0m7-5h0m7-4h0m8-4h0m7-4h0m7 22h0m1-26h0m7 23h0m7-3h0m7-3h0m6-3h0m1 0h0m7-3h0m1 0h0m6-2h0m1-1h0m7-2h0m1 0h0m6-2h0m1 0h0m2 24h0m0 0h0m5-26h0m1 0h0m1 24h0m0 0h0m6-25h0m1 23h0m0-24h0m0 24h0m7-1h0m1 0h0m7-1h0m0 0h0m7-1h0m0 0h0m7-1h0m0 0h0m7-1h0m0 0h0m7 0h0m0 0h0m8-1h0m0 0h0m7 0h0m0 0h0m7 0h0m0 0h0m7 1h0m0 0h0m7 0h0m1 0h0m7 1h0m0 0h0m7 1h0m0 0h0m7 1h0m0 0h0m7 1h0m0 0h0m7 2h0m0 0h0m1-24h0m1 0h0m5 25h0m0 0h0m2-24h0m1 1h0m4 25h0m0 0h0m2-24h0m1 1h0m7 2h0m1 0h0m7 2h0m1 0h0m6 2h0m1 1h0m6 2h0m1 1h0m7 2h0m1 1h0m6 2h0m1 1h0m6 3h0m1 0h0m6 3h0m0-26h0m1 27h0m0-27h0m6 3h0m1 1h0m7 3h0m1 1h0m6 4h0m1 0h0m7 4h0m1 0h0m6 4h0m1 1h0m6 4h0m1 1h0m1-27h0m0 0h0m8 5h0m0 0h0m7 5h0m1 0h0m7 5h0m0 1h0m7 5h0m0 0h0m7 6h0m0 0h0m5-26h0m5 4h0m3 2h0m5 5h0m2 1h0m5 5h0m2 2h0m5 5h0m2 2h0m6-26h0m3 3h0m5 4h0m3 3h0m4 4h0m3 3h0m4 5h0m3 3h0m12-21h0m0 0h0m7 8h0m0 0h0m7 9h0m0 0h0m12-21h0m3 4h0m5 5h0m3 4h0m4 5h0m3 4h0m4 5h0m11-21h0m1 1h0m7 10h0m0-1h0m7 10h0m1 1h0m7-26h0m5 6h0m3 4h0m4 6h0m3 5h0m4 6h0m12-20h0m0 0h0m7 11h0m1 0h0m11-20h0m4 6h0m4 5h0m4 7h0m3 5h0m11-20h0m2 2h0m6 11h0m1 2h0m6 10h0m10-22h0m1 2h0m6 11h0m2 2h0m11-20h0m3 6h0m4 8h0m3 6h0m4 8h0m11-21h0m1 2h0m7 13h0m0 1h0m10-22h0m6 12h0m1 3h0m6 12h0m7-26h0m5 9h0m3 7h0m4 8h0m9-20h0m2 2h0m6 14h0m1 2h0m7-25h0m1 2h0m6 14h0m1 3h0m13-12h0m3 8h0m4 9h0m12-13h0m2 5h0m5 12h0m8-21h0m0 0h0m7 18h0m0 0h0m7-21h0m6 14h0m2 4h0m6-21h0m4 9h0m3 10h0m4 9h0m4-26h0m6 15h0m1 4h0m11-7h0m1 1h0m10-7h0m2 5h0m5 14h0m3-26h0m3 10h0m4 10h0m7-11h0m2 5h0m9-6h0m0 1h0m8-6h0m1 5h0m6 16h0m0-26h0m3 9h0m4 12h0m5-12h0m2 7h0m6-7h0m0 2h0m6-4h0m1 2h0m3-7h0m3 8h0m0 18h0m5-4h0m1-13h0m3 9h0m2-8h0m1 4h0m3-3h0m0 0h0m2-4h0m1-3h0m1 9h0m0-12h0m3 14h0m2 2h0m1 10h0m1-3h0m-1671 32h0m2-11h0m0-3h0m0-2h0m0-3h0m2 11h0m0-13h0m2-2h0m0 19h0m3-21h0m1 20h0m2-22h0m1 0h0m2 4h0m0 16h0m2-21h0m2 8h0m2 12h0m2-8h0m4 7h0m1-3h0m6 5h0m6 4h0m2-7h0m8 0h0m9 0h0m2-5h0m8 5h0m10 0h0m5-15h0m3 26h0m3-10h0m4-10h0m15-9h0m5 21h0m7-20h0m11 6h0m12 7h0m12 7h0m7-18h0m13 7h0m13 7h0m7-17h0m7 25h0m6-17h0m15 8h0m14 8h0m7-16h0m15 9h0m7-16h0m9 25h0m6-15h0m16 10h0m6-15h0m17 10h0m6-14h0m10 25h0m6-14h0m17 11h0m7-13h0m16 11h0m7-12h0m17 12h0m6-11h0m17 12h0m7-11h0m6-11h0m11 25h0m6-11h0m7-10h0m10 24h0m6-9h0m7-10h0m7-10h0m9 25h0m7-9h0m6-9h0m16 16h0m7-8h0m6-8h0m16 17h0m6-7h0m7-8h0m6-7h0m8 25h0m6-6h0m7-7h0m6-6h0m7-6h0m7 25h0m6-5h0m7-6h0m6-6h0m7-5h0m7-5h0m4 26h0m6-5h0m7-4h0m6-5h0m7-4h0m7-4h0m7-4h0m1 26h0m7-3h0m6-4h0m6-3h0m7-3h0m6-3h0m7-3h0m7-2h0m4 23h0m2-26h0m1 0h0m3 24h0m3-26h0m0 0h0m3 24h0m7-2h0m2-1h0m4-1h0m2 0h0m4-1h0m2-1h0m5-1h0m2 0h0m4-1h0m2 0h0m5-1h0m2 0h0m4-1h0m2 0h0m5-1h0m2 0h0m4 0h0m2 0h0m5-1h0m2 0h0m4 0h0m2 0h0m5 0h0m2 0h0m5 0h0m2 0h0m4 1h0m2 0h0m5 0h0m2 0h0m4 1h0m2 0h0m5 1h0m2 0h0m4 1h0m2 0h0m5 1h0m2 0h0m4 1h0m2 1h0m4 1h0m2 1h0m5 1h0m2 0h0m4 2h0m2 0h0m3-24h0m0 0h0m1 26h0m2 0h0m4 2h0m0-25h0m0 0h0m2 26h0m5-24h0m0 0h0m7 3h0m0 0h0m6 2h0m0 0h0m7 3h0m0 0h0m6 4h0m0 0h0m7 3h0m0 0h0m6 3h0m0 0h0m6 4h0m0 0h0m2-26h0m1 0h0m6 4h0m1 0h0m6 4h0m1 0h0m5 4h0m1 1h0m6 4h0m1 0h0m5 4h0m1 1h0m5 4h0m1 1h0m4-27h0m1 1h0m6 5h0m0-1h0m6 5h0m1 1h0m6 5h0m1 1h0m5 5h0m1 0h0m6 6h0m0-1h0m6-25h0m0 0h0m7 6h0m0 0h0m6 6h0m1 1h0m6 6h0m0 0h0m6 6h0m0 1h0m6-27h0m2 2h0m5 5h0m2 2h0m5 5h0m1 2h0m5 5h0m2 3h0m8-25h0m3 3h0m4 5h0m3 3h0m4 5h0m2 3h0m4 5h0m3 3h0m6-28h0m0 0h0m7 9h0m0 0h0m7 9h0m0 0h0m6 9h0m0 0h0m10-25h0m4 6h0m3 4h0m3 5h0m3 4h0m4 6h0m13-19h0m0-1h0m6 10h0m1 1h0m6 11h0m0-1h0m10-24h0m4 6h0m3 4h0m3 7h0m3 5h0m11-25h0m0 0h0m6 12h0m0 0h0m7 12h0m0 0h0m10-25h0m3 5h0m4 7h0m2 6h0m4 7h0m10-24h0m6 10h0m1 2h0m5 11h0m1 2h0m10-24h0m2 3h0m5 10h0m1 3h0m5 11h0m10-24h0m4 8h0m3 6h0m3 8h0m12-20h0m1 2h0m6 13h0m1 1h0m10-21h0m5 12h0m2 3h0m5 12h0m9-25h0m4 9h0m2 7h0m4 9h0m11-20h0m1 2h0m5 14h0m1 3h0m8-25h0m1 2h0m6 14h0m1 3h0m9-20h0m4 9h0m3 8h0m4 9h0m7-25h0m5 13h0m1 5h0m14-8h0m0 0h0m13-7h0m1 5h0m5 14h0m9-16h0m4 9h0m3 10h0m7-21h0m1 4h0m5 15h0m7-21h0m0 0h0m6 20h0m0-1h0m6-20h0m5 14h0m1 6h0m6-21h0m3 9h0m3 11h0m5-21h0m1 5h0m5 15h0m2 6h0m2-27h0m0 0h0m6 21h0m1 0h0m3-21h0m5 16h0m1 5h0m3-22h0m3 12h0m3 10h0m2-21h0m2 6h0m5 15h0m1-21h0m0 2h0m1 26h0m5-6h0m1-22h0m0 24h0m6-2h0m0-21h0m0 18h0m4-4h0m2-13h0m1 21h0m2-11h0m2-9h0m1 22h0m0-17h0m3-3h0m0-1h0m2 22h0m0-25h0m2 5h0m2 2h0m0 19h0m1 0h0m2-17h0m0 14h0m1-11h0m0 8h0m1-3h0m-1686 34h0m2-2h0m3-2h0m1-6h0m5 7h0m1-5h0m3 8h0m4 4h0m1-26h0m3 12h0m6-2h0m1-3h0m5 5h0m1-2h0m6 6h0m2-7h0m8-1h0m3-9h0m2 26h0m4-17h0m1-5h0m9 5h0m9 5h0m26-9h0m10 5h0m12 6h0m12 6h0m6-19h0m7 26h0m5-19h0m13 6h0m14 7h0m6-18h0m14 8h0m15 7h0m5-17h0m10 25h0m5-17h0m16 8h0m6-16h0m10 24h0m6-15h0m16 8h0m6-15h0m11 24h0m5-14h0m6-15h0m12 24h0m5-14h0m17 10h0m6-13h0m18 11h0m5-13h0m12 23h0m6-12h0m6-12h0m12 24h0m5-12h0m6-11h0m12 23h0m6-11h0m6-11h0m17 13h0m6-10h0m18 14h0m5-10h0m6-9h0m12 24h0m6-9h0m5-9h0m6-8h0m11 23h0m6-8h0m6-8h0m6-7h0m10 24h0m6-8h0m5-7h0m6-7h0m10 25h0m6-7h0m5-6h0m6-7h0m6-6h0m25 8h0m6-5h0m6-5h0m7 25h0m5-4h0m6-5h0m5-4h0m6-5h0m6-4h0m6-4h0m4 26h0m6-3h0m5-4h0m6-3h0m5-4h0m6-3h0m6-3h0m6-3h0m6-2h0m0 26h0m5-2h0m5-3h0m6-2h0m5-2h0m6-2h0m6-1h0m5-2h0m6-1h0m0 0h0m5-2h0m1 0h0m5-1h0m1 0h0m5-1h0m1 0h0m5-1h0m0 1h0m6-1h0m0 0h0m6-1h0m0 0h0m6 0h0m0 0h0m5 0h0m1 0h0m5 0h0m1 0h0m5 0h0m1 0h0m5 0h0m1 1h0m5 0h0m1 0h0m5 1h0m1 0h0m5 1h0m0-1h0m6 2h0m0-1h0m5 2h0m1 0h0m5 1h0m1 0h0m5 1h0m0 0h0m6 2h0m0 0h0m5 2h0m1 0h0m5 2h0m0 0h0m5 2h0m1 0h0m5 2h0m0 0h0m5 2h0m1 0h0m3-24h0m1 0h0m1 27h0m0 0h0m4-25h0m1 1h0m5 2h0m1 1h0m4 2h0m2 1h0m4 2h0m2 1h0m4 2h0m2 1h0m4 3h0m1 1h0m4 2h0m2 1h0m3 3h0m2 1h0m4-26h0m0 0h0m6 4h0m0 0h0m6 4h0m0 0h0m6 5h0m0-1h0m6 5h0m0 0h0m5 5h0m0 0h0m5 4h0m1 0h0m6-25h0m1 1h0m5 4h0m1 1h0m5 4h0m1 1h0m5 5h0m1 1h0m4 4h0m1 1h0m5 5h0m9-24h0m0-1h0m5 7h0m1 0h0m5 6h0m1 1h0m5 6h0m0-1h0m15-18h0m0 1h0m6 6h0m0 1h0m5 7h0m1 0h0m5 7h0m0 0h0m9-26h0m2 2h0m4 6h0m2 2h0m4 6h0m1 2h0m4 6h0m2 2h0m11-24h0m3 3h0m3 6h0m2 3h0m4 6h0m2 3h0m3 5h0m12-23h0m0 0h0m6 9h0m0 0h0m5 10h0m0 0h0m12-24h0m4 6h0m2 4h0m3 6h0m3 4h0m3 6h0m15-18h0m0-1h0m5 11h0m1 1h0m15-18h0m2 5h0m3 6h0m3 5h0m3 7h0m15-18h0m0-1h0m5 13h0m0 0h0m15-19h0m3 7h0m3 6h0m3 7h0m2 6h0m14-19h0m1 3h0m5 11h0m1 2h0m13-21h0m4 11h0m1 3h0m5 11h0m11-24h0m3 8h0m3 7h0m3 8h0m13-19h0m1 1h0m5 14h0m0 1h0m12-20h0m5 12h0m1 3h0m15-12h0m3 9h0m2 7h0m15-10h0m1 2h0m5 14h0m10-22h0m1 3h0m5 17h0m0-3h0m11-17h0m3 10h0m3 8h0m10-20h0m2 5h0m4 13h0m1 5h0m8-26h0m0 1h0m6 18h0m0 0h0m9-20h0m4 13h0m2 5h0m11-11h0m3 10h0m2 9h0m7-25h0m4 15h0m1 4h0m12-5h0m0-1h0m11-5h0m1 5h0m4 15h0m5-26h0m3 11h0m3 10h0m8-11h0m1 5h0m9-5h0m1 0h0m8-5h0m1 5h0m7-9h0m2 10h0m3 11h0m6-11h0m1 7h0m6-6h0m1 2h0m6-1h0m0-3h0m5-4h0m2 8h0m2-12h0m3 13h0m1-17h0m2 27h0m2-8h0m1 4h0m1-24h0m2 21h0m0 0h0m1-19h0m1 16h0m1-14h0m1 19h0m0-16h0m0 8h0m1-6h0m0 3h0m2 13h0m2 2h0m-1703 27h0m1 3h0m2 2h0m1-15h0m1-14h0m1 3h0m0 9h0m1-6h0m3 3h0m3 4h0m1-5h0m0 21h0m3-13h0m2-9h0m0 21h0m2-8h0m3-15h0m2 18h0m0 3h0m5-25h0m0 3h0m1 23h0m1-2h0m4-20h0m1-2h0m2 21h0m4-15h0m5 14h0m2-10h0m3-12h0m4 21h0m9 0h0m5-21h0m0-1h0m5 27h0m14-17h0m11 5h0m23 11h0m30-8h0m13 6h0m19-13h0m14 7h0m16 7h0m4-18h0m16 7h0m16 8h0m5-17h0m11 24h0m5-16h0m17 8h0m5-15h0m12 23h0m5-15h0m17 9h0m5-15h0m18 9h0m5-13h0m13 23h0m5-14h0m5-12h0m14 22h0m4-12h0m19 10h0m5-12h0m18 11h0m5-11h0m19 12h0m5-11h0m5-10h0m14 22h0m4-10h0m6-9h0m13 22h0m5-9h0m5-9h0m14 22h0m4-8h0m5-9h0m5-8h0m13 22h0m5-7h0m5-8h0m5-8h0m13 23h0m4-7h0m5-7h0m5-7h0m67-4h0m13 21h0m5-5h0m5-4h0m5-5h0m5-4h0m5-4h0m6 26h0m5-4h0m4-4h0m5-3h0m5-3h0m5-4h0m5-3h0m5-2h0m3 26h0m2-29h0m2 26h0m5-3h0m5-2h0m4-2h0m5-2h0m5-3h0m5-1h0m5-2h0m5-2h0m5-1h0m5-2h0m5-1h0m4 23h0m1-24h0m4 23h0m0-24h0m1 0h0m3 24h0m2-25h0m0 0h0m3 24h0m2-25h0m0 0h0m2 24h0m2 0h0m1-24h0m1 0h0m1 24h0m1 0h0m2-25h0m1 24h0m0-24h0m2 24h0m2-24h0m1 24h0m0-24h0m2 24h0m2 0h0m1-24h0m0 0h0m1 24h0m3 0h0m1-24h0m1 0h0m0 24h0m3 0h0m1-24h0m0 24h0m1-24h0m2 24h0m2-24h0m0 24h0m1-24h0m2 25h0m1 0h0m2-24h0m0 0h0m1 24h0m2 0h0m2-24h0m1 25h0m0-25h0m1 25h0m3 0h0m0-24h0m1 0h0m1 25h0m3 0h0m0-24h0m1 0h0m0 25h0m3 0h0m1-24h0m1 0h0m0 25h0m3 0h0m1-24h0m1 0h0m5 2h0m0-1h0m5 2h0m0 0h0m5 2h0m0-1h0m5 2h0m0 0h0m4 2h0m1 0h0m4 2h0m1 0h0m4 2h0m1 0h0m4 2h0m0 0h0m5 3h0m0-1h0m4 3h0m1 0h0m4 3h0m0 0h0m2-26h0m0-1h0m2 29h0m3-26h0m1 0h0m4 3h0m1 0h0m4 3h0m1 0h0m4 3h0m1 1h0m4 3h0m0 0h0m5 3h0m0 0h0m4 4h0m1 0h0m4 4h0m0-1h0m5-26h0m1 1h0m4 3h0m2 1h0m3 3h0m2 1h0m3 3h0m2 1h0m3 3h0m1 2h0m4 3h0m1 1h0m3 4h0m2 1h0m9-25h0m0 0h0m5 6h0m0-1h0m5 6h0m0 0h0m5 5h0m0 0h0m4 6h0m0-1h0m5 6h0m0 0h0m6-29h0m5 6h0m0-1h0m5 7h0m0-1h0m5 7h0m0-1h0m4 7h0m1 1h0m11-25h0m1 1h0m4 6h0m1 0h0m4 7h0m1 0h0m4 7h0m0 0h0m4 7h0m1 1h0m12-25h0m0 1h0m5 7h0m0 0h0m5 8h0m0 0h0m4 8h0m1 0h0m12-25h0m1 2h0m4 6h0m1 3h0m3 6h0m2 2h0m3 6h0m12-25h0m3 5h0m2 4h0m3 6h0m2 3h0m3 6h0m14-23h0m0 0h0m5 10h0m0 0h0m4 10h0m0 0h0m14-22h0m3 5h0m2 5h0m3 6h0m2 5h0m3 6h0m11-28h0m0-1h0m5 12h0m0-1h0m5 12h0m0-1h0m13-22h0m3 6h0m2 6h0m3 6h0m2 5h0m14-22h0m0 0h0m5 12h0m0 0h0m5 13h0m0 0h0m13-23h0m2 6h0m3 7h0m2 6h0m3 7h0m12-25h0m1 2h0m4 12h0m1 2h0m14-20h0m4 11h0m1 3h0m4 11h0m1 3h0m11-26h0m3 8h0m2 7h0m3 8h0m14-18h0m0 2h0m5 13h0m0 2h0m12-24h0m1 4h0m4 12h0m1 4h0m13-19h0m3 7h0m2 9h0m2 8h0m11-24h0m5 14h0m0 3h0m16-7h0m1 2h0m4 15h0m10-24h0m2 7h0m3 10h0m2 8h0m11-19h0m1 5h0m4 13h0m10-20h0m0 1h0m5 18h0m0 0h0m9-25h0m1 5h0m3 14h0m2 5h0m9-20h0m2 10h0m3 10h0m9-21h0m1 5h0m3 15h0m8-21h0m1 1h0m4 20h0m0 0h0m8-21h0m3 15h0m2 6h0m6-21h0m3 10h0m2 11h0m7-21h0m1 5h0m3 16h0m6-21h0m0 1h0m5 21h0m0 0h0m3-26h0m2 5h0m3 17h0m1 5h0m5-22h0m2 12h0m2 10h0m4-21h0m2 7h0m3 15h0m3-21h0m0 2h0m4 20h0m2-24h0m1 3h0m4 20h0m0-27h0m2 8h0m3 15h0m2-13h0m3 10h0m2-8h0m1 4h0m3-3h0m0 0h0m3-3h0m1 5h0m0-8h0m1-8h0m0 2h0m0 3h0m2 13h0m2 3h0m1 7h0m-1713 19h0m0-5h0m1 8h0m0-11h0m2 14h0m3-18h0m2 24h0m1-26h0m0 0h0m0 21h0m3-18h0m1-5h0m1 21h0m2-13h0m3 12h0m2-9h0m5 4h0m0 3h0m6 1h0m7 3h0m1-7h0m3-15h0m5 14h0m2-10h0m8 4h0m29 13h0m4-21h0m10 5h0m12 5h0m11 5h0m13 5h0m4-20h0m9 25h0m4-19h0m14 5h0m18-12h0m11 24h0m4-18h0m15 6h0m16 6h0m4-17h0m12 24h0m21-10h0m17 7h0m4-16h0m14 23h0m4-15h0m18 7h0m4-14h0m15 22h0m3-14h0m5-14h0m14 22h0m4-13h0m19 9h0m4-13h0m15 21h0m4-12h0m4-12h0m20 10h0m4-11h0m15 21h0m4-11h0m5-11h0m15 22h0m4-11h0m4-10h0m16 22h0m4-10h0m4-10h0m16 22h0m3-9h0m4-9h0m16 21h0m4-8h0m4-8h0m4-9h0m15 22h0m4-8h0m4-7h0m4-7h0m117 4h0m4-5h0m5-3h0m4 28h0m4-3h0m4-4h0m4-4h0m4-3h0m4-3h0m4-3h0m4-3h0m5-3h0m5 25h0m3-2h0m4-3h0m4-2h0m4-3h0m4-2h0m4-2h0m4-2h0m4-2h0m4-2h0m4-2h0m5-1h0m2 24h0m2-26h0m1 25h0m3-26h0m1 25h0m4-2h0m0-24h0m4 23h0m3-1h0m4-1h0m4 0h0m4-1h0m4-1h0m4 0h0m3-1h0m4 0h0m3 0h0m1 0h0m3 0h0m1 0h0m3 0h0m1 0h0m3 0h0m1 0h0m3 0h0m1 0h0m3 0h0m1 0h0m2 1h0m2 0h0m2 0h0m2 1h0m2 0h0m1 0h0m3 1h0m1 0h0m3 1h0m1 0h0m3 0h0m1 1h0m2 1h0m2 0h0m2-24h0m0 25h0m1 0h0m2-24h0m1 25h0m1 0h0m0-25h0m3 1h0m0 25h0m1 1h0m0-26h0m2 27h0m1 0h0m0-26h0m1 1h0m3 1h0m2 1h0m2 1h0m2 0h0m3 1h0m1 1h0m3 1h0m1 1h0m3 1h0m1 1h0m3 2h0m1 0h0m3 2h0m1 1h0m3 1h0m1 1h0m3 2h0m1 1h0m2 1h0m2 1h0m2 2h0m1 1h0m2-28h0m4 3h0m0-1h0m4 3h0m0 0h0m4 3h0m1 1h0m3 2h0m1 1h0m3 3h0m1 0h0m3 3h0m1 1h0m3 3h0m1 0h0m3 4h0m0-1h0m4 4h0m4-29h0m1 1h0m4 4h0m0-1h0m4 5h0m0-1h0m4 5h0m1 0h0m3 4h0m1 0h0m3 4h0m4 5h0m10-26h0m1 2h0m3 3h0m1 2h0m3 3h0m1 2h0m4 5h0m4 5h0m4 6h0m13-23h0m0 0h0m4 6h0m4 6h0m4 6h0m4 6h0m10-28h0m0-1h0m4 7h0m4 6h0m4 7h0m4 7h0m15-22h0m4 7h0m4 8h0m4 8h0m15-22h0m4 8h0m4 8h0m15-21h0m5 9h0m4 8h0m3 9h0m14-27h0m2 6h0m4 10h0m4 9h0m16-21h0m0 0h0m4 10h0m4 11h0m16-22h0m2 6h0m2 5h0m4 11h0m15-20h0m0-1h0m4 11h0m1 1h0m3 11h0m14-27h0m2 5h0m2 7h0m2 6h0m2 6h0m17-16h0m0 0h0m4 13h0m0 0h0m17-16h0m2 7h0m2 6h0m2 8h0m14-25h0m1 3h0m3 11h0m1 3h0m3 11h0m15-19h0m1 3h0m3 11h0m1 3h0m13-25h0m2 8h0m2 7h0m2 8h0m15-17h0m1 1h0m3 14h0m1 2h0m13-23h0m1 4h0m3 12h0m1 4h0m14-18h0m2 7h0m2 9h0m1 8h0m12-26h0m1 3h0m3 14h0m1 3h0m12-21h0m4 17h0m0-3h0m15-6h0m2 8h0m2 10h0m11-24h0m3 13h0m1 6h0m14-6h0m0 0h0m14-5h0m1 5h0m12-11h0m2 10h0m2 10h0m8-25h0m4 15h0m1 5h0m11-5h0m1 0h0m11-5h0m1 6h0m9-11h0m3 11h0m1 10h0m6-25h0m4 16h0m1 5h0m9-5h0m0 1h0m9-5h0m1 5h0m7-9h0m2 10h0m5-14h0m3 16h0m1 7h0m3-27h0m4 21h0m0 2h0m2-23h0m4 22h0m0-3h0m3-18h0m2 15h0m2 8h0m1-21h0m2 9h0m2 14h0m1-21h0m1 4h0m3 19h0m0-22h0m0 0h0m2-3h0m1 5h0m1-8h0m2 11h0m0 15h0m2-13h0m0 10h0m1-2h0m-1723 34h0m2-15h0m0-3h0m1-5h0m1 19h0m1-21h0m3 18h0m0 1h0m4-3h0m3 8h0m3-23h0m2 26h0m2-14h0m1-9h0m5 4h0m0 3h0m7 0h0m0-2h0m6 6h0m1-7h0m15 14h0m9 4h0m13-18h0m10 4h0m11 5h0m11 4h0m4-21h0m9 25h0m3-20h0m12 5h0m14 4h0m17-14h0m11 24h0m3-18h0m15 5h0m16 5h0m3-17h0m13 23h0m3-18h0m14 23h0m3-17h0m17 6h0m3-16h0m15 22h0m3-15h0m15 21h0m3-15h0m18 7h0m3-15h0m16 21h0m3-14h0m19 7h0m4-13h0m16 20h0m3-13h0m3-13h0m17 21h0m3-12h0m23-4h0m17 20h0m3-11h0m4-11h0m17 20h0m3-11h0m3-10h0m18 20h0m3-10h0m3-10h0m18 20h0m3-9h0m3-9h0m17 20h0m3-9h0m4-8h0m17 19h0m3-8h0m3-7h0m4-8h0m159 15h0m3-3h0m3-4h0m4-3h0m3-3h0m3-3h0m4-3h0m39 3h0m4-1h0m3-2h0m117 0h0m1 1h0m2 1h0m1 0h0m3 2h0m1 0h0m2 2h0m1 0h0m3 1h0m1 1h0m2 1h0m1 1h0m2 2h0m1 0h0m3 2h0m1 1h0m2 1h0m1 1h0m2 1h0m3 3h0m3 2h0m3 3h0m2 3h0m4-29h0m1 1h0m2 2h0m2 1h0m2 2h0m1 1h0m3 3h0m4 3h0m3 3h0m3 4h0m3 3h0m3 4h0m11-24h0m4 4h0m3 4h0m3 4h0m3 4h0m3 4h0m3 5h0m10-28h0m4 5h0m3 5h0m3 5h0m4 5h0m3 5h0m15-22h0m3 6h0m3 5h0m3 6h0m3 6h0m16-21h0m4 6h0m3 7h0m3 6h0m17-20h0m3 7h0m3 7h0m3 7h0m17-20h0m4 8h0m3 8h0m3 8h0m14-28h0m3 8h0m3 9h0m3 8h0m18-19h0m3 9h0m3 9h0m18-20h0m3 10h0m3 10h0m17-20h0m4 11h0m3 10h0m17-20h0m3 11h0m3 11h0m18-20h0m3 12h0m16-20h0m4 12h0m3 12h0m17-20h0m0 0h0m3 13h0m17-16h0m2 8h0m2 6h0m1 8h0m16-21h0m3 11h0m1 3h0m2 11h0m16-18h0m1 3h0m3 14h0m0-3h0m15-21h0m2 8h0m1 7h0m2 8h0m16-16h0m0 2h0m3 14h0m0 1h0m15-18h0m0-4h0m3 20h0m0-4h0m15-13h0m2 8h0m2 9h0m14-18h0m0 3h0m3 14h0m1 3h0m13-20h0m0-3h0m3 20h0m0-2h0m14-16h0m1 10h0m2 8h0m12-18h0m1 5h0m3 14h0m0 5h0m12-24h0m0 0h0m3 19h0m0 0h0m11-24h0m1 5h0m2 14h0m1 5h0m11-19h0m1 9h0m2 11h0m10-20h0m1 5h0m3 15h0m9-19h0m0-1h0m3 21h0m0 0h0m9-25h0m1 5h0m2 16h0m1 5h0m8-20h0m2 10h0m1 11h0m8-20h0m1 5h0m10-4h0m0 0h0m8-4h0m1 5h0m3 17h0m5-26h0m1 11h0m2 12h0m6-11h0m1 7h0m7-5h0m0 2h0m6-4h0m1 3h0m5-6h0m1 8h0m4-12h0m1 14h0m3-17h0m2 19h0m1-21h0m0 26h0m0-27h0m3 24h0m0-21h0m0 21h0m3 2h0m0-21h0m0 16h0m2-14h0m0 11h0m1 11h0m0-19h0m0 5h0m-1729 35h0m4-10h0m0 5h0m3-3h0m0 1h0m3 2h0m1-4h0m4 7h0m1-9h0m3 12h0m2-14h0m4 18h0m0 3h0m2-26h0m7 1h0m7 5h0m16 7h0m18 7h0m3-21h0m8 25h0m2-21h0m9 24h0m2-21h0m12 4h0m12 4h0m13 4h0m2-20h0m12 24h0m2-19h0m14 4h0m15 5h0m15 4h0m2-18h0m14 23h0m2-18h0m14 22h0m3-17h0m16 5h0m18 5h0m2-16h0m16 21h0m2-16h0m18 6h0m21-10h0m17 21h0m3-15h0m19 6h0m3-13h0m19 6h0m21 7h0m2-12h0m18 19h0m3-12h0m2-12h0m21 8h0m19 18h0m2-11h0m2-10h0m19 18h0m2-10h0m3-10h0m19 18h0m2-9h0m3-9h0m19 18h0m2-9h0m3-9h0m19 19h0m2-9h0m3-8h0m398-3h0m3 2h0m2 3h0m3 3h0m2 3h0m3 4h0m2 3h0m2 3h0m2 3h0m11-26h0m3 4h0m3 4h0m2 3h0m3 4h0m2 4h0m2 4h0m2 4h0m14-25h0m2 5h0m3 4h0m2 5h0m3 4h0m2 5h0m14-25h0m3 5h0m3 6h0m2 5h0m2 5h0m2 6h0m16-25h0m3 6h0m2 6h0m2 6h0m2 6h0m17-25h0m2 7h0m3 6h0m2 7h0m2 7h0m17-25h0m2 7h0m3 8h0m2 7h0m19-18h0m3 8h0m2 8h0m19-18h0m3 9h0m2 9h0m19-19h0m2 10h0m3 9h0m19-18h0m2 10h0m2 10h0m19-18h0m3 10h0m2 11h0m19-18h0m2 11h0m19-19h0m2 12h0m2 12h0m19-19h0m2 12h0m18-19h0m2 13h0m3 13h0m17-20h0m3 14h0m17-20h0m2 14h0m2 14h0m17-20h0m1 3h0m2 12h0m16-21h0m1 9h0m1 7h0m2 8h0m17-15h0m0 1h0m2 14h0m0 2h0m16-17h0m0-4h0m2 20h0m0-4h0m15-22h0m1 10h0m1 7h0m1 10h0m16-17h0m0 2h0m2 15h0m15-17h0m0-3h0m2 21h0m0-3h0m13-22h0m1 8h0m2 10h0m14-10h0m1 5h0m15-4h0m0 0h0m14 1h0m0-5h0m2 19h0m11-24h0m2 11h0m1 9h0m10-24h0m2 16h0m1 4h0m12-3h0m0-1h0m12 2h0m0-6h0m11-3h0m1 11h0m8-20h0m1 5h0m2 16h0m0 5h0m8-25h0m0 0h0m2 22h0m0 0h0m7-21h0m2 17h0m1 5h0m6-20h0m1 12h0m1 10h0m6-21h0m1 8h0m2 15h0m5-21h0m0 2h0m6-3h0m1 3h0m2 20h0m3-26h0m1 8h0m1 15h0m3-26h0m1 13h0m1 10h0m4-8h0m0 5h0m4-3h0m0 0h0m2-3h0m1 6h0m1-9h0m1 11h0m0-21h0m0 8h0m1-6h0m0 3h0m1 19h0m1 2h0m-1737 24h0m0-5h0m2 8h0m0-13h0m1-11h0m2 3h0m0 6h0m5 19h0m2-24h0m3 21h0m1-23h0m4 21h0m1-8h0m5 3h0m7 2h0m8-19h0m7 25h0m1-22h0m9 3h0m9 4h0m10 3h0m10 3h0m11 3h0m14-17h0m25 7h0m14 4h0m14 4h0m15 3h0m2-18h0m14 22h0m1-18h0m15 22h0m1-18h0m17 4h0m17 4h0m1-17h0m18 4h0m16 21h0m2-16h0m18 4h0m2-15h0m17 20h0m2-15h0m19 5h0m19 19h0m1-14h0m2-14h0m19 19h0m1-13h0m19 18h0m2-13h0m2-12h0m19 18h0m1-12h0m20 17h0m2-11h0m1-12h0m19 29h0m1-11h0m2-11h0m20 17h0m2-10h0m1-11h0m21 17h0m1-9h0m2-10h0m19 26h0m2-9h0m1-9h0m2-9h0m19 25h0m1-9h0m2-8h0m2-8h0m426 0h0m2 3h0m2 3h0m1 4h0m2 4h0m2 3h0m1 4h0m1 3h0m1 4h0m16-27h0m2 5h0m1 4h0m2 4h0m2 4h0m1 5h0m1 4h0m17-27h0m1 5h0m2 5h0m2 5h0m1 5h0m1 5h0m19-23h0m2 6h0m2 6h0m1 5h0m1 6h0m19-23h0m2 7h0m2 6h0m1 6h0m1 7h0m20-23h0m2 7h0m1 7h0m1 7h0m20-23h0m2 7h0m1 8h0m1 8h0m20-25h0m2 9h0m1 8h0m1 8h0m20-25h0m2 9h0m1 9h0m1 9h0m20-25h0m1 9h0m2 10h0m20-17h0m2 11h0m1 10h0m21-17h0m1 11h0m20-17h0m2 11h0m1 11h0m20-17h0m2 12h0m19-18h0m2 13h0m1 12h0m19-18h0m2 14h0m19-19h0m1 14h0m20-5h0m1 14h0m19-19h0m1 15h0m17-20h0m2 15h0m19-6h0m0 2h0m18-1h0m0-3h0m1 16h0m16-21h0m1 9h0m1 8h0m15-21h0m2 15h0m0 2h0m17-1h0m0-3h0m15-14h0m1 18h0m0-8h0m1 18h0m13-27h0m1 5h0m1 14h0m0 5h0m14-23h0m0 0h0m1 19h0m0 0h0m14-18h0m1 20h0m0-5h0m13-13h0m0 9h0m1 11h0m12-19h0m1 5h0m1 15h0m11-18h0m0-1h0m1 21h0m0 0h0m11-19h0m0-6h0m1 21h0m10-24h0m1 11h0m0 10h0m11-8h0m0 5h0m10-3h0m0 0h0m9 2h0m0-5h0m8-4h0m1 11h0m7-14h0m1 16h0m1 7h0m5-28h0m0 2h0m2 21h0m0 2h0m5-23h0m1 23h0m0-3h0m5-18h0m1 23h0m0-8h0m4-13h0m1 10h0m4-7h0m0 4h0m4-2h0m0-1h0m2-2h0m1 5h0m1-8h0m1 11h0m1-16h0m0 29h0m0-27h0m1 16h0m0 8h0m-1739 19h0m1-8h0m1 11h0m0-13h0m2 15h0m0-18h0m3 21h0m0 0h0m1-23h0m3 2h0m4 3h0m0 13h0m5-10h0m6 3h0m22 8h0m8 3h0m10-20h0m0 22h0m10-19h0m0 22h0m11-19h0m11 3h0m12 3h0m13 3h0m13 3h0m1-20h0m13 23h0m15-16h0m15 3h0m16 3h0m16 4h0m17-15h0m0 18h0m17 3h0m1-17h0m54 10h0m1-15h0m19 4h0m19 18h0m1-14h0m20 4h0m0 14h0m21-24h0m0 14h0m21-9h0m0 12h0m21 4h0m1-12h0m1-12h0m20 16h0m0 12h0m23-18h0m22 4h0m0 11h0m1-21h0m21 25h0m1-10h0m1-10h0m1-9h0m21 15h0m0 9h0m1-18h0m22 14h0m0 9h0m1-17h0m1-9h0m445-1h0m1 4h0m1 3h0m1 4h0m1 8h0m0-4h0m1 12h0m0-4h0m20-23h0m1 4h0m1 4h0m1 9h0m0-4h0m1 13h0m0-4h0m21-24h0m1 10h0m0-5h0m1 10h0m1 11h0m0-6h0m21-19h0m1 6h0m1 5h0m1 12h0m0-6h0m22-14h0m1 7h0m1 13h0m0-7h0m22-14h0m1 7h0m1 7h0m1 8h0m22-14h0m0-8h0m1 24h0m0-8h0m22-14h0m1 8h0m1 9h0m22-15h0m1 19h0m0-9h0m22-15h0m1 19h0m0-10h0m22-5h0m1 10h0m1 11h0m20-26h0m1 11h0m1 11h0m21-16h0m1 12h0m21-17h0m1 25h0m0-13h0m21-4h0m1 13h0m20-17h0m1 13h0m19-17h0m1 13h0m1 14h0m19-17h0m1 14h0m19-18h0m1 15h0m18-19h0m1 15h0m18-19h0m1 16h0m17-16h0m1 13h0m1 16h0m16-28h0m1 17h0m0 8h0m0-17h0m17-6h0m0 3h0m1 15h0m0 2h0m16-18h0m0-3h0m1 21h0m0-3h0m15-13h0m1 18h0m0-8h0m15-8h0m0 5h0m1 13h0m14-17h0m0 1h0m15 1h0m0 15h0m0-20h0m14 8h0m0 9h0m0-20h0m13 13h0m0-16h0m1 20h0m12-2h0m0-1h0m12 3h0m0-21h0m0 15h0m11-13h0m0 11h0m1 11h0m10-20h0m0 6h0m1 16h0m9-20h0m0 1h0m1 21h0m0 1h0m8-20h0m0-5h0m1 22h0m8-15h0m0-10h0m1 22h0m7-10h0m1 7h0m7-4h0m0 2h0m6 0h0m0-3h0m6 5h0m0-8h0m5 11h0m0-23h0m0 9h0m4-7h0m0 5h0m1 18h0m3-21h0m0 0h0m1 24h0m0 0h0m2-21h0m0 18h0m0-24h0m2 8h0m1 13h0m1-10h0m0 8h0m-1740 19h0m0-8h0m1 10h0m1 11h0m5-5h0m3 2h0m0-5h0m10-13h0m0 23h0m12-18h0m8 3h0m8 2h0m8 3h0m20 5h0m10-19h0m12 3h0m0 21h0m24-16h0m1 20h0m13-18h0m43 8h0m16-16h0m0 18h0m16-15h0m17 20h0m18-15h0m18 19h0m18-14h0m19-13h0m0 15h0m19-12h0m0 15h0m20 2h0m21 2h0m20-24h0m0 13h0m21-10h0m0 13h0m1 13h0m21-23h0m0 13h0m22-10h0m22-7h0m0 11h0m0 11h0m23-19h0m0 10h0m0 11h0m22-17h0m0 9h0m1 10h0m23-25h0m0 9h0m0 9h0m23-14h0m0 8h0m0 9h0m451 2h0m1-4h0m0-4h0m0-4h0m0-4h0m0-4h0m0-4h0m24 24h0m0-5h0m0-4h0m0-5h0m0-4h0m0-5h0m24 24h0m0-5h0m0-21h0m1 15h0m0-5h0m0-5h0m23 23h0m0-6h0m1-6h0m0-5h0m0-6h0m0-6h0m23 26h0m1-6h0m0-7h0m0-6h0m0-7h0m24 23h0m0-7h0m0-7h0m0-7h0m23 26h0m1-8h0m0-8h0m0-7h0m23 21h0m0-9h0m0-8h0m0-9h0m23 23h0m1-9h0m0-9h0m23 15h0m0-9h0m0-10h0m22 27h0m1-11h0m0-10h0m22 19h0m0-11h0m0-11h0m22 19h0m0-23h0m1 12h0m21 9h0m0-12h0m22 9h0m0-12h0m21 23h0m0-13h0m0-13h0m20 24h0m1-14h0m20 12h0m0-14h0m20 12h0m0-15h0m19 12h0m0-15h0m19 13h0m0-16h0m19 14h0m18-3h0m17-5h0m0 20h0m0-17h0m17 18h0m0-18h0m0 15h0m0-18h0m16 5h0m0 11h0m0-19h0m16 11h0m0 5h0m0-18h0m15 16h0m0-19h0m0 19h0m0-19h0m14 22h0m1-20h0m0 15h0m13 8h0m0-20h0m0 9h0m14 14h0m0-21h0m0 5h0m12-2h0m0-1h0m12 19h0m1-16h0m0-5h0m11 8h0m0 10h0m0-21h0m11 14h0m0 5h0m0-22h0m10 19h0m0 1h0m9 2h0m0-22h0m0 17h0m9 8h0m0-23h0m0 13h0m7 13h0m1-23h0m0 7h0m7-5h0m0 3h0m7 0h0m0-3h0m5 6h0m0 15h0m0-24h0m5 21h0m1-10h0m0-13h0m4 16h0m0 5h0m0-24h0m4 22h0m0-1h0m2 3h0m1-23h0m0 18h0m2 8h0m0-24h0m0 13h0m1 13h0m0-23h0m0 7h0m1-5h0m-1741 25h0m1 16h0m1-14h0m0 11h0m2-8h0m0 5h0m3-3h0m0 1h0m4 2h0m4 2h0m12 5h0m6 2h0m8 2h0m17 4h0m8-20h0m10 2h0m11 3h0m37 6h0m12-19h0m14 3h0m1 19h0m14-17h0m1 19h0m15 1h0m16 2h0m16 1h0m16-16h0m18 2h0m18 2h0m17-15h0m1 16h0m18-14h0m1 16h0m20 1h0m19-13h0m1 14h0m19-13h0m1 14h0m20-12h0m1 13h0m20-12h0m2 13h0m19-23h0m1 12h0m1 12h0m20-22h0m1 11h0m22-10h0m1 11h0m22-9h0m0 11h0m2 10h0m21-19h0m1 10h0m1 9h0m20-27h0m1 9h0m1 9h0m1 9h0m21-25h0m1 9h0m1 8h0m1 9h0m440-2h0m1-4h0m2-3h0m1-4h0m1-4h0m0-4h0m1-4h0m1-3h0m18 27h0m2-5h0m1-4h0m1-4h0m1-5h0m0-4h0m1-5h0m19 27h0m2-5h0m1-5h0m1-5h0m1-5h0m0-5h0m20 26h0m1-6h0m1-5h0m1-6h0m1-6h0m21 23h0m1-6h0m1-6h0m1-7h0m1-6h0m20 26h0m1-7h0m1-7h0m1-7h0m1-8h0m20 29h0m2-8h0m1-7h0m0-8h0m21 23h0m1-8h0m1-9h0m1-8h0m21 25h0m1-9h0m1-9h0m1-9h0m20 27h0m2-10h0m1-9h0m0-10h0m20 29h0m2-11h0m1-10h0m20 20h0m1-11h0m1-10h0m21 21h0m1-12h0m1-11h0m20 22h0m1-12h0m1-12h0m19 24h0m2-13h0m0-13h0m20 25h0m1-13h0m20 12h0m1-14h0m19 13h0m1-15h0m19 14h0m1-15h0m19 13h0m1-15h0m18 14h0m1-16h0m17 15h0m1-17h0m17 15h0m1-17h0m17 16h0m17-2h0m16 6h0m0-8h0m1-10h0m14 22h0m0 5h0m1-24h0m0 5h0m14 17h0m0 1h0m1-20h0m0 0h0m14 18h0m1-15h0m0-5h0m13 18h0m1-9h0m0-11h0m13 14h0m0 4h0m0-20h0m12 19h0m0 0h0m1-21h0m0 0h0m11 24h0m0-5h0m1-16h0m10 25h0m1-22h0m0 11h0m11-8h0m0 6h0m10-3h0m0 0h0m9 3h0m0-5h0m9 8h0m0-10h0m7 20h0m1-7h0m0-15h0m7 18h0m0 2h0m1-25h0m0 2h0m5 24h0m0-3h0m1-20h0m0-3h0m5 21h0m1-15h0m5 3h0m0 9h0m4-7h0m0 5h0m4-2h0m0 0h0m3 3h0m0-6h0m2 8h0m0-10h0m1 13h0m1 3h0m0 2h0m0-21h0m1-5h0m0 3h0m-1739 37h0m2-2h0m1 12h0m2 3h0m1-21h0m9 4h0m5 2h0m13 5h0m7 2h0m9 2h0m8 1h0m8-20h0m2 22h0m8-20h0m23 4h0m2 21h0m10-20h0m2 21h0m11-19h0m2 20h0m11-19h0m29 3h0m16 1h0m32 2h0m15-16h0m2 17h0m34-15h0m2 17h0m17-16h0m1 16h0m18-15h0m1 15h0m18-14h0m20 0h0m2 15h0m19-14h0m2 14h0m19-13h0m1 13h0m42-13h0m2 12h0m20-12h0m2 12h0m20-12h0m2 11h0m21-11h0m2 10h0m2 10h0m19-20h0m2 9h0m2 10h0m20-20h0m3 18h0m20-18h0m2 8h0m2 8h0m419 5h0m3-3h0m2-4h0m2-3h0m1-3h0m2-4h0m2-3h0m1-4h0m2-3h0m14 26h0m2-4h0m2-4h0m2-4h0m2-4h0m1-5h0m2-4h0m16 26h0m2-5h0m2-5h0m2-5h0m1-5h0m2-5h0m17 24h0m2-6h0m2-5h0m2-6h0m2-5h0m19 20h0m2-7h0m2-6h0m1-6h0m19 22h0m2-7h0m2-7h0m2-7h0m18 23h0m2-7h0m2-8h0m2-7h0m20 17h0m2-8h0m2-9h0m20 19h0m2-9h0m1-9h0m20 20h0m2-10h0m2-9h0m19 20h0m2-10h0m2-10h0m21 11h0m2-11h0m20 12h0m2-12h0m20 12h0m2-12h0m20 13h0m2-13h0m19 13h0m2-13h0m19 13h0m2-13h0m19 14h0m2-15h0m18 15h0m2-15h0m17 14h0m2-15h0m18 15h0m1-16h0m17 16h0m2-17h0m16 16h0m2-17h0m16 16h0m2-17h0m15 17h0m2-18h0m14 17h0m2-18h0m14 17h0m1-5h0m15 4h0m0 0h0m14 4h0m0-5h0m2-15h0m12 24h0m1-20h0m0 9h0m11 15h0m2-21h0m0 5h0m13-1h0m0-1h0m12 4h0m0-5h0m10 19h0m1-10h0m1-11h0m9 15h0m0 5h0m2-27h0m0 5h0m8 20h0m0 0h0m2-22h0m0 0h0m7 21h0m2-18h0m0-5h0m7 21h0m1-12h0m1-11h0m7 14h0m0 7h0m7-4h0m0 2h0m6 1h0m1-3h0m5 6h0m1-8h0m1-15h0m3 26h0m1-13h0m1-10h0m2 26h0m2-23h0m0 4h0m4-1h0m0-1h0m1 21h0m1-18h0m1 16h0m0-21h0m1 8h0m1 11h0m0-22h0m1 14h0m1-16h0m-1735 40h0m0-2h0m0-3h0m1 8h0m1-11h0m1 13h0m12-14h0m14 26h0m12-19h0m8 2h0m9 1h0m9 2h0m11 1h0m11 2h0m11 1h0m12 1h0m13 0h0m11-19h0m3 20h0m12-19h0m2 20h0m12-19h0m3 19h0m13-18h0m2 19h0m30-18h0m17 1h0m3 17h0m15-17h0m2 17h0m18-1h0m19 0h0m19-1h0m17-15h0m3 14h0m20-1h0m44 11h0m16-27h0m5 25h0m17-26h0m2 12h0m3 12h0m17-25h0m2 11h0m3 12h0m19-13h0m3 10h0m20-12h0m3 10h0m3 10h0m17-23h0m3 10h0m3 9h0m20-12h0m3 9h0m3 8h0m15-28h0m2 8h0m3 8h0m3 8h0m398-13h0m2-3h0m3-3h0m2-3h0m2-3h0m7 29h0m4-3h0m2-3h0m3-4h0m3-4h0m3-3h0m2-4h0m3-4h0m2-4h0m10 28h0m3-4h0m3-4h0m3-5h0m3-4h0m2-5h0m2-5h0m14 27h0m3-6h0m2-5h0m3-5h0m3-5h0m2-6h0m16 23h0m3-6h0m3-6h0m2-6h0m3-6h0m16 23h0m3-6h0m2-7h0m3-7h0m15 26h0m3-7h0m3-8h0m3-7h0m18 19h0m3-8h0m2-8h0m3-8h0m18 20h0m3-8h0m2-9h0m18 21h0m3-9h0m3-10h0m17 22h0m3-10h0m3-10h0m20 13h0m2-10h0m3-11h0m17 24h0m3-11h0m2-12h0m17 25h0m3-12h0m2-12h0m16 26h0m3-12h0m3-13h0m19 15h0m2-14h0m18 15h0m3-14h0m18 15h0m3-14h0m17 15h0m3-15h0m17 16h0m2-15h0m17 16h0m2-16h0m16 16h0m3-16h0m15 17h0m3-17h0m15 17h0m3-17h0m14 17h0m3-17h0m14 17h0m2-18h0m13 18h0m3-18h0m13 18h0m3-19h0m0 0h0m12 19h0m2-15h0m0-5h0m12 19h0m1-9h0m1-11h0m11 19h0m1-4h0m2-16h0m10 20h0m0 0h0m3-20h0m0-1h0m9 25h0m1-5h0m1-16h0m1-5h0m9 20h0m1-11h0m10 9h0m1-5h0m9 4h0m0 0h0m9 4h0m1-5h0m2-17h0m6 25h0m1-10h0m1-12h0m5 26h0m2-15h0m1-8h0m7 4h0m0 2h0m6 1h0m1-3h0m5 6h0m1-8h0m2 21h0m1-10h0m2-13h0m2 21h0m1-5h0m2-18h0m1 22h0m0-1h0m2 3h0m1-26h0m0 21h0m0-21h0m2 3h0m1 16h0m1-13h0m0 10h0m1-8h0m-1728 25h0m18 13h0m15-18h0m19 25h0m6-21h0m3 22h0m6-20h0m4 21h0m10 1h0m8-20h0m15 21h0m35-19h0m14 0h0m15 0h0m15 0h0m16 0h0m20 17h0m14-18h0m3 17h0m14-18h0m4 17h0m14-17h0m38-3h0m4 16h0m16-17h0m3 15h0m17-16h0m3 14h0m24 11h0m17-16h0m21-3h0m4 13h0m18-15h0m25 8h0m4 11h0m15-25h0m3 10h0m4 11h0m22-5h0m4 10h0m16-24h0m3 10h0m3 9h0m20-14h0m3 8h0m20-13h0m3 8h0m7 15h0m388-14h0m4-3h0m3-3h0m3-3h0m7 26h0m4-3h0m4-4h0m4-4h0m3-3h0m4-4h0m3-4h0m3-5h0m12 24h0m4-4h0m4-5h0m3-5h0m3-5h0m4-4h0m12 24h0m4-5h0m3-6h0m4-5h0m3-6h0m3-5h0m13 25h0m4-6h0m3-6h0m4-7h0m3-6h0m13 27h0m3-7h0m4-7h0m3-7h0m16 21h0m4-7h0m3-8h0m4-8h0m16 22h0m3-8h0m4-9h0m3-8h0m16 22h0m4-9h0m3-9h0m16 24h0m3-10h0m4-10h0m19 15h0m3-11h0m4-10h0m15 25h0m3-11h0m4-11h0m18 15h0m4-12h0m18 15h0m3-12h0m18 15h0m3-13h0m4-12h0m17 15h0m3-14h0m17 16h0m4-14h0m16 16h0m4-14h0m16 16h0m3-15h0m16 17h0m4-15h0m15 17h0m3-16h0m15 17h0m3-16h0m18 0h0m17 1h0m16 1h0m16 0h0m16 0h0m14 0h0m3-14h0m10 24h0m2-10h0m1-10h0m9 25h0m3-15h0m1-5h0m12 5h0m0-1h0m11 5h0m1-6h0m10 11h0m2-11h0m2-10h0m6 25h0m3-16h0m1-5h0m9 4h0m0 0h0m9 4h0m1-5h0m7 9h0m2-11h0m5 21h0m1-7h0m2-15h0m4 21h0m1-2h0m3-23h0m0 2h0m3 25h0m0-3h0m3-20h0m1-3h0m2 21h0m3-15h0m1-8h0m2 21h0m1-9h0m4 3h0m0 4h0m4-1h0m0-1h0m2 4h0m1-6h0m1 9h0m1 3h0m1-14h0m1-13h0m0 11h0m1-8h0m1 3h0m-1721 24h0m4 4h0m0 19h0m2 2h0m2-19h0m4 2h0m5 2h0m5 1h0m13 3h0m45 4h0m11 1h0m12 0h0m8-20h0m4 20h0m9-20h0m14 0h0m4 19h0m10-19h0m19 18h0m15-1h0m16-1h0m16-1h0m17-2h0m18-1h0m4 16h0m14-18h0m4 16h0m14-18h0m19-2h0m20-3h0m4 15h0m16-17h0m8 27h0m16-17h0m5 13h0m16-16h0m4 12h0m21-4h0m5 12h0m12-28h0m4 11h0m5 12h0m17-16h0m4 11h0m18-16h0m4 10h0m26 4h0m5 9h0m17-16h0m5 9h0m4 9h0m14-24h0m4 8h0m4 8h0m5 8h0m13-24h0m4 8h0m5 7h0m4 7h0m368-10h0m4-3h0m4-3h0m5-3h0m4-3h0m6 25h0m5-3h0m4-4h0m5-4h0m4-4h0m4-4h0m4-4h0m4-4h0m8 26h0m5-5h0m4-5h0m5-4h0m4-5h0m4-6h0m13 22h0m5-5h0m4-6h0m4-6h0m4-6h0m14 22h0m4-6h0m4-7h0m5-6h0m13 23h0m5-7h0m4-8h0m4-7h0m14 23h0m4-8h0m5-8h0m4-8h0m13 24h0m5-8h0m4-9h0m4-9h0m14 25h0m4-9h0m5-10h0m17 16h0m5-10h0m4-10h0m17 16h0m5-11h0m17 16h0m4-11h0m4-12h0m17 16h0m5-12h0m16 17h0m5-13h0m16 17h0m4-13h0m4-14h0m16 17h0m5-14h0m15 17h0m5-14h0m15 17h0m4-15h0m15 18h0m4-15h0m14 18h0m4-16h0m18 2h0m18 2h0m4-17h0m13 18h0m4-17h0m12 18h0m5-17h0m11 19h0m5-19h0m11 20h0m4-19h0m10 19h0m5-19h0m10 20h0m4-19h0m9 20h0m1-5h0m3-15h0m9 20h0m0 0h0m4-20h0m0-1h0m8 21h0m4-15h0m1-6h0m7 21h0m2-10h0m2-11h0m7 20h0m1-5h0m3-16h0m6 21h0m0 0h0m5-22h0m0 0h0m4 26h0m1-5h0m3-16h0m1-5h0m5 21h0m3-12h0m1-10h0m4 21h0m2-7h0m6 6h0m1-2h0m5 3h0m1-3h0m5 7h0m1-8h0m3 12h0m0-27h0m3 13h0m2-9h0m3 8h0m1-5h0m3 3h0m0 0h0m2 3h0m1 13h0m0-18h0m1 8h0m0 8h0m1-5h0m0 3h0m1-17h0m2-2h0m1-5h0m0 3h0m-1706 46h0m3 2h0m2-19h0m5 2h0m0 21h0m6-20h0m21 4h0m17 1h0m43 0h0m25 0h0m28-2h0m14-1h0m16-2h0m21 17h0m11-20h0m17-2h0m5 17h0m35-5h0m6 15h0m13-18h0m5 15h0m19-4h0m14-18h0m24 10h0m20-5h0m6 13h0m20-5h0m5 12h0m15-17h0m6 11h0m15-17h0m5 11h0m6 11h0m21-7h0m5 10h0m16-17h0m26 2h0m22-9h0m5 9h0m5 8h0m17-17h0m5 7h0m5 8h0m5 7h0m11-25h0m10 14h0m11 13h0m345-18h0m5-3h0m5-3h0m5-3h0m2 27h0m6-3h0m5-4h0m5-4h0m6-4h0m5-4h0m5-4h0m5-5h0m9 24h0m5-5h0m5-5h0m6-5h0m4-5h0m5-5h0m5 29h0m6-5h0m5-6h0m5-6h0m5-6h0m5-6h0m11 24h0m5-7h0m5-6h0m5-7h0m11 24h0m5-7h0m6-7h0m5-8h0m16 17h0m5-8h0m5-8h0m17 17h0m5-9h0m5-9h0m16 17h0m5-9h0m5-10h0m17 17h0m5-10h0m5-11h0m10 28h0m6-11h0m5-11h0m16 18h0m5-12h0m5-12h0m15 18h0m6-13h0m15 18h0m5-13h0m15 18h0m5-14h0m5-13h0m14 18h0m6-14h0m14 18h0m5-15h0m13 19h0m6-16h0m18 4h0m18 3h0m5-17h0m12 19h0m5-17h0m12 20h0m5-18h0m11 20h0m6-18h0m10 20h0m6-18h0m10 20h0m5-19h0m15 2h0m14 1h0m13 0h0m13 2h0m0-1h0m11 6h0m1-6h0m4-14h0m5 25h0m3-10h0m3-10h0m8 10h0m1-6h0m10 5h0m0 0h0m8 5h0m1-5h0m7 9h0m2-9h0m3-12h0m2 26h0m4-15h0m1-7h0m6 6h0m1-2h0m6 4h0m0-3h0m5 7h0m2-8h0m2 11h0m3 8h0m0-21h0m1 17h0m3 3h0m0 0h0m1-21h0m1-5h0m1 24h0m2-21h0m0 0h0m1 19h0m1-16h0m1 14h0m1-11h0m0-8h0m1 11h0m1-13h0m-1686 45h0m15 4h0m15-19h0m6 22h0m8 0h0m3-21h0m6 21h0m25-22h0m12 0h0m6 20h0m6-21h0m19 19h0m28-3h0m14-2h0m22 15h0m26-22h0m6 17h0m10-20h0m18-3h0m6 16h0m17-4h0m6 15h0m31-23h0m19-5h0m25 9h0m6 13h0m14-19h0m6 13h0m6 12h0m14-19h0m6 12h0m14-18h0m6 11h0m6 12h0m27 2h0m14-18h0m6 9h0m15-18h0m5 10h0m6 9h0m7 9h0m8-28h0m6 9h0m6 8h0m6 9h0m9-27h0m5 8h0m6 8h0m6 7h0m15-19h0m6 7h0m6 7h0m365-12h0m6-3h0m3 25h0m7-4h0m6-3h0m6-4h0m6-4h0m6-4h0m6-5h0m5-4h0m7 25h0m6-5h0m6-5h0m6-5h0m6-5h0m13 20h0m6-6h0m6-6h0m6-6h0m5-7h0m8 26h0m7-6h0m6-7h0m5-7h0m15 19h0m6-8h0m6-8h0m5-7h0m9 26h0m6-8h0m6-8h0m6-9h0m15 18h0m6-9h0m6-9h0m14 18h0m6-10h0m6-10h0m15 19h0m6-11h0m14 19h0m6-12h0m6-11h0m14 19h0m6-12h0m6-12h0m14 18h0m6-12h0m14 18h0m6-13h0m19 6h0m6-14h0m13 19h0m6-15h0m13 20h0m6-15h0m18 4h0m6-16h0m12 20h0m5-16h0m12 19h0m6-16h0m10 20h0m7-17h0m16 3h0m16 2h0m15 2h0m14 2h0m6-19h0m8 21h0m6-19h0m8 21h0m6-20h0m7 21h0m6-20h0m6 21h0m4-15h0m2-5h0m6 21h0m3-10h0m3-11h0m5 21h0m1-5h0m5-15h0m1-5h0m3 26h0m0 0h0m6-21h0m0 0h0m4 21h0m5-17h0m1-4h0m3 21h0m3-12h0m3-10h0m2 22h0m2-7h0m4-15h0m2 21h0m1-2h0m5 4h0m0-26h0m0 2h0m1 22h0m5-20h0m1 19h0m0-22h0m4 7h0m2 13h0m0-21h0m3 12h0m2 8h0m1-4h0m0-17h0m3 20h0m0 0h0m2 3h0m2 3h0m0-8h0m2-2h0m2-16h0m1 14h0m1-11h0m0 3h0m-1663 35h0m5 1h0m30 1h0m18 0h0m11-1h0m22-2h0m20 18h0m6-21h0m13-2h0m14-2h0m52 10h0m16-4h0m7 17h0m10-20h0m7 16h0m52-15h0m7 15h0m11-20h0m26 8h0m19-6h0m26 6h0m6 12h0m20-8h0m7 11h0m26 2h0m13-20h0m14 21h0m13-20h0m6 9h0m7 9h0m20-11h0m7 9h0m13-20h0m6 8h0m7 8h0m19-13h0m7 7h0m7 7h0m361-18h0m7 23h0m0-26h0m8 23h0m7-4h0m7-4h0m6-3h0m7-5h0m7-4h0m6-4h0m3 26h0m7-5h0m7-5h0m7-5h0m7-5h0m6-6h0m5 27h0m7-6h0m7-6h0m6-6h0m7-6h0m12 20h0m7-7h0m7-7h0m6-7h0m13 20h0m7-8h0m6-8h0m13 20h0m7-8h0m7-9h0m6-8h0m6 28h0m8-9h0m6-9h0m7-10h0m13 20h0m7-11h0m7-10h0m13 20h0m6-11h0m13 19h0m7-11h0m7-12h0m12 20h0m7-12h0m7-12h0m13 19h0m6-13h0m12 20h0m7-13h0m7-14h0m12 20h0m7-14h0m11 20h0m7-15h0m18 5h0m7-15h0m10 20h0m7-15h0m10 20h0m7-16h0m17 3h0m16 4h0m7-17h0m9 20h0m6-17h0m9 20h0m6-18h0m8 21h0m7-18h0m7 21h0m7-19h0m13 2h0m13 2h0m12 1h0m12 1h0m3-10h0m8 11h0m2-5h0m8 6h0m1 0h0m8 5h0m1-5h0m5-16h0m1 26h0m3-10h0m4-11h0m5 11h0m2-6h0m5 6h0m1-2h0m5 5h0m1-3h0m4 7h0m3-8h0m1 12h0m3-26h0m1 13h0m3-10h0m2 9h0m2-5h0m3 4h0m0-1h0m2 4h0m1 3h0m0 8h0m0-16h0m1 11h0m0 3h0m2-16h0m2-2h0m2-8h0m0 3h0m-1655 30h0m5 1h0m13 23h0m13 0h0m26-1h0m20-2h0m3-21h0m7 20h0m12-2h0m12-2h0m26-5h0m22 15h0m7-21h0m15-3h0m7 17h0m8-21h0m40 8h0m8 15h0m9-20h0m7 15h0m17-6h0m8 15h0m10-21h0m8 14h0m10-20h0m8 14h0m18-7h0m26 5h0m19-8h0m7 11h0m8 12h0m11-21h0m8 11h0m8 11h0m11-20h0m7 10h0m8 10h0m11-21h0m8 10h0m19-11h0m7 8h0m8 9h0m11-21h0m8 8h0m7 8h0m19-13h0m7 7h0m8 7h0m361 7h0m3-27h0m5 23h0m8-3h0m8-3h0m8-4h0m7-4h0m8-4h0m7 22h0m0-27h0m8 23h0m8-5h0m7-5h0m8-5h0m7-5h0m9 22h0m8-6h0m8-6h0m7-7h0m8-6h0m2 28h0m8-7h0m8-7h0m7-7h0m8-7h0m3 28h0m8-7h0m7-8h0m8-8h0m11 21h0m7-9h0m8-9h0m11 21h0m8-9h0m8-10h0m7-10h0m11 21h0m8-10h0m8-11h0m11 20h0m8-11h0m19 10h0m7-12h0m11 20h0m8-12h0m7-12h0m11 20h0m8-13h0m18 7h0m8-13h0m10 20h0m8-14h0m17 6h0m8-15h0m9 21h0m8-15h0m9 20h0m8-15h0m16 4h0m8-16h0m8 21h0m8-17h0m8 21h0m7-17h0m7 21h0m8-18h0m15 4h0m14 2h0m13 3h0m7-19h0m6 21h0m7-19h0m5 22h0m7-20h0m4 21h0m8-20h0m3 22h0m8-20h0m2-5h0m0 26h0m1 0h0m7-21h0m0 1h0m8 5h0m2-5h0m6 10h0m3-9h0m3 14h0m5-14h0m1 19h0m2-26h0m5 7h0m1-2h0m5 4h0m1-3h0m4 8h0m3-8h0m1 12h0m1 8h0m2-4h0m1-17h0m2 20h0m0 0h0m3-1h0m0-20h0m2-4h0m1 22h0m1-19h0m1 0h0m1 4h0m0 13h0m1-2h0m1-8h0m0 3h0m0 2h0m0-14h0m3-2h0m2-2h0m-1620 48h0m14 1h0m25-2h0m20-3h0m11-2h0m11-2h0m25-5h0m13-3h0m9 19h0m27-8h0m24 13h0m7-22h0m8 17h0m32-11h0m16-6h0m26 8h0m8 14h0m9-21h0m8 14h0m35-16h0m18 25h0m17-9h0m18-10h0m9 11h0m44-11h0m9 9h0m9 10h0m17-13h0m9 9h0m9-22h0m8 9h0m9 8h0m9 7h0m8-22h0m9 8h0m8 7h0m9 6h0m348-2h0m9-3h0m8-3h0m9-4h0m8-3h0m9-4h0m4 23h0m4-27h0m5 23h0m9-5h0m8-4h0m9-5h0m8-5h0m7 22h0m1-28h0m8 23h0m8-6h0m9-6h0m8-7h0m8 23h0m9-7h0m8-7h0m8-7h0m9 22h0m9-8h0m8-8h0m9-8h0m9 22h0m8-9h0m9-9h0m18 12h0m8-9h0m8-10h0m10 21h0m9-10h0m8-11h0m10 21h0m8-11h0m9-11h0m9 21h0m9-12h0m18 9h0m8-12h0m9 21h0m9-13h0m8-13h0m9 21h0m9-14h0m8 21h0m9-14h0m8-14h0m9 21h0m8-15h0m8 21h0m9-15h0m16 6h0m8-16h0m8 21h0m8-17h0m7 22h0m8-17h0m15 4h0m14 4h0m9-17h0m5 21h0m9-18h0m4 21h0m9-18h0m12 3h0m13 2h0m11 2h0m11 2h0m10 1h0m8 6h0m2-4h0m6-16h0m2-5h0m1 22h0m4-12h0m4 12h0m0-21h0m3 15h0m5 7h0m1-2h0m0-20h0m5 25h0m1-3h0m1-22h0m5 21h0m1-18h0m1-3h0m4 8h0m0 13h0m3-21h0m1 12h0m1 8h0m2-4h0m1-17h0m1 20h0m0 0h0m2 4h0m1 3h0m1-8h0m3-2h0m2-2h0m2-13h0m1 3h0m0 3h0m-1591 32h0m14-1h0m27 18h0m10-1h0m10-2h0m1-22h0m12-2h0m21 16h0m35 10h0m4-21h0m14-5h0m9 17h0m15-5h0m30-11h0m9 16h0m42 1h0m16-8h0m10 14h0m7-21h0m9 13h0m10 13h0m7-22h0m9 13h0m18-10h0m9 12h0m8-22h0m9 12h0m10 11h0m8-22h0m35 9h0m10 10h0m9 9h0m8-22h0m9 9h0m9 8h0m8-22h0m18 16h0m10 8h0m7-22h0m9 7h0m9 7h0m9 7h0m7-23h0m331 17h0m9-2h0m10-3h0m9-4h0m9-3h0m9-4h0m3 24h0m10-4h0m9-5h0m9-4h0m10-5h0m9-5h0m4 23h0m10-6h0m10-6h0m9-6h0m9-6h0m6 23h0m9-7h0m10-7h0m9-7h0m7 23h0m9-8h0m10-8h0m9-8h0m7 22h0m10-8h0m9-9h0m9-9h0m8 21h0m9-9h0m9-10h0m8 22h0m10-10h0m9-11h0m8 22h0m9-11h0m10-11h0m7 21h0m10-12h0m9-12h0m8 22h0m9-12h0m17 8h0m10-13h0m7 22h0m9-14h0m17 8h0m9-15h0m7 22h0m9-15h0m16 7h0m9-16h0m6 22h0m10-16h0m15 5h0m14 5h0m9-16h0m5 21h0m9-17h0m14 4h0m13 4h0m13 3h0m9-19h0m2 22h0m10-19h0m2 22h0m9-19h0m2 21h0m9-19h0m1 21h0m9-19h0m10 1h0m5 11h0m4-10h0m2 15h0m3-26h0m3 12h0m3-6h0m5 7h0m1-2h0m5 5h0m1-3h0m3 7h0m3-7h0m1 12h0m5-26h0m0 14h0m4-10h0m1 9h0m2-4h0m2 3h0m0 17h0m1-17h0m1 4h0m1 3h0m0 3h0m0 3h0m1-14h0m3-2h0m3-2h0m3-7h0m-1559 30h0m37 15h0m20-5h0m36-10h0m46 26h0m4-22h0m10 16h0m14-5h0m25 9h0m5-22h0m36 22h0m5-22h0m10 14h0m26 5h0m17-10h0m10 13h0m6-22h0m10 12h0m10 12h0m7-23h0m10 12h0m16-12h0m10 11h0m10 10h0m7-22h0m10 10h0m10 9h0m26-4h0m10 8h0m6-22h0m10 8h0m10 8h0m15-15h0m10 7h0m11 7h0m10 6h0m4-23h0m20 12h0m297 2h0m10-2h0m21-6h0m9-3h0m1 24h0m9-28h0m1 24h0m10-4h0m11-4h0m10-4h0m10-5h0m10-5h0m3 23h0m10-5h0m10-6h0m10-6h0m10-6h0m4 23h0m11-6h0m10-7h0m10-7h0m5 23h0m10-8h0m10-8h0m10-8h0m6 23h0m10-8h0m10-9h0m10-9h0m6 22h0m11-9h0m10-10h0m6 22h0m10-10h0m10-10h0m6 22h0m11-11h0m10-11h0m6 22h0m10-12h0m10-12h0m6 22h0m11-12h0m10-13h0m6 22h0m10-13h0m16 9h0m10-14h0m6 22h0m10-15h0m15 8h0m10-15h0m5 22h0m10-16h0m15 7h0m10-16h0m4 22h0m10-17h0m4 22h0m10-17h0m14 5h0m10-17h0m2 22h0m10-18h0m3 22h0m10-19h0m1 22h0m11-18h0m11 3h0m11 3h0m10 2h0m9 2h0m9 2h0m1-22h0m7 23h0m2-21h0m2 15h0m4 7h0m1-2h0m2-19h0m3 24h0m1-2h0m3-22h0m1-1h0m3 23h0m2-18h0m1-3h0m2 21h0m1-13h0m4 4h0m0 8h0m0-20h0m2 16h0m3 4h0m0 0h0m0-20h0m1 24h0m3-5h0m2-20h0m1 18h0m1-22h0m1 21h0m1-17h0m0-1h0m1 4h0m0 12h0m1-8h0m0 5h0m1-2h0m1-12h0m3-1h0m-1515 38h0m18-4h0m2 21h0m9-2h0m10-3h0m10-3h0m23-8h0m23 13h0m2-22h0m11 17h0m13-6h0m11 17h0m3-22h0m39 2h0m11 15h0m4-22h0m10 14h0m26 6h0m5-22h0m10 13h0m12 13h0m4-22h0m11 12h0m11 12h0m15-10h0m16-11h0m22 22h0m5-23h0m10 11h0m12 10h0m4-23h0m11 10h0m11 9h0m4-22h0m11 9h0m11 8h0m11 9h0m4-23h0m33 23h0m3-23h0m11 7h0m22 13h0m13-18h0m11 6h0m11 6h0m265-7h0m11-2h0m11-3h0m8 21h0m2-23h0m9 20h0m2-23h0m10 20h0m11-4h0m11-3h0m11-5h0m10-4h0m1 23h0m10-28h0m1 24h0m11-5h0m11-6h0m11-5h0m11-6h0m2 23h0m11-6h0m11-7h0m11-7h0m3 23h0m11-7h0m11-8h0m11-8h0m4 23h0m11-8h0m11-9h0m11-9h0m4 23h0m11-9h0m11-10h0m4 23h0m12-10h0m11-11h0m15 12h0m11-11h0m16 11h0m11-12h0m15 10h0m11-12h0m4 22h0m12-13h0m11-13h0m4 22h0m11-13h0m15 8h0m11-15h0m3 23h0m11-15h0m15 7h0m11-16h0m3 23h0m11-16h0m13 6h0m13 5h0m11-17h0m2 22h0m11-17h0m12 4h0m12 4h0m11 4h0m10 3h0m1-21h0m9 24h0m1-21h0m10 2h0m10 3h0m9 1h0m8 2h0m7 1h0m1-2h0m5 6h0m1-3h0m3 8h0m3 5h0m1-12h0m6 0h0m1-14h0m3 5h0m1 8h0m2-4h0m2 4h0m0 0h0m1 4h0m1 3h0m0 3h0m2-11h0m3-1h0m3-2h0m1-2h0m2-8h0m0 3h0m0 3h0m-1460 34h0m10-3h0m12 18h0m10-25h0m12 17h0m11-4h0m12-5h0m12-6h0m12 17h0m13-6h0m27-14h0m11 15h0m52 11h0m3-22h0m11 13h0m42-8h0m11 12h0m15-11h0m12 11h0m27-2h0m12 9h0m2-22h0m12 9h0m14-14h0m12 9h0m24 17h0m13-16h0m12 8h0m13-16h0m24 13h0m12 6h0m12-18h0m0 24h0m23-13h0m12 5h0m12 4h0m38-10h0m12 3h0m11 3h0m13 2h0m12 2h0m24 4h0m81-21h0m17 20h0m6-22h0m6 21h0m6-23h0m6 21h0m5-23h0m12-2h0m7 20h0m12-3h0m12-3h0m12-3h0m12-4h0m10 19h0m12-4h0m12-5h0m11-5h0m12-5h0m12 17h0m0-23h0m12 17h0m12-6h0m12-7h0m1 23h0m12-7h0m12-7h0m11-8h0m2 23h0m12-8h0m12-8h0m12-9h0m2 23h0m12-9h0m12-10h0m14 14h0m12-11h0m12-10h0m3 23h0m12-11h0m11-11h0m3 22h0m12-11h0m12-12h0m3 22h0m12-12h0m15 10h0m11-13h0m15 9h0m11-14h0m3 22h0m12-14h0m14 8h0m11-15h0m2 22h0m12-15h0m13 7h0m12-16h0m1 22h0m12-16h0m12 5h0m12 5h0m11 5h0m1-22h0m10 26h0m1-22h0m11 4h0m11 4h0m10 3h0m9 3h0m9 2h0m3-21h0m5 23h0m3-21h0m4 23h0m4-21h0m3 22h0m5-21h0m2 22h0m4-18h0m1 18h0m0-21h0m2 8h0m3 5h0m0 8h0m1-20h0m2 16h0m2 4h0m0 0h0m2-20h0m2 19h0m3-1h0m0-18h0m3-4h0m0 21h0m2-17h0m0 0h0m1 4h0m0 6h0m1-3h0m2-8h0m3-2h0m2-1h0m-1389 34h0m35 6h0m13 16h0m12-7h0m12-6h0m13-8h0m13-7h0m0 22h0m26-17h0m13 14h0m14-9h0m14-10h0m12 12h0m14-10h0m27 0h0m25 22h0m26-3h0m40-18h0m0 23h0m13-14h0m12 8h0m13-16h0m0 23h0m38-24h0m0 23h0m12-17h0m13 6h0m12 6h0m24-13h0m69 0h0m25 6h0m13 2h0m13 2h0m13 1h0m11-20h0m2 21h0m10-20h0m2 21h0m11-21h0m2 21h0m10-21h0m3 21h0m9-21h0m4 21h0m9-22h0m4 22h0m8-22h0m5 21h0m12-2h0m13-1h0m26-5h0m12-3h0m13-3h0m8 20h0m4-23h0m9 19h0m3-23h0m10 19h0m13-4h0m12-5h0m10 18h0m3-23h0m10 18h0m2-23h0m11 17h0m13-6h0m11 17h0m1-23h0m12 16h0m13-7h0m13-7h0m12 15h0m13-8h0m13 15h0m0-23h0m13 14h0m13-9h0m12-10h0m1 23h0m13-10h0m13-10h0m1 23h0m13-11h0m12-11h0m1 23h0m13-11h0m13-12h0m1 23h0m13-12h0m12-13h0m1 23h0m13-13h0m13-13h0m1 22h0m13-13h0m13 9h0m12-15h0m1 23h0m13-15h0m13 7h0m12 7h0m0-22h0m13 7h0m12 6h0m11 6h0m1-22h0m10 27h0m2-22h0m11 5h0m11 5h0m10 4h0m10 3h0m3-21h0m6 25h0m3-22h0m5 25h0m5-22h0m8 3h0m8 2h0m8 2h0m7 1h0m4 13h0m2-12h0m6 1h0m2-13h0m3 5h0m0 8h0m2-4h0m2 4h0m0 0h0m1 4h0m1 3h0m0 3h0m2-11h0m4-1h0m2-1h0m4-13h0m0 3h0m0 3h0m0 3h0m-1332 25h0m24 9h0m12-6h0m12-8h0m2 23h0m11-8h0m13-8h0m13 14h0m13-9h0m39-6h0m1 22h0m26-21h0m26 0h0m14 11h0m40 7h0m13-14h0m13 9h0m14 8h0m12-14h0m25-8h0m14 7h0m24-10h0m115-3h0m12 24h0m1-21h0m13 24h0m1-21h0m13 23h0m0-21h0m13 2h0m14 1h0m13 1h0m13 1h0m14 0h0m27 0h0m27-2h0m32 17h0m14-3h0m7-22h0m7 20h0m6-23h0m8 19h0m13-3h0m14-4h0m13-4h0m9 18h0m4-23h0m24 13h0m13-6h0m11 17h0m2-23h0m11 17h0m14-7h0m13-7h0m12 16h0m1-23h0m13 15h0m13-8h0m12 15h0m14-9h0m13 13h0m0-22h0m13 13h0m14-10h0m13 13h0m13-11h0m13 12h0m14-12h0m13 11h0m13-12h0m13 10h0m13 10h0m1-22h0m13 9h0m12 9h0m1-23h0m13 9h0m12 8h0m12 7h0m2-22h0m12 8h0m11 6h0m12 7h0m2-22h0m8 27h0m3-21h0m11 5h0m11 5h0m10 5h0m3-21h0m6 25h0m4-21h0m10 4h0m9 4h0m8 3h0m8 2h0m8 3h0m6 1h0m0-22h0m7 24h0m0-22h0m5 23h0m2-21h0m3 21h0m3-4h0m0-16h0m2 20h0m0 0h0m4 0h0m0-20h0m3 19h0m2-18h0m1 17h0m2-21h0m0 19h0m1-15h0m0 0h0m1 4h0m0 6h0m1-3h0m2-8h0m4-1h0m2-1h0m2-2h0m2-2h0m-1218 34h0m27 4h0m26 2h0m13-10h0m14 11h0m12-11h0m41 8h0m26-4h0m241 13h0m15 2h0m14 2h0m15 1h0m13-19h0m14 1h0m2 20h0m12-20h0m2 20h0m12-20h0m3 20h0m11-21h0m3 20h0m11-20h0m4 19h0m10-21h0m5 20h0m9-21h0m5 19h0m14-2h0m15-2h0m14-3h0m28-7h0m9 18h0m5-23h0m9 18h0m14-4h0m24 12h0m5-23h0m10 17h0m14-6h0m14-7h0m11 16h0m3-23h0m11 16h0m15-8h0m11 15h0m3-23h0m11 14h0m12 14h0m3-22h0m12 13h0m14-9h0m12 12h0m2-22h0m12 12h0m12 12h0m2-22h0m13 11h0m12 11h0m2-22h0m12 11h0m13 10h0m2-22h0m12 10h0m12 9h0m12 9h0m2-22h0m12 9h0m12 8h0m2-22h0m12 8h0m11 7h0m11 7h0m4-22h0m11 7h0m10 6h0m11 6h0m9 5h0m5-21h0m10 5h0m9 4h0m9 4h0m8 4h0m6-21h0m2 24h0m6-20h0m1 23h0m7-21h0m8 3h0m6 2h0m7 1h0m5 1h0m5 1h0m5 0h0m0 4h0m0 7h0m0-11h0m1 8h0m3-8h0m3-1h0m3-1h0m4-6h0m1-7h0m0 4h0m-777 35h0m15 2h0m15 1h0m15 1h0m15 1h0m15 0h0m15 0h0m15-1h0m15-1h0m16-2h0m5 19h0m15-2h0m10-21h0m6 19h0m8-22h0m7 19h0m15-4h0m15-3h0m16-5h0m8 18h0m7-22h0m8 17h0m6-22h0m24 11h0m10 16h0m5-22h0m10 16h0m5-22h0m10 15h0m15-7h0m11 15h0m4-23h0m11 15h0m11 14h0m4-22h0m11 13h0m15-9h0m11 13h0m4-22h0m12 13h0m11 12h0m4-22h0m11 11h0m11 11h0m4-22h0m12 11h0m11 11h0m4-22h0m11 10h0m12 10h0m3-22h0m12 9h0m11 9h0m10 8h0m5-21h0m11 8h0m10 7h0m5-21h0m11 7h0m10 7h0m10 6h0m5-21h0m4 27h0m6-21h0m9 5h0m9 5h0m9 5h0m6-21h0m2 25h0m7-21h0m1 24h0m7-20h0m8 3h0m7 3h0m7 2h0m6 2h0m6 2h0m3-21h0m2 21h0m4 8h0m0-7h0m0-21h0m4 21h0m2-19h0m1 18h0m3-1h0m1-17h0m3 14h0m1-3h0m0-10h0m1 4h0m0 3h0m3-8h0m4 0h0m2-1h0m-742 28h0m16 1h0m16 1h0m2 19h0m16 1h0m13-19h0m3 19h0m13-19h0m3 18h0m16-1h0m12-19h0m4 18h0m49-6h0m15-4h0m16-3h0m7 17h0m9-21h0m7 17h0m16-5h0m16-5h0m9 16h0m7-21h0m9 16h0m16-6h0m9 15h0m7-22h0m9 15h0m16-7h0m10 14h0m6-22h0m10 14h0m16-9h0m10 13h0m6-22h0m10 13h0m11 12h0m5-21h0m11 11h0m16-10h0m10 11h0m16-11h0m11 10h0m10 10h0m6-21h0m10 9h0m11 9h0m5-21h0m11 8h0m10 8h0m9 8h0m7-21h0m10 7h0m9 7h0m6-21h0m3 27h0m7-20h0m9 6h0m9 5h0m8 5h0m8 4h0m0-24h0m8 5h0m8 4h0m8 3h0m7 4h0m6 2h0m6 3h0m4-22h0m2 23h0m4-20h0m1 21h0m4 1h0m1-20h0m3 20h0m3-19h0m1 19h0m3-1h0m1-17h0m1 15h0m3-4h0m1-10h0m3 0h0m4-1h0m3-1h0m2-1h0m2-2h0m1-3h0m-681 38h0m16 0h0m3 18h0m14-18h0m3 18h0m14-19h0m3 18h0m17-1h0m17-2h0m18-2h0m11-19h0m17-3h0m5 17h0m17-3h0m17-4h0m7 16h0m10-21h0m7 16h0m17-5h0m17-5h0m16-6h0m9 15h0m17-7h0m8 14h0m17-7h0m17-8h0m9 13h0m8-21h0m9 12h0m10 13h0m7-21h0m10 11h0m17-9h0m9 11h0m7-21h0m10 10h0m10 11h0m7-21h0m10 10h0m9 9h0m10 9h0m7-21h0m10 9h0m9 8h0m7-21h0m10 8h0m9 7h0m9 7h0m8-20h0m9 6h0m8 6h0m8 6h0m8 5h0m1-25h0m8 5h0m8 5h0m7 4h0m7 3h0m6 4h0m4-23h0m2 25h0m5-21h0m1 23h0m4 1h0m1-21h0m6 2h0m5 2h0m5 1h0m5 1h0m4 0h0m3 0h0m3-1h0m-604 32h0m18-1h0m17-1h0m4 16h0m14-18h0m18-2h0m4 16h0m13-19h0m5 17h0m12-20h0m18-3h0m6 16h0m18-5h0m6 15h0m28-25h0m8 15h0m18-6h0m17-6h0m8 13h0m35-14h0m9 13h0m8 12h0m36-18h0m9 11h0m8-20h0m9 10h0m9 11h0m9-21h0m9 10h0m9 10h0m8 8h0m0-29h0m9 10h0m9 8h0m9 8h0m9-20h0m8 8h0m9 7h0m8 7h0m1-27h0m8 7h0m9 7h0m7 6h0m8 5h0m2-25h0m8 6h0m7 5h0m7 5h0m7 3h0m6 4h0m5-22h0m1 25h0m5 2h0m1-23h0m6 3h0m6 3h0m5 2h0m5 1h0m4 1h0m4 1h0m4 0h0m10-17h0m4 1h0m3-1h0m3 0h0m-566 31h0m22 14h0m19-2h0m4 15h0m14-17h0m5 15h0m14-18h0m5 15h0m13-18h0m18-4h0m6 14h0m6 14h0m13-18h0m6 14h0m12-19h0m7 13h0m11-19h0m7 14h0m7 12h0m12-19h0m7 13h0m11-19h0m8 12h0m7 12h0m11-19h0m8 11h0m8 11h0m10-19h0m8 11h0m11-20h0m8 11h0m8 10h0m10-19h0m8 9h0m9 10h0m7 8h0m3-28h0m8 9h0m8 9h0m8 8h0m10-19h0m8 7h0m8 7h0m11-19h0m7 7h0m8 7h0m7 5h0m7 5h0m4-23h0m7 5h0m7 5h0m7 5h0m6 3h0m5 3h0m1-24h0m4 27h0m2-23h0m6 3h0m6 3h0m5 3h0m5 1h0m4 2h0m14-16h0m4 1h0m4 0h0m-417 32h0m6 13h0m19-4h0m6 13h0m33-24h0m6 13h0m7 12h0m12-18h0m19-7h0m7 12h0m7 10h0m13-18h0m7 11h0m7 10h0m19-8h0m7 9h0m5-28h0m8 10h0m7 9h0m7 8h0m5-27h0m7 9h0m7 9h0m7 7h0m13-18h0m7 8h0m7 7h0m6 6h0m6-24h0m7 6h0m7 7h0m6 5h0m13-17h0m7 5h0m6 5h0m5 4h0m6 3h0m8-20h0m6 4h0m5 3h0m5 3h0m24-12h0m-361 30h0m46 2h0m6 12h0m20-6h0m20-7h0m6 11h0m6 10h0m14-17h0m7 9h0m20-8h0m12 17h0m21-8h0m6 7h0m20-10h0m20-10h0m6 7h0m6 5h0m20-11h0m6 5h0m26-7h0" stroke="#f8ce05" stroke-width="14" stroke-linecap="round" fill="none" opacity="1"/>
<path transform="scale(.1)" d="m4305 207h0m2 2h0m23 0h0m18-12h0m13 9h0m5-3h0m6-4h0m72 9h0m-372 18h0m29 13h0m44-11h0m13 7h0m5-24h0m7 15h0m4 2h0m4-15h0m19 9h0m9-4h0m4-7h0m3 2h0m32 3h0m33-2h0m7 20h0m5-10h0m3 9h0m0 0h0m48-23h0m16 8h0m3 3h0m11-4h0m13 19h0m1 1h0m3-24h0m13 2h0m16 7h0m18 12h0m13-12h0m11-11h0m17 27h0m1-3h0m4-7h0m26-2h0m15-1h0m-552 39h0m3-6h0m7 2h0m14-4h0m32-5h0m12 8h0m1-4h0m1-9h0m12 13h0m7-1h0m0 10h0m22-16h0m0 10h0m43-17h0m2-4h0m0 10h0m6 10h0m7-3h0m7-17h0m17 15h0m45-13h0m29 23h0m38 3h0m22 0h0m22-5h0m29-6h0m44 7h0m1-22h0m11 5h0m4-8h0m7 25h0m17-12h0m13-13h0m15 21h0m8-12h0m16 14h0m15 4h0m10-27h0m8 3h0m26 12h0m5 6h0m14-11h0m14 10h0m44 6h0m30 3h0m-700 21h0m0-16h0m7 10h0m76-3h0m30 4h0m3 5h0m9-14h0m31 10h0m8-1h0m1 11h0m5-20h0m2-5h0m0 26h0m14-6h0m7-16h0m37-3h0m42 22h0m0-16h0m7 3h0m12-4h0m7 13h0m15 6h0m0-18h0m2-3h0m29 0h0m18 12h0m4-12h0m32 22h0m11 1h0m17-5h0m46-20h0m6 20h0m0-10h0m8-12h0m10 18h0m5 8h0m6-3h0m3-3h0m13-12h0m33-2h0m7 8h0m9-2h0m34 3h0m7-11h0m36 3h0m11 20h0m0-20h0m10-2h0m22 9h0m65 12h0m-865 32h0m3 0h0m0-7h0m18-5h0m18-6h0m7 8h0m6-5h0m13 9h0m10-9h0m7-1h0m28-6h0m6 17h0m1-19h0m2 24h0m39-13h0m1 4h0m8-17h0m2 25h0m4-17h0m37 2h0m39 7h0m6-7h0m6 2h0m24 0h0m3-15h0m11 16h0m1-12h0m20 8h0m64 1h0m44-13h0m42 23h0m21 3h0m16-1h0m15-16h0m7 4h0m7 4h0m5 11h0m46-25h0m32 20h0m23-5h0m57 7h0m3 1h0m5-11h0m1 3h0m3 6h0m17-21h0m10 4h0m5-3h0m21 1h0m49 18h0m8-18h0m6 15h0m1-16h0m24 12h0m8-7h0m11 14h0m8-9h0m8 2h0m-925 32h0m1 7h0m37 1h0m23-19h0m25 2h0m2 13h0m7-9h0m6-2h0m85-5h0m18 12h0m7 1h0m22-15h0m40 6h0m18-7h0m6 21h0m1-5h0m46 6h0m26-5h0m12-18h0m15 2h0m56 25h0m66-18h0m45 4h0m61 7h0m17-14h0m3 18h0m32-10h0m2-16h0m11 19h0m14-14h0m1 19h0m23-12h0m29-8h0m8 7h0m16 9h0m37-3h0m1-3h0m0 15h0m18-9h0m7-15h0m24 12h0m7 12h0m45-12h0m6 5h0m2 7h0m31-15h0m15 0h0m10 7h0m1 3h0m13 2h0m-1043 25h0m26-19h0m2 14h0m8 0h0m20-14h0m4 20h0m4-14h0m18 10h0m1 4h0m5-6h0m5 13h0m3-7h0m55-6h0m14-15h0m19 25h0m2-21h0m8 23h0m14-18h0m5-6h0m31 20h0m7-1h0m39 1h0m3-19h0m6 15h0m9-18h0m28 8h0m1-2h0m17 17h0m46 2h0m20-20h0m3-1h0m3 0h0m23-3h0m10 2h0m84 12h0m28-3h0m5 1h0m6 1h0m19 1h0m23-15h0m1 17h0m11-16h0m4 1h0m16 25h0m43-13h0m17 3h0m29-8h0m13 5h0m25 7h0m2 0h0m8 5h0m23-12h0m1 5h0m16-12h0m10 18h0m37 1h0m4-21h0m13 21h0m9-24h0m4 22h0m34-1h0m38-5h0m1-20h0m11 0h0m9 12h0m9-10h0m40 24h0m10-1h0m-1077 19h0m3-13h0m1 6h0m1 18h0m2 2h0m11 2h0m19-17h0m17-11h0m7 17h0m26-18h0m11 6h0m2 3h0m9 20h0m29-9h0m29-11h0m61 20h0m10-7h0m39-18h0m6 0h0m3-3h0m8 15h0m12-5h0m13 13h0m52-13h0m28 10h0m5-15h0m34 13h0m34-11h0m0 3h0m52 8h0m0 7h0m1-4h0m5-22h0m33 0h0m21 1h0m11 25h0m43-18h0m0 6h0m3-9h0m69-3h0m0 22h0m0 4h0m20 1h0m18 0h0m41-21h0m13 3h0m1 18h0m4-12h0m18-14h0m18 26h0m7-16h0m7 4h0m17-12h0m15 7h0m8 6h0m68-11h0m9 15h0m38 0h0m5-7h0m8-6h0m33-5h0m7 19h0m14-21h0m12 11h0m19-2h0m15 17h0m-1173 29h0m21-23h0m2 22h0m13-16h0m3-2h0m3 8h0m26-12h0m24 21h0m7-22h0m1 22h0m9-14h0m11-8h0m77 8h0m5 13h0m15-14h0m2 3h0m14 7h0m2 0h0m29 5h0m1-23h0m30 24h0m9-6h0m2-17h0m33 2h0m38 4h0m1 2h0m9 12h0m0 2h0m9-23h0m16 1h0m32 16h0m3-12h0m0 19h0m51-2h0m20-24h0m2 20h0m17-2h0m4 5h0m29-23h0m13 23h0m9-3h0m47-8h0m3 15h0m49-21h0m14 17h0m82-8h0m14 11h0m2-8h0m25 0h0m19-17h0m19 23h0m65-23h0m9 2h0m17 9h0m7 6h0m8 2h0m14 9h0m7-15h0m22-14h0m13 24h0m5-13h0m17 12h0m21-19h0m58 1h0m27 16h0m7-19h0m1 1h0m7 0h0m6 24h0m4-9h0m8 1h0m-1209 23h0m8 12h0m36-18h0m1-5h0m12 28h0m48-17h0m15 7h0m2-2h0m15 12h0m5-24h0m17 7h0m8-1h0m0 17h0m14-11h0m16 10h0m5-20h0m60 21h0m23-18h0m10 15h0m3 3h0m0-21h0m6-7h0m8 3h0m28 17h0m3 7h0m48-24h0m2 4h0m40 7h0m1-9h0m1 4h0m8 13h0m0-6h0m39 6h0m0-16h0m1 21h0m22-4h0m5-23h0m5 21h0m6 8h0m12-7h0m4 5h0m12-7h0m2-5h0m32-8h0m4 6h0m29 3h0m0-10h0m15 0h0m19 0h0m1 15h0m13-19h0m100-1h0m7 7h0m9-8h0m0 21h0m16-4h0m105 1h0m2-17h0m3 25h0m10-9h0m3-8h0m13-9h0m1 21h0m33-3h0m5 0h0m3 1h0m4-17h0m15 9h0m21 14h0m23-4h0m19-21h0m0 12h0m16 14h0m22-2h0m16-15h0m31-6h0m6 16h0m2-3h0m3-13h0m45 25h0m0-26h0m35 3h0m-1280 53h0m21-8h0m28 9h0m1-11h0m16-16h0m25-1h0m8 0h0m10 25h0m8-11h0m49 10h0m8-16h0m14 10h0m15-13h0m16 10h0m31-1h0m11 13h0m4-24h0m44 10h0m16-10h0m2 0h0m5 17h0m40-21h0m13 29h0m51-7h0m23-19h0m27 11h0m2 15h0m29-24h0m4-5h0m4 21h0m8 1h0m0-21h0m10 10h0m3 14h0m4-12h0m62-7h0m6-3h0m21 24h0m16-15h0m14-7h0m2 6h0m65 18h0m12-18h0m1 6h0m45-4h0m12-7h0m28 21h0m28-21h0m2 7h0m1-11h0m21 19h0m21 2h0m42 5h0m27-7h0m20-17h0m65 9h0m15-9h0m25-1h0m2 0h0m11 10h0m18-8h0m23-5h0m1 22h0m21 6h0m1-27h0m24 18h0m2 10h0m27-24h0m7 2h0m26 6h0m9-4h0m8 16h0m8 1h0m1-24h0m9 27h0m2-11h0m3 10h0m26 0h0m-1320 25h0m3-14h0m1 0h0m0-1h0m10-3h0m9 18h0m3-21h0m17 18h0m9 4h0m12-18h0m8 23h0m7-29h0m14 7h0m4 8h0m22-3h0m12-4h0m3 8h0m32-15h0m14 9h0m11-10h0m81 8h0m25 18h0m2 2h0m14-9h0m21 9h0m11-19h0m0 6h0m4 4h0m29-19h0m5 18h0m11-18h0m18 21h0m6 1h0m13 7h0m16-13h0m55-6h0m15-4h0m1 15h0m4-8h0m15-4h0m48 6h0m3-15h0m23 19h0m13-1h0m20-8h0m15 14h0m15-14h0m1 0h0m8-7h0m46 18h0m5-6h0m19 3h0m11 2h0m29 6h0m32-14h0m1 9h0m14 4h0m8-12h0m35-3h0m55 14h0m7-23h0m62-1h0m15 10h0m9 3h0m5-13h0m47 8h0m16 19h0m6-3h0m23-2h0m2 2h0m42-6h0m8 5h0m1-16h0m6-1h0m9 15h0m1 5h0m4-14h0m23-3h0m3 15h0m20-1h0m7-19h0m14 25h0m10-15h0m2-3h0m18-2h0m-1298 36h0m24-15h0m11 29h0m11-4h0m3-13h0m18 7h0m11 0h0m3-16h0m3-1h0m4 24h0m59-15h0m27 2h0m5-9h0m34 13h0m1-14h0m4 23h0m25-5h0m12-14h0m12 5h0m16 17h0m3-17h0m1-1h0m1 12h0m39 3h0m14-9h0m8-10h0m12 4h0m8 2h0m23 14h0m6-19h0m14-7h0m0 22h0m3-10h0m8-1h0m31 16h0m40-15h0m72 4h0m8 6h0m20-11h0m2 8h0m26 6h0m5-25h0m31 7h0m19 17h0m2-17h0m17-6h0m19 9h0m3 17h0m3-8h0m5 6h0m44-12h0m25 4h0m76 11h0m3-21h0m4 17h0m5-14h0m19 9h0m3-20h0m15 6h0m13 14h0m22 3h0m1-7h0m12 7h0m6-14h0m6 3h0m12-5h0m6-5h0m34 13h0m19 9h0m23-9h0m5-14h0m18 9h0m8 18h0m5-8h0m3-11h0m40 6h0m12 12h0m23-1h0m4-20h0m26 13h0m17 7h0m6-17h0m37 11h0m7-6h0m71-4h0m13 19h0m-1436 15h0m10 1h0m30-6h0m20 4h0m1 14h0m1-6h0m58-6h0m12-4h0m8 6h0m38 5h0m11-15h0m22 3h0m23 3h0m52-8h0m10-3h0m110 27h0m5-5h0m57-9h0m17 14h0m9-19h0m34 16h0m16 0h0m32-23h0m12 21h0m0-24h0m12 25h0m6-1h0m4-19h0m16 14h0m9-16h0m5 8h0m53-6h0m1 23h0m16-6h0m19-9h0m5-9h0m1 14h0m14 4h0m5-9h0m58-11h0m34 25h0m8-7h0m8-16h0m28 23h0m5-18h0m3-2h0m35 5h0m42 6h0m1-8h0m9 4h0m42-8h0m5 19h0m8-11h0m2 9h0m49-11h0m30 0h0m12-10h0m20 6h0m6 17h0m28 4h0m3-27h0m3 3h0m28 13h0m35 9h0m2-2h0m3 3h0m13-8h0m9 7h0m2-24h0m28 7h0m5 5h0m6-14h0m26 24h0m2-21h0m2 11h0m2-2h0m16 11h0m16-18h0m1 21h0m7-10h0m18-11h0m2-6h0m31 19h0m-1453 16h0m0 9h0m8 0h0m21 4h0m32 6h0m21-20h0m9 2h0m7 15h0m8-14h0m7 7h0m9-2h0m31 17h0m34-17h0m19 3h0m27-6h0m12 19h0m12-13h0m4-8h0m31 1h0m2 4h0m41 4h0m12 9h0m48-16h0m8 12h0m11 1h0m5-21h0m63 5h0m20 21h0m3-26h0m21 14h0m7 1h0m4 4h0m62-13h0m5 8h0m6 13h0m2-11h0m12-17h0m5 9h0m19 13h0m26-21h0m14 6h0m9 8h0m14 6h0m7-20h0m9 25h0m29-21h0m22 24h0m3-22h0m7 1h0m13 1h0m31 3h0m12 3h0m13-7h0m1 20h0m4-5h0m3-22h0m42 19h0m2-18h0m51 7h0m1 10h0m6 9h0m14-2h0m27-24h0m25 15h0m0-8h0m31-5h0m10 7h0m33 7h0m12 2h0m8-1h0m13-1h0m21-10h0m38-3h0m49-4h0m4 7h0m9 18h0m22-8h0m31-16h0m37 2h0m15-4h0m19 20h0m5 7h0m1-15h0m11-12h0m18 23h0m8 1h0m32-7h0m1 11h0m7-10h0m7-10h0m0 7h0m8 6h0m-1465 38h0m9-23h0m38 2h0m70 15h0m10-14h0m2-1h0m9 15h0m11-14h0m15 5h0m20 12h0m7-19h0m43 3h0m28-3h0m42 18h0m13-19h0m0 15h0m52-8h0m36-9h0m9 10h0m83 1h0m2-12h0m9 2h0m14 8h0m37-5h0m8 14h0m4-1h0m0-13h0m1 10h0m46-13h0m4-1h0m4 24h0m4-26h0m0 24h0m37-19h0m4 14h0m10-5h0m35 3h0m5 9h0m13-10h0m0 10h0m24-19h0m11 1h0m9 12h0m2-21h0m5 24h0m31-17h0m26 15h0m7-12h0m32 12h0m24-12h0m8-10h0m10 14h0m15-13h0m10 16h0m40 3h0m18 2h0m2-12h0m31 3h0m13-8h0m11 9h0m17-15h0m4 14h0m7-13h0m58 27h0m1-7h0m17-19h0m23 26h0m39-28h0m6 17h0m20-17h0m0 11h0m77 11h0m11-17h0m18-2h0m20 3h0m1-4h0m22 12h0m69-8h0m-1537 38h0m10 0h0m0-11h0m6 4h0m3 8h0m7-8h0m17 2h0m48 18h0m73-4h0m23-10h0m1-1h0m17 15h0m10-25h0m13 27h0m37-8h0m8-18h0m40 24h0m3-19h0m66 1h0m83 2h0m51 16h0m6-13h0m25-11h0m1 22h0m5-14h0m10 10h0m32-17h0m20 5h0m3 10h0m22-8h0m5-5h0m10 11h0m2-10h0m7 19h0m3-26h0m18 22h0m13-16h0m27 6h0m3 2h0m5 11h0m53-2h0m16-23h0m25 25h0m9-21h0m19 12h0m5 4h0m2-14h0m19 19h0m4 0h0m8-20h0m4 21h0m3-8h0m9-10h0m2 14h0m0 0h0m15 3h0m10 4h0m12-29h0m46 8h0m36 6h0m36 9h0m9 0h0m6-11h0m7-12h0m7 12h0m21 0h0m1-9h0m1 4h0m9 18h0m1 1h0m50-13h0m11 11h0m3-9h0m26 10h0m17-3h0m9-13h0m3 19h0m10-23h0m31 1h0m11 14h0m13-4h0m29 12h0m3-19h0m11 16h0m14-13h0m23 5h0m12-16h0m20 3h0m41 11h0m14 6h0m29-13h0m5 20h0m18-16h0m2-7h0m10 21h0m20-2h0m-1573 22h0m19-11h0m14-5h0m32 2h0m11 2h0m65 16h0m4-18h0m66 23h0m5 1h0m26-19h0m2 0h0m82 18h0m13-20h0m1 22h0m9 2h0m20-24h0m24 7h0m21 11h0m30-15h0m0-8h0m84 16h0m7 1h0m7-7h0m71 9h0m5-12h0m1 0h0m13 20h0m6-15h0m42 9h0m2-14h0m9 11h0m74-2h0m5-13h0m16 25h0m2 0h0m2-26h0m8 15h0m2-15h0m1 3h0m3 11h0m15-10h0m2-2h0m4 13h0m26-7h0m0 12h0m11-10h0m2 11h0m14-21h0m1 26h0m2-14h0m10 2h0m6-7h0m13 13h0m47-6h0m15-3h0m21-3h0m3 14h0m1-23h0m9 19h0m26-10h0m5 16h0m11-24h0m20 6h0m20 16h0m8 2h0m9-4h0m2-22h0m41 6h0m3-1h0m29 1h0m7 17h0m2-9h0m22 14h0m34-15h0m16-1h0m49-1h0m3-1h0m3-2h0m5-1h0m5 16h0m9-2h0m24-11h0m0 2h0m26 15h0m8-19h0m7 8h0m3 2h0m22 7h0m8-22h0m41 18h0m1-11h0m17-2h0m10 8h0m8-4h0m18 0h0m3 0h0m7-9h0m8-1h0m17 15h0m1 6h0m4-10h0m-1587 46h0m6-3h0m11-1h0m2-7h0m2-18h0m12 12h0m15 13h0m2-18h0m15 13h0m9-20h0m5 6h0m12 19h0m9-7h0m1-14h0m21 21h0m9-19h0m7 18h0m26-15h0m99 18h0m50-21h0m60 21h0m38-26h0m85 5h0m4 18h0m5 1h0m25-9h0m123 5h0m8-18h0m28 3h0m34 15h0m54-10h0m73 1h0m1 13h0m9-23h0m9 13h0m5 12h0m5 2h0m10-22h0m28 8h0m24 8h0m9 3h0m7-20h0m0-3h0m5 18h0m13-20h0m58 20h0m6 5h0m36-16h0m4 0h0m5 7h0m5-17h0m18 16h0m16 1h0m1-12h0m16 20h0m14-9h0m17 11h0m1-6h0m33-17h0m3 13h0m17 8h0m21-6h0m11-8h0m2-11h0m42 22h0m22-5h0m100 9h0m3-23h0m15 21h0m33-9h0m13 2h0m88-3h0m15 1h0m3-1h0m10 1h0m-1604 23h0m5 5h0m17-4h0m33 9h0m2-16h0m8 24h0m3-22h0m4 21h0m11-19h0m24 20h0m1-8h0m117-9h0m17 12h0m51-21h0m6 9h0m11-8h0m250 8h0m25 11h0m6-7h0m2 1h0m26 9h0m58-16h0m15 7h0m8-3h0m9-5h0m22 21h0m55-22h0m9 12h0m1-2h0m19 12h0m4-11h0m6 1h0m19-1h0m4 1h0m6-10h0m5 1h0m12 2h0m10 15h0m11-10h0m19 6h0m9-9h0m20 8h0m6 2h0m18-4h0m4-14h0m15 25h0m25 0h0m4-24h0m2 16h0m17-18h0m16 13h0m21 2h0m0-4h0m2-11h0m2 1h0m12 25h0m3-12h0m1 2h0m16 0h0m3-16h0m18 5h0m31 19h0m4-16h0m26-4h0m2 10h0m0 8h0m8 2h0m10-9h0m3 11h0m15-9h0m22-20h0m12 4h0m18 14h0m42 0h0m20 4h0m26 3h0m8-17h0m31 20h0m25-10h0m1-13h0m16 2h0m11 16h0m15-9h0m18-1h0m7 16h0m10-20h0m32-6h0m19 18h0m38-6h0m32 0h0m-1645 25h0m30-2h0m2-7h0m16 13h0m17 5h0m3-18h0m37 5h0m12 16h0m1-11h0m40-8h0m54 14h0m52 0h0m46-6h0m11-10h0m18 10h0m28-7h0m37 13h0m10 2h0m42-8h0m76-4h0m13 21h0m18-6h0m43-20h0m2-1h0m17 18h0m4-19h0m13 5h0m26 12h0m7 10h0m0-14h0m59-13h0m37 27h0m18-17h0m24 11h0m1 1h0m28-15h0m21 6h0m1 10h0m6 2h0m14 3h0m2-12h0m1-12h0m16 4h0m18 19h0m9-25h0m4 1h0m13 9h0m4 14h0m3 2h0m10-10h0m1-12h0m3 2h0m13 19h0m1 0h0m6-9h0m16-3h0m2-1h0m3-10h0m0 0h0m15 24h0m12-20h0m2 17h0m2-13h0m2 16h0m15-3h0m21-15h0m25-10h0m6 6h0m7 12h0m16-16h0m5 3h0m34 21h0m6-15h0m54 3h0m11 7h0m4-10h0m19 3h0m27 14h0m16-16h0m16 16h0m11-24h0m23 0h0m7 15h0m5-1h0m37 9h0m49-18h0m1-5h0m13 22h0m33-8h0m16 7h0m4-2h0m8-17h0m8 22h0m29-16h0m2-11h0m22 15h0m27 3h0m9 2h0m13 6h0m-1652 22h0m36-15h0m11 16h0m1-6h0m2 8h0m2-17h0m0 8h0m39 2h0m12 8h0m47-1h0m89-21h0m16 13h0m106 7h0m34 2h0m16-19h0m7-4h0m48 18h0m9 5h0m14-3h0m14-18h0m3 3h0m15 17h0m29 1h0m4-8h0m6-8h0m9-7h0m1 18h0m7 9h0m26-27h0m1 16h0m27-8h0m7 9h0m21-2h0m6-5h0m8 11h0m13-9h0m3 12h0m12-11h0m1 3h0m4-3h0m61 12h0m28 0h0m0-22h0m21-2h0m2 14h0m15 6h0m18-7h0m10-9h0m11 24h0m20-24h0m10-5h0m20 17h0m1 12h0m11-7h0m1-11h0m4 14h0m3-24h0m23 9h0m11-7h0m9 20h0m18-20h0m8 23h0m3 3h0m46-11h0m39-9h0m2 19h0m10-4h0m6-15h0m11 16h0m14-25h0m18 7h0m3 6h0m29-4h0m8-6h0m11 17h0m23-1h0m13-10h0m43-5h0m29 10h0m6-6h0m2 20h0m10-27h0m3 23h0m29-16h0m24 8h0m19-10h0m15 22h0m2-16h0m6 16h0m66-26h0m1 3h0m7 18h0m13-8h0m29-3h0m4 10h0m21-14h0m37 9h0m38 9h0m27-3h0m-1625 8h0m4 21h0m5-21h0m115 15h0m43-15h0m0 20h0m14-11h0m21-6h0m43 9h0m15-2h0m10-5h0m18 16h0m17-8h0m18 12h0m20-5h0m48-1h0m31 3h0m10 4h0m24-17h0m119 3h0m32-13h0m0 17h0m5-5h0m3 12h0m8-24h0m12 24h0m4-17h0m3 11h0m1-15h0m12 19h0m29-13h0m15 5h0m3 9h0m2-11h0m31 0h0m28-1h0m1 10h0m22 0h0m1 7h0m37-4h0m2-24h0m0 0h0m4 2h0m11 26h0m8-9h0m51 9h0m0-27h0m6 3h0m16-3h0m11 7h0m60 20h0m9-8h0m5 6h0m6-12h0m20 3h0m6-10h0m13 17h0m8-10h0m24 14h0m16-18h0m0 17h0m16-15h0m48-12h0m3 10h0m13-2h0m29 7h0m16 13h0m8-15h0m29 11h0m20-23h0m61 3h0m10 12h0m21-3h0m3 11h0m28-10h0m22-1h0m13 6h0m19-12h0m36-3h0m1 18h0m14-15h0m15 14h0m5-8h0m8 8h0m15-13h0m1 16h0m5 5h0m7-9h0m29-20h0m4 5h0m10 0h0m0 18h0m19 6h0m-1690 19h0m5 11h0m11-29h0m24 25h0m4-7h0m20-4h0m83-11h0m19-3h0m10 23h0m2-2h0m21-8h0m14 9h0m3 1h0m7 5h0m34-20h0m82 11h0m4-13h0m20 15h0m27-16h0m80 5h0m4 3h0m23-3h0m14 2h0m37 9h0m38-18h0m5 17h0m21-12h0m9-7h0m61 20h0m10-7h0m10-1h0m22 9h0m3-9h0m21-6h0m36-6h0m14 24h0m9-23h0m10 18h0m26-8h0m5-9h0m0 9h0m5-11h0m5 25h0m16-10h0m19 4h0m6-10h0m3 13h0m1 0h0m11 2h0m4-8h0m9-10h0m1 0h0m4-7h0m1 9h0m9 5h0m15 9h0m11-10h0m5-8h0m40 16h0m5-11h0m4-10h0m2 16h0m3 3h0m2-14h0m4 5h0m0 17h0m42-6h0m3-18h0m7 12h0m3 1h0m35 13h0m20-15h0m46 9h0m18-14h0m13-1h0m10 14h0m20 1h0m45-17h0m47 20h0m34-14h0m8 1h0m32-8h0m9 13h0m36-1h0m7-3h0m6-5h0m18-9h0m22 8h0m2 5h0m32-9h0m17-3h0m83 9h0m7 13h0m10 0h0m3-9h0m8 2h0m4-11h0m12 0h0m5-4h0m5 23h0m-1707 23h0m44-7h0m30 4h0m5 15h0m29-19h0m49 16h0m40-25h0m27 14h0m65 13h0m55-16h0m8-5h0m10-6h0m39 23h0m10-13h0m23 5h0m9-13h0m45 7h0m35 17h0m13-3h0m43-5h0m14-3h0m124 11h0m14-26h0m9 21h0m2-13h0m18 5h0m6-8h0m3 18h0m12-6h0m11-11h0m13 6h0m3 1h0m1-13h0m5 27h0m2-20h0m1 19h0m7-21h0m1 19h0m18-2h0m2-15h0m11 10h0m6-10h0m4 0h0m4 1h0m75 0h0m14 11h0m14 9h0m14-16h0m12 11h0m12-21h0m6-3h0m22 17h0m19-16h0m4 6h0m49 6h0m15 7h0m36-8h0m40 2h0m68 14h0m14-1h0m7 0h0m33-12h0m9 0h0m0-15h0m1 20h0m7 6h0m30-5h0m41-5h0m2 6h0m3-10h0m64 6h0m22-13h0m9 17h0m35 1h0m11-19h0m4 8h0m16 0h0m4 14h0m10-19h0m54-4h0m28 13h0m8 10h0m15-13h0m-1680 31h0m10-10h0m39 16h0m7-8h0m65-8h0m15 22h0m18-10h0m71-4h0m3 1h0m22-8h0m14 5h0m10 9h0m40-17h0m59 15h0m89-4h0m3-7h0m43 18h0m31-16h0m12 3h0m180-1h0m12-4h0m175 14h0m14-8h0m0 13h0m18 1h0m1-24h0m16 11h0m13-2h0m13 8h0m7-3h0m0-13h0m7 9h0m18-2h0m2-6h0m51 5h0m2-2h0m20 22h0m35-15h0m24 2h0m30 13h0m17-24h0m4 13h0m60 2h0m15-12h0m13 12h0m26-4h0m4-6h0m37-1h0m9 7h0m55 12h0m12-20h0m12 5h0m7 14h0m1-18h0m19-8h0m34 14h0m17-15h0m65 9h0m7 3h0m6-9h0m19 7h0m0-1h0m6-8h0m13 6h0m6 20h0m9-4h0m5-1h0m21-14h0m-1718 22h0m4 28h0m8-20h0m28 21h0m106-15h0m71 6h0m90-2h0m20 6h0m47-10h0m22 11h0m107 2h0m44-19h0m23 5h0m11-2h0m369-9h0m10 10h0m8-4h0m2 2h0m3 18h0m8-2h0m5-24h0m25 0h0m6 4h0m20 5h0m20 6h0m9-14h0m3 4h0m13 18h0m19-11h0m43-11h0m59 23h0m94-21h0m21 23h0m106-15h0m39 11h0m18-13h0m29 14h0m3-10h0m22 0h0m14-15h0m17 7h0m2 19h0m28-25h0m7 19h0m27-9h0m4 3h0m4-9h0m15 24h0m10-14h0m21-15h0m10 16h0m6-11h0m5 22h0m-1653 7h0m18 15h0m38 8h0m2-20h0m19 17h0m33-1h0m20-11h0m19 9h0m9-12h0m24 6h0m6-15h0m25 7h0m0 7h0m3 12h0m43-19h0m6 6h0m113 4h0m1 10h0m48-19h0m45 16h0m37 0h0m13-6h0m0-13h0m421 12h0m3 7h0m11-22h0m1 21h0m21-13h0m0 10h0m51-9h0m2 14h0m12 1h0m15-9h0m8 2h0m48-10h0m35-7h0m48-2h0m31 23h0m75-5h0m19-5h0m66 6h0m24-2h0m34-17h0m4 17h0m16-16h0m17 4h0m18 0h0m1 22h0m15-20h0m0 8h0m17-15h0m17 1h0m1 9h0m17-1h0m1 20h0m10-18h0m6 9h0m29-20h0m4 7h0m4-4h0m20 14h0m6-9h0m25-6h0m-1721 44h0m8-12h0m28 5h0m35 20h0m11-5h0m12-18h0m24-3h0m16 6h0m85 10h0m42 9h0m97-10h0m44-15h0m53 18h0m3-17h0m8 11h0m75-12h0m12 8h0m435 13h0m8-23h0m12 8h0m13 2h0m6-11h0m4 3h0m2-3h0m2 10h0m2 19h0m8-16h0m49 15h0m11-20h0m0 9h0m11-14h0m26 19h0m24-1h0m72-19h0m11 6h0m13 20h0m11-18h0m4 17h0m24 1h0m19-11h0m10 4h0m3-15h0m10 4h0m28 1h0m24 5h0m14-15h0m72 25h0m7-18h0m96 2h0m34 7h0m14 0h0m3 8h0m12-1h0m36-17h0m10 2h0m-1698 29h0m40-6h0m64 19h0m2 8h0m50-25h0m34 11h0m66 0h0m44-11h0m35 0h0m6 8h0m39-9h0m80 22h0m2 4h0m11-28h0m0 11h0m12-9h0m59 5h0m0 17h0m23-24h0m439 12h0m10-1h0m3-10h0m4-2h0m13 21h0m16 8h0m4-6h0m16 4h0m3-7h0m0-6h0m36 0h0m1 4h0m108-7h0m12 7h0m26 1h0m34-12h0m21 2h0m13 4h0m13 2h0m23 6h0m23 7h0m38-22h0m22 8h0m22-8h0m6-4h0m49 22h0m8-24h0m26 20h0m16-12h0m44-4h0m7 25h0m1-4h0m10 1h0m32-6h0m4 8h0m0-15h0m3-7h0m15 0h0m9-3h0m6 13h0m-1695 42h0m24-23h0m24 11h0m7 6h0m36-13h0m58 6h0m84 1h0m6-2h0m46-6h0m8-3h0m20-1h0m1 19h0m21 2h0m2-1h0m82-13h0m14 18h0m55-22h0m3 9h0m35-7h0m462 8h0m4-4h0m1-7h0m20 20h0m6-26h0m5 19h0m7-7h0m13-8h0m16 21h0m23-15h0m45 7h0m10-9h0m14-7h0m32 28h0m15-18h0m50-11h0m19 29h0m2-22h0m65 11h0m101-18h0m13 7h0m92-7h0m21 23h0m32-22h0m17 8h0m10 4h0m4 13h0m15-24h0m3 27h0m26-28h0m7 21h0m13-4h0m9 4h0m0 7h0m8-13h0m3-13h0m-1693 45h0m22-8h0m63 17h0m17 1h0m35-9h0m164 3h0m20-13h0m108 17h0m14-13h0m9-11h0m2 10h0m15 13h0m19-25h0m3 17h0m10-2h0m2 2h0m24 0h0m2 8h0m23-15h0m405 15h0m30-17h0m8 16h0m15 4h0m4-9h0m3-10h0m1 5h0m20 8h0m9-17h0m23 2h0m1-6h0m22 3h0m10 15h0m1-10h0m9 19h0m41-18h0m23 16h0m4-19h0m9 2h0m36-2h0m1 16h0m49-1h0m10 2h0m44-19h0m14 3h0m100 17h0m2-17h0m75 18h0m20-4h0m5-20h0m0 6h0m15-1h0m2-2h0m31-5h0m41 12h0m3 14h0m23-5h0m4-2h0m25 1h0m-1683 36h0m47-18h0m36-1h0m48 3h0m4 17h0m14-14h0m17 4h0m5-2h0m14-15h0m3 18h0m70-18h0m52 1h0m29 7h0m75 0h0m7 18h0m9 3h0m7-29h0m14 3h0m0 9h0m25-6h0m22-3h0m35 26h0m408-25h0m5 16h0m0-19h0m12 15h0m3-3h0m13 14h0m5-11h0m16 6h0m9 0h0m13 6h0m13-26h0m2 20h0m59-21h0m71 17h0m10 8h0m30-19h0m65-3h0m6 0h0m39 16h0m122-9h0m8 13h0m22 0h0m8-18h0m21-5h0m7 21h0m80-16h0m8-5h0m31 13h0m6-5h0m23 11h0m37-1h0m8 0h0m2-11h0m-1722 41h0m9-13h0m6-4h0m24 26h0m6-18h0m11 14h0m21-22h0m4 5h0m115 0h0m29 16h0m25-15h0m8 1h0m28 4h0m6 10h0m17-16h0m20-1h0m44 21h0m23 0h0m39-20h0m7 5h0m117 15h0m4-20h0m7 16h0m4-23h0m10 24h0m4-16h0m380 15h0m0-18h0m6 17h0m2-18h0m3 9h0m15-11h0m16 2h0m42 9h0m14-12h0m22 9h0m4-6h0m12 8h0m21 12h0m10 1h0m17-3h0m7-16h0m3 20h0m14-2h0m1-3h0m4-9h0m5-10h0m27 24h0m111 3h0m7-25h0m47 20h0m4-12h0m9-7h0m59 6h0m35 17h0m1-18h0m19-1h0m10 15h0m44-21h0m61 7h0m33-1h0m5-7h0m50 23h0m6-23h0m7 14h0m-1702 38h0m55-6h0m15 2h0m10-8h0m6-5h0m15 1h0m136 5h0m85 6h0m17 6h0m51-2h0m22-3h0m13 4h0m4-17h0m28 16h0m1-7h0m14 1h0m24-4h0m20-12h0m42 5h0m14 23h0m12-26h0m2 6h0m366 6h0m1-1h0m9-6h0m16 7h0m3-15h0m38 28h0m12-11h0m7-3h0m46 11h0m2-1h0m35-9h0m2-7h0m3 20h0m31-8h0m5-9h0m9 13h0m34 5h0m37 0h0m6-8h0m86-12h0m35 5h0m35-3h0m7-10h0m13 12h0m9-13h0m16 0h0m81 17h0m19-4h0m2-6h0m25 10h0m40-1h0m16 0h0m4-6h0m7-2h0m2 18h0m9-11h0m9 10h0m21-9h0m-1687 29h0m39-15h0m5 14h0m3 9h0m31 1h0m31-11h0m20 5h0m63-17h0m52 14h0m37-3h0m62 7h0m14-7h0m18 7h0m45-18h0m12 4h0m5 12h0m2-13h0m4 24h0m65-26h0m3 9h0m9-11h0m27 22h0m3-14h0m18 4h0m3 2h0m392-9h0m5-3h0m2 17h0m53-15h0m19 8h0m3 2h0m6 7h0m84-10h0m16-4h0m12 3h0m75 18h0m10-22h0m35-6h0m35 9h0m17 15h0m52 3h0m28-7h0m7-2h0m6-2h0m5-16h0m97 3h0m31 15h0m2-7h0m1-9h0m15 0h0m2 11h0m48 10h0m20-19h0m14 18h0m11-22h0m10 20h0m2-8h0m7 6h0m-1660 38h0m6-13h0m185-11h0m6 16h0m149-5h0m173-13h0m28 17h0m22 7h0m360-21h0m6 13h0m65 8h0m4-20h0m19-2h0m73 9h0m6 11h0m7-6h0m24-16h0m13 24h0m15 1h0m26 4h0m11-25h0m13-4h0m7 7h0m44 22h0m38-10h0m16-19h0m92 20h0m8-15h0m34 1h0m1 1h0m16-2h0m2 1h0m16 7h0m86-7h0m3 10h0m72 12h0m-1626 13h0m9 8h0m45-11h0m9 10h0m33 10h0m14-14h0m3 4h0m16-2h0m15-5h0m1 3h0m1-7h0m40 18h0m13-4h0m11-2h0m5-18h0m37 26h0m29-16h0m7 14h0m53 4h0m4-9h0m63-20h0m11 23h0m3-20h0m39-2h0m11 11h0m21-9h0m40 25h0m11-4h0m377-16h0m7 7h0m14 7h0m12 5h0m7-4h0m23 1h0m82 4h0m37-26h0m3-2h0m3 14h0m19 0h0m17 8h0m102-3h0m13 9h0m15-14h0m18 13h0m14-27h0m1 25h0m22-9h0m6-1h0m8-9h0m22-2h0m7 2h0m21 20h0m98-14h0m0-3h0m2-9h0m17 9h0m53-3h0m24 3h0m20 20h0m2-1h0m7-14h0m-1547 24h0m23 18h0m29-11h0m12-14h0m26 18h0m57-14h0m12-3h0m44 24h0m14-19h0m98 10h0m27-17h0m30 7h0m36 0h0m2 20h0m9-22h0m20 18h0m23-23h0m13 25h0m368-18h0m34 10h0m2 10h0m4-15h0m51-6h0m14 20h0m8-7h0m27-7h0m2 13h0m5-20h0m27 20h0m16-17h0m36 17h0m35-14h0m67-8h0m12 20h0m15 3h0m10-2h0m8-1h0m14 6h0m30-10h0m0-13h0m6 13h0m9 4h0m77-4h0m8-17h0m30 8h0m6-10h0m14 8h0m72 6h0m31-14h0m4 14h0m27 5h0m-1577 12h0m27 23h0m56-1h0m13-14h0m19 0h0m23 11h0m34 8h0m20-21h0m1 17h0m5-1h0m17-3h0m59-3h0m18 2h0m33-3h0m93 2h0m62-17h0m8 7h0m17 14h0m0-14h0m361 11h0m11-18h0m29 14h0m11-4h0m3-4h0m3-1h0m33 7h0m11 8h0m6-19h0m24 27h0m22-19h0m12-9h0m3 10h0m12-6h0m48-1h0m23 17h0m0-8h0m16-12h0m69 13h0m9 11h0m27 2h0m53-23h0m15 4h0m16 4h0m140 15h0m1 1h0m42-20h0m2-3h0m44 18h0m14-16h0m-1559 43h0m46-19h0m1 26h0m9-7h0m10-9h0m48 15h0m0-2h0m99-3h0m94-3h0m112 1h0m2 8h0m59-20h0m372 9h0m7 10h0m3-26h0m74 22h0m16-12h0m15-10h0m15 6h0m14 6h0m26-7h0m2-4h0m41 6h0m7 12h0m38-7h0m27-11h0m31 8h0m13 19h0m6-8h0m44-16h0m105 3h0m51 11h0m55-9h0m15 3h0m19 11h0m30 2h0m1-8h0m47-13h0m-1564 32h0m28 17h0m60-21h0m14 12h0m25 13h0m35-1h0m39-10h0m50 2h0m28-7h0m44-3h0m10 0h0m42 3h0m23 0h0m37-4h0m38 7h0m10 8h0m5-6h0m33 10h0m14-3h0m315-21h0m51 7h0m175 20h0m43-27h0m10 12h0m30-11h0m0-2h0m30 21h0m30-3h0m65-9h0m49 14h0m40 2h0m20 1h0m19-10h0m25 7h0m10-4h0m41 9h0m8-22h0m-1459 38h0m37-2h0m4-8h0m21 1h0m76 11h0m33-13h0m27 10h0m44 15h0m27-15h0m17-4h0m27 16h0m57-15h0m37-4h0m15 18h0m17-5h0m99 9h0m304-29h0m24 29h0m10-17h0m1 13h0m21-22h0m4 26h0m60-15h0m7-13h0m15 16h0m3-8h0m31 17h0m4-9h0m40-15h0m29 3h0m87-2h0m4 1h0m42 3h0m114 21h0m13-20h0m20-7h0m15 14h0m21 0h0m8 4h0m6-12h0m35 20h0m29-4h0m6-14h0m-1457 28h0m11-7h0m69 11h0m45 2h0m46 3h0m3-2h0m28-11h0m65 22h0m7-7h0m0 6h0m9-22h0m66 0h0m23 16h0m17-13h0m23 16h0m42 8h0m9-14h0m4-13h0m20 14h0m12 6h0m83-11h0m8 5h0m108 11h0m85-25h0m73 2h0m2 20h0m55-5h0m19-16h0m17 16h0m42 0h0m17 5h0m36-19h0m54 15h0m32 4h0m37-2h0m6 4h0m10-16h0m34 19h0m12-19h0m5 19h0m35-14h0m111-4h0m35-1h0m-1321 43h0m7 3h0m13-6h0m0 7h0m22-2h0m47-23h0m1-2h0m12 18h0m15-10h0m32-1h0m97 10h0m74 8h0m162-25h0m10 19h0m26-18h0m29 23h0m18-8h0m47 10h0m3-13h0m39 0h0m10 8h0m2 3h0m0-9h0m13-2h0m7 13h0m18-9h0m11-7h0m1-10h0m63 3h0m16-2h0m4 11h0m48 7h0m22-4h0m53-10h0m57 13h0m33-3h0m12-9h0m20 10h0m23-5h0m0 16h0m60-6h0m15 7h0m36-16h0m8-11h0m11 9h0m9-6h0m31-2h0m22 1h0m15-3h0m8 24h0m4-15h0m53-5h0m-1338 27h0m16 18h0m78 9h0m106-26h0m30 4h0m63-4h0m49 5h0m139 18h0m10-22h0m10 15h0m55-10h0m24 15h0m69-17h0m0 14h0m3 3h0m0-13h0m20 15h0m47-4h0m97-10h0m4-9h0m15 17h0m35-11h0m14 16h0m124-1h0m3-18h0m0 20h0m27-23h0m1 20h0m29-5h0m65-11h0m49-2h0m34 10h0m3 12h0m15-2h0m21-15h0m14 3h0m-1100 38h0m19-18h0m27 1h0m291 20h0m19-18h0m2 22h0m74-10h0m100-11h0m46 1h0m45 15h0m21 7h0m14-6h0m15-21h0m28 23h0m143-25h0m13 25h0m61-24h0m27 19h0m141-19h0m8 2h0m17 11h0m-770 25h0m15 2h0m23 15h0m32-4h0m15-14h0m62 11h0m7 6h0m67 3h0m143-25h0m10 12h0m71-2h0m43 11h0m15-11h0m0 16h0m25-16h0m52 15h0m28-18h0m8-5h0m29 15h0m48-16h0m17 16h0m30-13h0m19 4h0m-719 35h0m89-12h0m7 20h0m48-16h0m92 8h0m11-9h0m123 10h0m1 5h0m30-1h0m2-20h0m55 26h0m3-22h0m8 12h0m12 10h0m16-12h0m32 2h0m27 8h0m17-25h0m39 9h0m11-2h0m11 13h0m12-10h0m1 7h0m38-9h0m3 9h0m-638 15h0m13 4h0m102 23h0m68-17h0m15-9h0m116 12h0m17 10h0m17-9h0m14-9h0m1 19h0m62-8h0m54-9h0m57 13h0m42-2h0m17-17h0m4 24h0m-589 13h0m15-8h0m2 4h0m53 1h0m18-2h0m0-3h0m13 26h0m24-26h0m21 0h0m46 7h0m94 4h0m19-13h0m62 8h0m0 20h0m9-28h0m137 0h0m42 23h0m18-16h0m-527 38h0m19-12h0m26 23h0m12-22h0m9 17h0m0-5h0m7-12h0m114 1h0m33 4h0m5-3h0m111 16h0m13-2h0m112 4h0m5-14h0m3 10h0m8-11h0m-423 47h0m1-15h0m21-5h0m56 3h0m11-2h0m76 9h0m10 12h0m70-6h0m45-10h0m19-7h0m48 9h0m-300 20h0m6-2h0m7 16h0m58-6h0m97-10h0m67 5h0" stroke="#4f6488" stroke-width="8.5" stroke-linecap="round" fill="none" opacity="0.8"/>
<path transform="scale(.1)" d="m4127 711h0m21-10h0m3-2h0m18 19h0m10-6h0m2 2h0m19-18h0m10 9h0m8-2h0m2 0h0m8-2h0m0-2h0m2 2h0m-128 22h0m21 1h0m20 4h0m11 9h0m9-4h0m19-7h0m7-3h0m6-1h0m6 23h0m2-16h0m6 0h0m4 0h0m13-3h0m1 12h0m2-13h0m7-1h0m-195 42h0m56-15h0m40 20h0m9 8h0m43-18h0m26-10h0m1 25h0m-208 23h0m56-5h0m6 9h0m21-2h0m21 1h0m1-17h0m12 22h0m29-18h0m5 12h0m11-9h0m8-3h0m9 12h0m29-2h0m1 4h0m7-6h0m7-2h0m-217 30h0m2 0h0m5 12h0m35-21h0m19 14h0m9-9h0m22 14h0m0 2h0m55-14h0m12-4h0m16-6h0m6 10h0m0 13h0m7-8h0m1 3h0m12-16h0m1 12h0m17-4h0m14-5h0m1-4h0m1 23h0m-271 18h0m36 9h0m5-5h0m6-7h0m4-5h0m14 2h0m4 10h0m70-17h0m6 10h0m32 6h0m1-15h0m9 4h0m14 18h0m10 1h0m2-15h0m6-5h0m7 22h0m1-11h0m9 10h0m1-26h0m26 3h0m-292 39h0m4-6h0m32 15h0m10-17h0m3 13h0m15-18h0m5 12h0m20-6h0m14 21h0m5-9h0m87 3h0m5 2h0m4-19h0m10 8h0m5-11h0m6 3h0m10 12h0m10-6h0m4 7h0m21 4h0m5-16h0m6 23h0m2-19h0m4 20h0m1-22h0m8 19h0m0 0h0m7-19h0m5-2h0m1 17h0m10-2h0m1 9h0m-334 17h0m18-14h0m10 8h0m22 9h0m4-9h0m4-8h0m13 25h0m143-12h0m4-4h0m2-10h0m5 15h0m1-13h0m4 17h0m16-13h0m6 21h0m3-3h0m1-21h0m5-1h0m10 5h0m2 21h0m12 0h0m0-3h0m2-11h0m8-4h0m17-7h0m7 10h0m13 12h0m1-18h0m2 2h0m0-4h0m-342 30h0m18 12h0m5-10h0m8 16h0m1-7h0m4-9h0m7 16h0m3-9h0m12 2h0m187-6h0m3-3h0m19-6h0m2 8h0m2 4h0m8-12h0m-271 55h0m2-10h0m2-10h0m13 6h0m9 14h0m4-18h0m11 7h0m11 0h0m12 5h0m13 4h0m6-25h0m-110 59h0m49-14h0m39-8h0m9 19h0m0-13h0m3-2h0m-91 40h0m27-20h0m22 18h0m0 9h0m0-13h0m10 1h0m16-14h0m-86 36h0m11-7h0m35 27h0m24-24h0m0 9h0m0 9h0m14 1h0m-81 31h0m9-11h0m13-7h0m2 20h0m9-15h0m3 17h0m10-2h0m1-4h0m23-10h0m24-11h0m1 22h0m0-6h0m-93 25h0m3 14h0m22-10h0m24 1h0m12-2h0m10-1h0m4 11h0m12-5h0m2 9h0m0 0h0m-71 15h0m3 10h0m14 1h0m12-1h0m20-18h0m24 1h0m15 5h0m-94 22h0m45 18h0m23-6h0m23-8h0m0 1h0m10-6h0m8 19h0m4 4h0m-96 21h0m67 1h0m5-12h0m2 23h0m14 0h0m12-26h0m0 4h0m7 9h0m-87 39h0m53-6h0m34-12h0m0 0h0m5 6h0m9-4h0m1 1h0m1 16h0m3-14h0m2 1h0m-90 39h0m15-18h0m1 0h0m5 8h0m13-2h0m9-7h0m6 7h0m30 1h0m-523 47h0m100-22h0m370 19h0m21-12h0m5-10h0m630 16h0m22 3h0m206 2h0m158 3h0m78-15h0m-1583 21h0m68 11h0m6 10h0m27-20h0m6 8h0m88 8h0m78-18h0m71 15h0m139-1h0m16-14h0m5 5h0m4 18h0m381-22h0m72 9h0m30 7h0m7-6h0m27 7h0m94-15h0m10 11h0m112-3h0m10 10h0m35-9h0m5 1h0m18 5h0m28 6h0m166 2h0m-1514 3h0m20 28h0m8 0h0m16-1h0m84-19h0m65 0h0m213 0h0m46 17h0m54-25h0m367 6h0m79 17h0m234 5h0m35-24h0m15 4h0m1 12h0m35 6h0m3-14h0m-1253 37h0m16-1h0m95 5h0m10-13h0m158 16h0m83-27h0m64 5h0m32 16h0m28-17h0m406 21h0m41-3h0m16-12h0m9-6h0m7 9h0m75 1h0m29 5h0m67-7h0m152-2h0m29 7h0m7 6h0m9-16h0m54 5h0m0-2h0m43 18h0m73-3h0m25-16h0m-1508 26h0m138 7h0m26 7h0m39-14h0m7 15h0m39 4h0m48-12h0m15-2h0m23 14h0m153 2h0m328-24h0m17 22h0m23 2h0m38 2h0m27-2h0m36-11h0m94-4h0m17 1h0m25-9h0m77 15h0m36 9h0m7-27h0m8 15h0m3 2h0m53 0h0m1-14h0m16 4h0m16 8h0m66-12h0m87 4h0m35 11h0m1-16h0m-1491 48h0m40-1h0m27-10h0m66 1h0m17 1h0m17-7h0m81 23h0m62-22h0m10 11h0m5 7h0m9-22h0m73 26h0m56-4h0m1-17h0m21 20h0m4-13h0m23 5h0m10-10h0m273 2h0m3 15h0m10-6h0m2-10h0m6-3h0m16 11h0m88-1h0m11-3h0m87 4h0m111-14h0m9 1h0m12 8h0m74 15h0m24-10h0m1-15h0m98-1h0m9 26h0m29-15h0m7 11h0m30-9h0m52 4h0m7 5h0m16-22h0m-1473 32h0m28 15h0m7-7h0m41 17h0m57-10h0m11 9h0m6-14h0m15-9h0m1-2h0m54 14h0m17 9h0m94-8h0m14 5h0m1-9h0m24 9h0m17-5h0m12 8h0m94 1h0m16-3h0m23 5h0m37-2h0m11-7h0m27 0h0m55 1h0m24 1h0m10 3h0m12-1h0m57-2h0m1-14h0m13 22h0m22-29h0m12 11h0m2 16h0m0-7h0m25 3h0m11-14h0m11 2h0m12-5h0m33 19h0m27-24h0m21 18h0m11 3h0m6-19h0m67 21h0m32 2h0m15 3h0m13-11h0m78 6h0m3-16h0m9 2h0m32 13h0m68 5h0m9-13h0m8-14h0m14 13h0m3 14h0m4-14h0m58 3h0m1-6h0m7 2h0m15 2h0m-1350 17h0m42 21h0m7-19h0m18 1h0m35 15h0m15-8h0m14-8h0m1-4h0m27 8h0m43-7h0m7 16h0m31 0h0m2-5h0m17-6h0m36 23h0m30-10h0m12-10h0m33 12h0m19-7h0m11-3h0m7-3h0m6 9h0m14-6h0m4-11h0m13 5h0m8 17h0m107-22h0m1 1h0m25 17h0m37-11h0m71 15h0m2 4h0m11-5h0m26-18h0m1 7h0m11-10h0m1 27h0m9-7h0m40 2h0m2-10h0m39 9h0m20-3h0m44 3h0m65-16h0m7 3h0m40-6h0m48 17h0m66-1h0m28-9h0m12 14h0m54 6h0m20-19h0m13 15h0m3-3h0m19-6h0m8-5h0m6 10h0m26 0h0m36 8h0m15-20h0m-1290 26h0m0 7h0m8 6h0m42-2h0m29 1h0m31 3h0m13-4h0m10-8h0m60 21h0m5-23h0m1 15h0m21 1h0m38-11h0m39-11h0m4 11h0m1 9h0m41-13h0m104 3h0m24-4h0m1 23h0m15-11h0m20 2h0m24-3h0m20 9h0m1-12h0m13 12h0m21-9h0m41-17h0m17 16h0m9-7h0m1 14h0m4-10h0m26-6h0m73-6h0m0 22h0m8-19h0m5 15h0m62 9h0m25-1h0m22-20h0m14 20h0m59 0h0m51-27h0m20 12h0m29-2h0m18 5h0m34-14h0m63 8h0m2 1h0m34 6h0m11-4h0m15-10h0m16 13h0m2 14h0m18-26h0m11 2h0m4 9h0m-1235 20h0m9 7h0m22-2h0m30 5h0m1 3h0m0-5h0m30 8h0m19-18h0m4-2h0m5 20h0m0-2h0m15-12h0m47 4h0m250-10h0m7 10h0m11 17h0m15 2h0m16-13h0m7-10h0m8 11h0m20-10h0m3 3h0m34-10h0m22 6h0m24 17h0m39-20h0m21 23h0m21 1h0m14-19h0m43 7h0m36-10h0m15 2h0m5-5h0m23 4h0m1 23h0m55-16h0m12 10h0m4 3h0m10-13h0m10 9h0m9-18h0m32 21h0m2-16h0m13 4h0m16 16h0m48-22h0m4-7h0m13 8h0m5 19h0m1-22h0m48 18h0m9-5h0m13 8h0m5-25h0m1 11h0m23 2h0m13 5h0m42-12h0m2 15h0m-759 33h0m25-4h0m11-14h0m10 8h0m0 14h0m30-28h0m10 21h0m11-1h0m4 6h0m14-21h0m1 20h0m14-22h0m17 18h0m8-21h0m0 22h0m6 6h0m31-6h0m70-9h0m15-5h0m8 13h0m10-10h0m17 2h0m6-2h0m73 10h0m8 7h0m11-14h0m20-2h0m87-2h0m9 12h0m4-2h0m6-6h0m15-11h0m8 13h0m9-11h0m15 16h0m19 5h0m6-10h0m26 2h0m7-1h0m2 10h0m52-8h0m21-17h0m16 13h0m7-6h0m-735 23h0m11 9h0m20-7h0m36 7h0m11-6h0m52 2h0m7 20h0m4-27h0m4 14h0m11 14h0m16-2h0m17-4h0m25-15h0m38 4h0m5 4h0m19-2h0m17 0h0m11 12h0m43-1h0m4-23h0m9 9h0m18-5h0m1 4h0m9 4h0m16-9h0m20-4h0m45 9h0m13-5h0m8 12h0m5-1h0m19-14h0m10 11h0m16-12h0m5 10h0m18-6h0m19 7h0m2 1h0m14 6h0m7-1h0m5-13h0m11-2h0m26-2h0m6 3h0m3 8h0m5-10h0m29 17h0m1-8h0m4-6h0m25 0h0m-665 37h0m2-6h0m14-4h0m17 9h0m3 5h0m26-12h0m26 18h0m2-2h0m66-10h0m33-9h0m37 21h0m50-20h0m10 10h0m14 15h0m4-20h0m15-5h0m28 23h0m1-2h0m14-6h0m24 3h0m5-1h0m11-9h0m11 10h0m7-1h0m17 9h0m11-11h0m20 8h0m11-2h0m18-2h0m19 4h0m2 3h0m10-4h0m43 1h0m17-15h0m9-6h0m24 2h0m8-5h0m9 3h0m-629 36h0m17 0h0m4 12h0m11-20h0m3 7h0m17 2h0m35-4h0m18-2h0m5 8h0m1 8h0m53-11h0m10 12h0m16-1h0m29 8h0m5-29h0m3 5h0m45 3h0m15 11h0m65 2h0m28 1h0m36-2h0m33 7h0m4-21h0m10 8h0m9 7h0m2 4h0m16-17h0m9 2h0m6 9h0m8-1h0m4-17h0m33 10h0m-466 29h0m7 17h0m0-5h0m27-15h0m2-3h0m9 17h0m0-2h0m17 0h0m48 5h0m8-21h0m8 16h0m15-5h0m4-1h0m21-8h0m1-1h0m0-3h0m6 19h0m3 0h0m4-4h0m33-12h0m28 17h0m0 8h0m37-19h0m37 12h0m9-2h0m1-9h0m29-3h0m10 9h0m2 11h0m8 0h0m19-17h0m3 12h0m10-19h0m1 19h0m30 1h0m2-8h0m2-15h0m14 14h0m-440 29h0m38 8h0m19-4h0m28-4h0m10 15h0m8-7h0m11 1h0m4-1h0m4-6h0m4-14h0m2-2h0m29 9h0m11 14h0m4-20h0m4-1h0m23 26h0m14-8h0m6 0h0m19-9h0m5-1h0m1 1h0m13-10h0m5 12h0m13-1h0m7 0h0m6 16h0m0-5h0m32-22h0m7 4h0m5 5h0m3 2h0m8 15h0m6-13h0m8 15h0m6-22h0m3 20h0m11-10h0m1-10h0m27-7h0m1 0h0m-347 38h0m2-1h0m83 13h0m35-14h0m13 23h0m3-20h0m18 0h0m10 2h0m0-10h0m7 1h0m2-2h0m23 26h0m5-26h0m1 24h0m12-2h0m20-19h0m11 9h0m6-5h0m-102 24h0" stroke="#2a4cc0" stroke-width="10.5" stroke-linecap="round" fill="none" opacity="0.9"/>
</g>
<rect x="308.8" y="5.6" width="237.1" height="191.2" fill="none" stroke="#969696" stroke-width="0.6"/>
<text x="336.2" y="204.8" font-size="5.3" text-anchor="middle" >-1000</text>
<text x="381.8" y="204.8" font-size="5.3" text-anchor="middle" >-500</text>
<text x="427.4" y="204.8" font-size="5.3" text-anchor="middle" >0</text>
<text x="473" y="204.8" font-size="5.3" text-anchor="middle" >500</text>
<text x="518.6" y="204.8" font-size="5.3" text-anchor="middle" >1000</text>
<text x="306.7" y="198.7" font-size="5.3" text-anchor="end" >-600</text>
<text x="306.7" y="180.7" font-size="5.3" text-anchor="end" >-400</text>
<text x="306.7" y="162.6" font-size="5.3" text-anchor="end" >-200</text>
<text x="306.7" y="144.5" font-size="5.3" text-anchor="end" >0</text>
<text x="306.7" y="126.4" font-size="5.3" text-anchor="end" >200</text>
<text x="306.7" y="108.3" font-size="5.3" text-anchor="end" >400</text>
<text x="306.7" y="90.3" font-size="5.3" text-anchor="end" >600</text>
<text x="306.7" y="72.2" font-size="5.3" text-anchor="end" >800</text>
<text x="306.7" y="54.1" font-size="5.3" text-anchor="end" >1000</text>
<text x="306.7" y="36" font-size="5.3" text-anchor="end" >1200</text>
<text x="306.7" y="17.9" font-size="5.3" text-anchor="end" >1400</text>
<path d="M336.2 196.8v-2M336.2 5.6v2M381.8 196.8v-2M381.8 5.6v2M427.4 196.8v-2M427.4 5.6v2M473 196.8v-2M473 5.6v2M518.6 196.8v-2M518.6 5.6v2M308.8 196.6h2M545.9 196.6h-2M308.8 178.6h2M545.9 178.6h-2M308.8 160.5h2M545.9 160.5h-2M308.8 142.4h2M545.9 142.4h-2M308.8 124.3h2M545.9 124.3h-2M308.8 106.2h2M545.9 106.2h-2M308.8 88.2h2M545.9 88.2h-2M308.8 70.1h2M545.9 70.1h-2M308.8 52h2M545.9 52h-2M308.8 33.9h2M545.9 33.9h-2M308.8 15.8h2M545.9 15.8h-2" stroke="#969696" stroke-width="0.5" fill="none"/>
<text x="427.4" y="213.4" font-size="6.3" text-anchor="middle" >X-Axis (mm)</text>
<text x="292.3" y="101.2" font-size="6.3" text-anchor="middle" transform="rotate(-90 292.3 101.2)">Z-Axis (mm)</text>
<rect x="499.6" y="8.7" width="43.3" height="14.7" fill="#fff" stroke="#8a8a8a" stroke-width="0.4"/>
<circle cx="506.9" cy="13.3" r="0.7" fill="#6078c8"/><circle cx="506.9" cy="20" r="0.7" fill="#f5d840"/>
<text x="514.5" y="15.2" font-size="5.2" text-anchor="start" >Hybrid</text>
<text x="514.5" y="21.9" font-size="5.2" text-anchor="start" >KUKA KR6</text>
</svg></body></html>
